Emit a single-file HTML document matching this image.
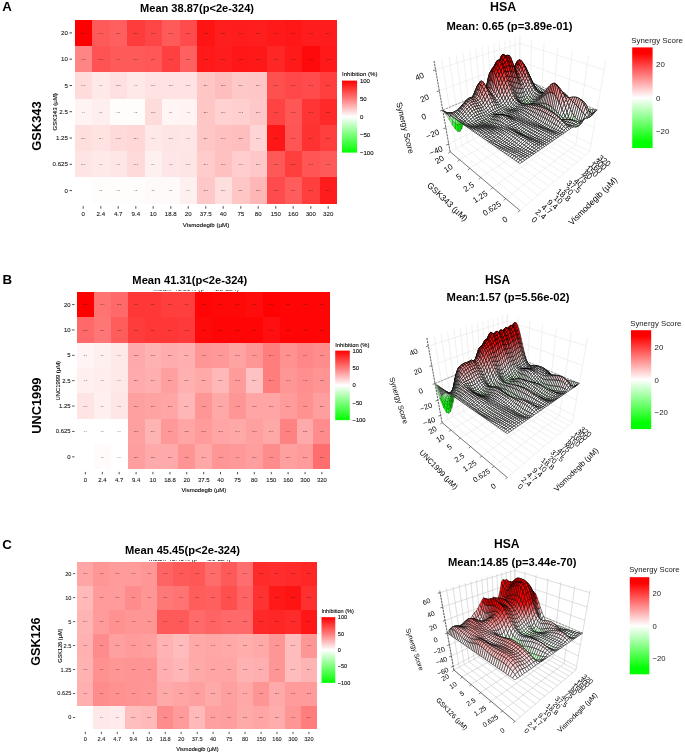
<!DOCTYPE html>
<html><head><meta charset="utf-8"><title>Figure</title>
<style>html,body{margin:0;padding:0;background:#fff}svg{display:block}</style></head>
<body>
<svg width="685" height="755" viewBox="0 0 685 755" font-family="'Liberation Sans',Arial,sans-serif">
<defs>
<linearGradient id="gI" x1="0" y1="0" x2="0" y2="1"><stop offset="0" stop-color="#f00"/><stop offset=".25" stop-color="#ff7a7a"/><stop offset=".5" stop-color="#fff"/><stop offset=".75" stop-color="#7aff7a"/><stop offset="1" stop-color="#0f0"/></linearGradient>
<linearGradient id="gS" x1="0" y1="0" x2="0" y2="1"><stop offset="0" stop-color="#f00"/><stop offset=".06" stop-color="#f00"/><stop offset=".5" stop-color="#fff"/><stop offset=".94" stop-color="#0f0"/><stop offset="1" stop-color="#0f0"/></linearGradient>
</defs>
<rect width="685" height="755" fill="#fff"/>
<text x="2.2" y="10.9" font-size="13.3" font-weight="bold" fill="#000">A</text>
<text x="2.4" y="284.0" font-size="13.3" font-weight="bold" fill="#000">B</text>
<text x="2.2" y="549.0" font-size="13.3" font-weight="bold" fill="#000">C</text>
<g><text x="196" y="291.2" font-size="6.7" text-anchor="middle" fill="#000">Mean: 41.31% (p = &lt;2e-324)</text><rect x="126" y="281.6" width="140" height="8.6" fill="#fff"/></g>
<g><text x="189.5" y="561.0" font-size="6.4" text-anchor="middle" fill="#000">Mean: 45.45% (p = &lt;2e-324)</text><rect x="119.5" y="551.4" width="140" height="8.6" fill="#fff"/></g>
<g transform="translate(206.00 111.75) scale(1) translate(-206 -111.75)">
<g shape-rendering="crispEdges">
<rect x="74.50" y="19.80" width="17.80" height="26.57" fill="#ff0000"/>
<rect x="92.00" y="19.80" width="17.80" height="26.57" fill="#ff5a5a"/>
<rect x="109.50" y="19.80" width="17.80" height="26.57" fill="#ff5f5f"/>
<rect x="127.00" y="19.80" width="17.80" height="26.57" fill="#ff3c3c"/>
<rect x="144.50" y="19.80" width="17.80" height="26.57" fill="#ff4646"/>
<rect x="162.00" y="19.80" width="17.80" height="26.57" fill="#ff5a5a"/>
<rect x="179.50" y="19.80" width="17.80" height="26.57" fill="#ff4b4b"/>
<rect x="197.00" y="19.80" width="17.80" height="26.57" fill="#ff1414"/>
<rect x="214.50" y="19.80" width="17.80" height="26.57" fill="#ff1e1e"/>
<rect x="232.00" y="19.80" width="17.80" height="26.57" fill="#ff1c1c"/>
<rect x="249.50" y="19.80" width="17.80" height="26.57" fill="#ff1e1e"/>
<rect x="267.00" y="19.80" width="17.80" height="26.57" fill="#ff1919"/>
<rect x="284.50" y="19.80" width="17.80" height="26.57" fill="#ff1616"/>
<rect x="302.00" y="19.80" width="17.80" height="26.57" fill="#ff1c1c"/>
<rect x="319.50" y="19.80" width="17.50" height="26.57" fill="#ff1c1c"/>
<rect x="74.50" y="46.07" width="17.80" height="26.57" fill="#ff8484"/>
<rect x="92.00" y="46.07" width="17.80" height="26.57" fill="#ff5252"/>
<rect x="109.50" y="46.07" width="17.80" height="26.57" fill="#ff5a5a"/>
<rect x="127.00" y="46.07" width="17.80" height="26.57" fill="#ff5a5a"/>
<rect x="144.50" y="46.07" width="17.80" height="26.57" fill="#ff5757"/>
<rect x="162.00" y="46.07" width="17.80" height="26.57" fill="#ff4040"/>
<rect x="179.50" y="46.07" width="17.80" height="26.57" fill="#ff6161"/>
<rect x="197.00" y="46.07" width="17.80" height="26.57" fill="#ff1919"/>
<rect x="214.50" y="46.07" width="17.80" height="26.57" fill="#ff1c1c"/>
<rect x="232.00" y="46.07" width="17.80" height="26.57" fill="#ff1616"/>
<rect x="249.50" y="46.07" width="17.80" height="26.57" fill="#ff1818"/>
<rect x="267.00" y="46.07" width="17.80" height="26.57" fill="#ff2626"/>
<rect x="284.50" y="46.07" width="17.80" height="26.57" fill="#ff1919"/>
<rect x="302.00" y="46.07" width="17.80" height="26.57" fill="#ff0a0a"/>
<rect x="319.50" y="46.07" width="17.50" height="26.57" fill="#ff1919"/>
<rect x="74.50" y="72.34" width="17.80" height="26.57" fill="#ffdbdb"/>
<rect x="92.00" y="72.34" width="17.80" height="26.57" fill="#ffe8e8"/>
<rect x="109.50" y="72.34" width="17.80" height="26.57" fill="#ffe0e0"/>
<rect x="127.00" y="72.34" width="17.80" height="26.57" fill="#ffe8e8"/>
<rect x="144.50" y="72.34" width="17.80" height="26.57" fill="#ffe3e3"/>
<rect x="162.00" y="72.34" width="17.80" height="26.57" fill="#ffe3e3"/>
<rect x="179.50" y="72.34" width="17.80" height="26.57" fill="#ffe3e3"/>
<rect x="197.00" y="72.34" width="17.80" height="26.57" fill="#ffc6c6"/>
<rect x="214.50" y="72.34" width="17.80" height="26.57" fill="#ffbebe"/>
<rect x="232.00" y="72.34" width="17.80" height="26.57" fill="#ffc8c8"/>
<rect x="249.50" y="72.34" width="17.80" height="26.57" fill="#ffc6c6"/>
<rect x="267.00" y="72.34" width="17.80" height="26.57" fill="#ff5050"/>
<rect x="284.50" y="72.34" width="17.80" height="26.57" fill="#ff4848"/>
<rect x="302.00" y="72.34" width="17.80" height="26.57" fill="#ff4b4b"/>
<rect x="319.50" y="72.34" width="17.50" height="26.57" fill="#ff3e3e"/>
<rect x="74.50" y="98.61" width="17.80" height="26.57" fill="#fff3f3"/>
<rect x="92.00" y="98.61" width="17.80" height="26.57" fill="#ffeeee"/>
<rect x="109.50" y="98.61" width="17.80" height="26.57" fill="#fffcfc"/>
<rect x="127.00" y="98.61" width="17.80" height="26.57" fill="#fffcfc"/>
<rect x="144.50" y="98.61" width="17.80" height="26.57" fill="#ffdcdc"/>
<rect x="162.00" y="98.61" width="17.80" height="26.57" fill="#fff5f5"/>
<rect x="179.50" y="98.61" width="17.80" height="26.57" fill="#fff3f3"/>
<rect x="197.00" y="98.61" width="17.80" height="26.57" fill="#ffc6c6"/>
<rect x="214.50" y="98.61" width="17.80" height="26.57" fill="#ffd1d1"/>
<rect x="232.00" y="98.61" width="17.80" height="26.57" fill="#ffcece"/>
<rect x="249.50" y="98.61" width="17.80" height="26.57" fill="#ffc8c8"/>
<rect x="267.00" y="98.61" width="17.80" height="26.57" fill="#ff4242"/>
<rect x="284.50" y="98.61" width="17.80" height="26.57" fill="#ff5656"/>
<rect x="302.00" y="98.61" width="17.80" height="26.57" fill="#ff3434"/>
<rect x="319.50" y="98.61" width="17.50" height="26.57" fill="#ff2929"/>
<rect x="74.50" y="124.88" width="17.80" height="26.57" fill="#ffdede"/>
<rect x="92.00" y="124.88" width="17.80" height="26.57" fill="#ffe2e2"/>
<rect x="109.50" y="124.88" width="17.80" height="26.57" fill="#ffdada"/>
<rect x="127.00" y="124.88" width="17.80" height="26.57" fill="#ffd7d7"/>
<rect x="144.50" y="124.88" width="17.80" height="26.57" fill="#ffe8e8"/>
<rect x="162.00" y="124.88" width="17.80" height="26.57" fill="#ffe4e4"/>
<rect x="179.50" y="124.88" width="17.80" height="26.57" fill="#ffe6e6"/>
<rect x="197.00" y="124.88" width="17.80" height="26.57" fill="#ffc6c6"/>
<rect x="214.50" y="124.88" width="17.80" height="26.57" fill="#ffc0c0"/>
<rect x="232.00" y="124.88" width="17.80" height="26.57" fill="#ffbebe"/>
<rect x="249.50" y="124.88" width="17.80" height="26.57" fill="#ffd4d4"/>
<rect x="267.00" y="124.88" width="17.80" height="26.57" fill="#ff1616"/>
<rect x="284.50" y="124.88" width="17.80" height="26.57" fill="#ff5555"/>
<rect x="302.00" y="124.88" width="17.80" height="26.57" fill="#ff3232"/>
<rect x="319.50" y="124.88" width="17.50" height="26.57" fill="#ff3e3e"/>
<rect x="74.50" y="151.15" width="17.80" height="26.57" fill="#ffe4e4"/>
<rect x="92.00" y="151.15" width="17.80" height="26.57" fill="#ffe8e8"/>
<rect x="109.50" y="151.15" width="17.80" height="26.57" fill="#ffe6e6"/>
<rect x="127.00" y="151.15" width="17.80" height="26.57" fill="#ffdada"/>
<rect x="144.50" y="151.15" width="17.80" height="26.57" fill="#fff0f0"/>
<rect x="162.00" y="151.15" width="17.80" height="26.57" fill="#ffe6e6"/>
<rect x="179.50" y="151.15" width="17.80" height="26.57" fill="#ffe4e4"/>
<rect x="197.00" y="151.15" width="17.80" height="26.57" fill="#ffcbcb"/>
<rect x="214.50" y="151.15" width="17.80" height="26.57" fill="#ffc0c0"/>
<rect x="232.00" y="151.15" width="17.80" height="26.57" fill="#ffcdcd"/>
<rect x="249.50" y="151.15" width="17.80" height="26.57" fill="#ffc8c8"/>
<rect x="267.00" y="151.15" width="17.80" height="26.57" fill="#ff5858"/>
<rect x="284.50" y="151.15" width="17.80" height="26.57" fill="#ff3e3e"/>
<rect x="302.00" y="151.15" width="17.80" height="26.57" fill="#ff5555"/>
<rect x="319.50" y="151.15" width="17.50" height="26.57" fill="#ff5a5a"/>
<rect x="74.50" y="177.42" width="17.80" height="26.27" fill="#ffffff"/>
<rect x="92.00" y="177.42" width="17.80" height="26.27" fill="#fffcfc"/>
<rect x="109.50" y="177.42" width="17.80" height="26.27" fill="#fffcfc"/>
<rect x="127.00" y="177.42" width="17.80" height="26.27" fill="#fffcfc"/>
<rect x="144.50" y="177.42" width="17.80" height="26.27" fill="#fffafa"/>
<rect x="162.00" y="177.42" width="17.80" height="26.27" fill="#fffafa"/>
<rect x="179.50" y="177.42" width="17.80" height="26.27" fill="#fff0f0"/>
<rect x="197.00" y="177.42" width="17.80" height="26.27" fill="#ffc8c8"/>
<rect x="214.50" y="177.42" width="17.80" height="26.27" fill="#ffdede"/>
<rect x="232.00" y="177.42" width="17.80" height="26.27" fill="#ffc6c6"/>
<rect x="249.50" y="177.42" width="17.80" height="26.27" fill="#ffb6b6"/>
<rect x="267.00" y="177.42" width="17.80" height="26.27" fill="#ff4b4b"/>
<rect x="284.50" y="177.42" width="17.80" height="26.27" fill="#ff5c5c"/>
<rect x="302.00" y="177.42" width="17.80" height="26.27" fill="#ff3e3e"/>
<rect x="319.50" y="177.42" width="17.50" height="26.27" fill="#ff1c1c"/>
</g>
<g font-size="2.3" text-anchor="middle" fill="#222" fill-opacity=".8">
<text x="83.2" y="33.7">100.0</text>
<text x="100.8" y="33.7">64.7</text>
<text x="118.2" y="33.7">62.7</text>
<text x="135.8" y="33.7">76.5</text>
<text x="153.2" y="33.7">72.5</text>
<text x="170.8" y="33.7">64.7</text>
<text x="188.2" y="33.7">70.6</text>
<text x="205.8" y="33.7">92.2</text>
<text x="223.2" y="33.7">88.2</text>
<text x="240.8" y="33.7">89.0</text>
<text x="258.2" y="33.7">88.2</text>
<text x="275.8" y="33.7">90.2</text>
<text x="293.2" y="33.7">91.4</text>
<text x="310.8" y="33.7">89.0</text>
<text x="328.2" y="33.7">89.0</text>
<text x="83.2" y="60.0">48.2</text>
<text x="100.8" y="60.0">67.8</text>
<text x="118.2" y="60.0">64.7</text>
<text x="135.8" y="60.0">64.7</text>
<text x="153.2" y="60.0">65.9</text>
<text x="170.8" y="60.0">74.9</text>
<text x="188.2" y="60.0">62.0</text>
<text x="205.8" y="60.0">90.2</text>
<text x="223.2" y="60.0">89.0</text>
<text x="240.8" y="60.0">91.4</text>
<text x="258.2" y="60.0">90.6</text>
<text x="275.8" y="60.0">85.1</text>
<text x="293.2" y="60.0">90.2</text>
<text x="310.8" y="60.0">96.1</text>
<text x="328.2" y="60.0">90.2</text>
<text x="83.2" y="86.3">14.1</text>
<text x="100.8" y="86.3">9.0</text>
<text x="118.2" y="86.3">12.2</text>
<text x="135.8" y="86.3">9.0</text>
<text x="153.2" y="86.3">11.0</text>
<text x="170.8" y="86.3">11.0</text>
<text x="188.2" y="86.3">11.0</text>
<text x="205.8" y="86.3">22.4</text>
<text x="223.2" y="86.3">25.5</text>
<text x="240.8" y="86.3">21.6</text>
<text x="258.2" y="86.3">22.4</text>
<text x="275.8" y="86.3">68.6</text>
<text x="293.2" y="86.3">71.8</text>
<text x="310.8" y="86.3">70.6</text>
<text x="328.2" y="86.3">75.7</text>
<text x="83.2" y="112.5">4.7</text>
<text x="100.8" y="112.5">6.7</text>
<text x="118.2" y="112.5">1.2</text>
<text x="135.8" y="112.5">1.2</text>
<text x="153.2" y="112.5">13.7</text>
<text x="170.8" y="112.5">3.9</text>
<text x="188.2" y="112.5">4.7</text>
<text x="205.8" y="112.5">22.4</text>
<text x="223.2" y="112.5">18.0</text>
<text x="240.8" y="112.5">19.2</text>
<text x="258.2" y="112.5">21.6</text>
<text x="275.8" y="112.5">74.1</text>
<text x="293.2" y="112.5">66.3</text>
<text x="310.8" y="112.5">79.6</text>
<text x="328.2" y="112.5">83.9</text>
<text x="83.2" y="138.8">12.9</text>
<text x="100.8" y="138.8">11.4</text>
<text x="118.2" y="138.8">14.5</text>
<text x="135.8" y="138.8">15.7</text>
<text x="153.2" y="138.8">9.0</text>
<text x="170.8" y="138.8">10.6</text>
<text x="188.2" y="138.8">9.8</text>
<text x="205.8" y="138.8">22.4</text>
<text x="223.2" y="138.8">24.7</text>
<text x="240.8" y="138.8">25.5</text>
<text x="258.2" y="138.8">16.9</text>
<text x="275.8" y="138.8">91.4</text>
<text x="293.2" y="138.8">66.7</text>
<text x="310.8" y="138.8">80.4</text>
<text x="328.2" y="138.8">75.7</text>
<text x="83.2" y="165.1">10.6</text>
<text x="100.8" y="165.1">9.0</text>
<text x="118.2" y="165.1">9.8</text>
<text x="135.8" y="165.1">14.5</text>
<text x="153.2" y="165.1">5.9</text>
<text x="170.8" y="165.1">9.8</text>
<text x="188.2" y="165.1">10.6</text>
<text x="205.8" y="165.1">20.4</text>
<text x="223.2" y="165.1">24.7</text>
<text x="240.8" y="165.1">19.6</text>
<text x="258.2" y="165.1">21.6</text>
<text x="275.8" y="165.1">65.5</text>
<text x="293.2" y="165.1">75.7</text>
<text x="310.8" y="165.1">66.7</text>
<text x="328.2" y="165.1">64.7</text>
<text x="100.8" y="191.4">1.2</text>
<text x="118.2" y="191.4">1.2</text>
<text x="135.8" y="191.4">1.2</text>
<text x="153.2" y="191.4">2.0</text>
<text x="170.8" y="191.4">2.0</text>
<text x="188.2" y="191.4">5.9</text>
<text x="205.8" y="191.4">21.6</text>
<text x="223.2" y="191.4">12.9</text>
<text x="240.8" y="191.4">22.4</text>
<text x="258.2" y="191.4">28.6</text>
<text x="275.8" y="191.4">70.6</text>
<text x="293.2" y="191.4">63.9</text>
<text x="310.8" y="191.4">75.7</text>
<text x="328.2" y="191.4">89.0</text>
</g>
<g font-size="6.15" fill="#1a1a1a" stroke="#1a1a1a" stroke-width=".1">
<text x="67.9" y="35.1" text-anchor="end">20</text>
<path d="M69.5 32.9H72" stroke="#111" stroke-width=".75"/>
<text x="67.9" y="61.4" text-anchor="end">10</text>
<path d="M69.5 59.2H72" stroke="#111" stroke-width=".75"/>
<text x="67.9" y="87.6" text-anchor="end">5</text>
<path d="M69.5 85.5H72" stroke="#111" stroke-width=".75"/>
<text x="67.9" y="113.9" text-anchor="end">2.5</text>
<path d="M69.5 111.7H72" stroke="#111" stroke-width=".75"/>
<text x="67.9" y="140.2" text-anchor="end">1.25</text>
<path d="M69.5 138.0H72" stroke="#111" stroke-width=".75"/>
<text x="67.9" y="166.4" text-anchor="end">0.625</text>
<path d="M69.5 164.3H72" stroke="#111" stroke-width=".75"/>
<text x="67.9" y="192.7" text-anchor="end">0</text>
<path d="M69.5 190.6H72" stroke="#111" stroke-width=".75"/>
<text x="83.2" y="216.3" text-anchor="middle">0</text>
<path d="M83.2 206.2V208.7" stroke="#111" stroke-width=".75"/>
<text x="100.8" y="216.3" text-anchor="middle">2.4</text>
<path d="M100.8 206.2V208.7" stroke="#111" stroke-width=".75"/>
<text x="118.2" y="216.3" text-anchor="middle">4.7</text>
<path d="M118.2 206.2V208.7" stroke="#111" stroke-width=".75"/>
<text x="135.8" y="216.3" text-anchor="middle">9.4</text>
<path d="M135.8 206.2V208.7" stroke="#111" stroke-width=".75"/>
<text x="153.2" y="216.3" text-anchor="middle">10</text>
<path d="M153.2 206.2V208.7" stroke="#111" stroke-width=".75"/>
<text x="170.8" y="216.3" text-anchor="middle">18.8</text>
<path d="M170.8 206.2V208.7" stroke="#111" stroke-width=".75"/>
<text x="188.2" y="216.3" text-anchor="middle">20</text>
<path d="M188.2 206.2V208.7" stroke="#111" stroke-width=".75"/>
<text x="205.8" y="216.3" text-anchor="middle">37.5</text>
<path d="M205.8 206.2V208.7" stroke="#111" stroke-width=".75"/>
<text x="223.2" y="216.3" text-anchor="middle">40</text>
<path d="M223.2 206.2V208.7" stroke="#111" stroke-width=".75"/>
<text x="240.8" y="216.3" text-anchor="middle">75</text>
<path d="M240.8 206.2V208.7" stroke="#111" stroke-width=".75"/>
<text x="258.2" y="216.3" text-anchor="middle">80</text>
<path d="M258.2 206.2V208.7" stroke="#111" stroke-width=".75"/>
<text x="275.8" y="216.3" text-anchor="middle">150</text>
<path d="M275.8 206.2V208.7" stroke="#111" stroke-width=".75"/>
<text x="293.2" y="216.3" text-anchor="middle">160</text>
<path d="M293.2 206.2V208.7" stroke="#111" stroke-width=".75"/>
<text x="310.8" y="216.3" text-anchor="middle">300</text>
<path d="M310.8 206.2V208.7" stroke="#111" stroke-width=".75"/>
<text x="328.2" y="216.3" text-anchor="middle">320</text>
<path d="M328.2 206.2V208.7" stroke="#111" stroke-width=".75"/>
</g>
<text x="206.0" y="227.3" font-size="6.15" text-anchor="middle" fill="#000" stroke="#000" stroke-width=".1">Vismodegib (µM)</text>
<text x="57.4" y="111.8" font-size="6.1" text-anchor="middle" fill="#000" transform="rotate(-90 57.4 111.8)" stroke="#000" stroke-width=".1">GSK343 (µM)</text>
<text x="342.0" y="76.4" font-size="6.1" fill="#000" stroke="#000" stroke-width=".1">Inhibition (%)</text>
<rect x="342" y="80.6" width="15.1" height="72" fill="url(#gI)"/>
<text x="359.9" y="82.8" font-size="6.05" fill="#000" stroke="#000" stroke-width=".1">100</text>
<text x="359.9" y="100.8" font-size="6.05" fill="#000" stroke="#000" stroke-width=".1">50</text>
<text x="359.9" y="118.8" font-size="6.05" fill="#000" stroke="#000" stroke-width=".1">0</text>
<text x="359.9" y="136.8" font-size="6.05" fill="#000" stroke="#000" stroke-width=".1">−50</text>
<text x="359.9" y="154.8" font-size="6.05" fill="#000" stroke="#000" stroke-width=".1">−100</text>
</g>
<g transform="translate(203.90 380.70) scale(0.9655) translate(-206 -111.75)">
<g shape-rendering="crispEdges">
<rect x="74.50" y="19.80" width="17.80" height="26.57" fill="#ff0000"/>
<rect x="92.00" y="19.80" width="17.80" height="26.57" fill="#ff7373"/>
<rect x="109.50" y="19.80" width="17.80" height="26.57" fill="#ff6969"/>
<rect x="127.00" y="19.80" width="17.80" height="26.57" fill="#ff3737"/>
<rect x="144.50" y="19.80" width="17.80" height="26.57" fill="#ff3737"/>
<rect x="162.00" y="19.80" width="17.80" height="26.57" fill="#ff3e3e"/>
<rect x="179.50" y="19.80" width="17.80" height="26.57" fill="#ff3e3e"/>
<rect x="197.00" y="19.80" width="17.80" height="26.57" fill="#ff0505"/>
<rect x="214.50" y="19.80" width="17.80" height="26.57" fill="#ff0808"/>
<rect x="232.00" y="19.80" width="17.80" height="26.57" fill="#ff0808"/>
<rect x="249.50" y="19.80" width="17.80" height="26.57" fill="#ff0c0c"/>
<rect x="267.00" y="19.80" width="17.80" height="26.57" fill="#ff0303"/>
<rect x="284.50" y="19.80" width="17.80" height="26.57" fill="#ff0505"/>
<rect x="302.00" y="19.80" width="17.80" height="26.57" fill="#ff0505"/>
<rect x="319.50" y="19.80" width="17.50" height="26.57" fill="#ff0505"/>
<rect x="74.50" y="46.07" width="17.80" height="26.57" fill="#ff6969"/>
<rect x="92.00" y="46.07" width="17.80" height="26.57" fill="#ff7676"/>
<rect x="109.50" y="46.07" width="17.80" height="26.57" fill="#ff5c5c"/>
<rect x="127.00" y="46.07" width="17.80" height="26.57" fill="#ff3c3c"/>
<rect x="144.50" y="46.07" width="17.80" height="26.57" fill="#ff3737"/>
<rect x="162.00" y="46.07" width="17.80" height="26.57" fill="#ff3737"/>
<rect x="179.50" y="46.07" width="17.80" height="26.57" fill="#ff3a3a"/>
<rect x="197.00" y="46.07" width="17.80" height="26.57" fill="#ff0a0a"/>
<rect x="214.50" y="46.07" width="17.80" height="26.57" fill="#ff0505"/>
<rect x="232.00" y="46.07" width="17.80" height="26.57" fill="#ff0505"/>
<rect x="249.50" y="46.07" width="17.80" height="26.57" fill="#ff0505"/>
<rect x="267.00" y="46.07" width="17.80" height="26.57" fill="#ff0f0f"/>
<rect x="284.50" y="46.07" width="17.80" height="26.57" fill="#ff0505"/>
<rect x="302.00" y="46.07" width="17.80" height="26.57" fill="#ff0505"/>
<rect x="319.50" y="46.07" width="17.50" height="26.57" fill="#ff0505"/>
<rect x="74.50" y="72.34" width="17.80" height="26.57" fill="#fff5f5"/>
<rect x="92.00" y="72.34" width="17.80" height="26.57" fill="#fff0f0"/>
<rect x="109.50" y="72.34" width="17.80" height="26.57" fill="#ffe8e8"/>
<rect x="127.00" y="72.34" width="17.80" height="26.57" fill="#ffaaaa"/>
<rect x="144.50" y="72.34" width="17.80" height="26.57" fill="#ffb2b2"/>
<rect x="162.00" y="72.34" width="17.80" height="26.57" fill="#ffacac"/>
<rect x="179.50" y="72.34" width="17.80" height="26.57" fill="#ffafaf"/>
<rect x="197.00" y="72.34" width="17.80" height="26.57" fill="#ff9696"/>
<rect x="214.50" y="72.34" width="17.80" height="26.57" fill="#ff9898"/>
<rect x="232.00" y="72.34" width="17.80" height="26.57" fill="#ffa2a2"/>
<rect x="249.50" y="72.34" width="17.80" height="26.57" fill="#ff9696"/>
<rect x="267.00" y="72.34" width="17.80" height="26.57" fill="#ff7d7d"/>
<rect x="284.50" y="72.34" width="17.80" height="26.57" fill="#ff9191"/>
<rect x="302.00" y="72.34" width="17.80" height="26.57" fill="#ff8787"/>
<rect x="319.50" y="72.34" width="17.50" height="26.57" fill="#ff8c8c"/>
<rect x="74.50" y="98.61" width="17.80" height="26.57" fill="#ffefef"/>
<rect x="92.00" y="98.61" width="17.80" height="26.57" fill="#ffeded"/>
<rect x="109.50" y="98.61" width="17.80" height="26.57" fill="#ffe8e8"/>
<rect x="127.00" y="98.61" width="17.80" height="26.57" fill="#ffabab"/>
<rect x="144.50" y="98.61" width="17.80" height="26.57" fill="#ffafaf"/>
<rect x="162.00" y="98.61" width="17.80" height="26.57" fill="#ff9f9f"/>
<rect x="179.50" y="98.61" width="17.80" height="26.57" fill="#ffb0b0"/>
<rect x="197.00" y="98.61" width="17.80" height="26.57" fill="#ffa9a9"/>
<rect x="214.50" y="98.61" width="17.80" height="26.57" fill="#ffb8b8"/>
<rect x="232.00" y="98.61" width="17.80" height="26.57" fill="#ff9b9b"/>
<rect x="249.50" y="98.61" width="17.80" height="26.57" fill="#ffc2c2"/>
<rect x="267.00" y="98.61" width="17.80" height="26.57" fill="#ff7d7d"/>
<rect x="284.50" y="98.61" width="17.80" height="26.57" fill="#ff9696"/>
<rect x="302.00" y="98.61" width="17.80" height="26.57" fill="#ff8e8e"/>
<rect x="319.50" y="98.61" width="17.50" height="26.57" fill="#ff9494"/>
<rect x="74.50" y="124.88" width="17.80" height="26.57" fill="#ffe4e4"/>
<rect x="92.00" y="124.88" width="17.80" height="26.57" fill="#fff0f0"/>
<rect x="109.50" y="124.88" width="17.80" height="26.57" fill="#ffe6e6"/>
<rect x="127.00" y="124.88" width="17.80" height="26.57" fill="#ffa0a0"/>
<rect x="144.50" y="124.88" width="17.80" height="26.57" fill="#ffa2a2"/>
<rect x="162.00" y="124.88" width="17.80" height="26.57" fill="#ffa5a5"/>
<rect x="179.50" y="124.88" width="17.80" height="26.57" fill="#ffb6b6"/>
<rect x="197.00" y="124.88" width="17.80" height="26.57" fill="#ff9696"/>
<rect x="214.50" y="124.88" width="17.80" height="26.57" fill="#ffa8a8"/>
<rect x="232.00" y="124.88" width="17.80" height="26.57" fill="#ff9696"/>
<rect x="249.50" y="124.88" width="17.80" height="26.57" fill="#ffa5a5"/>
<rect x="267.00" y="124.88" width="17.80" height="26.57" fill="#ffa5a5"/>
<rect x="284.50" y="124.88" width="17.80" height="26.57" fill="#ff9b9b"/>
<rect x="302.00" y="124.88" width="17.80" height="26.57" fill="#ff9191"/>
<rect x="319.50" y="124.88" width="17.50" height="26.57" fill="#ff9e9e"/>
<rect x="74.50" y="151.15" width="17.80" height="26.57" fill="#ffffff"/>
<rect x="92.00" y="151.15" width="17.80" height="26.57" fill="#ffffff"/>
<rect x="109.50" y="151.15" width="17.80" height="26.57" fill="#ffffff"/>
<rect x="127.00" y="151.15" width="17.80" height="26.57" fill="#ffa0a0"/>
<rect x="144.50" y="151.15" width="17.80" height="26.57" fill="#ffb4b4"/>
<rect x="162.00" y="151.15" width="17.80" height="26.57" fill="#ff9898"/>
<rect x="179.50" y="151.15" width="17.80" height="26.57" fill="#ffa5a5"/>
<rect x="197.00" y="151.15" width="17.80" height="26.57" fill="#ff9b9b"/>
<rect x="214.50" y="151.15" width="17.80" height="26.57" fill="#ffa5a5"/>
<rect x="232.00" y="151.15" width="17.80" height="26.57" fill="#ffa8a8"/>
<rect x="249.50" y="151.15" width="17.80" height="26.57" fill="#ffa0a0"/>
<rect x="267.00" y="151.15" width="17.80" height="26.57" fill="#ffa8a8"/>
<rect x="284.50" y="151.15" width="17.80" height="26.57" fill="#ff8282"/>
<rect x="302.00" y="151.15" width="17.80" height="26.57" fill="#ffaaaa"/>
<rect x="319.50" y="151.15" width="17.50" height="26.57" fill="#ff8c8c"/>
<rect x="74.50" y="177.42" width="17.80" height="26.27" fill="#ffffff"/>
<rect x="92.00" y="177.42" width="17.80" height="26.27" fill="#fffbfb"/>
<rect x="109.50" y="177.42" width="17.80" height="26.27" fill="#ffffff"/>
<rect x="127.00" y="177.42" width="17.80" height="26.27" fill="#ff9e9e"/>
<rect x="144.50" y="177.42" width="17.80" height="26.27" fill="#ffaaaa"/>
<rect x="162.00" y="177.42" width="17.80" height="26.27" fill="#ffaaaa"/>
<rect x="179.50" y="177.42" width="17.80" height="26.27" fill="#ff9494"/>
<rect x="197.00" y="177.42" width="17.80" height="26.27" fill="#ffa8a8"/>
<rect x="214.50" y="177.42" width="17.80" height="26.27" fill="#ff9696"/>
<rect x="232.00" y="177.42" width="17.80" height="26.27" fill="#ff9898"/>
<rect x="249.50" y="177.42" width="17.80" height="26.27" fill="#ff9e9e"/>
<rect x="267.00" y="177.42" width="17.80" height="26.27" fill="#ff8c8c"/>
<rect x="284.50" y="177.42" width="17.80" height="26.27" fill="#ffa0a0"/>
<rect x="302.00" y="177.42" width="17.80" height="26.27" fill="#ff9b9b"/>
<rect x="319.50" y="177.42" width="17.50" height="26.27" fill="#ff6e6e"/>
</g>
<g font-size="2.3" text-anchor="middle" fill="#222" fill-opacity=".8">
<text x="83.2" y="33.7">100.0</text>
<text x="100.8" y="33.7">54.9</text>
<text x="118.2" y="33.7">58.8</text>
<text x="135.8" y="33.7">78.4</text>
<text x="153.2" y="33.7">78.4</text>
<text x="170.8" y="33.7">75.7</text>
<text x="188.2" y="33.7">75.7</text>
<text x="205.8" y="33.7">98.0</text>
<text x="223.2" y="33.7">96.9</text>
<text x="240.8" y="33.7">96.9</text>
<text x="258.2" y="33.7">95.3</text>
<text x="275.8" y="33.7">98.8</text>
<text x="293.2" y="33.7">98.0</text>
<text x="310.8" y="33.7">98.0</text>
<text x="328.2" y="33.7">98.0</text>
<text x="83.2" y="60.0">58.8</text>
<text x="100.8" y="60.0">53.7</text>
<text x="118.2" y="60.0">63.9</text>
<text x="135.8" y="60.0">76.5</text>
<text x="153.2" y="60.0">78.4</text>
<text x="170.8" y="60.0">78.4</text>
<text x="188.2" y="60.0">77.3</text>
<text x="205.8" y="60.0">96.1</text>
<text x="223.2" y="60.0">98.0</text>
<text x="240.8" y="60.0">98.0</text>
<text x="258.2" y="60.0">98.0</text>
<text x="275.8" y="60.0">94.1</text>
<text x="293.2" y="60.0">98.0</text>
<text x="310.8" y="60.0">98.0</text>
<text x="328.2" y="60.0">98.0</text>
<text x="83.2" y="86.3">3.9</text>
<text x="100.8" y="86.3">5.9</text>
<text x="118.2" y="86.3">9.0</text>
<text x="135.8" y="86.3">33.3</text>
<text x="153.2" y="86.3">30.2</text>
<text x="170.8" y="86.3">32.5</text>
<text x="188.2" y="86.3">31.4</text>
<text x="205.8" y="86.3">41.2</text>
<text x="223.2" y="86.3">40.4</text>
<text x="240.8" y="86.3">36.5</text>
<text x="258.2" y="86.3">41.2</text>
<text x="275.8" y="86.3">51.0</text>
<text x="293.2" y="86.3">43.1</text>
<text x="310.8" y="86.3">47.1</text>
<text x="328.2" y="86.3">45.1</text>
<text x="83.2" y="112.5">6.3</text>
<text x="100.8" y="112.5">7.1</text>
<text x="118.2" y="112.5">9.0</text>
<text x="135.8" y="112.5">32.9</text>
<text x="153.2" y="112.5">31.4</text>
<text x="170.8" y="112.5">37.6</text>
<text x="188.2" y="112.5">31.0</text>
<text x="205.8" y="112.5">33.7</text>
<text x="223.2" y="112.5">27.8</text>
<text x="240.8" y="112.5">39.2</text>
<text x="258.2" y="112.5">23.9</text>
<text x="275.8" y="112.5">51.0</text>
<text x="293.2" y="112.5">41.2</text>
<text x="310.8" y="112.5">44.3</text>
<text x="328.2" y="112.5">42.0</text>
<text x="83.2" y="138.8">10.6</text>
<text x="100.8" y="138.8">5.9</text>
<text x="118.2" y="138.8">9.8</text>
<text x="135.8" y="138.8">37.3</text>
<text x="153.2" y="138.8">36.5</text>
<text x="170.8" y="138.8">35.3</text>
<text x="188.2" y="138.8">28.6</text>
<text x="205.8" y="138.8">41.2</text>
<text x="223.2" y="138.8">34.1</text>
<text x="240.8" y="138.8">41.2</text>
<text x="258.2" y="138.8">35.3</text>
<text x="275.8" y="138.8">35.3</text>
<text x="293.2" y="138.8">39.2</text>
<text x="310.8" y="138.8">43.1</text>
<text x="328.2" y="138.8">38.0</text>
<text x="83.2" y="165.1">0.0</text>
<text x="100.8" y="165.1">0.0</text>
<text x="118.2" y="165.1">0.0</text>
<text x="135.8" y="165.1">37.3</text>
<text x="153.2" y="165.1">29.4</text>
<text x="170.8" y="165.1">40.4</text>
<text x="188.2" y="165.1">35.3</text>
<text x="205.8" y="165.1">39.2</text>
<text x="223.2" y="165.1">35.3</text>
<text x="240.8" y="165.1">34.1</text>
<text x="258.2" y="165.1">37.3</text>
<text x="275.8" y="165.1">34.1</text>
<text x="293.2" y="165.1">49.0</text>
<text x="310.8" y="165.1">33.3</text>
<text x="328.2" y="165.1">45.1</text>
<text x="100.8" y="191.4">1.6</text>
<text x="118.2" y="191.4">0.0</text>
<text x="135.8" y="191.4">38.0</text>
<text x="153.2" y="191.4">33.3</text>
<text x="170.8" y="191.4">33.3</text>
<text x="188.2" y="191.4">42.0</text>
<text x="205.8" y="191.4">34.1</text>
<text x="223.2" y="191.4">41.2</text>
<text x="240.8" y="191.4">40.4</text>
<text x="258.2" y="191.4">38.0</text>
<text x="275.8" y="191.4">45.1</text>
<text x="293.2" y="191.4">37.3</text>
<text x="310.8" y="191.4">39.2</text>
<text x="328.2" y="191.4">56.9</text>
</g>
<g font-size="6.15" fill="#1a1a1a" stroke="#1a1a1a" stroke-width=".1">
<text x="67.9" y="35.1" text-anchor="end">20</text>
<path d="M69.5 32.9H72" stroke="#111" stroke-width=".75"/>
<text x="67.9" y="61.4" text-anchor="end">10</text>
<path d="M69.5 59.2H72" stroke="#111" stroke-width=".75"/>
<text x="67.9" y="87.6" text-anchor="end">5</text>
<path d="M69.5 85.5H72" stroke="#111" stroke-width=".75"/>
<text x="67.9" y="113.9" text-anchor="end">2.5</text>
<path d="M69.5 111.7H72" stroke="#111" stroke-width=".75"/>
<text x="67.9" y="140.2" text-anchor="end">1.25</text>
<path d="M69.5 138.0H72" stroke="#111" stroke-width=".75"/>
<text x="67.9" y="166.4" text-anchor="end">0.625</text>
<path d="M69.5 164.3H72" stroke="#111" stroke-width=".75"/>
<text x="67.9" y="192.7" text-anchor="end">0</text>
<path d="M69.5 190.6H72" stroke="#111" stroke-width=".75"/>
<text x="83.2" y="216.3" text-anchor="middle">0</text>
<path d="M83.2 206.2V208.7" stroke="#111" stroke-width=".75"/>
<text x="100.8" y="216.3" text-anchor="middle">2.4</text>
<path d="M100.8 206.2V208.7" stroke="#111" stroke-width=".75"/>
<text x="118.2" y="216.3" text-anchor="middle">4.7</text>
<path d="M118.2 206.2V208.7" stroke="#111" stroke-width=".75"/>
<text x="135.8" y="216.3" text-anchor="middle">9.4</text>
<path d="M135.8 206.2V208.7" stroke="#111" stroke-width=".75"/>
<text x="153.2" y="216.3" text-anchor="middle">10</text>
<path d="M153.2 206.2V208.7" stroke="#111" stroke-width=".75"/>
<text x="170.8" y="216.3" text-anchor="middle">18.8</text>
<path d="M170.8 206.2V208.7" stroke="#111" stroke-width=".75"/>
<text x="188.2" y="216.3" text-anchor="middle">20</text>
<path d="M188.2 206.2V208.7" stroke="#111" stroke-width=".75"/>
<text x="205.8" y="216.3" text-anchor="middle">37.5</text>
<path d="M205.8 206.2V208.7" stroke="#111" stroke-width=".75"/>
<text x="223.2" y="216.3" text-anchor="middle">40</text>
<path d="M223.2 206.2V208.7" stroke="#111" stroke-width=".75"/>
<text x="240.8" y="216.3" text-anchor="middle">75</text>
<path d="M240.8 206.2V208.7" stroke="#111" stroke-width=".75"/>
<text x="258.2" y="216.3" text-anchor="middle">80</text>
<path d="M258.2 206.2V208.7" stroke="#111" stroke-width=".75"/>
<text x="275.8" y="216.3" text-anchor="middle">150</text>
<path d="M275.8 206.2V208.7" stroke="#111" stroke-width=".75"/>
<text x="293.2" y="216.3" text-anchor="middle">160</text>
<path d="M293.2 206.2V208.7" stroke="#111" stroke-width=".75"/>
<text x="310.8" y="216.3" text-anchor="middle">300</text>
<path d="M310.8 206.2V208.7" stroke="#111" stroke-width=".75"/>
<text x="328.2" y="216.3" text-anchor="middle">320</text>
<path d="M328.2 206.2V208.7" stroke="#111" stroke-width=".75"/>
</g>
<text x="206.0" y="227.3" font-size="6.15" text-anchor="middle" fill="#000" stroke="#000" stroke-width=".1">Vismodegib (µM)</text>
<text x="57.4" y="111.8" font-size="6.1" text-anchor="middle" fill="#000" transform="rotate(-90 57.4 111.8)" stroke="#000" stroke-width=".1">UNC1999 (µM)</text>
<text x="342.0" y="76.4" font-size="6.1" fill="#000" stroke="#000" stroke-width=".1">Inhibition (%)</text>
<rect x="342" y="80.6" width="15.1" height="72" fill="url(#gI)"/>
<text x="359.9" y="82.8" font-size="6.05" fill="#000" stroke="#000" stroke-width=".1">100</text>
<text x="359.9" y="100.8" font-size="6.05" fill="#000" stroke="#000" stroke-width=".1">50</text>
<text x="359.9" y="118.8" font-size="6.05" fill="#000" stroke="#000" stroke-width=".1">0</text>
<text x="359.9" y="136.8" font-size="6.05" fill="#000" stroke="#000" stroke-width=".1">−50</text>
<text x="359.9" y="154.8" font-size="6.05" fill="#000" stroke="#000" stroke-width=".1">−100</text>
</g>
<g transform="translate(197.40 645.60) scale(0.9125) translate(-206 -111.75)">
<g shape-rendering="crispEdges">
<rect x="74.50" y="19.80" width="17.80" height="26.57" fill="#ffa5a5"/>
<rect x="92.00" y="19.80" width="17.80" height="26.57" fill="#ff9696"/>
<rect x="109.50" y="19.80" width="17.80" height="26.57" fill="#ff9b9b"/>
<rect x="127.00" y="19.80" width="17.80" height="26.57" fill="#ff9b9b"/>
<rect x="144.50" y="19.80" width="17.80" height="26.57" fill="#ff9696"/>
<rect x="162.00" y="19.80" width="17.80" height="26.57" fill="#ff6464"/>
<rect x="179.50" y="19.80" width="17.80" height="26.57" fill="#ff5a5a"/>
<rect x="197.00" y="19.80" width="17.80" height="26.57" fill="#ff5656"/>
<rect x="214.50" y="19.80" width="17.80" height="26.57" fill="#ff6c6c"/>
<rect x="232.00" y="19.80" width="17.80" height="26.57" fill="#ff5a5a"/>
<rect x="249.50" y="19.80" width="17.80" height="26.57" fill="#ff6e6e"/>
<rect x="267.00" y="19.80" width="17.80" height="26.57" fill="#ff2a2a"/>
<rect x="284.50" y="19.80" width="17.80" height="26.57" fill="#ff2d2d"/>
<rect x="302.00" y="19.80" width="17.80" height="26.57" fill="#ff2a2a"/>
<rect x="319.50" y="19.80" width="17.50" height="26.57" fill="#ff2626"/>
<rect x="74.50" y="46.07" width="17.80" height="26.57" fill="#ffb9b9"/>
<rect x="92.00" y="46.07" width="17.80" height="26.57" fill="#ff9b9b"/>
<rect x="109.50" y="46.07" width="17.80" height="26.57" fill="#ff9b9b"/>
<rect x="127.00" y="46.07" width="17.80" height="26.57" fill="#ff8c8c"/>
<rect x="144.50" y="46.07" width="17.80" height="26.57" fill="#ff9696"/>
<rect x="162.00" y="46.07" width="17.80" height="26.57" fill="#ff7878"/>
<rect x="179.50" y="46.07" width="17.80" height="26.57" fill="#ff7373"/>
<rect x="197.00" y="46.07" width="17.80" height="26.57" fill="#ff5c5c"/>
<rect x="214.50" y="46.07" width="17.80" height="26.57" fill="#ff5f5f"/>
<rect x="232.00" y="46.07" width="17.80" height="26.57" fill="#ff4e4e"/>
<rect x="249.50" y="46.07" width="17.80" height="26.57" fill="#ff6464"/>
<rect x="267.00" y="46.07" width="17.80" height="26.57" fill="#ff3232"/>
<rect x="284.50" y="46.07" width="17.80" height="26.57" fill="#ff1919"/>
<rect x="302.00" y="46.07" width="17.80" height="26.57" fill="#ff1414"/>
<rect x="319.50" y="46.07" width="17.50" height="26.57" fill="#ff3030"/>
<rect x="74.50" y="72.34" width="17.80" height="26.57" fill="#ffb4b4"/>
<rect x="92.00" y="72.34" width="17.80" height="26.57" fill="#ff9b9b"/>
<rect x="109.50" y="72.34" width="17.80" height="26.57" fill="#ff9191"/>
<rect x="127.00" y="72.34" width="17.80" height="26.57" fill="#ff9696"/>
<rect x="144.50" y="72.34" width="17.80" height="26.57" fill="#ff9696"/>
<rect x="162.00" y="72.34" width="17.80" height="26.57" fill="#ff5a5a"/>
<rect x="179.50" y="72.34" width="17.80" height="26.57" fill="#ff5a5a"/>
<rect x="197.00" y="72.34" width="17.80" height="26.57" fill="#ff6a6a"/>
<rect x="214.50" y="72.34" width="17.80" height="26.57" fill="#ff6464"/>
<rect x="232.00" y="72.34" width="17.80" height="26.57" fill="#ff6969"/>
<rect x="249.50" y="72.34" width="17.80" height="26.57" fill="#ff6969"/>
<rect x="267.00" y="72.34" width="17.80" height="26.57" fill="#ff2828"/>
<rect x="284.50" y="72.34" width="17.80" height="26.57" fill="#ff2626"/>
<rect x="302.00" y="72.34" width="17.80" height="26.57" fill="#ff2a2a"/>
<rect x="319.50" y="72.34" width="17.50" height="26.57" fill="#ff1616"/>
<rect x="74.50" y="98.61" width="17.80" height="26.57" fill="#ffb1b1"/>
<rect x="92.00" y="98.61" width="17.80" height="26.57" fill="#ff8c8c"/>
<rect x="109.50" y="98.61" width="17.80" height="26.57" fill="#ffa0a0"/>
<rect x="127.00" y="98.61" width="17.80" height="26.57" fill="#ff9b9b"/>
<rect x="144.50" y="98.61" width="17.80" height="26.57" fill="#ff9e9e"/>
<rect x="162.00" y="98.61" width="17.80" height="26.57" fill="#ffb3b3"/>
<rect x="179.50" y="98.61" width="17.80" height="26.57" fill="#ffbcbc"/>
<rect x="197.00" y="98.61" width="17.80" height="26.57" fill="#ffa9a9"/>
<rect x="214.50" y="98.61" width="17.80" height="26.57" fill="#ffa7a7"/>
<rect x="232.00" y="98.61" width="17.80" height="26.57" fill="#ffa9a9"/>
<rect x="249.50" y="98.61" width="17.80" height="26.57" fill="#ffadad"/>
<rect x="267.00" y="98.61" width="17.80" height="26.57" fill="#ffa9a9"/>
<rect x="284.50" y="98.61" width="17.80" height="26.57" fill="#ff9696"/>
<rect x="302.00" y="98.61" width="17.80" height="26.57" fill="#ffbcbc"/>
<rect x="319.50" y="98.61" width="17.50" height="26.57" fill="#ff9696"/>
<rect x="74.50" y="124.88" width="17.80" height="26.57" fill="#ffb2b2"/>
<rect x="92.00" y="124.88" width="17.80" height="26.57" fill="#ff9191"/>
<rect x="109.50" y="124.88" width="17.80" height="26.57" fill="#ff9696"/>
<rect x="127.00" y="124.88" width="17.80" height="26.57" fill="#ff9494"/>
<rect x="144.50" y="124.88" width="17.80" height="26.57" fill="#ff9494"/>
<rect x="162.00" y="124.88" width="17.80" height="26.57" fill="#ffafaf"/>
<rect x="179.50" y="124.88" width="17.80" height="26.57" fill="#ffb6b6"/>
<rect x="197.00" y="124.88" width="17.80" height="26.57" fill="#ffaaaa"/>
<rect x="214.50" y="124.88" width="17.80" height="26.57" fill="#ffa5a5"/>
<rect x="232.00" y="124.88" width="17.80" height="26.57" fill="#ffa5a5"/>
<rect x="249.50" y="124.88" width="17.80" height="26.57" fill="#ffb2b2"/>
<rect x="267.00" y="124.88" width="17.80" height="26.57" fill="#ffafaf"/>
<rect x="284.50" y="124.88" width="17.80" height="26.57" fill="#ff9696"/>
<rect x="302.00" y="124.88" width="17.80" height="26.57" fill="#ffbcbc"/>
<rect x="319.50" y="124.88" width="17.50" height="26.57" fill="#ffb4b4"/>
<rect x="74.50" y="151.15" width="17.80" height="26.57" fill="#ffafaf"/>
<rect x="92.00" y="151.15" width="17.80" height="26.57" fill="#ff8c8c"/>
<rect x="109.50" y="151.15" width="17.80" height="26.57" fill="#ff9191"/>
<rect x="127.00" y="151.15" width="17.80" height="26.57" fill="#ff9494"/>
<rect x="144.50" y="151.15" width="17.80" height="26.57" fill="#ff9696"/>
<rect x="162.00" y="151.15" width="17.80" height="26.57" fill="#ffaaaa"/>
<rect x="179.50" y="151.15" width="17.80" height="26.57" fill="#ffa5a5"/>
<rect x="197.00" y="151.15" width="17.80" height="26.57" fill="#ffa0a0"/>
<rect x="214.50" y="151.15" width="17.80" height="26.57" fill="#ffaaaa"/>
<rect x="232.00" y="151.15" width="17.80" height="26.57" fill="#ffa0a0"/>
<rect x="249.50" y="151.15" width="17.80" height="26.57" fill="#ffa8a8"/>
<rect x="267.00" y="151.15" width="17.80" height="26.57" fill="#ff9494"/>
<rect x="284.50" y="151.15" width="17.80" height="26.57" fill="#ffaaaa"/>
<rect x="302.00" y="151.15" width="17.80" height="26.57" fill="#ff9b9b"/>
<rect x="319.50" y="151.15" width="17.50" height="26.57" fill="#ff9b9b"/>
<rect x="74.50" y="177.42" width="17.80" height="26.27" fill="#ffffff"/>
<rect x="92.00" y="177.42" width="17.80" height="26.27" fill="#ffe8e8"/>
<rect x="109.50" y="177.42" width="17.80" height="26.27" fill="#ffebeb"/>
<rect x="127.00" y="177.42" width="17.80" height="26.27" fill="#ffbebe"/>
<rect x="144.50" y="177.42" width="17.80" height="26.27" fill="#ffb9b9"/>
<rect x="162.00" y="177.42" width="17.80" height="26.27" fill="#ff8c8c"/>
<rect x="179.50" y="177.42" width="17.80" height="26.27" fill="#ff9b9b"/>
<rect x="197.00" y="177.42" width="17.80" height="26.27" fill="#ffb9b9"/>
<rect x="214.50" y="177.42" width="17.80" height="26.27" fill="#ffa0a0"/>
<rect x="232.00" y="177.42" width="17.80" height="26.27" fill="#ff9e9e"/>
<rect x="249.50" y="177.42" width="17.80" height="26.27" fill="#ffaaaa"/>
<rect x="267.00" y="177.42" width="17.80" height="26.27" fill="#ffa5a5"/>
<rect x="284.50" y="177.42" width="17.80" height="26.27" fill="#ffacac"/>
<rect x="302.00" y="177.42" width="17.80" height="26.27" fill="#ff9696"/>
<rect x="319.50" y="177.42" width="17.50" height="26.27" fill="#ff7d7d"/>
</g>
<g font-size="2.3" text-anchor="middle" fill="#222" fill-opacity=".8">
<text x="83.2" y="33.7">35.3</text>
<text x="100.8" y="33.7">41.2</text>
<text x="118.2" y="33.7">39.2</text>
<text x="135.8" y="33.7">39.2</text>
<text x="153.2" y="33.7">41.2</text>
<text x="170.8" y="33.7">60.8</text>
<text x="188.2" y="33.7">64.7</text>
<text x="205.8" y="33.7">66.3</text>
<text x="223.2" y="33.7">57.6</text>
<text x="240.8" y="33.7">64.7</text>
<text x="258.2" y="33.7">56.9</text>
<text x="275.8" y="33.7">83.5</text>
<text x="293.2" y="33.7">82.4</text>
<text x="310.8" y="33.7">83.5</text>
<text x="328.2" y="33.7">85.1</text>
<text x="83.2" y="60.0">27.5</text>
<text x="100.8" y="60.0">39.2</text>
<text x="118.2" y="60.0">39.2</text>
<text x="135.8" y="60.0">45.1</text>
<text x="153.2" y="60.0">41.2</text>
<text x="170.8" y="60.0">52.9</text>
<text x="188.2" y="60.0">54.9</text>
<text x="205.8" y="60.0">63.9</text>
<text x="223.2" y="60.0">62.7</text>
<text x="240.8" y="60.0">69.4</text>
<text x="258.2" y="60.0">60.8</text>
<text x="275.8" y="60.0">80.4</text>
<text x="293.2" y="60.0">90.2</text>
<text x="310.8" y="60.0">92.2</text>
<text x="328.2" y="60.0">81.2</text>
<text x="83.2" y="86.3">29.4</text>
<text x="100.8" y="86.3">39.2</text>
<text x="118.2" y="86.3">43.1</text>
<text x="135.8" y="86.3">41.2</text>
<text x="153.2" y="86.3">41.2</text>
<text x="170.8" y="86.3">64.7</text>
<text x="188.2" y="86.3">64.7</text>
<text x="205.8" y="86.3">58.4</text>
<text x="223.2" y="86.3">60.8</text>
<text x="240.8" y="86.3">58.8</text>
<text x="258.2" y="86.3">58.8</text>
<text x="275.8" y="86.3">84.3</text>
<text x="293.2" y="86.3">85.1</text>
<text x="310.8" y="86.3">83.5</text>
<text x="328.2" y="86.3">91.4</text>
<text x="83.2" y="112.5">30.6</text>
<text x="100.8" y="112.5">45.1</text>
<text x="118.2" y="112.5">37.3</text>
<text x="135.8" y="112.5">39.2</text>
<text x="153.2" y="112.5">38.0</text>
<text x="170.8" y="112.5">29.8</text>
<text x="188.2" y="112.5">26.3</text>
<text x="205.8" y="112.5">33.7</text>
<text x="223.2" y="112.5">34.5</text>
<text x="240.8" y="112.5">33.7</text>
<text x="258.2" y="112.5">32.2</text>
<text x="275.8" y="112.5">33.7</text>
<text x="293.2" y="112.5">41.2</text>
<text x="310.8" y="112.5">26.3</text>
<text x="328.2" y="112.5">41.2</text>
<text x="83.2" y="138.8">30.2</text>
<text x="100.8" y="138.8">43.1</text>
<text x="118.2" y="138.8">41.2</text>
<text x="135.8" y="138.8">42.0</text>
<text x="153.2" y="138.8">42.0</text>
<text x="170.8" y="138.8">31.4</text>
<text x="188.2" y="138.8">28.6</text>
<text x="205.8" y="138.8">33.3</text>
<text x="223.2" y="138.8">35.3</text>
<text x="240.8" y="138.8">35.3</text>
<text x="258.2" y="138.8">30.2</text>
<text x="275.8" y="138.8">31.4</text>
<text x="293.2" y="138.8">41.2</text>
<text x="310.8" y="138.8">26.3</text>
<text x="328.2" y="138.8">29.4</text>
<text x="83.2" y="165.1">31.4</text>
<text x="100.8" y="165.1">45.1</text>
<text x="118.2" y="165.1">43.1</text>
<text x="135.8" y="165.1">42.0</text>
<text x="153.2" y="165.1">41.2</text>
<text x="170.8" y="165.1">33.3</text>
<text x="188.2" y="165.1">35.3</text>
<text x="205.8" y="165.1">37.3</text>
<text x="223.2" y="165.1">33.3</text>
<text x="240.8" y="165.1">37.3</text>
<text x="258.2" y="165.1">34.1</text>
<text x="275.8" y="165.1">42.0</text>
<text x="293.2" y="165.1">33.3</text>
<text x="310.8" y="165.1">39.2</text>
<text x="328.2" y="165.1">39.2</text>
<text x="100.8" y="191.4">9.0</text>
<text x="118.2" y="191.4">7.8</text>
<text x="135.8" y="191.4">25.5</text>
<text x="153.2" y="191.4">27.5</text>
<text x="170.8" y="191.4">45.1</text>
<text x="188.2" y="191.4">39.2</text>
<text x="205.8" y="191.4">27.5</text>
<text x="223.2" y="191.4">37.3</text>
<text x="240.8" y="191.4">38.0</text>
<text x="258.2" y="191.4">33.3</text>
<text x="275.8" y="191.4">35.3</text>
<text x="293.2" y="191.4">32.5</text>
<text x="310.8" y="191.4">41.2</text>
<text x="328.2" y="191.4">51.0</text>
</g>
<g font-size="6.15" fill="#1a1a1a" stroke="#1a1a1a" stroke-width=".1">
<text x="67.9" y="35.1" text-anchor="end">20</text>
<path d="M69.5 32.9H72" stroke="#111" stroke-width=".75"/>
<text x="67.9" y="61.4" text-anchor="end">10</text>
<path d="M69.5 59.2H72" stroke="#111" stroke-width=".75"/>
<text x="67.9" y="87.6" text-anchor="end">5</text>
<path d="M69.5 85.5H72" stroke="#111" stroke-width=".75"/>
<text x="67.9" y="113.9" text-anchor="end">2.5</text>
<path d="M69.5 111.7H72" stroke="#111" stroke-width=".75"/>
<text x="67.9" y="140.2" text-anchor="end">1.25</text>
<path d="M69.5 138.0H72" stroke="#111" stroke-width=".75"/>
<text x="67.9" y="166.4" text-anchor="end">0.625</text>
<path d="M69.5 164.3H72" stroke="#111" stroke-width=".75"/>
<text x="67.9" y="192.7" text-anchor="end">0</text>
<path d="M69.5 190.6H72" stroke="#111" stroke-width=".75"/>
<text x="83.2" y="216.3" text-anchor="middle">0</text>
<path d="M83.2 206.2V208.7" stroke="#111" stroke-width=".75"/>
<text x="100.8" y="216.3" text-anchor="middle">2.4</text>
<path d="M100.8 206.2V208.7" stroke="#111" stroke-width=".75"/>
<text x="118.2" y="216.3" text-anchor="middle">4.7</text>
<path d="M118.2 206.2V208.7" stroke="#111" stroke-width=".75"/>
<text x="135.8" y="216.3" text-anchor="middle">9.4</text>
<path d="M135.8 206.2V208.7" stroke="#111" stroke-width=".75"/>
<text x="153.2" y="216.3" text-anchor="middle">10</text>
<path d="M153.2 206.2V208.7" stroke="#111" stroke-width=".75"/>
<text x="170.8" y="216.3" text-anchor="middle">18.8</text>
<path d="M170.8 206.2V208.7" stroke="#111" stroke-width=".75"/>
<text x="188.2" y="216.3" text-anchor="middle">20</text>
<path d="M188.2 206.2V208.7" stroke="#111" stroke-width=".75"/>
<text x="205.8" y="216.3" text-anchor="middle">37.5</text>
<path d="M205.8 206.2V208.7" stroke="#111" stroke-width=".75"/>
<text x="223.2" y="216.3" text-anchor="middle">40</text>
<path d="M223.2 206.2V208.7" stroke="#111" stroke-width=".75"/>
<text x="240.8" y="216.3" text-anchor="middle">75</text>
<path d="M240.8 206.2V208.7" stroke="#111" stroke-width=".75"/>
<text x="258.2" y="216.3" text-anchor="middle">80</text>
<path d="M258.2 206.2V208.7" stroke="#111" stroke-width=".75"/>
<text x="275.8" y="216.3" text-anchor="middle">150</text>
<path d="M275.8 206.2V208.7" stroke="#111" stroke-width=".75"/>
<text x="293.2" y="216.3" text-anchor="middle">160</text>
<path d="M293.2 206.2V208.7" stroke="#111" stroke-width=".75"/>
<text x="310.8" y="216.3" text-anchor="middle">300</text>
<path d="M310.8 206.2V208.7" stroke="#111" stroke-width=".75"/>
<text x="328.2" y="216.3" text-anchor="middle">320</text>
<path d="M328.2 206.2V208.7" stroke="#111" stroke-width=".75"/>
</g>
<text x="206.0" y="227.3" font-size="6.15" text-anchor="middle" fill="#000" stroke="#000" stroke-width=".1">Vismodegib (µM)</text>
<text x="57.4" y="111.8" font-size="6.1" text-anchor="middle" fill="#000" transform="rotate(-90 57.4 111.8)" stroke="#000" stroke-width=".1">GSK126 (µM)</text>
<text x="342.0" y="76.4" font-size="6.1" fill="#000" stroke="#000" stroke-width=".1">Inhibition (%)</text>
<rect x="342" y="80.6" width="15.1" height="72" fill="url(#gI)"/>
<text x="359.9" y="82.8" font-size="6.05" fill="#000" stroke="#000" stroke-width=".1">100</text>
<text x="359.9" y="100.8" font-size="6.05" fill="#000" stroke="#000" stroke-width=".1">50</text>
<text x="359.9" y="118.8" font-size="6.05" fill="#000" stroke="#000" stroke-width=".1">0</text>
<text x="359.9" y="136.8" font-size="6.05" fill="#000" stroke="#000" stroke-width=".1">−50</text>
<text x="359.9" y="154.8" font-size="6.05" fill="#000" stroke="#000" stroke-width=".1">−100</text>
</g>
<text x="197.0" y="11.7" font-size="11.05" text-anchor="middle" font-weight="bold" fill="#000">Mean 38.87(p&lt;2e-324)</text>
<text x="189.8" y="284.4" font-size="11.15" text-anchor="middle" font-weight="bold" fill="#000">Mean 41.31(p&lt;2e-324)</text>
<text x="182.5" y="554.1" font-size="11.15" text-anchor="middle" font-weight="bold" fill="#000">Mean 45.45(p&lt;2e-324)</text>
<text x="40.5" y="126.0" font-size="12.9" text-anchor="middle" font-weight="bold" fill="#000" transform="rotate(-90 40.5 126.0)">GSK343</text>
<text x="40.9" y="405.7" font-size="12.8" text-anchor="middle" font-weight="bold" fill="#000" transform="rotate(-90 40.9 405.7)">UNC1999</text>
<text x="40.3" y="641.6" font-size="12.6" text-anchor="middle" font-weight="bold" fill="#000" transform="rotate(-90 40.3 641.6)">GSK126</text>
<text x="503.2" y="11.4" font-size="12.4" text-anchor="middle" font-weight="bold" fill="#000">HSA</text>
<text x="509.4" y="29.9" font-size="11.25" text-anchor="middle" font-weight="bold" fill="#000">Mean: 0.65 (p=3.89e-01)</text>
<text x="497.6" y="283.8" font-size="12.0" text-anchor="middle" font-weight="bold" fill="#000">HSA</text>
<text x="508.0" y="300.6" font-size="11.25" text-anchor="middle" font-weight="bold" fill="#000">Mean:1.57 (p=5.56e-02)</text>
<text x="506.8" y="547.5" font-size="12.1" text-anchor="middle" font-weight="bold" fill="#000">HSA</text>
<text x="512.2" y="566.2" font-size="11.2" text-anchor="middle" font-weight="bold" fill="#000">Mean:14.85 (p=3.44e-70)</text>
<text x="631.2" y="43.4" font-size="7.9" fill="#222">Synergy Score</text>
<rect x="632.2" y="47.4" width="20.4" height="100.7" fill="url(#gS)"/>
<text x="656.0" y="67.0" font-size="7.9" fill="#222">20</text>
<text x="656.0" y="100.6" font-size="7.9" fill="#222">0</text>
<text x="656.0" y="134.2" font-size="7.9" fill="#222">−20</text>
<text x="630.2" y="325.8" font-size="7.8" fill="#222">Synergy Score</text>
<rect x="631" y="330.2" width="20.2" height="98.9" fill="url(#gS)"/>
<text x="654.6" y="349.5" font-size="7.8" fill="#222">20</text>
<text x="654.6" y="382.5" font-size="7.8" fill="#222">0</text>
<text x="654.6" y="415.4" font-size="7.8" fill="#222">−20</text>
<text x="629.2" y="572.2" font-size="7.7" fill="#222">Synergy Score</text>
<rect x="629.8" y="577.2" width="19.5" height="97.1" fill="url(#gS)"/>
<text x="652.6" y="596.2" font-size="7.7" fill="#222">20</text>
<text x="652.6" y="628.5" font-size="7.7" fill="#222">0</text>
<text x="652.6" y="660.9" font-size="7.7" fill="#222">−20</text>
<g id="sA">
<path d="M450.1 151.7L434.0 60.8M519.9 210.5L450.1 151.7M456.1 148.5L441.6 58.6M526.2 205.2L456.1 148.5M461.9 145.4L449.0 56.5M532.2 200.1L461.9 145.4M467.6 142.4L456.1 54.4M538.0 195.3L467.6 142.4M473.0 139.5L462.9 52.4M543.6 190.6L473.0 139.5M478.3 136.6L469.6 50.5M548.9 186.0L478.3 136.6M483.5 133.8L475.9 48.7M554.1 181.7L483.5 133.8M488.5 131.1L482.1 46.9M559.1 177.5L488.5 131.1M493.4 128.5L488.0 45.2M563.9 173.4L493.4 128.5M498.1 126.0L493.8 43.5M568.6 169.5L498.1 126.0M502.7 123.5L499.3 41.9M573.1 165.7L502.7 123.5M507.2 121.1L504.7 40.4M577.4 162.0L507.2 121.1M511.5 118.8L509.9 38.9M581.6 158.5L511.5 118.8M515.8 116.5L515.0 37.4M585.7 155.1L515.8 116.5M519.9 114.3L519.9 36.0M589.7 151.7L519.9 114.3M589.7 151.7L605.8 60.8M519.9 210.5L589.7 151.7M576.0 144.4L588.4 55.8M505.6 198.5L576.0 144.4M563.2 137.5L572.4 51.2M492.6 187.5L563.2 137.5M551.3 131.1L557.7 46.9M480.7 177.5L551.3 131.1M540.2 125.2L544.1 43.0M469.7 168.2L540.2 125.2M529.7 119.6L531.6 39.4M459.5 159.7L529.7 119.6M519.9 114.3L519.9 36.0M450.1 151.7L519.9 114.3M448.8 144.1L519.9 107.4M519.9 107.4L591.0 144.1M445.9 127.8L519.9 93.0M519.9 93.0L593.9 127.8M442.7 110.1L519.9 77.6M519.9 77.6L597.1 110.1M439.3 90.8L519.9 61.1M519.9 61.1L600.5 90.8M435.6 69.8L519.9 43.4M519.9 43.4L604.2 69.8" stroke="#e6e6e6" stroke-width="0.55" fill="none"/>
<path d="M442.7 110.1L519.9 77.6M519.9 77.6L597.1 110.1" stroke="#555" stroke-width=".6" stroke-dasharray="2.4 1" fill="none"/>
<path d="M450.1 151.7L434.0 60.8" stroke="#333" stroke-width=".75" stroke-dasharray="2.2 .9" fill="none"/>
<path d="M450.1 151.7L519.9 210.5" stroke="#444" stroke-width=".7" fill="none"/>
<path d="M448.8 144.1l-2.6 0.9M445.9 127.8l-2.6 0.9M442.7 110.1l-2.6 0.9M439.3 90.8l-2.6 0.9M435.6 69.8l-2.6 0.9M519.9 210.5l-1.8 1.9M505.6 198.5l-1.8 1.9M492.6 187.5l-1.8 1.9M480.7 177.5l-1.8 1.9M469.7 168.2l-1.8 1.9M459.5 159.7l-1.8 1.9M450.1 151.7l-1.8 1.9" stroke="#444" stroke-width=".7" fill="none"/>
<g transform="scale(.1)" stroke="#000" stroke-width="5.8" stroke-linejoin="round">
<path d="M5197 808l14-1l-12 9l-15 18z" fill="#e9ffe9"/>
<path d="M5182 805l15 3l-13 26l-14 14z" fill="#e8ffe8"/>
<path d="M5209 788l15 13l-13 6l-14 1z" fill="#f9fff9"/>
<path d="M5167 800l15 5l-12 43l-15 11z" fill="#eaffea"/>
<path d="M5151 796l16 4l-12 59l-15 8z" fill="#efe"/>
<path d="M5222 775l15 22l-13 4l-15-13z" fill="#fff"/>
<path d="M5194 771l15 17l-12 20l-15-3z" fill="#fff"/>
<path d="M5136 794l15 2l-11 71l-16 6z" fill="#f1fff1"/>
<path d="M5235 768l14 28l-12 1l-15-22z" fill="#fffafa"/>
<path d="M5179 753l15 18l-12 34l-15-5z" fill="#fff8f8"/>
<path d="M5207 748l15 27l-13 13l-15-17z" fill="#fff1f1"/>
<path d="M5120 799l16-5l-12 79l-15 6z" fill="#f3fff3"/>
<path d="M5248 767l14 30l-13-1l-14-28z" fill="#fff6f6"/>
<path d="M5104 810l16-11l-11 80l-15 5z" fill="#f3fff3"/>
<path d="M5261 770l14 30l-13-3l-14-30z" fill="#fff3f3"/>
<path d="M5163 738l16 15l-12 47l-16-4z" fill="#ffeded"/>
<path d="M5220 733l15 35l-13 7l-15-27z" fill="#ffe3e3"/>
<path d="M5089 823l15-13l-10 74l-16 6z" fill="#f2fff2"/>
<path d="M5274 777l14 27l-13-4l-14-30z" fill="#fff2f2"/>
<path d="M5192 718l15 30l-13 23l-15-18z" fill="#ffdbdb"/>
<path d="M5073 832l16-9l-11 67l-16 9z" fill="#f0fff0"/>
<path d="M5147 730l16 8l-12 58l-15-2z" fill="#ffe3e3"/>
<path d="M5287 788l15 23l-14-7l-14-27z" fill="#fff3f3"/>
<path d="M5233 727l15 40l-13 1l-15-35z" fill="#ffd8d8"/>
<path d="M5301 801l14 17l-13-7l-15-23z" fill="#fff6f6"/>
<path d="M5056 832l17 0l-11 67l-15 12z" fill="#efffef"/>
<path d="M5246 728l15 42l-13-3l-15-40z" fill="#ffd3d3"/>
<path d="M5314 816l14 10l-13-8l-14-17z" fill="#fff9f9"/>
<path d="M5132 733l15-3l-11 64l-16 5z" fill="#fdd"/>
<path d="M5205 695l15 38l-13 15l-15-30z" fill="#ffc1c1"/>
<path d="M5176 696l16 22l-13 35l-16-15z" fill="#ffc3c3"/>
<path d="M5327 833l15 2l-14-9l-14-10z" fill="#fffcfc"/>
<path d="M5039 826l17 6l-9 79l-16 14z" fill="#f1fff1"/>
<path d="M5260 735l14 42l-13-7l-15-42z" fill="#ffd2d2"/>
<path d="M5116 750l16-17l-12 66l-16 11z" fill="#ffdfdf"/>
<path d="M5340 850l15-5l-13-10l-15-2z" fill="#fff"/>
<path d="M5273 748l14 40l-13-11l-14-42z" fill="#ffd6d6"/>
<path d="M5100 769l16-19l-12 60l-15 13z" fill="#ffe6e6"/>
<path d="M5354 867l15-12l-14-10l-15 5z" fill="#fefffe"/>
<path d="M5022 821l17 5l-8 99l-16 12z" fill="#f3fff3"/>
<path d="M5218 681l15 46l-13 6l-15-38z" fill="#ffaeae"/>
<path d="M5286 764l15 37l-14-13l-14-40z" fill="#ffdcdc"/>
<path d="M5160 683l16 13l-13 42l-16-8z" fill="#ffafaf"/>
<path d="M5367 883l15-19l-13-9l-15 12z" fill="#fafffa"/>
<path d="M5084 777l16-8l-11 54l-16 9z" fill="#ffeaea"/>
<path d="M5300 785l14 31l-13-15l-15-37z" fill="#ffe5e5"/>
<path d="M5313 807l14 26l-13-17l-14-31z" fill="#fee"/>
<path d="M5189 669l16 26l-13 23l-16-22z" fill="#ff9e9e"/>
<path d="M5381 898l15-25l-14-9l-15 19z" fill="#f6fff6"/>
<path d="M5326 830l14 20l-13-17l-14-26z" fill="#fff7f7"/>
<path d="M5005 821l17 0l-7 116l-17 8z" fill="#f5fff5"/>
<path d="M5339 853l15 14l-14-17l-14-20z" fill="#fffefe"/>
<path d="M5231 677l15 51l-13-1l-15-46z" fill="#ffa3a3"/>
<path d="M5394 910l16-28l-14-9l-15 25z" fill="#f2fff2"/>
<path d="M5353 875l14 8l-13-16l-15-14z" fill="#fcfffc"/>
<path d="M5067 768l17 9l-11 55l-17 0z" fill="#ffe6e6"/>
<path d="M5144 679l16 4l-13 47l-15 3z" fill="#ffa3a3"/>
<path d="M5366 895l15 3l-14-15l-14-8z" fill="#f5fff5"/>
<path d="M5408 920l16-30l-14-8l-16 28z" fill="#efffef"/>
<path d="M4988 827l17-6l-7 124l-16 6z" fill="#f7fff7"/>
<path d="M5380 912l14-2l-13-12l-15-3z" fill="#edffed"/>
<path d="M5245 682l15 53l-14-7l-15-51z" fill="#ff9f9f"/>
<path d="M5128 705l16-26l-12 54l-16 17z" fill="#ffa7a7"/>
<path d="M5394 925l14-5l-14-10l-14 2z" fill="#e7ffe7"/>
<path d="M5202 652l16 29l-13 14l-16-26z" fill="#ff8282"/>
<path d="M5422 926l16-29l-14-7l-16 30z" fill="#efe"/>
<path d="M5173 651l16 18l-13 27l-16-13z" fill="#ff8282"/>
<path d="M5258 695l15 53l-13-13l-15-53z" fill="#ffa4a4"/>
<path d="M5112 728l16-23l-12 45l-16 19z" fill="#ffb5b5"/>
<path d="M4971 838l17-11l-6 124l-17 8z" fill="#f6fff6"/>
<path d="M5272 715l14 49l-13-16l-15-53z" fill="#ffaeae"/>
<path d="M5049 748l18 20l-11 64l-17-6z" fill="#ffdada"/>
<path d="M5408 933l14-7l-14-6l-14 5z" fill="#e4ffe4"/>
<path d="M5285 740l15 45l-14-21l-14-49z" fill="#ffbcbc"/>
<path d="M5325 824l14 29l-13-23l-14-34z" fill="#ffeded"/>
<path d="M5339 852l14 23l-14-22l-14-29z" fill="#fff8f8"/>
<path d="M5312 796l14 34l-13-23l-14-39z" fill="#ffdede"/>
<path d="M5299 768l14 39l-13-22l-15-45z" fill="#ffcdcd"/>
<path d="M5095 735l17-7l-12 41l-16 8z" fill="#ffbdbd"/>
<path d="M5352 876l14 19l-13-20l-14-23z" fill="#fff"/>
<path d="M5437 930l16-27l-15-6l-16 29z" fill="#efe"/>
<path d="M5366 898l14 14l-14-17l-14-19z" fill="#f9fff9"/>
<path d="M4954 854l17-16l-6 121l-17 9z" fill="#f4fff4"/>
<path d="M5216 644l15 33l-13 4l-16-29z" fill="#ff7171"/>
<path d="M5379 914l15 11l-14-13l-14-14z" fill="#f2fff2"/>
<path d="M5422 937l15-7l-15-4l-14 7z" fill="#e5ffe5"/>
<path d="M5157 641l16 10l-13 32l-16-4z" fill="#ff6f6f"/>
<path d="M5451 931l16-23l-14-5l-16 27z" fill="#f0fff0"/>
<path d="M4937 869l17-15l-6 114l-16 9z" fill="#f0fff0"/>
<path d="M5393 925l15 8l-14-8l-15-11z" fill="#edffed"/>
<path d="M5186 630l16 22l-13 17l-16-18z" fill="#ff6060"/>
<path d="M5078 722l17 13l-11 42l-17-9z" fill="#ffb5b5"/>
<path d="M5031 724l18 24l-10 78l-17-5z" fill="#ffc9c9"/>
<path d="M5437 938l14-7l-14-1l-15 7z" fill="#e9ffe9"/>
<path d="M5229 645l16 37l-14-5l-15-33z" fill="#ff6969"/>
<path d="M5140 674l17-33l-13 38l-16 26z" fill="#ff7575"/>
<path d="M5124 701l16-27l-12 31l-16 23z" fill="#ff8b8b"/>
<path d="M5408 932l14 5l-14-4l-15-8z" fill="#ecffec"/>
<path d="M4920 878l17-9l-5 108l-18 4z" fill="#efffef"/>
<path d="M5466 930l16-17l-15-5l-16 23z" fill="#f3fff3"/>
<path d="M5338 851l14 25l-13-24l-15-30z" fill="#fff0f0"/>
<path d="M5351 876l15 22l-14-22l-14-25z" fill="#fffbfb"/>
<path d="M5243 656l15 39l-13-13l-16-37z" fill="#ff6c6c"/>
<path d="M5324 822l15 30l-14-28l-14-33z" fill="#ffe1e1"/>
<path d="M5108 706l16-5l-12 27l-17 7z" fill="#ff9595"/>
<path d="M5365 897l14 17l-13-16l-15-22z" fill="#fff"/>
<path d="M5311 791l14 33l-13-28l-15-35z" fill="#ffcdcd"/>
<path d="M5297 761l15 35l-13-28l-15-37z" fill="#ffb8b8"/>
<path d="M5452 936l14-6l-15 1l-14 7z" fill="#efe"/>
<path d="M5257 675l15 40l-14-20l-15-39z" fill="#ff7878"/>
<path d="M5284 731l15 37l-14-28l-15-39z" fill="#ffa1a1"/>
<path d="M5422 934l15 4l-15-1l-14-5z" fill="#efe"/>
<path d="M5270 701l15 39l-13-25l-15-40z" fill="#ff8a8a"/>
<path d="M5200 618l16 26l-14 8l-16-22z" fill="#ff4a4a"/>
<path d="M5379 911l14 14l-14-11l-14-17z" fill="#fbfffb"/>
<path d="M5482 928l15-10l-15-5l-16 17z" fill="#f6fff6"/>
<path d="M5014 722l17 2l-9 97l-17 0z" fill="#ffbcbc"/>
<path d="M4901 879l19-1l-6 103l-18-3z" fill="#f3fff3"/>
<path d="M5170 616l16 14l-13 21l-16-10z" fill="#ff4747"/>
<path d="M5060 691l18 31l-11 46l-18-20z" fill="#ff9c9c"/>
<path d="M5393 921l15 11l-15-7l-14-14z" fill="#f8fff8"/>
<path d="M5137 684l17-30l-14 20l-16 27z" fill="#ff6b6b"/>
<path d="M5090 691l18 15l-13 29l-17-13z" fill="#ff8a8a"/>
<path d="M5467 932l15-4l-16 2l-14 6z" fill="#f5fff5"/>
<path d="M4804 1075l17-21l-6 57l-16 34z" fill="#4eff4e" stroke-width="2.6"/>
<path d="M5154 654l16-38l-13 25l-17 33z" fill="#ff4e4e"/>
<path d="M5437 935l15 1l-15 2l-15-4z" fill="#f3fff3"/>
<path d="M5497 925l15-3l-15-4l-15 10z" fill="#f9fff9"/>
<path d="M5213 617l16 28l-13-1l-16-26z" fill="#ff3e3e"/>
<path d="M4821 1054l15-46l-6 58l-15 45z" fill="#80ff80" stroke-width="2.6"/>
<path d="M4996 727l18-5l-9 99l-17 6z" fill="#ffb8b8"/>
<path d="M4785 1078l19-3l-5 70l-17 22z" fill="#37ff37" stroke-width="2.6"/>
<path d="M5121 688l16-4l-13 17l-16 5z" fill="#ff7676"/>
<path d="M5408 927l14 7l-14-2l-15-11z" fill="#f8fff8"/>
<path d="M4883 883l18-4l-5 99l-18-2z" fill="#f8fff8"/>
<path d="M5337 859l14 17l-13-25l-15-21z" fill="#ffeaea"/>
<path d="M5350 882l15 15l-14-21l-14-17z" fill="#fff5f5"/>
<path d="M5323 830l15 21l-14-29l-15-23z" fill="#ffd9d9"/>
<path d="M5309 799l15 23l-13-31l-15-24z" fill="#ffc4c4"/>
<path d="M5364 899l15 12l-14-14l-15-15z" fill="#fffcfc"/>
<path d="M4836 1008l15-57l-7 70l-14 45z" fill="#bcffbc" stroke-width="2.6"/>
<path d="M5183 602l17 16l-14 12l-16-14z" fill="#ff2b2b"/>
<path d="M5227 626l16 30l-14-11l-16-28z" fill="#ff3e3e"/>
<path d="M5296 767l15 24l-14-30l-15-26z" fill="#ffabab"/>
<path d="M5513 922l14 5l-15-5l-15 3z" fill="#fcfffc"/>
<path d="M5453 933l14-1l-15 4l-15-1z" fill="#f8fff8"/>
<path d="M5483 928l14-3l-15 3l-15 4z" fill="#fbfffb"/>
<path d="M4979 735l17-8l-8 100l-17 11z" fill="#ffb9b9"/>
<path d="M5282 735l15 26l-13-30l-15-28z" fill="#ff9191"/>
<path d="M4765 1076l20 2l-3 89l-18 9z" fill="#38ff38" stroke-width="2.6"/>
<path d="M4866 904l17-21l-5 93l-18 12z" fill="#f7fff7"/>
<path d="M5379 912l14 9l-14-10l-15-12z" fill="#fff"/>
<path d="M5423 931l14 4l-15-1l-14-7z" fill="#fafffa"/>
<path d="M5241 645l16 30l-14-19l-16-30z" fill="#ff4949"/>
<path d="M5269 703l15 28l-14-30l-15-29z" fill="#f77"/>
<path d="M5151 676l16-33l-13 11l-17 30z" fill="#f55"/>
<path d="M4851 951l15-47l-6 84l-16 33z" fill="#e7ffe7"/>
<path d="M5255 672l15 29l-13-26l-16-30z" fill="#ff5d5d"/>
<path d="M5167 643l16-41l-13 14l-16 38z" fill="#f33"/>
<path d="M5042 649l18 42l-11 57l-18-24z" fill="#ff7676"/>
<path d="M5103 673l18 15l-13 18l-18-15z" fill="#ff6a6a"/>
<path d="M4962 760l17-25l-8 103l-17 16z" fill="#ffc0c0"/>
<path d="M5134 680l17-4l-14 8l-16 4z" fill="#ff6262"/>
<path d="M5393 922l15 5l-15-6l-14-9z" fill="#fff"/>
<path d="M5072 652l18 39l-12 31l-18-31z" fill="#ff6868"/>
<path d="M5529 918l13 15l-15-6l-14-5z" fill="#fefffe"/>
<path d="M5197 598l16 19l-13 1l-17-16z" fill="#ff1c1c"/>
<path d="M5335 880l15 2l-13-23l-16-4z" fill="#ffebeb"/>
<path d="M5321 855l16 4l-14-29l-15-4z" fill="#ffdcdc"/>
<path d="M5468 930l15-2l-16 4l-14 1z" fill="#fdfffd"/>
<path d="M5499 922l14 0l-16 3l-14 3z" fill="#fff"/>
<path d="M4944 779l18-19l-8 94l-17 15z" fill="#ffcaca"/>
<path d="M5308 826l15 4l-14-31l-15-7z" fill="#ffc7c7"/>
<path d="M5438 932l15 1l-16 2l-14-4z" fill="#fdfffd"/>
<path d="M5349 899l15 0l-14-17l-15-2z" fill="#fff4f4"/>
<path d="M4745 1079l20-3l-1 100l-19-1z" fill="#4f4" stroke-width="2.6"/>
<path d="M5164 676l17-35l-14 2l-16 33z" fill="#ff4949"/>
<path d="M5294 792l15 7l-13-32l-16-9z" fill="#ffaeae"/>
<path d="M5363 914l16-2l-15-13l-15 0z" fill="#fffafa"/>
<path d="M5408 929l15 2l-15-4l-15-5z" fill="#fff"/>
<path d="M5181 641l16-43l-14 4l-16 41z" fill="#ff2323"/>
<path d="M5280 758l16 9l-14-32l-16-13z" fill="#ff9393"/>
<path d="M4927 789l17-10l-7 90l-17 9z" fill="#ffcfcf"/>
<path d="M5211 606l16 20l-14-9l-16-19z" fill="#ff1a1a"/>
<path d="M5147 682l17-6l-13 0l-17 4z" fill="#ff5959"/>
<path d="M5545 915l12 24l-15-6l-13-15z" fill="#fff"/>
<path d="M5319 897l16-17l-14-25l-16 17z" fill="#ffeaea"/>
<path d="M5305 872l16-17l-13-29l-17 18z" fill="#ffdbdb"/>
<path d="M5266 722l16 13l-13-32l-16-16z" fill="#ff7575"/>
<path d="M5117 666l17 14l-13 8l-18-15z" fill="#f55"/>
<path d="M5333 916l16-17l-14-19l-16 17z" fill="#fff4f4"/>
<path d="M5291 844l17-18l-14-34l-16 21z" fill="#ffc7c7"/>
<path d="M5378 925l15-3l-14-10l-16 2z" fill="#fffcfc"/>
<path d="M4829 1007l15-46l-8 47l-15 46z" fill="#d4ffd4"/>
<path d="M4810 1016l19-9l-8 47l-17 21z" fill="#b8ffb8" stroke-width="2.6"/>
<path d="M5289 902l16-30l-14-28l-16 31z" fill="#ffe8e8"/>
<path d="M5178 686l16-37l-13-8l-17 35z" fill="#ff4848"/>
<path d="M5453 933l15-3l-15 3l-15-1z" fill="#fff"/>
<path d="M5253 687l16 16l-14-31l-16-18z" fill="#ff5656"/>
<path d="M5484 927l15-5l-16 6l-15 2z" fill="#fffefe"/>
<path d="M5303 925l16-28l-14-25l-16 30z" fill="#fff4f4"/>
<path d="M5225 626l16 19l-14-19l-16-20z" fill="#ff2424"/>
<path d="M5272 932l17-30l-14-27l-17 30z" fill="#fff6f6"/>
<path d="M5024 650l18-1l-11 75l-17-2z" fill="#ff5d5d"/>
<path d="M5286 955l17-30l-14-23l-17 30z" fill="#fff"/>
<path d="M5515 917l14 1l-16 4l-14 0z" fill="#fffcfc"/>
<path d="M5275 875l16-31l-13-31l-17 33z" fill="#ffd7d7"/>
<path d="M5278 813l16-21l-14-34l-16 24z" fill="#ffaeae"/>
<path d="M5258 905l17-30l-14-29l-16 28z" fill="#ffe8e8"/>
<path d="M5239 654l16 18l-14-27l-16-19z" fill="#ff3a3a"/>
<path d="M5317 944l16-28l-14-19l-16 28z" fill="#fffcfc"/>
<path d="M5423 934l15-2l-15-1l-15-2z" fill="#fff"/>
<path d="M5347 931l16-17l-14-15l-16 17z" fill="#fffafa"/>
<path d="M5261 846l17-33l-14-31l-17 33z" fill="#ffc2c2"/>
<path d="M5194 649l17-43l-14-8l-16 43z" fill="#ff2121"/>
<path d="M5270 978l16-23l-14-23l-16 21z" fill="#f9fff9"/>
<path d="M5245 874l16-28l-14-31l-16 27z" fill="#ffd5d5"/>
<path d="M5300 973l17-29l-14-19l-17 30z" fill="#fbfffb"/>
<path d="M5256 953l16-21l-14-27l-16 17z" fill="#fffefe"/>
<path d="M4726 1087l19-8l0 96l-21-7z" fill="#53ff53" stroke-width="2.6"/>
<path d="M5161 695l17-9l-14-10l-17 6z" fill="#ff5959"/>
<path d="M5264 782l16-24l-14-36l-16 29z" fill="#ff9494"/>
<path d="M5247 815l17-33l-14-31l-17 34z" fill="#faa"/>
<path d="M5192 703l16-37l-14-17l-16 37z" fill="#ff5151"/>
<path d="M5242 922l16-17l-13-31l-17 12z" fill="#fff2f2"/>
<path d="M5284 997l16-24l-14-18l-16 23z" fill="#efffef"/>
<path d="M5231 842l16-27l-14-30l-16 24z" fill="#ffbfbf"/>
<path d="M4908 798l19-9l-7 89l-19 1z" fill="#ffcfcf"/>
<path d="M5233 785l17-34l-14-30l-16 35z" fill="#ff9292"/>
<path d="M5392 934l16-5l-15-7l-15 3z" fill="#fffdfd"/>
<path d="M5331 958l16-27l-14-15l-16 28z" fill="#fff"/>
<path d="M5561 913l12 32l-16-6l-12-24z" fill="#fffdfd"/>
<path d="M5085 629l18 44l-13 18l-18-39z" fill="#ff4343"/>
<path d="M5250 751l16-29l-13-35l-17 34z" fill="#f77"/>
<path d="M5220 756l16-35l-14-30l-16 37z" fill="#ff7979"/>
<path d="M5206 728l16-37l-14-25l-16 37z" fill="#ff6262"/>
<path d="M5217 809l16-24l-13-29l-17 19z" fill="#ffa7a7"/>
<path d="M5314 986l17-28l-14-14l-17 29z" fill="#f6fff6"/>
<path d="M5362 942l16-17l-15-11l-16 17z" fill="#fffdfd"/>
<path d="M5175 716l17-13l-14-17l-17 9z" fill="#ff6464"/>
<path d="M5208 666l17-40l-14-20l-17 43z" fill="#ff2a2a"/>
<path d="M5228 886l17-12l-14-32l-17 7z" fill="#ffdede"/>
<path d="M4844 961l14-66l-7 56l-15 57z" fill="#fbfffb"/>
<path d="M5236 721l17-34l-14-33l-17 37z" fill="#ff5a5a"/>
<path d="M5203 775l17-19l-14-28l-17 16z" fill="#ff8e8e"/>
<path d="M5253 993l17-15l-14-25l-16 11z" fill="#f3fff3"/>
<path d="M5189 744l17-16l-14-25l-17 13z" fill="#f77"/>
<path d="M5222 691l17-37l-14-28l-17 40z" fill="#ff3f3f"/>
<path d="M5130 669l17 13l-13-2l-17-14z" fill="#ff4c4c"/>
<path d="M5298 1010l16-24l-14-13l-16 24z" fill="#e7ffe7"/>
<path d="M5267 1014l17-17l-14-19l-17 15z" fill="#e5ffe5"/>
<path d="M5240 964l16-11l-14-31l-16 6z" fill="#fff"/>
<path d="M4789 1003l21 13l-6 59l-19 3z" fill="#bcffbc" stroke-width="2.6"/>
<path d="M5469 935l15-8l-16 3l-15 3z" fill="#fffdfd"/>
<path d="M5214 849l17-7l-14-33l-17 2z" fill="#ffc6c6"/>
<path d="M5006 654l18-4l-10 72l-18 5z" fill="#ff5858"/>
<path d="M5438 938l15-5l-15-1l-15 2z" fill="#fffefe"/>
<path d="M5345 967l17-25l-15-11l-16 27z" fill="#fdfffd"/>
<path d="M5500 925l15-8l-16 5l-15 5z" fill="#fffafa"/>
<path d="M5531 913l14 2l-16 3l-14-1z" fill="#fff7f7"/>
<path d="M5053 598l19 54l-12 39l-18-42z" fill="#ff3131"/>
<path d="M5329 994l16-27l-14-9l-17 28z" fill="#f3fff3"/>
<path d="M5407 941l16-7l-15-5l-16 5z" fill="#fffdfd"/>
<path d="M5282 1028l16-18l-14-13l-17 17z" fill="#dbffdb"/>
<path d="M5226 928l16-6l-14-36l-16 0z" fill="#fff2f2"/>
<path d="M5377 950l15-16l-14-9l-16 17z" fill="#fffefe"/>
<path d="M5200 811l17-2l-14-34l-17 0z" fill="#ffacac"/>
<path d="M4890 807l18-9l-7 81l-18 4z" fill="#ffcece"/>
<path d="M5577 913l11 39l-15-7l-12-32z" fill="#fffcfc"/>
<path d="M5312 1018l17-24l-15-8l-16 24z" fill="#e4ffe4"/>
<path d="M4707 1096l19-9l-2 81l-20-5z" fill="#61ff61" stroke-width="2.6"/>
<path d="M5144 683l17 12l-14-13l-17-13z" fill="#ff4f4f"/>
<path d="M5237 1003l16-10l-13-29l-17 7z" fill="#f1fff1"/>
<path d="M5251 1026l16-12l-14-21l-16 10z" fill="#dfffdf"/>
<path d="M5186 775l17 0l-14-31l-17-5z" fill="#ff8f8f"/>
<path d="M4858 895l15-60l-7 69l-15 47z" fill="#ffecec"/>
<path d="M5360 973l17-23l-15-8l-17 25z" fill="#fdfffd"/>
<path d="M5212 886l16 0l-14-37l-16-8z" fill="#ffdbdb"/>
<path d="M5158 708l17 8l-14-21l-17-12z" fill="#ff5d5d"/>
<path d="M5172 739l17 5l-14-28l-17-8z" fill="#ff7474"/>
<path d="M5223 971l17-7l-14-36l-17 2z" fill="#fff"/>
<path d="M5296 1036l16-18l-14-8l-16 18z" fill="#d6ffd6"/>
<path d="M5265 1041l17-13l-15-14l-16 12z" fill="#d3ffd3"/>
<path d="M5453 943l16-8l-16-2l-15 5z" fill="#fffcfc"/>
<path d="M4873 835l17-28l-7 76l-17 21z" fill="#ffd5d5"/>
<path d="M5484 937l16-12l-16 2l-15 8z" fill="#fffafa"/>
<path d="M5098 619l19 47l-14 7l-18-44z" fill="#ff2b2b"/>
<path d="M5344 998l16-25l-15-6l-16 27z" fill="#f3fff3"/>
<path d="M4988 655l18-1l-10 73l-17 8z" fill="#ff5656"/>
<path d="M5422 946l16-8l-15-4l-16 7z" fill="#fffdfd"/>
<path d="M5391 954l16-13l-15-7l-15 16z" fill="#fffefe"/>
<path d="M5515 925l16-12l-16 4l-15 8z" fill="#fff5f5"/>
<path d="M5327 1021l17-23l-15-4l-17 24z" fill="#e5ffe5"/>
<path d="M5547 911l14 2l-16 2l-14-2z" fill="#fff2f2"/>
<path d="M5594 914l10 46l-16-8l-11-39z" fill="#fffbfb"/>
<path d="M5198 841l16 8l-14-38l-16-14z" fill="#ffbdbd"/>
<path d="M4768 991l21 12l-4 75l-20-2z" fill="#ceffce" stroke-width="2.6"/>
<path d="M5209 930l17-2l-14-42l-17-3z" fill="#fee"/>
<path d="M5235 1034l16-8l-14-23l-17 6z" fill="#deffde"/>
<path d="M5280 1050l16-14l-14-8l-17 13z" fill="#ceffce" stroke-width="2.6"/>
<path d="M4837 970l16-46l-9 37l-15 46z" fill="#fcfffc"/>
<path d="M5220 1009l17-6l-14-32l-17 4z" fill="#f2fff2"/>
<path d="M4971 690l17-35l-9 80l-17 25z" fill="#ff6161"/>
<path d="M5375 974l16-20l-14-4l-17 23z" fill="#fdfffd"/>
<path d="M4687 1105l20-9l-3 67l-21 2z" fill="#6bff6b" stroke-width="2.6"/>
<path d="M5311 1040l16-19l-15-3l-16 18z" fill="#d8ffd8"/>
<path d="M5249 1049l16-8l-14-15l-16 8z" fill="#d1ffd1" stroke-width="2.6"/>
<path d="M4818 970l19 0l-8 37l-19 9z" fill="#f2fff2"/>
<path d="M4953 712l18-22l-9 70l-18 19z" fill="#ff7575"/>
<path d="M5469 949l15-12l-15-2l-16 8z" fill="#fffbfb"/>
<path d="M5184 797l16 14l-14-36l-17-22z" fill="#ff9c9c"/>
<path d="M5438 951l15-8l-15-5l-16 8z" fill="#fffcfc"/>
<path d="M5407 957l15-11l-15-5l-16 13z" fill="#fffefe"/>
<path d="M5206 975l17-4l-14-41l-17 2z" fill="#fffefe"/>
<path d="M5359 996l16-22l-15-1l-16 25z" fill="#f6fff6"/>
<path d="M5500 942l15-17l-15 0l-16 12z" fill="#fff8f8"/>
<path d="M5112 623l18 46l-13-3l-19-47z" fill="#f22"/>
<path d="M5610 917l9 51l-15-8l-10-46z" fill="#fffafa"/>
<path d="M5035 601l18-3l-11 51l-18 1z" fill="#ff0e0e"/>
<path d="M5195 883l17 3l-14-45l-17-11z" fill="#ffd0d0"/>
<path d="M5342 1019l17-23l-15 2l-17 23z" fill="#eaffea"/>
<path d="M5294 1055l17-15l-15-4l-16 14z" fill="#cfffcf" stroke-width="2.6"/>
<path d="M5531 926l16-15l-16 2l-16 12z" fill="#fff0f0"/>
<path d="M5263 1059l17-9l-15-9l-16 8z" fill="#cbffcb" stroke-width="2.6"/>
<path d="M5169 753l17 22l-14-36l-17-30z" fill="#ff7979"/>
<path d="M5563 910l14 3l-16 0l-14-2z" fill="#ffeded"/>
<path d="M5066 566l19 63l-13 23l-19-54z" fill="#f00"/>
<path d="M4935 718l18-6l-9 67l-17 10z" fill="#ff7d7d"/>
<path d="M4853 924l14-72l-9 43l-14 66z" fill="#ffeaea"/>
<path d="M4668 1118l19-13l-4 60l-18 14z" fill="#6aff6a" stroke-width="2.6"/>
<path d="M5218 1034l17 0l-15-25l-16 1z" fill="#e3ffe3"/>
<path d="M5391 971l16-14l-16-3l-16 20z" fill="#fff"/>
<path d="M4599 1244l18-27l0 73l-18 26z" fill="#0f0" stroke-width="2.6"/>
<path d="M5484 957l16-15l-16-5l-15 12z" fill="#fffbfb"/>
<path d="M5192 932l17-2l-14-47l-17-1z" fill="#ffe9e9"/>
<path d="M5204 1010l16-1l-14-34l-16 0z" fill="#f5fff5"/>
<path d="M4617 1217l16-38l-1 69l-15 42z" fill="#0f0" stroke-width="2.6"/>
<path d="M4749 999l19-8l-3 85l-20 3z" fill="#d9ffd9"/>
<path d="M5126 640l18 43l-14-14l-18-46z" fill="#ff2727"/>
<path d="M5326 1040l16-21l-15 2l-16 19z" fill="#deffde"/>
<path d="M5155 709l17 30l-14-31l-17-38z" fill="#ff5757"/>
<path d="M5453 956l16-7l-16-6l-15 8z" fill="#fffbfb"/>
<path d="M5422 957l16-6l-16-5l-15 11z" fill="#fffcfc"/>
<path d="M5232 1051l17-2l-14-15l-17 0z" fill="#d5ffd5"/>
<path d="M5515 949l16-23l-16-1l-15 17z" fill="#fff6f6"/>
<path d="M5141 670l17 38l-14-25l-18-43z" fill="#ff3939"/>
<path d="M5627 923l8 53l-16-8l-9-51z" fill="#fffafa"/>
<path d="M4633 1179l17-37l-3 65l-15 41z" fill="#2bff2b" stroke-width="2.6"/>
<path d="M4650 1142l18-24l-3 61l-18 28z" fill="#57ff57" stroke-width="2.6"/>
<path d="M5181 830l17 11l-14-44l-18-22z" fill="#faa"/>
<path d="M5374 991l17-20l-16 3l-16 22z" fill="#fbfffb"/>
<path d="M5278 1064l16-9l-14-5l-17 9z" fill="#cbffcb" stroke-width="2.6"/>
<path d="M5190 975l16 0l-14-43l-17-1z" fill="#fffcfc"/>
<path d="M5017 604l18-3l-11 49l-18 4z" fill="#ff0a0a"/>
<path d="M4917 737l18-19l-8 71l-19 9z" fill="#ff8181"/>
<path d="M5309 1056l17-16l-15 0l-17 15z" fill="#d4ffd4"/>
<path d="M4796 944l22 26l-8 46l-21-13z" fill="#fcfffc"/>
<path d="M5548 929l15-19l-16 1l-16 15z" fill="#ffecec"/>
<path d="M5247 1061l16-2l-14-10l-17 2z" fill="#cfffcf" stroke-width="2.6"/>
<path d="M4578 1248l21-4l0 72l-21-1z" fill="#0f0" stroke-width="2.6"/>
<path d="M5580 911l14 3l-17-1l-14-3z" fill="#ffe8e8"/>
<path d="M5499 967l16-18l-15-7l-16 15z" fill="#fffbfb"/>
<path d="M5357 1015l17-24l-15 5l-17 23z" fill="#f2fff2"/>
<path d="M5469 962l15-5l-15-8l-16 7z" fill="#fffbfb"/>
<path d="M5178 882l17 1l-14-53l-17-2z" fill="#ffc6c6"/>
<path d="M4730 1019l19-20l-4 80l-19 8z" fill="#d7ffd7"/>
<path d="M5643 931l8 53l-16-8l-8-53z" fill="#fffafa"/>
<path d="M5406 965l16-8l-15 0l-16 14z" fill="#fffdfd"/>
<path d="M5531 957l17-28l-17-3l-16 23z" fill="#fff5f5"/>
<path d="M4847 943l17-45l-11 26l-16 46z" fill="#fff2f2"/>
<path d="M5438 955l15 1l-15-5l-16 6z" fill="#fffafa"/>
<path d="M5341 1038l16-23l-15 4l-16 21z" fill="#e7ffe7"/>
<path d="M4867 852l15-71l-9 54l-15 60z" fill="#fbb"/>
<path d="M5166 775l18 22l-15-44l-17-34z" fill="#ff7d7d"/>
<path d="M5175 931l17 1l-14-50l-17-1z" fill="#ffe3e3"/>
<path d="M4899 751l18-14l-9 61l-18 9z" fill="#ff8787"/>
<path d="M5201 1026l17 8l-14-24l-17-9z" fill="#efe"/>
<path d="M5293 1066l16-10l-15-1l-16 9z" fill="#d0ffd0" stroke-width="2.6"/>
<path d="M5187 1001l17 9l-14-35l-18-9z" fill="#fcfffc"/>
<path d="M5515 978l16-21l-16-8l-16 18z" fill="#fffcfc"/>
<path d="M5079 552l19 67l-13 10l-19-63z" fill="#f00"/>
<path d="M5261 1066l17-2l-15-5l-16 2z" fill="#cfffcf" stroke-width="2.6"/>
<path d="M5215 1043l17 8l-14-17l-17-8z" fill="#e2ffe2"/>
<path d="M4827 935l20 8l-10 27l-19 0z" fill="#fff9f9"/>
<path d="M4712 1041l18-22l-4 68l-19 9z" fill="#d1ffd1" stroke-width="2.6"/>
<path d="M5564 934l16-23l-17-1l-15 19z" fill="#ffe9e9"/>
<path d="M5484 969l15-2l-15-10l-15 5z" fill="#fffcfc"/>
<path d="M5324 1057l17-19l-15 2l-17 16z" fill="#dbffdb"/>
<path d="M5659 944l8 48l-16-8l-8-53z" fill="#fffbfb"/>
<path d="M4999 599l18 5l-11 50l-18 1z" fill="#ff0303"/>
<path d="M5596 914l14 3l-16-3l-14-3z" fill="#ffe5e5"/>
<path d="M5390 981l16-16l-15 6l-17 20z" fill="#fff"/>
<path d="M4882 781l17-30l-9 56l-17 28z" fill="#ff9595"/>
<path d="M5547 966l17-32l-16-5l-17 28z" fill="#fff5f5"/>
<path d="M5172 966l18 9l-15-44l-17-7z" fill="#fff5f5"/>
<path d="M5164 828l17 2l-15-55l-17-1z" fill="#ff9a9a"/>
<path d="M5048 570l18-4l-13 32l-18 3z" fill="#f00"/>
<path d="M5152 719l17 34l-14-44l-18-46z" fill="#ff4e4e"/>
<path d="M5230 1054l17 7l-15-10l-17-8z" fill="#dbffdb"/>
<path d="M5454 952l15 10l-16-6l-15-1z" fill="#fff8f8"/>
<path d="M5530 988l17-22l-16-9l-16 21z" fill="#fffdfd"/>
<path d="M5373 1006l17-25l-16 10l-17 24z" fill="#fbfffb"/>
<path d="M4864 898l14-74l-11 28l-14 72z" fill="#fcc"/>
<path d="M5161 881l17 1l-14-54l-18 0z" fill="#ffbebe"/>
<path d="M4982 641l17-42l-11 56l-17 35z" fill="#ff1212"/>
<path d="M5423 955l15 0l-16 2l-16 8z" fill="#fff8f8"/>
<path d="M4964 664l18-23l-11 49l-18 22z" fill="#ff2e2e"/>
<path d="M5674 960l9 41l-16-9l-8-48z" fill="#fffdfd"/>
<path d="M4693 1056l19-15l-5 55l-20 9z" fill="#cbffcb" stroke-width="2.6"/>
<path d="M5500 976l15 2l-16-11l-15 2z" fill="#fffcfc"/>
<path d="M5308 1066l16-9l-15-1l-16 10z" fill="#d6ffd6"/>
<path d="M5356 1035l17-29l-16 9l-16 23z" fill="#f0fff0"/>
<path d="M5276 1067l17-1l-15-2l-17 2z" fill="#d3ffd3"/>
<path d="M4554 1233l24 15l0 67l-26-26z" fill="#0f0" stroke-width="2.6"/>
<path d="M5580 941l16-27l-16-3l-16 23z" fill="#ffe8e8"/>
<path d="M5613 921l14 2l-17-6l-14-3z" fill="#ffe4e4"/>
<path d="M4774 924l22 20l-7 59l-21-12z" fill="#fffafa"/>
<path d="M5093 555l19 68l-14-4l-19-67z" fill="#f00"/>
<path d="M5158 924l17 7l-14-50l-18-7z" fill="#ffdada"/>
<path d="M5562 976l18-35l-16-7l-17 32z" fill="#fff5f5"/>
<path d="M5339 1058l17-23l-15 3l-17 19z" fill="#e4ffe4"/>
<path d="M5137 663l18 46l-14-39l-19-56z" fill="#ff1e1e"/>
<path d="M5546 999l16-23l-15-10l-17 22z" fill="#fffefe"/>
<path d="M5690 979l10 31l-17-9l-9-41z" fill="#fff"/>
<path d="M5245 1060l16 6l-14-5l-17-7z" fill="#dbffdb"/>
<path d="M5149 774l17 1l-14-56l-18 0z" fill="#ff6767"/>
<path d="M4945 666l19-2l-11 48l-18 6z" fill="#ff3535"/>
<path d="M5029 572l19-2l-13 31l-18 3z" fill="#f00"/>
<path d="M4858 925l17-43l-11 16l-17 45z" fill="#ffdede"/>
<path d="M5516 983l14 5l-15-10l-15-2z" fill="#fffdfd"/>
<path d="M5470 948l14 21l-15-7l-15-10z" fill="#fff5f5"/>
<path d="M5184 1008l17 18l-14-25l-18-19z" fill="#fcfffc"/>
<path d="M4673 1069l20-13l-6 49l-19 13z" fill="#c6ffc6" stroke-width="2.6"/>
<path d="M5406 966l17-11l-17 10l-16 16z" fill="#fff8f8"/>
<path d="M5146 828l18 0l-15-54l-18-1z" fill="#ff9292"/>
<path d="M5107 576l19 64l-14-17l-19-68z" fill="#f00"/>
<path d="M5169 982l18 19l-15-35l-17-18z" fill="#fffbfb"/>
<path d="M5122 614l19 56l-15-30l-19-64z" fill="#f00"/>
<path d="M5629 930l14 1l-16-8l-14-2z" fill="#ffe5e5"/>
<path d="M5596 949l17-28l-17-7l-16 27z" fill="#ffe7e7"/>
<path d="M5198 1026l17 17l-14-17l-17-18z" fill="#f4fff4"/>
<path d="M5705 1002l11 16l-16-8l-10-31z" fill="#fdfffd"/>
<path d="M5578 986l18-37l-16-8l-18 35z" fill="#fff6f6"/>
<path d="M5323 1068l16-10l-15-1l-16 9z" fill="#dfd"/>
<path d="M5291 1067l17-1l-15 0l-17 1z" fill="#daffda"/>
<path d="M5562 1008l16-22l-16-10l-16 23z" fill="#fff"/>
<path d="M4804 899l23 36l-9 35l-22-26z" fill="#ffe9e9"/>
<path d="M5143 874l18 7l-15-53l-18-8z" fill="#ffb4b4"/>
<path d="M5439 941l15 11l-16 3l-15 0z" fill="#fff0f0"/>
<path d="M5155 948l17 18l-14-42l-18-17z" fill="#ffe9e9"/>
<path d="M4837 911l21 14l-11 18l-20-8z" fill="#ffe4e4"/>
<path d="M5389 996l17-30l-16 15l-17 25z" fill="#fffdfd"/>
<path d="M4928 694l17-28l-10 52l-18 19z" fill="#ff3d3d"/>
<path d="M4878 824l14-81l-10 38l-15 71z" fill="#ff8e8e"/>
<path d="M5372 1032l17-36l-16 10l-17 29z" fill="#f9fff9"/>
<path d="M4654 1089l19-20l-5 49l-18 24z" fill="#bcffbc" stroke-width="2.6"/>
<path d="M5061 555l18-3l-13 14l-18 4z" fill="#f00"/>
<path d="M5532 989l14 10l-16-11l-14-5z" fill="#fffefe"/>
<path d="M5259 1062l17 5l-15-1l-16-6z" fill="#dfffdf"/>
<path d="M5720 1025l13 1l-17-8l-11-16z" fill="#f9fff9"/>
<path d="M4619 1155l17-35l-3 59l-16 38z" fill="#79ff79" stroke-width="2.6"/>
<path d="M5213 1039l17 15l-15-11l-17-17z" fill="#efe"/>
<path d="M4601 1182l18-27l-2 62l-18 27z" fill="#53ff53" stroke-width="2.6"/>
<path d="M5355 1061l17-29l-16 3l-17 23z" fill="#ebffeb"/>
<path d="M4636 1120l18-31l-4 53l-17 37z" fill="#a2ffa2" stroke-width="2.6"/>
<path d="M5645 943l14 1l-16-13l-14-1z" fill="#ffe7e7"/>
<path d="M4754 935l20-11l-6 67l-19 8z" fill="#fff3f3"/>
<path d="M5134 719l18 0l-15-56l-18 1z" fill="#ff2f2f"/>
<path d="M4875 882l14-74l-11 16l-14 74z" fill="#ffb3b3"/>
<path d="M5612 959l17-29l-16-9l-17 28z" fill="#ffe8e8"/>
<path d="M5594 995l18-36l-16-10l-18 37z" fill="#fff7f7"/>
<path d="M5487 944l13 32l-16-7l-14-21z" fill="#fff2f2"/>
<path d="M4909 713l19-19l-11 43l-18 14z" fill="#ff4c4c"/>
<path d="M5131 773l18 1l-15-55l-18-1z" fill="#ff5f5f"/>
<path d="M5578 1016l16-21l-16-9l-16 22z" fill="#fff"/>
<path d="M5011 563l18 9l-12 32l-18-5z" fill="#f00"/>
<path d="M5735 1050l15-15l-17-9l-13-1z" fill="#f4fff4"/>
<path d="M5140 907l18 17l-15-50l-18-12z" fill="#fcc"/>
<path d="M5660 960l14 0l-15-16l-14-1z" fill="#ffeded"/>
<path d="M5338 1072l17-11l-16-3l-16 10z" fill="#e2ffe2"/>
<path d="M4892 743l17-30l-10 38l-17 30z" fill="#ff5e5e"/>
<path d="M4580 1192l21-10l-2 62l-21 4z" fill="#46ff46" stroke-width="2.6"/>
<path d="M4870 915l17-40l-12 7l-17 43z" fill="#ffcfcf"/>
<path d="M5548 994l14 14l-16-9l-14-10z" fill="#fffefe"/>
<path d="M5306 1067l17 1l-15-2l-17 1z" fill="#e1ffe1"/>
<path d="M5228 1046l17 14l-15-6l-17-15z" fill="#edffed"/>
<path d="M4736 966l18-31l-5 64l-19 20z" fill="#fff8f8"/>
<path d="M5128 820l18 8l-15-55l-18-10z" fill="#ff8585"/>
<path d="M5628 970l17-27l-16-13l-17 29z" fill="#ffebeb"/>
<path d="M5750 1075l17-32l-17-8l-15 15z" fill="#edffed"/>
<path d="M4976 631l18-22l-12 32l-18 23z" fill="#f00"/>
<path d="M4994 609l17-46l-12 36l-17 42z" fill="#f00"/>
<path d="M5611 1003l17-33l-16-11l-18 36z" fill="#fff8f8"/>
<path d="M5423 948l16-7l-16 14l-17 11z" fill="#ffecec"/>
<path d="M5043 557l18-2l-13 15l-19 2z" fill="#f00"/>
<path d="M5676 980l14-1l-16-19l-14 0z" fill="#fff3f3"/>
<path d="M4719 999l17-33l-6 53l-18 22z" fill="#fff"/>
<path d="M5274 1061l17 6l-15 0l-17-5z" fill="#e5ffe5"/>
<path d="M5119 664l18-1l-15-49l-18 1z" fill="#f00"/>
<path d="M5370 1068l18-38l-16 2l-17 29z" fill="#f0fff0"/>
<path d="M5075 557l18-2l-14-3l-18 3z" fill="#f00"/>
<path d="M4526 1205l28 28l-2 56l-29-41z" fill="#27ff27" stroke-width="2.6"/>
<path d="M5456 925l14 23l-16 4l-15-11z" fill="#ffe5e5"/>
<path d="M5595 1021l16-18l-17-8l-16 21z" fill="#fff"/>
<path d="M5691 1003l14-1l-15-23l-14 1z" fill="#fffbfb"/>
<path d="M5125 862l18 12l-15-54l-18-5z" fill="#ffa5a5"/>
<path d="M5388 1030l18-47l-17 13l-17 36z" fill="#fff"/>
<path d="M5504 940l12 43l-16-7l-13-32z" fill="#fee"/>
<path d="M5166 989l18 19l-15-26l-17-18z" fill="#fff9f9"/>
<path d="M5765 1099l19-48l-17-8l-17 32z" fill="#e5ffe5"/>
<path d="M5152 964l17 18l-14-34l-18-17z" fill="#ffecec"/>
<path d="M5116 718l18 1l-15-55l-18-1z" fill="#ff2727"/>
<path d="M5644 983l16-23l-15-17l-17 27z" fill="#ffefef"/>
<path d="M4700 1018l19-19l-7 42l-19 15z" fill="#fafffa"/>
<path d="M5706 1027l14-2l-15-23l-14 1z" fill="#fff"/>
<path d="M5406 983l17-35l-17 18l-17 30z" fill="#fff3f3"/>
<path d="M4849 898l21 17l-12 10l-21-14z" fill="#ffd3d3"/>
<path d="M5181 1009l17 17l-14-18l-18-19z" fill="#fff"/>
<path d="M5353 1079l17-11l-15-7l-17 11z" fill="#e4ffe4"/>
<path d="M5721 1052l14-2l-15-25l-14 2z" fill="#f7fff7"/>
<path d="M5565 998l13 18l-16-8l-14-14z" fill="#fffefe"/>
<path d="M5627 1010l17-27l-16-13l-17 33z" fill="#fffafa"/>
<path d="M5104 615l18-1l-15-38l-18 2z" fill="#f00"/>
<path d="M5736 1077l14-2l-15-25l-14 2z" fill="#e9ffe9"/>
<path d="M5242 1050l17 12l-14-2l-17-14z" fill="#efffef"/>
<path d="M4887 875l15-74l-13 7l-14 74z" fill="#ffa2a2"/>
<path d="M5089 578l18-2l-14-21l-18 2z" fill="#f00"/>
<path d="M4957 630l19 1l-12 33l-19 2z" fill="#f00"/>
<path d="M5137 931l18 17l-15-41l-18-15z" fill="#ffd6d6"/>
<path d="M5322 1068l16 4l-15-4l-17-1z" fill="#e7ffe7"/>
<path d="M5751 1102l14-3l-15-24l-14 2z" fill="#d9ffd9"/>
<path d="M5113 763l18 10l-15-55l-18-13z" fill="#ff5050"/>
<path d="M5780 1121l21-63l-17-7l-19 48z" fill="#deffde"/>
<path d="M5660 997l16-17l-16-20l-16 23z" fill="#fff4f4"/>
<path d="M4889 808l14-88l-11 23l-14 81z" fill="#ff6c6c"/>
<path d="M4883 913l17-37l-13-1l-17 40z" fill="#ffc5c5"/>
<path d="M5766 1124l14-3l-15-22l-14 3z" fill="#c7ffc7" stroke-width="2.6"/>
<path d="M5195 1023l18 16l-15-13l-17-17z" fill="#fdfffd"/>
<path d="M4781 872l23 27l-8 45l-22-20z" fill="#ffcfcf"/>
<path d="M4814 871l23 40l-10 24l-23-36z" fill="#ffcbcb"/>
<path d="M5612 1022l15-12l-16-7l-16 18z" fill="#fff"/>
<path d="M5385 1077l18-48l-15 1l-18 38z" fill="#f3fff3"/>
<path d="M4557 1186l23 6l-2 56l-24-15z" fill="#5aff5a" stroke-width="2.6"/>
<path d="M4680 1030l20-12l-7 38l-20 13z" fill="#f7fff7"/>
<path d="M5110 815l18 5l-15-57l-18 4z" fill="#ff7878"/>
<path d="M5290 1059l16 8l-15 0l-17-6z" fill="#ecffec"/>
<path d="M5057 558l18-1l-14-2l-18 2z" fill="#f00"/>
<path d="M5782 1144l14-3l-16-20l-14 3z" fill="#b6ffb6" stroke-width="2.6"/>
<path d="M5101 663l18 1l-15-49l-18 0z" fill="#f00"/>
<path d="M5122 892l18 15l-15-45l-18-12z" fill="#ffb9b9"/>
<path d="M5676 1012l15-9l-15-23l-16 17z" fill="#fffafa"/>
<path d="M5369 1090l16-13l-15-9l-17 11z" fill="#e3ffe3"/>
<path d="M5024 545l19 12l-14 15l-18-9z" fill="#f00"/>
<path d="M5521 936l11 53l-16-6l-12-43z" fill="#ffebeb"/>
<path d="M4939 665l18-35l-12 36l-17 28z" fill="#ff0808"/>
<path d="M5644 1016l16-19l-16-14l-17 27z" fill="#fffbfb"/>
<path d="M5796 1141l23-76l-18-7l-21 63z" fill="#d7ffd7"/>
<path d="M5582 1000l13 21l-17-5l-13-18z" fill="#fffdfd"/>
<path d="M4921 688l18-23l-11 29l-19 19z" fill="#ff1f1f"/>
<path d="M5692 1028l14-1l-15-24l-15 9z" fill="#fff"/>
<path d="M5798 1161l14-3l-16-17l-14 3z" fill="#a8ffa8" stroke-width="2.6"/>
<path d="M5474 909l13 35l-17 4l-14-23z" fill="#ffd9d9"/>
<path d="M5210 1032l18 14l-15-7l-18-16z" fill="#fcfffc"/>
<path d="M5403 1029l19-60l-16 14l-18 47z" fill="#fffafa"/>
<path d="M5440 926l16-1l-17 16l-16 7z" fill="#ffdada"/>
<path d="M5258 1050l16 11l-15 1l-17-12z" fill="#f3fff3"/>
<path d="M5337 1072l16 7l-15-7l-16-4z" fill="#eaffea"/>
<path d="M5086 615l18 0l-15-37l-18 0z" fill="#f00"/>
<path d="M5071 578l18 0l-14-21l-18 1z" fill="#f00"/>
<path d="M4861 894l22 19l-13 2l-21-17z" fill="#ffc7c7"/>
<path d="M4900 876l15-73l-13-2l-15 74z" fill="#f99"/>
<path d="M4903 720l18-32l-12 25l-17 30z" fill="#ff3535"/>
<path d="M5098 705l18 13l-15-55l-18-14z" fill="#ff1717"/>
<path d="M4660 1046l20-16l-7 39l-19 20z" fill="#f3fff3"/>
<path d="M4988 611l18-20l-12 18l-18 22z" fill="#f00"/>
<path d="M5006 591l18-46l-13 18l-17 46z" fill="#f00"/>
<path d="M5107 850l18 12l-15-47l-18-8z" fill="#ff9595"/>
<path d="M5708 1044l13 8l-15-25l-14 1z" fill="#fcfffc"/>
<path d="M5384 1104l17-15l-16-12l-16 13z" fill="#dfffdf"/>
<path d="M4896 917l17-34l-13-7l-17 37z" fill="#ffc2c2"/>
<path d="M5401 1089l19-59l-17-1l-18 48z" fill="#f4fff4"/>
<path d="M5812 1158l25-86l-18-7l-23 76z" fill="#d1ffd1" stroke-width="2.6"/>
<path d="M5629 1021l15-5l-17-6l-15 12z" fill="#fffefe"/>
<path d="M5661 1020l15-8l-16-15l-16 19z" fill="#fffcfc"/>
<path d="M5148 984l18 5l-14-25l-18-6z" fill="#ffeded"/>
<path d="M5095 767l18-4l-15-58l-18 13z" fill="#ff4646"/>
<path d="M5134 958l18 6l-15-33l-18-4z" fill="#ffdede"/>
<path d="M5815 1175l14-5l-17-12l-14 3z" fill="#9eff9e" stroke-width="2.6"/>
<path d="M5422 969l18-43l-17 22l-17 35z" fill="#ffe4e4"/>
<path d="M5725 1059l11 18l-15-25l-13-8z" fill="#f5fff5"/>
<path d="M4642 1073l18-27l-6 43l-18 31z" fill="#e7ffe7"/>
<path d="M5163 1003l18 6l-15-20l-18-5z" fill="#fff6f6"/>
<path d="M4624 1105l18-32l-6 47l-17 35z" fill="#d0ffd0" stroke-width="2.6"/>
<path d="M5305 1058l17 10l-16-1l-16-8z" fill="#f3fff3"/>
<path d="M5538 933l10 61l-16-5l-11-53z" fill="#ffe7e7"/>
<path d="M5119 927l18 4l-15-39l-18-4z" fill="#ffc7c7"/>
<path d="M4762 889l19-17l-7 52l-20 11z" fill="#ffc4c4"/>
<path d="M4605 1132l19-27l-5 50l-18 27z" fill="#b7ffb7" stroke-width="2.6"/>
<path d="M5225 1038l17 12l-14-4l-18-14z" fill="#fcfffc"/>
<path d="M5599 1000l13 22l-17-1l-13-21z" fill="#fffbfb"/>
<path d="M4902 801l14-92l-13 11l-14 88z" fill="#ff5656"/>
<path d="M5399 1120l17-17l-15-14l-17 15z" fill="#d9ffd9"/>
<path d="M5741 1075l10 27l-15-25l-11-18z" fill="#ebffeb"/>
<path d="M5092 807l18 8l-15-48l-18-4z" fill="#ff6d6d"/>
<path d="M5353 1079l16 11l-16-11l-16-7z" fill="#eaffea"/>
<path d="M5037 544l20 14l-14-1l-19-12z" fill="#f00"/>
<path d="M4909 927l18-30l-14-14l-17 34z" fill="#ffc4c4"/>
<path d="M5829 1170l26-92l-18-6l-25 86z" fill="#ceffce" stroke-width="2.6"/>
<path d="M4727 968l17-40l-8 38l-17 33z" fill="#ffe6e6"/>
<path d="M4913 883l16-69l-14-11l-15 73z" fill="#ff9898"/>
<path d="M5178 1018l17 5l-14-14l-18-6z" fill="#fffbfb"/>
<path d="M4969 608l19 3l-12 20l-19-1z" fill="#f00"/>
<path d="M5083 649l18 14l-15-48l-19-15z" fill="#f00"/>
<path d="M5679 1024l13 4l-16-16l-15 8z" fill="#fffdfd"/>
<path d="M5416 1103l20-71l-16-2l-19 59z" fill="#f4fff4"/>
<path d="M4744 928l18-39l-8 46l-18 31z" fill="#ffd2d2"/>
<path d="M5273 1049l17 10l-16 2l-16-11z" fill="#f9fff9"/>
<path d="M4825 854l24 44l-12 13l-23-40z" fill="#ffb4b4"/>
<path d="M5104 888l18 4l-15-42l-19-5z" fill="#ffa9a9"/>
<path d="M5833 1183l13-5l-17-8l-14 5z" fill="#9bff9b" stroke-width="2.6"/>
<path d="M5758 1089l8 35l-15-22l-10-27z" fill="#e1ffe1"/>
<path d="M4708 991l19-23l-8 31l-19 19z" fill="#fff3f3"/>
<path d="M4874 898l22 19l-13-4l-22-19z" fill="#ffc2c2"/>
<path d="M5080 718l18-13l-15-56l-18 22z" fill="#ff1212"/>
<path d="M5415 1136l17-18l-16-15l-17 17z" fill="#d1ffd1"/>
<path d="M5420 1030l19-75l-17 14l-19 60z" fill="#fff3f3"/>
<path d="M4584 1146l21-14l-4 50l-21 10z" fill="#afa" stroke-width="2.6"/>
<path d="M5647 1017l14 3l-17-4l-15 5z" fill="#fffbfb"/>
<path d="M5491 893l13 47l-17 4l-13-35z" fill="#ffcbcb"/>
<path d="M4498 1171l28 34l-3 43l-31-52z" fill="#7eff7e" stroke-width="2.6"/>
<path d="M5116 976l18-18l-15-31l-18 18z" fill="#fdd"/>
<path d="M4531 1171l26 15l-3 47l-28-28z" fill="#85ff85" stroke-width="2.6"/>
<path d="M5130 1000l18-16l-14-26l-18 18z" fill="#ffebeb"/>
<path d="M4923 942l18-27l-14-18l-18 30z" fill="#ffcaca"/>
<path d="M5077 763l18 4l-15-49l-19 0z" fill="#ff4242"/>
<path d="M5020 587l17-43l-13 1l-18 46z" fill="#f00"/>
<path d="M5052 563l19 15l-14-20l-20-14z" fill="#f00"/>
<path d="M5067 600l19 15l-15-37l-19-15z" fill="#f00"/>
<path d="M5368 1087l16 17l-15-14l-16-11z" fill="#e8ffe8"/>
<path d="M4927 897l16-64l-14-19l-16 69z" fill="#ff9e9e"/>
<path d="M5775 1102l7 42l-16-20l-8-35z" fill="#d6ffd6"/>
<path d="M4951 648l18-40l-12 22l-18 35z" fill="#f00"/>
<path d="M5002 605l18-18l-14 4l-18 20z" fill="#f00"/>
<path d="M5193 1028l17 4l-15-9l-17-5z" fill="#fffdfd"/>
<path d="M5101 945l18-18l-15-39l-18 21z" fill="#ffc7c7"/>
<path d="M4933 675l18-27l-12 17l-18 23z" fill="#f00"/>
<path d="M5145 1018l18-15l-15-19l-18 16z" fill="#fff4f4"/>
<path d="M5555 931l10 67l-17-4l-10-61z" fill="#ffe2e2"/>
<path d="M5321 1057l16 15l-15-4l-17-10z" fill="#f7fff7"/>
<path d="M5088 845l19 5l-15-43l-19-6z" fill="#ff8686"/>
<path d="M5098 1007l18-31l-15-31l-18 33z" fill="#ffe8e8"/>
<path d="M5240 1041l18 9l-16 0l-17-12z" fill="#fefffe"/>
<path d="M5846 1178l27-94l-18-6l-26 92z" fill="#ceffce" stroke-width="2.6"/>
<path d="M5696 1027l12 17l-16-16l-13-4z" fill="#fffefe"/>
<path d="M5080 1038l18-31l-15-29l-18 34z" fill="#fff7f7"/>
<path d="M5458 903l16 6l-18 16l-16 1z" fill="#ffc5c5"/>
<path d="M4916 709l17-34l-12 13l-18 32z" fill="#ff1919"/>
<path d="M5113 1029l17-29l-14-24l-18 31z" fill="#fff4f4"/>
<path d="M5432 1118l20-82l-16-4l-20 71z" fill="#f4fff4"/>
<path d="M5430 1152l17-20l-15-14l-17 18z" fill="#c9ffc9" stroke-width="2.6"/>
<path d="M4688 1002l20-11l-8 27l-20 12z" fill="#fff7f7"/>
<path d="M4790 837l24 34l-10 28l-23-27z" fill="#ffa6a6"/>
<path d="M5065 1012l18-34l-15-35l-18 38z" fill="#ffe9e9"/>
<path d="M4937 960l19-24l-15-21l-18 27z" fill="#ffd3d3"/>
<path d="M4941 915l17-56l-15-26l-16 64z" fill="#faa"/>
<path d="M5617 997l12 24l-17 1l-13-22z" fill="#fff7f7"/>
<path d="M5083 978l18-33l-15-36l-18 34z" fill="#ffd6d6"/>
<path d="M5047 1037l18-25l-15-31l-17 30z" fill="#fff7f7"/>
<path d="M4915 803l14-92l-13-2l-14 92z" fill="#ff4b4b"/>
<path d="M4888 910l21 17l-13-10l-22-19z" fill="#ffc3c3"/>
<path d="M5095 1057l18-28l-15-22l-18 31z" fill="#fffefe"/>
<path d="M5065 671l18-22l-16-49l-18 30z" fill="#f00"/>
<path d="M5062 1059l18-21l-15-26l-18 25z" fill="#fffefe"/>
<path d="M5033 1011l17-30l-15-36l-17 37z" fill="#ffe9e9"/>
<path d="M5086 909l18-21l-16-43l-17 25z" fill="#faa"/>
<path d="M5792 1115l6 46l-16-17l-7-42z" fill="#ceffce" stroke-width="2.6"/>
<path d="M4956 936l17-48l-15-29l-17 56z" fill="#ffb9b9"/>
<path d="M5852 1186l13-6l-19-2l-13 5z" fill="#9fff9f" stroke-width="2.6"/>
<path d="M5160 1031l18-13l-15-15l-18 15z" fill="#fff9f9"/>
<path d="M5061 718l19 0l-15-47l-19 5z" fill="#ff1515"/>
<path d="M5050 981l18-38l-15-38l-18 40z" fill="#ffd4d4"/>
<path d="M5127 1045l18-27l-15-18l-17 29z" fill="#fffafa"/>
<path d="M4952 981l18-21l-14-24l-19 24z" fill="#fdd"/>
<path d="M4970 960l18-42l-15-30l-17 48z" fill="#ffc9c9"/>
<path d="M5000 1010l18-28l-15-32l-18 35z" fill="#ffe9e9"/>
<path d="M4985 985l18-35l-15-32l-18 42z" fill="#ffdada"/>
<path d="M5384 1098l15 22l-15-16l-16-17z" fill="#e4ffe4"/>
<path d="M5014 1033l19-22l-15-29l-18 28z" fill="#fff5f5"/>
<path d="M5439 955l19-52l-18 23l-18 43z" fill="#ffd1d1"/>
<path d="M5068 943l18-34l-15-39l-18 35z" fill="#ffbdbd"/>
<path d="M5018 982l17-37l-15-39l-17 44z" fill="#ffd5d5"/>
<path d="M5034 601l18-38l-15-19l-17 43z" fill="#f00"/>
<path d="M5073 801l19 6l-15-44l-19-7z" fill="#ff5f5f"/>
<path d="M5288 1048l17 10l-15 1l-17-10z" fill="#fdfffd"/>
<path d="M5077 1075l18-18l-15-19l-18 21z" fill="#fcfffc"/>
<path d="M5029 1054l18-17l-14-26l-19 22z" fill="#fffdfd"/>
<path d="M5446 1167l17-21l-16-14l-17 20z" fill="#c1ffc1" stroke-width="2.6"/>
<path d="M4966 1003l19-18l-15-25l-18 21z" fill="#ffe8e8"/>
<path d="M5109 1071l18-26l-14-16l-18 28z" fill="#fefffe"/>
<path d="M5049 630l18-30l-15-37l-18 38z" fill="#f00"/>
<path d="M5208 1035l17 3l-15-6l-17-4z" fill="#fffdfd"/>
<path d="M4562 1149l22-3l-4 46l-23-6z" fill="#b0ffb0" stroke-width="2.6"/>
<path d="M5016 615l18-14l-14-14l-18 18z" fill="#f00"/>
<path d="M5666 1012l13 12l-18-4l-14-3z" fill="#fff8f8"/>
<path d="M4982 600l20 5l-14 6l-19-3z" fill="#f00"/>
<path d="M5035 945l18-40l-15-40l-18 41z" fill="#ffbaba"/>
<path d="M5714 1030l11 29l-17-15l-12-17z" fill="#fffefe"/>
<path d="M4902 927l21 15l-14-15l-21-17z" fill="#ffc8c8"/>
<path d="M5003 950l17-44l-15-41l-17 53z" fill="#ffbdbd"/>
<path d="M5447 1132l21-90l-16-6l-20 82z" fill="#f2fff2"/>
<path d="M4981 1025l19-15l-15-25l-19 18z" fill="#fff2f2"/>
<path d="M5071 870l17-25l-15-44l-18 29z" fill="#ff8989"/>
<path d="M4837 849l24 45l-12 4l-24-44z" fill="#ffa4a4"/>
<path d="M5044 1071l18-12l-15-22l-18 17z" fill="#fdfffd"/>
<path d="M5046 676l19-5l-16-41l-18 10z" fill="#f00"/>
<path d="M5436 1032l21-90l-18 13l-19 75z" fill="#ffebeb"/>
<path d="M4668 1015l20-13l-8 28l-20 16z" fill="#fff9f9"/>
<path d="M5053 905l18-35l-16-40l-17 35z" fill="#ff9f9f"/>
<path d="M5142 1056l18-25l-15-13l-18 27z" fill="#fffdfd"/>
<path d="M5809 1125l6 50l-17-14l-6-46z" fill="#c8ffc8" stroke-width="2.6"/>
<path d="M5865 1180l27-91l-19-5l-27 94z" fill="#d1ffd1" stroke-width="2.6"/>
<path d="M5337 1059l16 20l-16-7l-16-15z" fill="#fafffa"/>
<path d="M4929 814l14-89l-14-14l-14 92z" fill="#ff4d4d"/>
<path d="M5573 931l9 69l-17-2l-10-67z" fill="#ffdede"/>
<path d="M4996 1046l18-13l-14-23l-19 15z" fill="#fffafa"/>
<path d="M5175 1041l18-13l-15-10l-18 13z" fill="#fffbfb"/>
<path d="M5400 1110l15 26l-16-16l-15-22z" fill="#dfffdf"/>
<path d="M5031 640l18-10l-15-29l-18 14z" fill="#f00"/>
<path d="M5509 879l12 57l-17 4l-13-47z" fill="#ffbebe"/>
<path d="M5256 1042l17 7l-15 1l-18-9z" fill="#fff"/>
<path d="M4988 918l17-53l-16-40l-16 63z" fill="#ffa3a3"/>
<path d="M5091 1086l18-15l-14-14l-18 18z" fill="#f8fff8"/>
<path d="M5058 756l19 7l-16-45l-19-7z" fill="#ff3535"/>
<path d="M4917 948l20 12l-14-18l-21-15z" fill="#ffd1d1"/>
<path d="M5020 906l18-41l-16-40l-17 40z" fill="#ff9c9c"/>
<path d="M5462 1180l17-21l-16-13l-17 21z" fill="#baffba" stroke-width="2.6"/>
<path d="M4947 674l18-31l-14 5l-18 27z" fill="#f00"/>
<path d="M5124 1080l18-24l-15-11l-18 26z" fill="#fcfffc"/>
<path d="M5010 1065l19-11l-15-21l-18 13z" fill="#fff"/>
<path d="M4965 643l17-43l-13 8l-18 40z" fill="#f00"/>
<path d="M4929 711l18-37l-14 1l-17 34z" fill="#ff0b0b"/>
<path d="M5058 1085l19-10l-15-16l-18 12z" fill="#f9fff9"/>
<path d="M4973 888l16-63l-15-39l-16 73z" fill="#f88"/>
<path d="M5055 830l18-29l-15-45l-18 34z" fill="#ff6464"/>
<path d="M5038 865l17-35l-15-40l-18 35z" fill="#ff7f7f"/>
<path d="M5635 993l12 24l-18 4l-12-24z" fill="#fff1f1"/>
<path d="M4943 833l15-82l-15-26l-14 89z" fill="#ff5959"/>
<path d="M4737 949l17-45l-10 24l-17 40z" fill="#fcc"/>
<path d="M4718 974l19-25l-10 19l-19 23z" fill="#ffdfdf"/>
<path d="M4648 1038l20-23l-8 31l-18 27z" fill="#fffefe"/>
<path d="M4958 859l16-73l-16-35l-15 82z" fill="#ff6e6e"/>
<path d="M4932 972l20 9l-15-21l-20-12z" fill="#ffdbdb"/>
<path d="M5463 1146l22-96l-17-8l-21 90z" fill="#f0fff0"/>
<path d="M5732 1033l9 42l-16-16l-11-29z" fill="#fff"/>
<path d="M5872 1182l13-7l-20 5l-13 6z" fill="#acffac" stroke-width="2.6"/>
<path d="M5223 1040l17 1l-15-3l-17-3z" fill="#fffcfc"/>
<path d="M4771 860l19-23l-9 35l-19 17z" fill="#f99"/>
<path d="M5416 1122l14 30l-15-16l-15-26z" fill="#d9ffd9"/>
<path d="M5157 1064l18-23l-15-10l-18 25z" fill="#fffefe"/>
<path d="M5005 865l17-40l-15-41l-18 41z" fill="#ff7b7b"/>
<path d="M5828 1133l5 50l-18-8l-6-50z" fill="#c5ffc5" stroke-width="2.6"/>
<path d="M4947 998l19 5l-14-22l-20-9z" fill="#ffe7e7"/>
<path d="M4630 1066l18-28l-6 35l-18 32z" fill="#fbfffb"/>
<path d="M5025 1081l19-10l-15-17l-19 11z" fill="#fcfffc"/>
<path d="M4754 904l17-44l-9 29l-18 39z" fill="#ffaeae"/>
<path d="M5042 711l19 7l-15-42l-19-8z" fill="#ff0a0a"/>
<path d="M5304 1046l17 11l-16 1l-17-10z" fill="#fff"/>
<path d="M4996 608l20 7l-14-10l-20-5z" fill="#f00"/>
<path d="M5190 1048l18-13l-15-7l-18 13z" fill="#fffbfb"/>
<path d="M5022 825l18-35l-16-41l-17 35z" fill="#ff5b5b"/>
<path d="M5106 1094l18-14l-15-9l-18 15z" fill="#f7fff7"/>
<path d="M4961 1024l20 1l-15-22l-19-5z" fill="#fff1f1"/>
<path d="M5040 790l18-34l-16-45l-18 38z" fill="#ff3d3d"/>
<path d="M5476 881l15 12l-17 16l-16-6z" fill="#ffaeae"/>
<path d="M5353 1061l15 26l-15-8l-16-20z" fill="#fbfffb"/>
<path d="M5685 1006l11 21l-17-3l-13-12z" fill="#fff3f3"/>
<path d="M5478 1190l17-21l-16-10l-17 21z" fill="#b5ffb5" stroke-width="2.6"/>
<path d="M4851 854l23 44l-13-4l-24-45z" fill="#ff9e9e"/>
<path d="M4611 1092l19-26l-6 39l-19 27z" fill="#efffef"/>
<path d="M5073 1094l18-8l-14-11l-19 10z" fill="#f6fff6"/>
<path d="M5885 1175l26-82l-19-4l-27 91z" fill="#d8ffd8"/>
<path d="M4505 1151l26 20l-5 34l-28-34z" fill="#b6ffb6" stroke-width="2.6"/>
<path d="M4976 1049l20-3l-15-21l-20-1z" fill="#fffafa"/>
<path d="M5139 1085l18-21l-15-8l-18 24z" fill="#fcfffc"/>
<path d="M5590 933l9 67l-17 0l-9-69z" fill="#ffd9d9"/>
<path d="M4698 984l20-10l-10 17l-20 11z" fill="#ffe5e5"/>
<path d="M4989 825l18-41l-16-39l-17 41z" fill="#ff5858"/>
<path d="M4943 725l18-39l-14-12l-18 37z" fill="#ff0c0c"/>
<path d="M5027 668l19 8l-15-36l-20-8z" fill="#f00"/>
<path d="M5452 1036l22-104l-17 10l-21 90z" fill="#ffe4e4"/>
<path d="M4961 686l18-33l-14-10l-18 31z" fill="#f00"/>
<path d="M4801 816l24 38l-11 17l-24-34z" fill="#ff8787"/>
<path d="M5011 632l20 8l-15-25l-20-7z" fill="#f00"/>
<path d="M5479 1159l22-99l-16-10l-22 96z" fill="#edffed"/>
<path d="M5432 1134l14 33l-16-15l-14-30z" fill="#d2ffd2"/>
<path d="M5271 1042l17 6l-15 1l-17-7z" fill="#fffcfc"/>
<path d="M5007 784l17-35l-15-40l-18 36z" fill="#ff3636"/>
<path d="M5039 1094l19-9l-14-14l-19 10z" fill="#f8fff8"/>
<path d="M5457 942l19-61l-18 22l-19 52z" fill="#ffbcbc"/>
<path d="M4979 653l17-45l-14-8l-17 43z" fill="#f00"/>
<path d="M5751 1036l7 53l-17-14l-9-42z" fill="#fff"/>
<path d="M4538 1144l24 5l-5 37l-26-15z" fill="#c3ffc3" stroke-width="2.6"/>
<path d="M4991 1072l19-7l-14-19l-20 3z" fill="#fff"/>
<path d="M5024 749l18-38l-15-43l-18 41z" fill="#ff1414"/>
<path d="M4974 786l17-41l-15-34l-18 40z" fill="#ff3636"/>
<path d="M4590 1110l21-18l-6 40l-21 14z" fill="#e5ffe5"/>
<path d="M4958 751l18-40l-15-25l-18 39z" fill="#ff1c1c"/>
<path d="M5527 867l11 66l-17 3l-12-57z" fill="#ffb0b0"/>
<path d="M5172 1068l18-20l-15-7l-18 23z" fill="#fffefe"/>
<path d="M4991 745l18-36l-15-33l-18 35z" fill="#ff1414"/>
<path d="M4976 711l18-35l-15-23l-18 33z" fill="#f00"/>
<path d="M5846 1139l6 47l-19-3l-5-50z" fill="#c8ffc8" stroke-width="2.6"/>
<path d="M5238 1043l18-1l-16-1l-17-1z" fill="#fffafa"/>
<path d="M4865 869l23 41l-14-12l-23-44z" fill="#ffa0a0"/>
<path d="M5654 988l12 24l-19 5l-12-24z" fill="#ffe9e9"/>
<path d="M5006 1091l19-10l-15-16l-19 7z" fill="#fcfffc"/>
<path d="M5495 1197l17-19l-17-9l-17 21z" fill="#b4ffb4" stroke-width="2.6"/>
<path d="M5120 1099l19-14l-15-5l-18 14z" fill="#f7fff7"/>
<path d="M5009 709l18-41l-16-36l-17 44z" fill="#f00"/>
<path d="M5205 1052l18-12l-15-5l-18 13z" fill="#fffafa"/>
<path d="M5087 1102l19-8l-15-8l-18 8z" fill="#f5fff5"/>
<path d="M4994 676l17-44l-15-24l-17 45z" fill="#f00"/>
<path d="M5369 1065l15 33l-16-11l-15-26z" fill="#fcfffc"/>
<path d="M4468 1136l30 35l-6 25l-33-52z" fill="#c8ffc8" stroke-width="2.6"/>
<path d="M5448 1145l14 35l-16-13l-14-33z" fill="#cdffcd" stroke-width="2.6"/>
<path d="M5320 1045l17 14l-16-2l-17-11z" fill="#fffcfc"/>
<path d="M5495 1169l23-97l-17-12l-22 99z" fill="#ebffeb"/>
<path d="M5054 1103l19-9l-15-9l-19 9z" fill="#f6fff6"/>
<path d="M4677 994l21-10l-10 18l-20 13z" fill="#ffe6e6"/>
<path d="M5153 1089l19-21l-15-4l-18 21z" fill="#fdfffd"/>
<path d="M5894 1170l13-7l-22 12l-13 7z" fill="#c1ffc1" stroke-width="2.6"/>
<path d="M4730 966l19-26l-12 9l-19 25z" fill="#ffcfcf"/>
<path d="M5704 999l10 31l-18-3l-11-21z" fill="#fee"/>
<path d="M5769 1040l6 62l-17-13l-7-53z" fill="#fff"/>
<path d="M4880 893l22 34l-14-17l-23-41z" fill="#ffa9a9"/>
<path d="M4749 940l16-48l-11 12l-17 45z" fill="#ffb8b8"/>
<path d="M5608 938l9 59l-18 3l-9-67z" fill="#ffd4d4"/>
<path d="M5020 1106l19-12l-14-13l-19 10z" fill="#f8fff8"/>
<path d="M5907 1163l24-67l-20-3l-26 82z" fill="#e2ffe2"/>
<path d="M5468 1042l24-116l-18 6l-22 104z" fill="#fdd"/>
<path d="M4895 921l22 27l-15-21l-22-34z" fill="#ffb7b7"/>
<path d="M4569 1120l21-10l-6 36l-22 3z" fill="#e4ffe4"/>
<path d="M5287 1042l17 4l-16 2l-17-6z" fill="#fff9f9"/>
<path d="M4957 1050l19-1l-15-25l-20-6z" fill="#fff5f5"/>
<path d="M5187 1071l18-19l-15-4l-18 20z" fill="#fffdfd"/>
<path d="M4941 1018l20 6l-14-26l-21-13z" fill="#ffe8e8"/>
<path d="M4910 951l22 21l-15-24l-22-27z" fill="#ffc7c7"/>
<path d="M4926 985l21 13l-15-26l-22-21z" fill="#ffd8d8"/>
<path d="M4972 1078l19-6l-15-23l-19 1z" fill="#fffefe"/>
<path d="M5464 1155l14 35l-16-10l-14-35z" fill="#caffca" stroke-width="2.6"/>
<path d="M4765 892l17-48l-11 16l-17 44z" fill="#ff9595"/>
<path d="M5385 1071l15 39l-16-12l-15-33z" fill="#fcfffc"/>
<path d="M5512 1202l16-18l-16-6l-17 19z" fill="#b6ffb6" stroke-width="2.6"/>
<path d="M5512 1178l22-92l-16-14l-23 97z" fill="#e8ffe8"/>
<path d="M5102 1107l18-8l-14-5l-19 8z" fill="#f6fff6"/>
<path d="M4782 844l19-28l-11 21l-19 23z" fill="#ff7979"/>
<path d="M5254 1045l17-3l-15 0l-18 1z" fill="#fff7f7"/>
<path d="M5495 860l14 19l-18 14l-15-12z" fill="#ff9797"/>
<path d="M5866 1142l6 40l-20 4l-6-47z" fill="#cfffcf" stroke-width="2.6"/>
<path d="M5135 1102l18-13l-14-4l-19 14z" fill="#f9fff9"/>
<path d="M4657 1013l20-19l-9 21l-20 23z" fill="#ffebeb"/>
<path d="M4709 976l21-10l-12 8l-20 10z" fill="#ffd6d6"/>
<path d="M4987 1102l19-11l-15-19l-19 6z" fill="#fcfffc"/>
<path d="M5220 1055l18-12l-15-3l-18 12z" fill="#fff9f9"/>
<path d="M4813 809l24 40l-12 5l-24-38z" fill="#ff7373"/>
<path d="M5068 1111l19-9l-14-8l-19 9z" fill="#f6fff6"/>
<path d="M5545 859l10 72l-17 2l-11-66z" fill="#ffa4a4"/>
<path d="M5035 1118l19-15l-15-9l-19 12z" fill="#f5fff5"/>
<path d="M5788 1046l4 69l-17-13l-6-62z" fill="#fff"/>
<path d="M5336 1045l17 16l-16-2l-17-14z" fill="#fff9f9"/>
<path d="M5474 932l21-72l-19 21l-19 61z" fill="#ffa7a7"/>
<path d="M5168 1091l19-20l-15-3l-19 21z" fill="#fefffe"/>
<path d="M5673 982l12 24l-19 6l-12-24z" fill="#ffe0e0"/>
<path d="M5001 1120l19-14l-14-15l-19 11z" fill="#f6fff6"/>
<path d="M4638 1038l19-25l-9 25l-18 28z" fill="#fff4f4"/>
<path d="M4513 1136l25 8l-7 27l-26-20z" fill="#dbffdb"/>
<path d="M5625 944l10 49l-18 4l-9-59z" fill="#ffcfcf"/>
<path d="M5723 993l9 40l-18-3l-10-31z" fill="#ffe8e8"/>
<path d="M4742 966l19-27l-12 1l-19 26z" fill="#ffc5c5"/>
<path d="M5528 1184l22-83l-16-15l-22 92z" fill="#e6ffe6"/>
<path d="M5481 1165l14 32l-17-7l-14-35z" fill="#c9ffc9" stroke-width="2.6"/>
<path d="M5485 1050l24-125l-17 1l-24 116z" fill="#ffd9d9"/>
<path d="M5401 1078l15 44l-16-12l-15-39z" fill="#fbfffb"/>
<path d="M4618 1063l20-25l-8 28l-19 26z" fill="#fffcfc"/>
<path d="M5202 1073l18-18l-15-3l-18 19z" fill="#fffbfb"/>
<path d="M4761 939l17-49l-13 2l-16 48z" fill="#ffacac"/>
<path d="M5303 1042l17 3l-16 1l-17-4z" fill="#fff4f4"/>
<path d="M4478 1131l27 20l-7 20l-30-35z" fill="#e0ffe0"/>
<path d="M5529 1204l17-16l-18-4l-16 18z" fill="#bfb" stroke-width="2.6"/>
<path d="M5116 1111l19-9l-15-3l-18 8z" fill="#f8fff8"/>
<path d="M4546 1125l23-5l-7 29l-24-5z" fill="#e9ffe9"/>
<path d="M5083 1117l19-10l-15-5l-19 9z" fill="#f7fff7"/>
<path d="M5049 1126l19-15l-14-8l-19 15z" fill="#f4fff4"/>
<path d="M4952 1086l20-8l-15-28l-20 4z" fill="#fffcfc"/>
<path d="M4688 983l21-7l-11 8l-21 10z" fill="#ffd6d6"/>
<path d="M5016 1133l19-15l-15-12l-19 14z" fill="#f2fff2"/>
<path d="M5806 1052l3 73l-17-10l-4-69z" fill="#fff"/>
<path d="M5150 1104l18-13l-15-2l-18 13z" fill="#fcfffc"/>
<path d="M5931 1142l19-43l-19-3l-24 67z" fill="#efffef"/>
<path d="M4967 1112l20-10l-15-24l-20 8z" fill="#fcfffc"/>
<path d="M5236 1057l18-12l-16-2l-18 12z" fill="#fff6f6"/>
<path d="M5269 1047l18-5l-16 0l-17 3z" fill="#fff4f4"/>
<path d="M4937 1054l20-4l-16-32l-20 0z" fill="#fff0f0"/>
<path d="M4827 816l24 38l-14-5l-24-40z" fill="#ff6d6d"/>
<path d="M5917 1150l14-8l-24 21l-13 7z" fill="#dcffdc"/>
<path d="M4598 1084l20-21l-7 29l-21 18z" fill="#fff"/>
<path d="M5886 1142l8 28l-22 12l-6-40z" fill="#dbffdb"/>
<path d="M4721 975l21-9l-12 0l-21 10z" fill="#ffcdcd"/>
<path d="M4778 890l16-51l-12 5l-17 48z" fill="#ff8686"/>
<path d="M5563 858l10 73l-18 0l-10-72z" fill="#ff9b9b"/>
<path d="M4921 1018l20 0l-15-33l-21-5z" fill="#fdd"/>
<path d="M4982 1131l19-11l-14-18l-20 10z" fill="#f5fff5"/>
<path d="M5353 1046l16 19l-16-4l-17-16z" fill="#fff7f7"/>
<path d="M5184 1092l18-19l-15-2l-19 20z" fill="#fff"/>
<path d="M5546 1188l21-71l-17-16l-22 83z" fill="#e4ffe4"/>
<path d="M5418 1085l14 49l-16-12l-15-44z" fill="#fafffa"/>
<path d="M4794 839l19-30l-12 7l-19 28z" fill="#f66"/>
<path d="M5498 1173l14 29l-17-5l-14-32z" fill="#caffca" stroke-width="2.6"/>
<path d="M5501 1060l25-130l-17-5l-24 125z" fill="#ffd7d7"/>
<path d="M5643 953l11 35l-19 5l-10-49z" fill="#ffcbcb"/>
<path d="M4905 980l21 5l-16-34l-21-11z" fill="#ffc7c7"/>
<path d="M4755 974l19-27l-13-8l-19 27z" fill="#ffc2c2"/>
<path d="M5513 843l14 24l-18 12l-14-19z" fill="#ff8181"/>
<path d="M5692 977l12 22l-19 7l-12-24z" fill="#ffd7d7"/>
<path d="M5031 1143l18-17l-14-8l-19 15z" fill="#f0fff0"/>
<path d="M5743 989l8 47l-19-3l-9-40z" fill="#ffe2e2"/>
<path d="M4774 947l17-49l-13-8l-17 49z" fill="#ffa9a9"/>
<path d="M4841 836l24 33l-14-15l-24-38z" fill="#ff7272"/>
<path d="M5825 1061l3 72l-19-8l-3-73z" fill="#fff"/>
<path d="M5217 1076l19-19l-16-2l-18 18z" fill="#fff9f9"/>
<path d="M5064 1133l19-16l-15-6l-19 15z" fill="#f5fff5"/>
<path d="M4667 998l21-15l-11 11l-20 19z" fill="#ffd9d9"/>
<path d="M4889 940l21 11l-15-30l-22-19z" fill="#ffafaf"/>
<path d="M4997 1144l19-11l-15-13l-19 11z" fill="#f0fff0"/>
<path d="M5098 1122l18-11l-14-4l-19 10z" fill="#f8fff8"/>
<path d="M5492 926l21-83l-18 17l-21 72z" fill="#ff9494"/>
<path d="M5131 1115l19-11l-15-2l-19 9z" fill="#fbfffb"/>
<path d="M4577 1100l21-16l-8 26l-21 10z" fill="#fcfffc"/>
<path d="M5546 1205l17-14l-17-3l-17 16z" fill="#c2ffc2" stroke-width="2.6"/>
<path d="M4932 1097l20-11l-15-32l-20 13z" fill="#fffcfc"/>
<path d="M5319 1042l17 3l-16 0l-17-3z" fill="#fff0f0"/>
<path d="M4873 902l22 19l-15-28l-23-27z" fill="#ff9797"/>
<path d="M4857 866l23 27l-15-24l-24-33z" fill="#ff8181"/>
<path d="M4947 1120l20-8l-15-26l-20 11z" fill="#fdfffd"/>
<path d="M4439 1109l29 27l-9 8l-32-43z" fill="#f5fff5"/>
<path d="M5165 1107l19-15l-16-1l-18 13z" fill="#fefffe"/>
<path d="M5251 1060l18-13l-15-2l-18 12z" fill="#fff3f3"/>
<path d="M4917 1067l20-13l-16-36l-20 15z" fill="#ffefef"/>
<path d="M5563 1191l20-57l-16-17l-21 71z" fill="#e2ffe2"/>
<path d="M5285 1048l18-6l-16 0l-18 5z" fill="#ffefef"/>
<path d="M5434 1094l14 51l-16-11l-14-49z" fill="#f9fff9"/>
<path d="M4734 982l21-8l-13-8l-21 9z" fill="#ffcaca"/>
<path d="M4791 898l17-51l-14-8l-16 51z" fill="#ff8181"/>
<path d="M4769 987l19-25l-14-15l-19 27z" fill="#ffc5c5"/>
<path d="M4699 980l22-5l-12 1l-21 7z" fill="#fcc"/>
<path d="M5518 1072l25-129l-17-13l-25 130z" fill="#ffd9d9"/>
<path d="M5581 865l9 68l-17-2l-10-73z" fill="#ff9696"/>
<path d="M4522 1127l24-2l-8 19l-25-8z" fill="#f2fff2"/>
<path d="M4962 1136l20-5l-15-19l-20 8z" fill="#f6fff6"/>
<path d="M5369 1048l16 23l-16-6l-16-19z" fill="#fff4f4"/>
<path d="M4647 1020l20-22l-10 15l-19 25z" fill="#ffe1e1"/>
<path d="M4788 962l17-47l-14-17l-17 49z" fill="#ffadad"/>
<path d="M4901 1033l20-15l-16-38l-20 17z" fill="#ffdcdc"/>
<path d="M4488 1129l25 7l-8 15l-27-20z" fill="#f0fff0"/>
<path d="M5199 1095l18-19l-15-3l-18 19z" fill="#fffdfd"/>
<path d="M5515 1180l14 24l-17-2l-14-29z" fill="#cdffcd" stroke-width="2.6"/>
<path d="M4808 847l19-31l-14-7l-19 30z" fill="#ff6060"/>
<path d="M5011 1153l20-10l-15-10l-19 11z" fill="#edffed"/>
<path d="M5045 1149l19-16l-15-7l-18 17z" fill="#f1fff1"/>
<path d="M5843 1071l3 68l-18-6l-3-72z" fill="#fefffe"/>
<path d="M5660 963l13 19l-19 6l-11-35z" fill="#ffc6c6"/>
<path d="M5957 1110l14-9l-21-2l-19 43z" fill="#fcfffc"/>
<path d="M4885 997l20-17l-16-40l-20 20z" fill="#ffc4c4"/>
<path d="M5079 1138l19-16l-15-5l-19 16z" fill="#f6fff6"/>
<path d="M4627 1045l20-25l-9 18l-20 25z" fill="#ffebeb"/>
<path d="M5906 1138l11 12l-23 20l-8-28z" fill="#ebffeb"/>
<path d="M4803 982l17-44l-15-23l-17 47z" fill="#ffb7b7"/>
<path d="M4898 1086l19-19l-16-34l-19 24z" fill="#fff4f4"/>
<path d="M4783 1005l20-23l-15-20l-19 25z" fill="#ffcdcd"/>
<path d="M4913 1109l19-12l-15-30l-19 19z" fill="#fffdfd"/>
<path d="M5233 1079l18-19l-15-3l-19 19z" fill="#fff6f6"/>
<path d="M5762 987l7 53l-18-4l-8-47z" fill="#fdd"/>
<path d="M5534 1086l25-122l-16-21l-25 129z" fill="#ffdfdf"/>
<path d="M4555 1112l22-12l-8 20l-23 5z" fill="#fcfffc"/>
<path d="M5113 1126l18-11l-15-4l-18 11z" fill="#fbfffb"/>
<path d="M4882 1057l19-24l-16-36l-18 30z" fill="#ffe5e5"/>
<path d="M4805 915l18-49l-15-19l-17 51z" fill="#ff8787"/>
<path d="M4977 1147l20-3l-15-13l-20 5z" fill="#f1fff1"/>
<path d="M5581 1193l19-42l-17-17l-20 57z" fill="#e1ffe1"/>
<path d="M5451 1104l13 51l-16-10l-14-51z" fill="#f8fff8"/>
<path d="M5147 1118l18-11l-15-3l-19 11z" fill="#fdfffd"/>
<path d="M5711 973l12 20l-19 6l-12-22z" fill="#ffcdcd"/>
<path d="M4748 994l21-7l-14-13l-21 8z" fill="#fcc"/>
<path d="M4818 1005l18-39l-16-28l-17 44z" fill="#ffc5c5"/>
<path d="M4869 960l20-20l-16-38l-19 24z" fill="#faa"/>
<path d="M4927 1128l20-8l-15-23l-19 12z" fill="#fdfffd"/>
<path d="M4867 1027l18-30l-16-37l-18 36z" fill="#ffd2d2"/>
<path d="M5564 1205l17-12l-18-2l-17 14z" fill="#cbffcb" stroke-width="2.6"/>
<path d="M5335 1042l18 4l-17-1l-17-3z" fill="#ffebeb"/>
<path d="M4833 1030l18-34l-15-30l-18 39z" fill="#ffd4d4"/>
<path d="M4823 866l18-30l-14-20l-19 31z" fill="#ff6767"/>
<path d="M5181 1110l18-15l-15-3l-19 15z" fill="#fff"/>
<path d="M4798 1026l20-21l-15-23l-20 23z" fill="#ffd7d7"/>
<path d="M5267 1063l18-15l-16-1l-18 13z" fill="#fff0f0"/>
<path d="M5597 881l11 57l-18-5l-9-68z" fill="#ff9797"/>
<path d="M4848 1056l19-29l-16-31l-18 34z" fill="#ffe3e3"/>
<path d="M4451 1117l27 14l-10 5l-29-27z" fill="#fafffa"/>
<path d="M5531 833l14 26l-18 8l-14-24z" fill="#ff6e6e"/>
<path d="M4820 938l18-44l-15-28l-18 49z" fill="#ff9595"/>
<path d="M4851 996l18-36l-15-34l-18 40z" fill="#ffbdbd"/>
<path d="M4863 1081l19-24l-15-30l-19 29z" fill="#fff0f0"/>
<path d="M4607 1067l20-22l-9 18l-20 21z" fill="#fff4f4"/>
<path d="M4854 926l19-24l-16-36l-19 28z" fill="#ff9090"/>
<path d="M4836 966l18-40l-16-32l-18 44z" fill="#ffa8a8"/>
<path d="M5301 1050l18-8l-16 0l-18 6z" fill="#ffebeb"/>
<path d="M4678 992l21-12l-11 3l-21 15z" fill="#ffcdcd"/>
<path d="M5550 1101l25-111l-16-26l-25 122z" fill="#ffe6e6"/>
<path d="M4838 894l19-28l-16-30l-18 30z" fill="#ff7878"/>
<path d="M5509 925l22-92l-18 10l-21 83z" fill="#ff8585"/>
<path d="M4878 1104l20-18l-16-29l-19 24z" fill="#fffafa"/>
<path d="M5943 1120l14-10l-26 32l-14 8z" fill="#f7fff7"/>
<path d="M5386 1051l15 27l-16-7l-16-23z" fill="#fff2f2"/>
<path d="M4712 985l22-3l-13-7l-22 5z" fill="#ffc7c7"/>
<path d="M4813 1049l20-19l-15-25l-20 21z" fill="#ffe2e2"/>
<path d="M5026 1158l19-9l-14-6l-20 10z" fill="#efe"/>
<path d="M5215 1099l18-20l-16-3l-18 19z" fill="#fffbfb"/>
<path d="M5861 1084l5 58l-20-3l-3-68z" fill="#fff"/>
<path d="M4942 1140l20-4l-15-16l-20 8z" fill="#f8fff8"/>
<path d="M5532 1186l14 19l-17-1l-14-24z" fill="#d2ffd2"/>
<path d="M5060 1153l19-15l-15-5l-19 16z" fill="#f2fff2"/>
<path d="M4762 1012l21-7l-14-18l-21 7z" fill="#ffd2d2"/>
<path d="M4893 1123l20-14l-15-23l-20 18z" fill="#fff"/>
<path d="M5567 1117l24-96l-16-31l-25 111z" fill="#ffefef"/>
<path d="M4828 1073l20-17l-15-26l-20 19z" fill="#ffeded"/>
<path d="M5678 974l14 3l-19 5l-13-19z" fill="#ffc2c2"/>
<path d="M4991 1153l20 0l-14-9l-20 3z" fill="#f0fff0"/>
<path d="M5468 1115l13 50l-17-10l-13-51z" fill="#f7fff7"/>
<path d="M5094 1142l19-16l-15-4l-19 16z" fill="#f9fff9"/>
<path d="M5599 1194l18-27l-17-16l-19 42z" fill="#e0ffe0"/>
<path d="M4843 1096l20-15l-15-25l-20 17z" fill="#fff6f6"/>
<path d="M5583 1134l23-79l-15-34l-24 96z" fill="#fff8f8"/>
<path d="M5614 904l11 40l-17-6l-11-57z" fill="#ff9b9b"/>
<path d="M5698 1244l16-16l-15-30l-17 22z" fill="#bdffbd" stroke-width="2.6"/>
<path d="M5682 1220l17-22l-15-37l-18 31z" fill="#d5ffd5"/>
<path d="M4586 1088l21-21l-9 17l-21 16z" fill="#fff9f9"/>
<path d="M4499 1129l23-2l-9 9l-25-7z" fill="#fafffa"/>
<path d="M5249 1083l18-20l-16-3l-18 19z" fill="#fff4f4"/>
<path d="M5128 1131l19-13l-16-3l-18 11z" fill="#fcfffc"/>
<path d="M5782 988l6 58l-19-6l-7-53z" fill="#ffd9d9"/>
<path d="M5600 1151l21-61l-15-35l-23 79z" fill="#fff"/>
<path d="M4777 1033l21-7l-15-21l-21 7z" fill="#ffdbdb"/>
<path d="M4658 1012l20-20l-11 6l-20 22z" fill="#ffd3d3"/>
<path d="M4533 1123l22-11l-9 13l-24 2z" fill="#fdfffd"/>
<path d="M4907 1137l20-9l-14-19l-20 14z" fill="#fcfffc"/>
<path d="M5162 1123l19-13l-16-3l-18 11z" fill="#fefffe"/>
<path d="M4858 1118l20-14l-15-23l-20 15z" fill="#fffdfd"/>
<path d="M5666 1192l18-31l-14-41l-19 40z" fill="#edffed"/>
<path d="M5715 1261l15-10l-16-23l-16 16z" fill="#afa" stroke-width="2.6"/>
<path d="M5617 1167l19-41l-15-36l-21 61z" fill="#f9fff9"/>
<path d="M5196 1115l19-16l-16-4l-18 15z" fill="#fffefe"/>
<path d="M4726 997l22-3l-14-12l-22 3z" fill="#ffc9c9"/>
<path d="M5283 1067l18-17l-16-2l-18 15z" fill="#ffeded"/>
<path d="M4956 1147l21 0l-15-11l-20 4z" fill="#f6fff6"/>
<path d="M5634 1183l17-23l-15-34l-19 41z" fill="#efe"/>
<path d="M4792 1056l21-7l-15-23l-21 7z" fill="#ffe5e5"/>
<path d="M5352 1043l17 5l-16-2l-18-4z" fill="#ffe7e7"/>
<path d="M5583 1203l16-9l-18-1l-17 12z" fill="#d4ffd4"/>
<path d="M4463 1125l25 4l-10 2l-27-14z" fill="#fdfffd"/>
<path d="M5714 1228l24-75l-16-28l-23 73z" fill="#e4ffe4"/>
<path d="M5402 1055l16 30l-17-7l-15-27z" fill="#fff1f1"/>
<path d="M5731 970l12 19l-20 4l-12-20z" fill="#ffc3c3"/>
<path d="M5630 931l13 22l-18-9l-11-40z" fill="#ffa4a4"/>
<path d="M5879 1100l7 42l-20 0l-5-58z" fill="#fff"/>
<path d="M5651 1160l19-40l-14-44l-20 50z" fill="#fefffe"/>
<path d="M5699 1198l23-73l-16-31l-22 67z" fill="#f6fff6"/>
<path d="M4873 1136l20-13l-15-19l-20 14z" fill="#fefffe"/>
<path d="M5318 1052l17-10l-16 0l-18 8z" fill="#ffe7e7"/>
<path d="M5730 1251l24-75l-16-23l-24 75z" fill="#d3ffd3"/>
<path d="M4691 995l21-10l-13-5l-21 12z" fill="#ffc6c6"/>
<path d="M5040 1161l20-8l-15-4l-19 9z" fill="#f1fff1"/>
<path d="M5651 1197l15-5l-15-32l-17 23z" fill="#e0ffe0"/>
<path d="M5230 1104l19-21l-16-4l-18 20z" fill="#fff9f9"/>
<path d="M4638 1035l20-23l-11 8l-20 25z" fill="#fdd"/>
<path d="M4807 1080l21-7l-15-24l-21 7z" fill="#ffefef"/>
<path d="M5549 832l14 26l-18 1l-14-26z" fill="#ff6161"/>
<path d="M5526 930l23-98l-18 1l-22 92z" fill="#ff7c7c"/>
<path d="M5485 1126l13 47l-17-8l-13-50z" fill="#f6fff6"/>
<path d="M5075 1156l19-14l-15-4l-19 15z" fill="#f5fff5"/>
<path d="M4565 1106l21-18l-9 12l-22 12z" fill="#fffcfc"/>
<path d="M5550 1191l14 14l-18 0l-14-19z" fill="#d8ffd8"/>
<path d="M5928 1130l15-10l-26 30l-11-12z" fill="#fbfffb"/>
<path d="M5684 1161l22-67l-15-33l-21 59z" fill="#fffefe"/>
<path d="M5617 1195l17-12l-17-16l-18 27z" fill="#e0ffe0"/>
<path d="M5733 1270l15-5l-18-14l-15 10z" fill="#a1ffa1" stroke-width="2.6"/>
<path d="M4922 1146l20-6l-15-12l-20 9z" fill="#fafffa"/>
<path d="M5695 987l16-14l-19 4l-14-3z" fill="#ffbfbf"/>
<path d="M5005 1156l21 2l-15-5l-20 0z" fill="#f2fff2"/>
<path d="M4822 1105l21-9l-15-23l-21 7z" fill="#fff7f7"/>
<path d="M4740 1014l22-2l-14-18l-22 3z" fill="#ffcece"/>
<path d="M5645 960l15 3l-17-10l-13-22z" fill="#ffaeae"/>
<path d="M5109 1146l19-15l-15-5l-19 16z" fill="#fbfffb"/>
<path d="M5636 1126l20-50l-14-45l-21 59z" fill="#fff4f4"/>
<path d="M5668 1210l14 10l-16-28l-15 5z" fill="#d3ffd3"/>
<path d="M5748 1265l23-72l-17-17l-24 75z" fill="#c7ffc7" stroke-width="2.6"/>
<path d="M5265 1089l18-22l-16-4l-18 20z" fill="#fff2f2"/>
<path d="M5143 1136l19-13l-15-5l-19 13z" fill="#fefffe"/>
<path d="M5801 993l5 59l-18-6l-6-58z" fill="#ffd6d6"/>
<path d="M4887 1150l20-13l-14-14l-20 13z" fill="#fbfffb"/>
<path d="M4618 1059l20-24l-11 10l-20 22z" fill="#ffe7e7"/>
<path d="M5670 1120l21-59l-15-35l-20 50z" fill="#fff0f0"/>
<path d="M4837 1127l21-9l-15-22l-21 9z" fill="#fffefe"/>
<path d="M5177 1130l19-15l-15-5l-19 13z" fill="#fff"/>
<path d="M5661 992l17-18l-18-11l-15-3z" fill="#ffb9b9"/>
<path d="M5212 1122l18-18l-15-5l-19 16z" fill="#fffdfd"/>
<path d="M4970 1150l21 3l-14-6l-21 0z" fill="#f7fff7"/>
<path d="M4510 1132l23-9l-11 4l-23 2z" fill="#fefffe"/>
<path d="M4755 1035l22-2l-15-21l-22 2z" fill="#ffd7d7"/>
<path d="M5621 1090l21-59l-15-44l-21 68z" fill="#ffe0e0"/>
<path d="M5419 1061l15 33l-16-9l-16-30z" fill="#fff0f0"/>
<path d="M5686 1221l12 23l-16-24l-14-10z" fill="#c8ffc8" stroke-width="2.6"/>
<path d="M5897 1118l9 20l-20 4l-7-42z" fill="#fff"/>
<path d="M4670 1012l21-17l-13-3l-20 20z" fill="#ffcbcb"/>
<path d="M5299 1071l19-19l-17-2l-18 17z" fill="#ffe9e9"/>
<path d="M4704 1005l22-8l-14-12l-21 10z" fill="#ffc6c6"/>
<path d="M4852 1148l21-12l-15-18l-21 9z" fill="#fdfffd"/>
<path d="M4475 1134l24-5l-11 0l-25-4z" fill="#fefffe"/>
<path d="M5656 1076l20-50l-15-34l-19 39z" fill="#ffdbdb"/>
<path d="M5369 1045l17 6l-17-3l-17-5z" fill="#ffe3e3"/>
<path d="M5502 1138l13 42l-17-7l-13-47z" fill="#f6fff6"/>
<path d="M5543 943l23-98l-17-13l-23 98z" fill="#ff7d7d"/>
<path d="M5676 1026l19-39l-17-13l-17 18z" fill="#ffc5c5"/>
<path d="M4544 1122l21-16l-10 6l-22 11z" fill="#fffefe"/>
<path d="M5246 1111l19-22l-16-6l-19 21z" fill="#fff8f8"/>
<path d="M4597 1083l21-24l-11 8l-21 21z" fill="#ffefef"/>
<path d="M4770 1059l22-3l-15-23l-22 2z" fill="#ffe1e1"/>
<path d="M5566 845l15 20l-18-7l-14-26z" fill="#ff5f5f"/>
<path d="M5601 1202l16-7l-18-1l-16 9z" fill="#dfd"/>
<path d="M4936 1151l20-4l-14-7l-20 6z" fill="#fafffa"/>
<path d="M5055 1163l20-7l-15-3l-20 8z" fill="#f4fff4"/>
<path d="M5636 1195l15 2l-17-14l-17 12z" fill="#e1ffe1"/>
<path d="M5334 1054l18-11l-17-1l-17 10z" fill="#ffe2e2"/>
<path d="M5606 1055l21-68l-14-43l-22 77z" fill="#ffc9c9"/>
<path d="M5750 970l12 17l-19 2l-12-19z" fill="#ffbaba"/>
<path d="M5753 1271l14-3l-19-3l-15 5z" fill="#a4ffa4" stroke-width="2.6"/>
<path d="M5089 1159l20-13l-15-4l-19 14z" fill="#f8fff8"/>
<path d="M5691 1061l21-59l-17-15l-19 39z" fill="#ffd2d2"/>
<path d="M5767 1268l23-64l-19-11l-23 72z" fill="#c4ffc4" stroke-width="2.6"/>
<path d="M5712 1002l19-32l-20 3l-16 14z" fill="#ffbdbd"/>
<path d="M4901 1160l21-14l-15-9l-20 13z" fill="#f9fff9"/>
<path d="M4785 1084l22-4l-15-24l-22 3z" fill="#ffecec"/>
<path d="M5642 1031l19-39l-16-32l-18 27z" fill="#ffc2c2"/>
<path d="M5568 1196l15 7l-19 2l-14-14z" fill="#deffde"/>
<path d="M5020 1157l20 4l-14-3l-21-2z" fill="#f6fff6"/>
<path d="M5124 1151l19-15l-15-5l-19 15z" fill="#fcfffc"/>
<path d="M5819 1002l6 59l-19-9l-5-59z" fill="#ffd6d6"/>
<path d="M5706 1094l24-76l-18-16l-21 59z" fill="#ffdfdf"/>
<path d="M5559 964l24-94l-17-25l-23 98z" fill="#ff8787"/>
<path d="M4867 1164l20-14l-14-14l-21 12z" fill="#fafffa"/>
<path d="M4650 1034l20-22l-12 0l-20 23z" fill="#ffd4d4"/>
<path d="M5591 1021l22-77l-15-40l-23 86z" fill="#ffb0b0"/>
<path d="M5705 1229l10 32l-17-17l-12-23z" fill="#c1ffc1" stroke-width="2.6"/>
<path d="M5158 1143l19-13l-15-7l-19 13z" fill="#fefffe"/>
<path d="M5281 1095l18-24l-16-4l-18 22z" fill="#fff0f0"/>
<path d="M4801 1110l21-5l-15-25l-22 4z" fill="#fff6f6"/>
<path d="M5193 1138l19-16l-16-7l-19 15z" fill="#fff"/>
<path d="M5575 990l23-86l-15-34l-24 94z" fill="#f99"/>
<path d="M4718 1020l22-6l-14-17l-22 8z" fill="#ffcbcb"/>
<path d="M5627 987l18-27l-15-29l-17 13z" fill="#ffa9a9"/>
<path d="M4577 1105l20-22l-11 5l-21 18z" fill="#fff6f6"/>
<path d="M5583 870l14 11l-16-16l-15-20z" fill="#ff6868"/>
<path d="M5722 1125l25-90l-17-17l-24 76z" fill="#ffeaea"/>
<path d="M5228 1131l18-20l-16-7l-18 18z" fill="#fffdfd"/>
<path d="M5436 1069l15 35l-17-10l-15-33z" fill="#fff0f0"/>
<path d="M4816 1135l21-8l-15-22l-21 5z" fill="#fffdfd"/>
<path d="M5914 1140l14-10l-22 8l-9-20z" fill="#fff"/>
<path d="M5613 944l17-13l-16-27l-16 0z" fill="#ff9090"/>
<path d="M5519 1150l13 36l-17-6l-13-42z" fill="#f5fff5"/>
<path d="M5598 904l16 0l-17-23l-14-11z" fill="#ff7979"/>
<path d="M4683 1020l21-15l-13-10l-21 17z" fill="#ffc9c9"/>
<path d="M4985 1150l20 6l-14-3l-21-3z" fill="#fafffa"/>
<path d="M5738 1153l27-100l-18-18l-25 90z" fill="#fff3f3"/>
<path d="M4629 1059l21-25l-12 1l-20 24z" fill="#ffdede"/>
<path d="M4487 1142l23-10l-11-3l-24 5z" fill="#fff"/>
<path d="M4522 1137l22-15l-11 1l-23 9z" fill="#fff"/>
<path d="M5316 1076l18-22l-16-2l-19 19z" fill="#ffe6e6"/>
<path d="M5262 1120l19-25l-16-6l-19 22z" fill="#fff7f7"/>
<path d="M4831 1157l21-9l-15-21l-21 8z" fill="#fefffe"/>
<path d="M4733 1041l22-6l-15-21l-22 6z" fill="#ffd3d3"/>
<path d="M5386 1048l16 7l-16-4l-17-6z" fill="#ffdfdf"/>
<path d="M5655 1195l13 15l-17-13l-15-2z" fill="#e3ffe3"/>
<path d="M4881 1177l20-17l-14-10l-20 14z" fill="#f7fff7"/>
<path d="M5837 1017l6 54l-18-10l-6-59z" fill="#ffd8d8"/>
<path d="M5730 1018l20-48l-19 0l-19 32z" fill="#ffbcbc"/>
<path d="M4950 1153l20-3l-14-3l-20 4z" fill="#fcfffc"/>
<path d="M4915 1166l21-15l-14-5l-21 14z" fill="#fafffa"/>
<path d="M5754 1176l28-105l-17-18l-27 100z" fill="#fffafa"/>
<path d="M5351 1057l18-12l-17-2l-18 11z" fill="#ffdede"/>
<path d="M5070 1164l19-5l-14-3l-20 7z" fill="#f8fff8"/>
<path d="M4556 1126l21-21l-12 1l-21 16z" fill="#fffafa"/>
<path d="M5105 1163l19-12l-15-5l-20 13z" fill="#fbfffb"/>
<path d="M5724 1234l9 36l-18-9l-10-32z" fill="#c0ffc0" stroke-width="2.6"/>
<path d="M4748 1064l22-5l-15-24l-22 6z" fill="#ffdede"/>
<path d="M5769 974l13 14l-20-1l-12-17z" fill="#ffb5b5"/>
<path d="M5139 1157l19-14l-15-7l-19 15z" fill="#fdfffd"/>
<path d="M4609 1084l20-25l-11 0l-21 24z" fill="#ffe8e8"/>
<path d="M5620 1200l16-5l-19 0l-16 7z" fill="#e6ffe6"/>
<path d="M5174 1152l19-14l-16-8l-19 13z" fill="#fff"/>
<path d="M5788 1259l21-53l-19-2l-23 64z" fill="#cfc" stroke-width="2.6"/>
<path d="M5209 1147l19-16l-16-9l-19 16z" fill="#fff"/>
<path d="M4846 1177l21-13l-15-16l-21 9z" fill="#f9fff9"/>
<path d="M5297 1103l19-27l-17-5l-18 24z" fill="#ffefef"/>
<path d="M4662 1040l21-20l-13-8l-20 22z" fill="#ffd0d0"/>
<path d="M5453 1079l15 36l-17-11l-15-35z" fill="#fff1f1"/>
<path d="M5586 1200l15 2l-18 1l-15-7z" fill="#e5ffe5"/>
<path d="M5244 1141l18-21l-16-9l-18 20z" fill="#fffdfd"/>
<path d="M5035 1157l20 6l-15-2l-20-4z" fill="#fafffa"/>
<path d="M4764 1089l21-5l-15-25l-22 5z" fill="#ffe9e9"/>
<path d="M4697 1033l21-13l-14-15l-21 15z" fill="#fcc"/>
<path d="M5774 1261l14-2l-21 9l-14 3z" fill="#b5ffb5" stroke-width="2.6"/>
<path d="M5771 1193l28-102l-17-20l-28 105z" fill="#fffefe"/>
<path d="M5536 1162l14 29l-18-5l-13-36z" fill="#f5fff5"/>
<path d="M4779 1116l22-6l-16-26l-21 5z" fill="#fff3f3"/>
<path d="M5855 1039l6 45l-18-13l-6-54z" fill="#fdd"/>
<path d="M4589 1110l20-26l-12-1l-20 22z" fill="#fff1f1"/>
<path d="M5278 1129l19-26l-16-8l-19 25z" fill="#fff7f7"/>
<path d="M4794 1141l22-6l-15-25l-22 6z" fill="#fffcfc"/>
<path d="M4499 1151l23-14l-12-5l-23 10z" fill="#fff"/>
<path d="M5747 1035l22-61l-19-4l-20 48z" fill="#ffbdbd"/>
<path d="M4895 1186l20-20l-14-6l-20 17z" fill="#f7fff7"/>
<path d="M4861 1192l20-15l-14-13l-21 13z" fill="#f4fff4"/>
<path d="M5332 1081l19-24l-17-3l-18 22z" fill="#ffe3e3"/>
<path d="M4534 1144l22-18l-12-4l-22 15z" fill="#fffdfd"/>
<path d="M4642 1065l20-25l-12-6l-21 25z" fill="#ffdada"/>
<path d="M4999 1150l21 7l-15-1l-20-6z" fill="#fdfffd"/>
<path d="M5403 1052l16 9l-17-6l-16-7z" fill="#fdd"/>
<path d="M5674 1196l12 25l-18-11l-13-15z" fill="#e5ffe5"/>
<path d="M4712 1052l21-11l-15-21l-21 13z" fill="#ffd3d3"/>
<path d="M4810 1165l21-8l-15-22l-22 6z" fill="#fefffe"/>
<path d="M5871 1068l8 32l-18-16l-6-45z" fill="#ffe5e5"/>
<path d="M5790 1204l27-93l-18-20l-28 102z" fill="#fefffe"/>
<path d="M5225 1157l19-16l-16-10l-19 16z" fill="#fff"/>
<path d="M4930 1169l20-16l-14-2l-21 15z" fill="#fcfffc"/>
<path d="M5190 1161l19-14l-16-9l-19 14z" fill="#fff"/>
<path d="M5471 1090l14 36l-17-11l-15-36z" fill="#fff2f2"/>
<path d="M5155 1165l19-13l-16-9l-19 14z" fill="#fefffe"/>
<path d="M5120 1168l19-11l-15-6l-19 12z" fill="#fcfffc"/>
<path d="M4676 1052l21-19l-14-13l-21 20z" fill="#ffd2d2"/>
<path d="M5788 983l13 10l-19-5l-13-14z" fill="#ffb2b2"/>
<path d="M4568 1133l21-23l-12-5l-21 21z" fill="#fff8f8"/>
<path d="M5368 1060l18-12l-17-3l-18 12z" fill="#ffdada"/>
<path d="M5899 1150l15-10l-17-22l-11-13z" fill="#fffbfb"/>
<path d="M4964 1152l21-2l-15 0l-20 3z" fill="#fefffe"/>
<path d="M5743 1236l10 35l-20-1l-9-36z" fill="#c5ffc5" stroke-width="2.6"/>
<path d="M5260 1151l18-22l-16-9l-18 21z" fill="#fffdfd"/>
<path d="M5886 1105l11 13l-18-18l-8-32z" fill="#fff0f0"/>
<path d="M5085 1167l20-4l-16-4l-19 5z" fill="#fbfffb"/>
<path d="M5313 1110l19-29l-16-5l-19 27z" fill="#ffeded"/>
<path d="M4727 1074l21-10l-15-23l-21 11z" fill="#fdd"/>
<path d="M4622 1091l20-26l-13-6l-20 25z" fill="#ffe5e5"/>
<path d="M4825 1185l21-8l-15-20l-21 8z" fill="#f9fff9"/>
<path d="M5554 1175l14 21l-18-5l-14-29z" fill="#f5fff5"/>
<path d="M5640 1198l15-3l-19 0l-16 5z" fill="#efe"/>
<path d="M4742 1098l22-9l-16-25l-21 10z" fill="#ffe7e7"/>
<path d="M5765 1053l23-70l-19-9l-22 61z" fill="#ffc1c1"/>
<path d="M5604 1205l16-5l-19 2l-15-2z" fill="#ebffeb"/>
<path d="M4875 1204l20-18l-14-9l-20 15z" fill="#f2fff2"/>
<path d="M5049 1158l21 6l-15-1l-20-6z" fill="#fdfffd"/>
<path d="M5295 1139l18-29l-16-7l-19 26z" fill="#fff7f7"/>
<path d="M4602 1118l20-27l-13-7l-20 26z" fill="#ffefef"/>
<path d="M4512 1159l22-15l-12-7l-23 14z" fill="#fff"/>
<path d="M4656 1076l20-24l-14-12l-20 25z" fill="#ffdbdb"/>
<path d="M5809 1206l25-75l-17-20l-27 93z" fill="#fdfffd"/>
<path d="M4757 1124l22-8l-15-27l-22 9z" fill="#fff2f2"/>
<path d="M4690 1069l22-17l-15-19l-21 19z" fill="#ffd7d7"/>
<path d="M4547 1153l21-20l-12-7l-22 18z" fill="#fffcfc"/>
<path d="M4910 1192l20-23l-15-3l-20 20z" fill="#f8fff8"/>
<path d="M4840 1203l21-11l-15-15l-21 8z" fill="#f3fff3"/>
<path d="M5420 1058l16 11l-17-8l-16-9z" fill="#ffdbdb"/>
<path d="M5488 1102l14 36l-17-12l-14-36z" fill="#fff4f4"/>
<path d="M5241 1168l19-17l-16-10l-19 16z" fill="#fff"/>
<path d="M5349 1086l19-26l-17-3l-19 24z" fill="#ffe0e0"/>
<path d="M5812 1234l19-35l-22 7l-21 53z" fill="#dfffdf"/>
<path d="M4773 1149l21-8l-15-25l-22 8z" fill="#fffafa"/>
<path d="M5206 1171l19-14l-16-10l-19 14z" fill="#fefffe"/>
<path d="M5694 1197l11 32l-19-8l-12-25z" fill="#e8ffe8"/>
<path d="M5806 997l13 5l-18-9l-13-10z" fill="#ffb3b3"/>
<path d="M5276 1162l19-23l-17-10l-18 22z" fill="#fffefe"/>
<path d="M5171 1173l19-12l-16-9l-19 13z" fill="#fefffe"/>
<path d="M5014 1149l21 8l-15 0l-21-7z" fill="#fff"/>
<path d="M4581 1143l21-25l-13-8l-21 23z" fill="#fff7f7"/>
<path d="M5136 1174l19-9l-16-8l-19 11z" fill="#fdfffd"/>
<path d="M4635 1103l21-27l-14-11l-20 26z" fill="#ffe6e6"/>
<path d="M5782 1071l24-74l-18-14l-23 70z" fill="#ffc7c7"/>
<path d="M4788 1172l22-7l-16-24l-21 8z" fill="#fff"/>
<path d="M4705 1090l22-16l-15-22l-22 17z" fill="#ffdfdf"/>
<path d="M5330 1119l19-33l-17-5l-19 29z" fill="#ffecec"/>
<path d="M5385 1064l18-12l-17-4l-18 12z" fill="#ffd7d7"/>
<path d="M4944 1170l20-18l-14 1l-20 16z" fill="#fff"/>
<path d="M5571 1187l15 13l-18-4l-14-21z" fill="#f5fff5"/>
<path d="M5100 1171l20-3l-15-5l-20 4z" fill="#fdfffd"/>
<path d="M4670 1092l20-23l-14-17l-20 24z" fill="#ffdfdf"/>
<path d="M5797 1239l15-5l-24 25l-14 2z" fill="#d2ffd2"/>
<path d="M4890 1214l20-22l-15-6l-20 18z" fill="#f1fff1"/>
<path d="M5311 1150l19-31l-17-9l-18 29z" fill="#fff8f8"/>
<path d="M4978 1151l21-1l-14 0l-21 2z" fill="#fffefe"/>
<path d="M4854 1216l21-12l-14-12l-21 11z" fill="#efffef"/>
<path d="M4720 1112l22-14l-15-24l-22 16z" fill="#ffe9e9"/>
<path d="M4803 1193l22-8l-15-20l-22 7z" fill="#fafffa"/>
<path d="M5884 1161l15-11l-13-45l-15 8z" fill="#fff8f8"/>
<path d="M4615 1130l20-27l-13-12l-20 27z" fill="#fff0f0"/>
<path d="M5764 1233l10 28l-21 10l-10-35z" fill="#d2ffd2"/>
<path d="M4524 1168l23-15l-13-9l-22 15z" fill="#fff"/>
<path d="M5831 1199l21-48l-18-20l-25 75z" fill="#fdfffd"/>
<path d="M5505 1116l14 34l-17-12l-14-36z" fill="#fff6f6"/>
<path d="M5824 1016l13 1l-18-15l-13-5z" fill="#ffb9b9"/>
<path d="M5799 1091l25-75l-18-19l-24 74z" fill="#ffcece"/>
<path d="M5257 1180l19-18l-16-11l-19 17z" fill="#fefffe"/>
<path d="M4560 1163l21-20l-13-10l-21 20z" fill="#fffdfd"/>
<path d="M5065 1161l20 6l-15-3l-21-6z" fill="#fff"/>
<path d="M4736 1136l21-12l-15-26l-22 14z" fill="#fff2f2"/>
<path d="M5222 1182l19-14l-16-11l-19 14z" fill="#fefffe"/>
<path d="M5623 1209l17-11l-20 2l-16 5z" fill="#f1fff1"/>
<path d="M5437 1065l16 14l-17-10l-16-11z" fill="#ffdbdb"/>
<path d="M5659 1197l15-1l-19-1l-15 3z" fill="#f4fff4"/>
<path d="M4649 1118l21-26l-14-16l-21 27z" fill="#ffe9e9"/>
<path d="M5292 1174l19-24l-16-11l-19 23z" fill="#fffefe"/>
<path d="M4684 1111l21-21l-15-21l-20 23z" fill="#ffe6e6"/>
<path d="M5187 1182l19-11l-16-10l-19 12z" fill="#fefffe"/>
<path d="M4924 1196l20-26l-14-1l-20 23z" fill="#fbfffb"/>
<path d="M4594 1154l21-24l-13-12l-21 25z" fill="#fff8f8"/>
<path d="M5366 1092l19-28l-17-4l-19 26z" fill="#ffdede"/>
<path d="M4818 1210l22-7l-15-18l-22 8z" fill="#f5fff5"/>
<path d="M5871 1113l15-8l-15-37l-15 6z" fill="#ffe5e5"/>
<path d="M4751 1160l22-11l-16-25l-21 12z" fill="#fffafa"/>
<path d="M5817 1111l24-69l-17-26l-25 75z" fill="#ffd8d8"/>
<path d="M5841 1042l14-3l-18-22l-13-1z" fill="#ffc3c3"/>
<path d="M5713 1199l11 35l-19-5l-11-32z" fill="#ecffec"/>
<path d="M5151 1182l20-9l-16-8l-19 9z" fill="#fefffe"/>
<path d="M5856 1074l15-6l-16-29l-14 3z" fill="#ffd2d2"/>
<path d="M5347 1127l19-35l-17-6l-19 33z" fill="#ffebeb"/>
<path d="M4629 1144l20-26l-14-15l-20 27z" fill="#fff3f3"/>
<path d="M5589 1199l15 6l-18-5l-15-13z" fill="#f6fff6"/>
<path d="M4699 1132l21-20l-15-22l-21 21z" fill="#ffeded"/>
<path d="M4869 1227l21-13l-15-10l-21 12z" fill="#edffed"/>
<path d="M5834 1131l22-57l-15-32l-24 69z" fill="#ffe3e3"/>
<path d="M4766 1182l22-10l-15-23l-22 11z" fill="#fff"/>
<path d="M5328 1161l19-34l-17-8l-19 31z" fill="#fff8f8"/>
<path d="M5402 1068l18-10l-17-6l-18 12z" fill="#ffd4d4"/>
<path d="M5869 1171l15-10l-13-48l-19 38z" fill="#fffbfb"/>
<path d="M5522 1130l14 32l-17-12l-14-34z" fill="#fff8f8"/>
<path d="M5116 1178l20-4l-16-6l-20 3z" fill="#fefffe"/>
<path d="M5029 1149l20 9l-14-1l-21-8z" fill="#fffcfc"/>
<path d="M5852 1151l19-38l-15-39l-22 57z" fill="#ffefef"/>
<path d="M4664 1136l20-25l-14-19l-21 26z" fill="#fee"/>
<path d="M4904 1221l20-25l-14-4l-20 22z" fill="#f3fff3"/>
<path d="M4537 1177l23-14l-13-10l-23 15z" fill="#fff"/>
<path d="M5274 1191l18-17l-16-12l-19 18z" fill="#fefffe"/>
<path d="M4573 1174l21-20l-13-11l-21 20z" fill="#fffdfd"/>
<path d="M4958 1170l20-19l-14 1l-20 18z" fill="#fffefe"/>
<path d="M5238 1192l19-12l-16-12l-19 14z" fill="#fdfffd"/>
<path d="M4715 1154l21-18l-16-24l-21 20z" fill="#fff5f5"/>
<path d="M4833 1224l21-8l-14-13l-22 7z" fill="#f0fff0"/>
<path d="M5309 1186l19-25l-17-11l-19 24z" fill="#fff"/>
<path d="M5455 1073l16 17l-18-11l-16-14z" fill="#ffdbdb"/>
<path d="M4608 1168l21-24l-14-14l-21 24z" fill="#fffafa"/>
<path d="M4781 1201l22-8l-15-21l-22 10z" fill="#fbfffb"/>
<path d="M5854 1182l15-11l-17-20l-21 48z" fill="#fefffe"/>
<path d="M4993 1150l21-1l-15 1l-21 1z" fill="#fffafa"/>
<path d="M5203 1192l19-10l-16-11l-19 11z" fill="#fdfffd"/>
<path d="M4643 1160l21-24l-15-18l-20 26z" fill="#fff7f7"/>
<path d="M4679 1155l20-23l-15-21l-20 25z" fill="#fff4f4"/>
<path d="M5080 1166l20 5l-15-4l-20-6z" fill="#fffefe"/>
<path d="M4730 1175l21-15l-15-24l-21 18z" fill="#fffcfc"/>
<path d="M5383 1098l19-30l-17-4l-19 28z" fill="#ffdcdc"/>
<path d="M5642 1213l17-16l-19 1l-17 11z" fill="#f6fff6"/>
<path d="M5167 1190l20-8l-16-9l-20 9z" fill="#fefffe"/>
<path d="M5678 1198l16-1l-20-1l-15 1z" fill="#f9fff9"/>
<path d="M5540 1145l14 30l-18-13l-14-32z" fill="#fffafa"/>
<path d="M4938 1199l20-29l-14 0l-20 26z" fill="#fefffe"/>
<path d="M5364 1136l19-38l-17-6l-19 35z" fill="#ffebeb"/>
<path d="M5839 1192l15-10l-23 17l-19 35z" fill="#f8fff8"/>
<path d="M5344 1172l20-36l-17-9l-19 34z" fill="#fff9f9"/>
<path d="M4883 1236l21-15l-14-7l-21 13z" fill="#edffed"/>
<path d="M5607 1210l16-1l-19-4l-15-6z" fill="#f6fff6"/>
<path d="M5733 1203l10 33l-19-2l-11-35z" fill="#f1fff1"/>
<path d="M4796 1217l22-7l-15-17l-22 8z" fill="#f7fff7"/>
<path d="M4693 1174l22-20l-16-22l-20 23z" fill="#fffafa"/>
<path d="M5290 1202l19-16l-17-12l-18 17z" fill="#fdfffd"/>
<path d="M4745 1195l21-13l-15-22l-21 15z" fill="#fff"/>
<path d="M4586 1186l22-18l-14-14l-21 20z" fill="#fffefe"/>
<path d="M5785 1226l12 13l-23 22l-10-28z" fill="#e5ffe5"/>
<path d="M5419 1074l18-9l-17-7l-18 10z" fill="#ffd2d2"/>
<path d="M5132 1186l19-4l-15-8l-20 4z" fill="#fff"/>
<path d="M4622 1182l21-22l-14-16l-21 24z" fill="#fffdfd"/>
<path d="M4550 1186l23-12l-13-11l-23 14z" fill="#fff"/>
<path d="M4658 1178l21-23l-15-19l-21 24z" fill="#fffbfb"/>
<path d="M4847 1235l22-8l-15-11l-21 8z" fill="#efe"/>
<path d="M5255 1203l19-12l-17-11l-19 12z" fill="#fcfffc"/>
<path d="M5326 1197l18-25l-16-11l-19 25z" fill="#fff"/>
<path d="M5472 1083l16 19l-17-12l-16-17z" fill="#fdd"/>
<path d="M4919 1226l19-27l-14-3l-20 25z" fill="#f6fff6"/>
<path d="M5044 1153l21 8l-16-3l-20-9z" fill="#fff9f9"/>
<path d="M5219 1202l19-10l-16-10l-19 10z" fill="#fdfffd"/>
<path d="M4708 1193l22-18l-15-21l-22 20z" fill="#fffefe"/>
<path d="M4759 1212l22-11l-15-19l-21 13z" fill="#fbfffb"/>
<path d="M5558 1160l13 27l-17-12l-14-30z" fill="#fffcfc"/>
<path d="M4973 1170l20-20l-15 1l-20 19z" fill="#fffafa"/>
<path d="M4811 1230l22-6l-15-14l-22 7z" fill="#f3fff3"/>
<path d="M4672 1195l21-21l-14-19l-21 23z" fill="#fffefe"/>
<path d="M5096 1174l20 4l-16-7l-20-5z" fill="#fffdfd"/>
<path d="M5183 1200l20-8l-16-10l-20 8z" fill="#fefffe"/>
<path d="M4636 1197l22-19l-15-18l-21 22z" fill="#fff"/>
<path d="M5400 1104l19-30l-17-6l-19 30z" fill="#ffdada"/>
<path d="M5361 1183l20-38l-17-9l-20 36z" fill="#fff9f9"/>
<path d="M5823 1203l16-11l-27 42l-15 5z" fill="#f5fff5"/>
<path d="M5008 1151l21-2l-15 0l-21 1z" fill="#fff6f6"/>
<path d="M4600 1198l22-16l-14-14l-22 18z" fill="#fff"/>
<path d="M5381 1145l19-41l-17-6l-19 38z" fill="#ffeaea"/>
<path d="M5307 1213l19-16l-17-11l-19 16z" fill="#fcfffc"/>
<path d="M5626 1220l16-7l-19-4l-16 1z" fill="#f7fff7"/>
<path d="M4723 1211l22-16l-15-20l-22 18z" fill="#fefffe"/>
<path d="M4898 1243l21-17l-15-5l-21 15z" fill="#efffef"/>
<path d="M5661 1217l17-19l-19-1l-17 16z" fill="#fafffa"/>
<path d="M4563 1195l23-9l-13-12l-23 12z" fill="#fff"/>
<path d="M5271 1213l19-11l-16-11l-19 12z" fill="#fbfffb"/>
<path d="M4862 1244l21-8l-14-9l-22 8z" fill="#edffed"/>
<path d="M5342 1208l19-25l-17-11l-18 25z" fill="#fefffe"/>
<path d="M5490 1094l15 22l-17-14l-16-19z" fill="#ffdfdf"/>
<path d="M5148 1195l19-5l-16-8l-19 4z" fill="#fff"/>
<path d="M5698 1200l15-1l-19-2l-16 1z" fill="#fdfffd"/>
<path d="M5437 1080l18-7l-18-8l-18 9z" fill="#ffd1d1"/>
<path d="M4953 1201l20-31l-15 0l-20 29z" fill="#fff"/>
<path d="M4774 1226l22-9l-15-16l-22 11z" fill="#f8fff8"/>
<path d="M5752 1208l12 25l-21 3l-10-33z" fill="#f5fff5"/>
<path d="M4687 1211l21-18l-15-19l-21 21z" fill="#fefffe"/>
<path d="M5575 1175l14 24l-18-12l-13-27z" fill="#fffefe"/>
<path d="M5236 1212l19-9l-17-11l-19 10z" fill="#fcfffc"/>
<path d="M4650 1212l22-17l-14-17l-22 19z" fill="#fefffe"/>
<path d="M4825 1240l22-5l-14-11l-22 6z" fill="#f1fff1"/>
<path d="M4933 1231l20-30l-15-2l-19 27z" fill="#f9fff9"/>
<path d="M5059 1159l21 7l-15-5l-21-8z" fill="#fff7f7"/>
<path d="M4738 1226l21-14l-14-17l-22 16z" fill="#fafffa"/>
<path d="M4613 1210l23-13l-14-15l-22 16z" fill="#fefffe"/>
<path d="M5200 1209l19-7l-16-10l-20 8z" fill="#fdfffd"/>
<path d="M5112 1184l20 2l-16-8l-20-4z" fill="#fffdfd"/>
<path d="M5378 1194l20-40l-17-9l-20 38z" fill="#fffafa"/>
<path d="M5324 1223l18-15l-16-11l-19 16z" fill="#fbfffb"/>
<path d="M5418 1112l19-32l-18-6l-19 30z" fill="#ffd8d8"/>
<path d="M5507 1106l15 24l-17-14l-15-22z" fill="#ffe2e2"/>
<path d="M4701 1226l22-15l-15-18l-21 18z" fill="#fbfffb"/>
<path d="M5398 1154l20-42l-18-8l-19 41z" fill="#ffeaea"/>
<path d="M4576 1204l24-6l-14-12l-23 9z" fill="#fff"/>
<path d="M4788 1238l23-8l-15-13l-22 9z" fill="#f5fff5"/>
<path d="M5360 1219l18-25l-17-11l-19 25z" fill="#fefffe"/>
<path d="M5288 1223l19-10l-17-11l-19 11z" fill="#fbfffb"/>
<path d="M4988 1172l20-21l-15-1l-20 20z" fill="#fff6f6"/>
<path d="M5644 1230l17-13l-19-4l-16 7z" fill="#f8fff8"/>
<path d="M5164 1205l19-5l-16-10l-19 5z" fill="#fff"/>
<path d="M4876 1252l22-9l-15-7l-21 8z" fill="#efe"/>
<path d="M5593 1190l14 20l-18-11l-14-24z" fill="#fff"/>
<path d="M5455 1088l17-5l-17-10l-18 7z" fill="#ffd1d1"/>
<path d="M5023 1155l21-2l-15-4l-21 2z" fill="#fff3f3"/>
<path d="M4912 1249l21-18l-14-5l-21 17z" fill="#f1fff1"/>
<path d="M4664 1225l23-14l-15-16l-22 17z" fill="#fcfffc"/>
<path d="M5252 1221l19-8l-16-10l-19 9z" fill="#fcfffc"/>
<path d="M5680 1222l18-22l-20-2l-17 19z" fill="#fdfffd"/>
<path d="M4752 1237l22-11l-15-14l-21 14z" fill="#f7fff7"/>
<path d="M5718 1204l15-1l-20-4l-15 1z" fill="#fefffe"/>
<path d="M5808 1214l15-11l-26 36l-12-13z" fill="#f9fff9"/>
<path d="M4627 1222l23-10l-14-15l-23 13z" fill="#fdfffd"/>
<path d="M4839 1249l23-5l-15-9l-22 5z" fill="#f0fff0"/>
<path d="M4968 1204l20-32l-15-2l-20 31z" fill="#fffdfd"/>
<path d="M5075 1170l21 4l-16-8l-21-7z" fill="#fff7f7"/>
<path d="M4715 1239l23-13l-15-15l-22 15z" fill="#f8fff8"/>
<path d="M5772 1215l13 11l-21 7l-12-25z" fill="#fafffa"/>
<path d="M5216 1219l20-7l-17-10l-19 7z" fill="#fdfffd"/>
<path d="M5128 1197l20-2l-16-9l-20-2z" fill="#fffdfd"/>
<path d="M5525 1120l15 25l-18-15l-15-24z" fill="#ffe5e5"/>
<path d="M5396 1205l19-41l-17-10l-20 40z" fill="#fffafa"/>
<path d="M4948 1235l20-31l-15-3l-20 30z" fill="#fbfffb"/>
<path d="M5341 1232l19-13l-18-11l-18 15z" fill="#fbfffb"/>
<path d="M4589 1213l24-3l-13-12l-24 6z" fill="#fff"/>
<path d="M4803 1247l22-7l-14-10l-23 8z" fill="#f4fff4"/>
<path d="M4678 1238l23-12l-14-15l-23 14z" fill="#f9fff9"/>
<path d="M5377 1229l19-24l-18-11l-18 25z" fill="#fdfffd"/>
<path d="M5415 1164l20-45l-17-7l-20 42z" fill="#ffeaea"/>
<path d="M5435 1119l20-31l-18-8l-19 32z" fill="#ffd7d7"/>
<path d="M5611 1204l15 16l-19-10l-14-20z" fill="#fff"/>
<path d="M5305 1231l19-8l-17-10l-19 10z" fill="#fbfffb"/>
<path d="M5180 1216l20-7l-17-9l-19 5z" fill="#fefffe"/>
<path d="M5472 1096l18-2l-18-11l-17 5z" fill="#ffd2d2"/>
<path d="M5663 1239l17-17l-19-5l-17 13z" fill="#fafffa"/>
<path d="M4766 1247l22-9l-14-12l-22 11z" fill="#f6fff6"/>
<path d="M4891 1258l21-9l-14-6l-22 9z" fill="#f0fff0"/>
<path d="M5269 1230l19-7l-17-10l-19 8z" fill="#fcfffc"/>
<path d="M4641 1233l23-8l-14-13l-23 10z" fill="#fbfffb"/>
<path d="M5003 1176l20-21l-15-4l-20 21z" fill="#fff3f3"/>
<path d="M5038 1163l21-4l-15-6l-21 2z" fill="#fff1f1"/>
<path d="M4927 1253l21-18l-15-4l-21 18z" fill="#f4fff4"/>
<path d="M5543 1134l15 26l-18-15l-15-25z" fill="#ffe9e9"/>
<path d="M4729 1248l23-11l-14-11l-23 13z" fill="#f7fff7"/>
<path d="M5091 1183l21 1l-16-10l-21-4z" fill="#fff8f8"/>
<path d="M5700 1227l18-23l-20-4l-18 22z" fill="#fefffe"/>
<path d="M4854 1256l22-4l-14-8l-23 5z" fill="#f1fff1"/>
<path d="M5737 1211l15-3l-19-5l-15 1z" fill="#fff"/>
<path d="M5144 1210l20-5l-16-10l-20 2z" fill="#fffefe"/>
<path d="M5233 1229l19-8l-16-9l-20 7z" fill="#fdfffd"/>
<path d="M5413 1216l20-42l-18-10l-19 41z" fill="#fffbfb"/>
<path d="M5358 1241l19-12l-17-10l-19 13z" fill="#fafffa"/>
<path d="M4983 1208l20-32l-15-4l-20 32z" fill="#fffbfb"/>
<path d="M4692 1249l23-10l-14-13l-23 12z" fill="#f8fff8"/>
<path d="M5630 1218l14 12l-18-10l-15-16z" fill="#fefffe"/>
<path d="M4602 1222l25 0l-14-12l-24 3z" fill="#fefffe"/>
<path d="M5394 1240l19-24l-17-11l-19 24z" fill="#fdfffd"/>
<path d="M5433 1174l20-46l-18-9l-20 45z" fill="#ffeaea"/>
<path d="M4817 1254l22-5l-14-9l-22 7z" fill="#f4fff4"/>
<path d="M5322 1240l19-8l-17-9l-19 8z" fill="#fbfffb"/>
<path d="M5197 1228l19-9l-16-10l-20 7z" fill="#fefffe"/>
<path d="M5453 1128l19-32l-17-8l-20 31z" fill="#ffd7d7"/>
<path d="M5490 1106l17 0l-17-12l-18 2z" fill="#ffd3d3"/>
<path d="M4963 1238l20-30l-15-4l-20 31z" fill="#fefffe"/>
<path d="M5792 1225l16-11l-23 12l-13-11z" fill="#fefffe"/>
<path d="M4655 1244l23-6l-14-13l-23 8z" fill="#fafffa"/>
<path d="M5561 1148l14 27l-17-15l-15-26z" fill="#ffecec"/>
<path d="M4780 1254l23-7l-15-9l-22 9z" fill="#f6fff6"/>
<path d="M5054 1174l21-4l-16-11l-21 4z" fill="#fff1f1"/>
<path d="M5286 1239l19-8l-17-8l-19 7z" fill="#fcfffc"/>
<path d="M5682 1246l18-19l-20-5l-17 17z" fill="#fbfffb"/>
<path d="M5107 1199l21-2l-16-13l-21-1z" fill="#fff9f9"/>
<path d="M5018 1183l20-20l-15-8l-20 21z" fill="#fff2f2"/>
<path d="M5160 1224l20-8l-16-11l-20 5z" fill="#fff"/>
<path d="M4905 1263l22-10l-15-4l-21 9z" fill="#f3fff3"/>
<path d="M4743 1256l23-9l-14-10l-23 11z" fill="#f7fff7"/>
<path d="M5431 1226l20-42l-18-10l-20 42z" fill="#fffbfb"/>
<path d="M5250 1238l19-8l-17-9l-19 8z" fill="#fdfffd"/>
<path d="M4942 1258l21-20l-15-3l-21 18z" fill="#f7fff7"/>
<path d="M5757 1222l15-7l-20-7l-15 3z" fill="#fff"/>
<path d="M4868 1262l23-4l-15-6l-22 4z" fill="#f3fff3"/>
<path d="M5719 1233l18-22l-19-7l-18 23z" fill="#fff"/>
<path d="M4706 1257l23-9l-14-9l-23 10z" fill="#f7fff7"/>
<path d="M5648 1232l15 7l-19-9l-14-12z" fill="#fdfffd"/>
<path d="M5376 1250l18-10l-17-11l-19 12z" fill="#fafffa"/>
<path d="M4616 1232l25 1l-14-11l-25 0z" fill="#fefffe"/>
<path d="M5412 1250l19-24l-18-10l-19 24z" fill="#fdfffd"/>
<path d="M5579 1164l14 26l-18-15l-14-27z" fill="#fff0f0"/>
<path d="M5509 1117l16 3l-18-14l-17 0z" fill="#ffd5d5"/>
<path d="M5451 1184l20-47l-18-9l-20 46z" fill="#ffeaea"/>
<path d="M5213 1239l20-10l-17-10l-19 9z" fill="#fefffe"/>
<path d="M4998 1214l20-31l-15-7l-20 32z" fill="#fff9f9"/>
<path d="M5471 1137l19-31l-18-10l-19 32z" fill="#ffd7d7"/>
<path d="M5339 1248l19-7l-17-9l-19 8z" fill="#fbfffb"/>
<path d="M4831 1260l23-4l-15-7l-22 5z" fill="#f6fff6"/>
<path d="M4669 1253l23-4l-14-11l-23 6z" fill="#f9fff9"/>
<path d="M5124 1215l20-5l-16-13l-21 2z" fill="#fffcfc"/>
<path d="M5070 1189l21-6l-16-13l-21 4z" fill="#fff3f3"/>
<path d="M4978 1243l20-29l-15-6l-20 30z" fill="#fff"/>
<path d="M5177 1239l20-11l-17-12l-20 8z" fill="#fff"/>
<path d="M5303 1247l19-7l-17-9l-19 8z" fill="#fcfffc"/>
<path d="M4794 1260l23-6l-14-7l-23 7z" fill="#f7fff7"/>
<path d="M5034 1194l20-20l-16-11l-20 20z" fill="#fff2f2"/>
<path d="M5702 1252l17-19l-19-6l-18 19z" fill="#fcfffc"/>
<path d="M5449 1237l20-43l-18-10l-20 42z" fill="#fffcfc"/>
<path d="M4757 1262l23-8l-14-7l-23 9z" fill="#f8fff8"/>
<path d="M5776 1236l16-11l-20-10l-15 7z" fill="#fff"/>
<path d="M5597 1180l14 24l-18-14l-14-26z" fill="#fff3f3"/>
<path d="M5267 1248l19-9l-17-9l-19 8z" fill="#fdfffd"/>
<path d="M4920 1268l22-10l-15-5l-22 10z" fill="#f6fff6"/>
<path d="M5667 1244l15 2l-19-7l-15-7z" fill="#fdfffd"/>
<path d="M4630 1241l25 3l-14-11l-25-1z" fill="#fefffe"/>
<path d="M5393 1259l19-9l-18-10l-18 10z" fill="#fafffa"/>
<path d="M5527 1128l16 6l-18-14l-16-3z" fill="#ffd7d7"/>
<path d="M5739 1240l18-18l-20-11l-18 22z" fill="#fff"/>
<path d="M5430 1259l19-22l-18-11l-19 24z" fill="#fcfffc"/>
<path d="M4720 1264l23-8l-14-8l-23 9z" fill="#f8fff8"/>
<path d="M5140 1233l20-9l-16-14l-20 5z" fill="#fffefe"/>
<path d="M4883 1267l22-4l-14-5l-23 4z" fill="#f6fff6"/>
<path d="M4957 1262l21-19l-15-5l-21 20z" fill="#fafffa"/>
<path d="M5087 1205l20-6l-16-16l-21 6z" fill="#fff6f6"/>
<path d="M5230 1250l20-12l-17-9l-20 10z" fill="#fdfffd"/>
<path d="M5469 1194l20-47l-18-10l-20 47z" fill="#ffeaea"/>
<path d="M5489 1147l20-30l-19-11l-19 31z" fill="#ffd8d8"/>
<path d="M5014 1221l20-27l-16-11l-20 31z" fill="#fff8f8"/>
<path d="M5357 1255l19-5l-18-9l-19 7z" fill="#fbfffb"/>
<path d="M4682 1262l24-5l-14-8l-23 4z" fill="#f9fff9"/>
<path d="M5193 1253l20-14l-16-11l-20 11z" fill="#fefffe"/>
<path d="M4846 1265l22-3l-14-6l-23 4z" fill="#f8fff8"/>
<path d="M5050 1206l20-17l-16-15l-20 20z" fill="#fff3f3"/>
<path d="M5616 1197l14 21l-19-14l-14-24z" fill="#fff6f6"/>
<path d="M5321 1255l18-7l-17-8l-19 7z" fill="#fdfffd"/>
<path d="M4993 1248l21-27l-16-7l-20 29z" fill="#fff"/>
<path d="M5467 1247l20-42l-18-11l-20 43z" fill="#fffcfc"/>
<path d="M4808 1265l23-5l-14-6l-23 6z" fill="#f9fff9"/>
<path d="M5157 1250l20-11l-17-15l-20 9z" fill="#fff"/>
<path d="M5103 1223l21-8l-17-16l-20 6z" fill="#fff9f9"/>
<path d="M5545 1141l16 7l-18-14l-16-6z" fill="#ffdbdb"/>
<path d="M5722 1256l17-16l-20-7l-17 19z" fill="#fefffe"/>
<path d="M5284 1257l19-10l-17-8l-19 9z" fill="#fdfffd"/>
<path d="M5686 1254l16-2l-20-6l-15-2z" fill="#fdfffd"/>
<path d="M4643 1251l26 2l-14-9l-25-3z" fill="#fdfffd"/>
<path d="M4771 1267l23-7l-14-6l-23 8z" fill="#fafffa"/>
<path d="M5759 1247l17-11l-19-14l-18 18z" fill="#fff"/>
<path d="M5448 1269l19-22l-18-10l-19 22z" fill="#fcfffc"/>
<path d="M5411 1267l19-8l-18-9l-19 9z" fill="#fafffa"/>
<path d="M5487 1205l20-48l-18-10l-20 47z" fill="#ffebeb"/>
<path d="M5507 1157l20-29l-18-11l-20 30z" fill="#ffd9d9"/>
<path d="M5247 1261l20-13l-17-10l-20 12z" fill="#fdfffd"/>
<path d="M4935 1272l22-10l-15-4l-22 10z" fill="#f9fff9"/>
<path d="M4734 1269l23-7l-14-6l-23 8z" fill="#f9fff9"/>
<path d="M5029 1230l21-24l-16-12l-20 27z" fill="#fff9f9"/>
<path d="M5210 1266l20-16l-17-11l-20 14z" fill="#fdfffd"/>
<path d="M4898 1273l22-5l-15-5l-22 4z" fill="#f8fff8"/>
<path d="M5066 1220l21-15l-17-16l-20 17z" fill="#fff6f6"/>
<path d="M4972 1266l21-18l-15-5l-21 19z" fill="#fcfffc"/>
<path d="M5634 1213l14 19l-18-14l-14-21z" fill="#fff9f9"/>
<path d="M5375 1263l18-4l-17-9l-19 5z" fill="#fcfffc"/>
<path d="M5120 1242l20-9l-16-18l-21 8z" fill="#fffdfd"/>
<path d="M4696 1269l24-5l-14-7l-24 5z" fill="#fafffa"/>
<path d="M5173 1267l20-14l-16-14l-20 11z" fill="#fdfffd"/>
<path d="M5563 1156l16 8l-18-16l-16-7z" fill="#ffdede"/>
<path d="M4860 1271l23-4l-15-5l-22 3z" fill="#fafffa"/>
<path d="M5485 1257l20-41l-18-11l-20 42z" fill="#fffdfd"/>
<path d="M5338 1262l19-7l-18-7l-18 7z" fill="#fdfffd"/>
<path d="M5009 1253l20-23l-15-9l-21 27z" fill="#fffefe"/>
<path d="M4823 1270l23-5l-15-5l-23 5z" fill="#fbfffb"/>
<path d="M5301 1265l20-10l-18-8l-19 10z" fill="#fefffe"/>
<path d="M5526 1169l19-28l-18-13l-20 29z" fill="#ffdbdb"/>
<path d="M5466 1278l19-21l-18-10l-19 22z" fill="#fcfffc"/>
<path d="M5505 1216l21-47l-19-12l-20 48z" fill="#ffecec"/>
<path d="M4657 1260l25 2l-13-9l-26-2z" fill="#fefffe"/>
<path d="M5082 1236l21-13l-16-18l-21 15z" fill="#fff9f9"/>
<path d="M5136 1261l21-11l-17-17l-20 9z" fill="#fff"/>
<path d="M5743 1259l16-12l-20-7l-17 16z" fill="#fff"/>
<path d="M5429 1275l19-6l-18-10l-19 8z" fill="#fbfffb"/>
<path d="M5706 1263l16-7l-20-4l-16 2z" fill="#fefffe"/>
<path d="M5264 1271l20-14l-17-9l-20 13z" fill="#fdfffd"/>
<path d="M5653 1231l14 13l-19-12l-14-19z" fill="#fffbfb"/>
<path d="M5227 1279l20-18l-17-11l-20 16z" fill="#fcfffc"/>
<path d="M5045 1240l21-20l-16-14l-21 24z" fill="#fff9f9"/>
<path d="M4785 1271l23-6l-14-5l-23 7z" fill="#fcfffc"/>
<path d="M5190 1283l20-17l-17-13l-20 14z" fill="#fbfffb"/>
<path d="M5582 1171l15 9l-18-16l-16-8z" fill="#ffe3e3"/>
<path d="M4748 1274l23-7l-14-5l-23 7z" fill="#fbfffb"/>
<path d="M4950 1277l22-11l-15-4l-22 10z" fill="#fbfffb"/>
<path d="M5393 1270l18-3l-18-8l-18 4z" fill="#fdfffd"/>
<path d="M4913 1278l22-6l-15-4l-22 5z" fill="#fafffa"/>
<path d="M4988 1270l21-17l-16-5l-21 18z" fill="#fefffe"/>
<path d="M4710 1276l24-7l-14-5l-24 5z" fill="#fcfffc"/>
<path d="M5503 1267l20-40l-18-11l-20 41z" fill="#fffdfd"/>
<path d="M5153 1279l20-12l-16-17l-21 11z" fill="#fdfffd"/>
<path d="M5099 1252l21-10l-17-19l-21 13z" fill="#fffcfc"/>
<path d="M5544 1182l19-26l-18-15l-19 28z" fill="#ffdede"/>
<path d="M4875 1276l23-3l-15-6l-23 4z" fill="#fcfffc"/>
<path d="M5356 1270l19-7l-18-8l-19 7z" fill="#fefffe"/>
<path d="M5523 1227l21-45l-18-13l-21 47z" fill="#fee"/>
<path d="M5671 1248l15 6l-19-10l-14-13z" fill="#fffdfd"/>
<path d="M5024 1259l21-19l-16-10l-20 23z" fill="#fffdfd"/>
<path d="M5600 1188l16 9l-19-17l-15-9z" fill="#ffe7e7"/>
<path d="M5484 1287l19-20l-18-10l-19 21z" fill="#fcfffc"/>
<path d="M5319 1274l19-12l-17-7l-20 10z" fill="#fefffe"/>
<path d="M5062 1251l20-15l-16-16l-21 20z" fill="#fffbfb"/>
<path d="M4671 1270l25-1l-14-7l-25-2z" fill="#fefffe"/>
<path d="M5207 1297l20-18l-17-13l-20 17z" fill="#f9fff9"/>
<path d="M5244 1291l20-20l-17-10l-20 18z" fill="#fbfffb"/>
<path d="M5448 1283l18-5l-18-9l-19 6z" fill="#fbfffb"/>
<path d="M5282 1281l19-16l-17-8l-20 14z" fill="#fdfffd"/>
<path d="M4837 1275l23-4l-14-6l-23 5z" fill="#fdfffd"/>
<path d="M5726 1271l17-12l-21-3l-16 7z" fill="#fff"/>
<path d="M5116 1268l20-7l-16-19l-21 10z" fill="#fffefe"/>
<path d="M5170 1295l20-12l-17-16l-20 12z" fill="#fafffa"/>
<path d="M4800 1276l23-6l-15-5l-23 6z" fill="#fefffe"/>
<path d="M5411 1277l18-2l-18-8l-18 3z" fill="#fdfffd"/>
<path d="M4762 1279l23-8l-14-4l-23 7z" fill="#fdfffd"/>
<path d="M5563 1196l19-25l-19-15l-19 26z" fill="#ffe1e1"/>
<path d="M5522 1277l20-38l-19-12l-20 40z" fill="#fffdfd"/>
<path d="M4966 1282l22-12l-16-4l-22 11z" fill="#fdfffd"/>
<path d="M5618 1207l16 6l-18-16l-16-9z" fill="#ffecec"/>
<path d="M4928 1284l22-7l-15-5l-22 6z" fill="#fcfffc"/>
<path d="M5690 1265l16-2l-20-9l-15-6z" fill="#fffefe"/>
<path d="M4724 1282l24-8l-14-5l-24 7z" fill="#fdfffd"/>
<path d="M5542 1239l21-43l-19-14l-21 45z" fill="#ffefef"/>
<path d="M5003 1275l21-16l-15-6l-21 17z" fill="#fff"/>
<path d="M5078 1262l21-10l-17-16l-20 15z" fill="#fffcfc"/>
<path d="M5374 1278l19-8l-18-7l-19 7z" fill="#fff"/>
<path d="M5224 1310l20-19l-17-12l-20 18z" fill="#f8fff8"/>
<path d="M5040 1266l22-15l-17-11l-21 19z" fill="#fffdfd"/>
<path d="M4890 1283l23-5l-15-5l-23 3z" fill="#fdfffd"/>
<path d="M5132 1283l21-4l-17-18l-20 7z" fill="#fefffe"/>
<path d="M5503 1295l19-18l-19-10l-19 20z" fill="#fcfffc"/>
<path d="M5262 1302l20-21l-18-10l-20 20z" fill="#fbfffb"/>
<path d="M5337 1283l19-13l-18-8l-19 12z" fill="#fefffe"/>
<path d="M4686 1280l24-4l-14-7l-25 1z" fill="#fefffe"/>
<path d="M5187 1310l20-13l-17-14l-20 12z" fill="#f8fff8"/>
<path d="M5299 1291l20-17l-18-9l-19 16z" fill="#fdfffd"/>
<path d="M5466 1291l18-4l-18-9l-18 5z" fill="#fcfffc"/>
<path d="M5637 1226l16 5l-19-18l-16-6z" fill="#fff1f1"/>
<path d="M5581 1211l19-23l-18-17l-19 25z" fill="#ffe5e5"/>
<path d="M4852 1281l23-5l-15-5l-23 4z" fill="#fefffe"/>
<path d="M5541 1287l20-36l-19-12l-20 38z" fill="#fffefe"/>
<path d="M5709 1282l17-11l-20-8l-16 2z" fill="#fff"/>
<path d="M5561 1251l20-40l-18-15l-21 43z" fill="#fff1f1"/>
<path d="M4814 1281l23-6l-14-5l-23 6z" fill="#fff"/>
<path d="M5430 1285l18-2l-19-8l-18 2z" fill="#fefffe"/>
<path d="M5094 1274l22-6l-17-16l-21 10z" fill="#fffefe"/>
<path d="M5149 1298l21-3l-17-16l-21 4z" fill="#fcfffc"/>
<path d="M4776 1284l24-8l-15-5l-23 8z" fill="#fff"/>
<path d="M4982 1287l21-12l-15-5l-22 12z" fill="#fff"/>
<path d="M5241 1322l21-20l-18-11l-20 19z" fill="#f7fff7"/>
<path d="M5655 1248l16 0l-18-17l-16-5z" fill="#fff6f6"/>
<path d="M4944 1291l22-9l-16-5l-22 7z" fill="#fefffe"/>
<path d="M5019 1280l21-14l-16-7l-21 16z" fill="#fffefe"/>
<path d="M4738 1288l24-9l-14-5l-24 8z" fill="#fefffe"/>
<path d="M5204 1323l20-13l-17-13l-20 13z" fill="#f6fff6"/>
<path d="M5057 1273l21-11l-16-11l-22 15z" fill="#fffdfd"/>
<path d="M5279 1312l20-21l-17-10l-20 21z" fill="#fbfffb"/>
<path d="M5600 1227l18-20l-18-19l-19 23z" fill="#ffe9e9"/>
<path d="M5392 1285l19-8l-18-7l-19 8z" fill="#fff"/>
<path d="M5522 1304l19-17l-19-10l-19 18z" fill="#fcfffc"/>
<path d="M4906 1291l22-7l-15-6l-23 5z" fill="#fefffe"/>
<path d="M5317 1300l20-17l-18-9l-20 17z" fill="#fefffe"/>
<path d="M4700 1290l24-8l-14-6l-24 4z" fill="#fff"/>
<path d="M5355 1291l19-13l-18-8l-19 13z" fill="#fff"/>
<path d="M5485 1299l18-4l-19-8l-18 4z" fill="#fcfffc"/>
<path d="M5580 1263l20-36l-19-16l-20 40z" fill="#fff4f4"/>
<path d="M5673 1270l17-5l-19-17l-16 0z" fill="#fffafa"/>
<path d="M4867 1289l23-6l-15-7l-23 5z" fill="#fff"/>
<path d="M5111 1285l21-2l-16-15l-22 6z" fill="#fff"/>
<path d="M5560 1296l20-33l-19-12l-20 36z" fill="#fffefe"/>
<path d="M5166 1311l21-1l-17-15l-21 3z" fill="#fafffa"/>
<path d="M5618 1245l19-19l-19-19l-18 20z" fill="#fee"/>
<path d="M5448 1293l18-2l-18-8l-18 2z" fill="#fff"/>
<path d="M5259 1333l20-21l-17-10l-21 20z" fill="#f6fff6"/>
<path d="M4829 1288l23-7l-15-6l-23 6z" fill="#fff"/>
<path d="M5221 1335l20-13l-17-12l-20 13z" fill="#f4fff4"/>
<path d="M5692 1294l17-12l-19-17l-17 5z" fill="#fffefe"/>
<path d="M5073 1281l21-7l-16-12l-21 11z" fill="#fffdfd"/>
<path d="M5297 1322l20-22l-18-9l-20 21z" fill="#fbfffb"/>
<path d="M4791 1290l23-9l-14-5l-24 8z" fill="#fff"/>
<path d="M4997 1293l22-13l-16-5l-21 12z" fill="#fff"/>
<path d="M4959 1298l23-11l-16-5l-22 9z" fill="#fff"/>
<path d="M5035 1286l22-13l-17-7l-21 14z" fill="#fffdfd"/>
<path d="M5541 1312l19-16l-19-9l-19 17z" fill="#fdfffd"/>
<path d="M5411 1293l19-8l-19-8l-19 8z" fill="#fff"/>
<path d="M4753 1295l23-11l-14-5l-24 9z" fill="#fff"/>
<path d="M5599 1277l19-32l-18-18l-20 36z" fill="#fff6f6"/>
<path d="M5335 1310l20-19l-18-8l-20 17z" fill="#fefffe"/>
<path d="M5637 1264l18-16l-18-22l-19 19z" fill="#fff4f4"/>
<path d="M4715 1300l23-12l-14-6l-24 8z" fill="#fff"/>
<path d="M5373 1300l19-15l-18-7l-19 13z" fill="#fff"/>
<path d="M4921 1299l23-8l-16-7l-22 7z" fill="#fff"/>
<path d="M5504 1308l18-4l-19-9l-18 4z" fill="#fdfffd"/>
<path d="M5128 1297l21 1l-17-15l-21 2z" fill="#fff"/>
<path d="M5183 1324l21-1l-17-13l-21 1z" fill="#f9fff9"/>
<path d="M5579 1305l20-28l-19-14l-20 33z" fill="#fffefe"/>
<path d="M4883 1298l23-7l-16-8l-23 6z" fill="#fff"/>
<path d="M5656 1284l17-14l-18-22l-18 16z" fill="#fff9f9"/>
<path d="M5239 1346l20-13l-18-11l-20 13z" fill="#f3fff3"/>
<path d="M5277 1343l20-21l-18-10l-20 21z" fill="#f6fff6"/>
<path d="M5467 1301l18-2l-19-8l-18 2z" fill="#fff"/>
<path d="M5618 1290l19-26l-19-19l-19 32z" fill="#fff9f9"/>
<path d="M4844 1296l23-7l-15-8l-23 7z" fill="#fffefe"/>
<path d="M5090 1290l21-5l-17-11l-21 7z" fill="#fffdfd"/>
<path d="M5315 1332l20-22l-18-10l-20 22z" fill="#fbfffb"/>
<path d="M5561 1320l18-15l-19-9l-19 16z" fill="#fdfffd"/>
<path d="M4806 1297l23-9l-15-7l-23 9z" fill="#fffefe"/>
<path d="M5674 1306l18-12l-19-24l-17 14z" fill="#fffefe"/>
<path d="M5429 1302l19-9l-18-8l-19 8z" fill="#fffefe"/>
<path d="M5013 1300l22-14l-16-6l-22 13z" fill="#fffefe"/>
<path d="M4975 1306l22-13l-15-6l-23 11z" fill="#fff"/>
<path d="M5052 1293l21-12l-16-8l-22 13z" fill="#fffcfc"/>
<path d="M5145 1308l21 3l-17-13l-21-1z" fill="#fff"/>
<path d="M5353 1319l20-19l-18-9l-20 19z" fill="#fefffe"/>
<path d="M5201 1335l20 0l-17-12l-21 1z" fill="#f7fff7"/>
<path d="M4767 1303l24-13l-15-6l-23 11z" fill="#fffefe"/>
<path d="M4729 1310l24-15l-15-7l-23 12z" fill="#fff"/>
<path d="M5391 1309l20-16l-19-8l-19 15z" fill="#fff"/>
<path d="M5523 1317l18-5l-19-8l-18 4z" fill="#fdfffd"/>
<path d="M4937 1308l22-10l-15-7l-23 8z" fill="#fff"/>
<path d="M5599 1314l19-24l-19-13l-20 28z" fill="#fff"/>
<path d="M5637 1304l19-20l-19-20l-19 26z" fill="#fffcfc"/>
<path d="M4898 1308l23-9l-15-8l-23 7z" fill="#fff"/>
<path d="M5256 1355l21-12l-18-10l-20 13z" fill="#f3fff3"/>
<path d="M5294 1352l21-20l-18-10l-20 21z" fill="#f6fff6"/>
<path d="M5486 1310l18-2l-19-9l-18 2z" fill="#fff"/>
<path d="M5107 1298l21-1l-17-12l-21 5z" fill="#fffdfd"/>
<path d="M4860 1306l23-8l-16-9l-23 7z" fill="#fffefe"/>
<path d="M5333 1341l20-22l-18-9l-20 22z" fill="#fbfffb"/>
<path d="M5162 1319l21 5l-17-13l-21-3z" fill="#fefffe"/>
<path d="M5580 1328l19-14l-20-9l-18 15z" fill="#fefffe"/>
<path d="M5218 1345l21 1l-18-11l-20 0z" fill="#f7fff7"/>
<path d="M5657 1319l17-13l-18-22l-19 20z" fill="#fffefe"/>
<path d="M5448 1311l19-10l-19-8l-19 9z" fill="#fffefe"/>
<path d="M4821 1307l23-11l-15-8l-23 9z" fill="#fffdfd"/>
<path d="M5371 1328l20-19l-18-9l-20 19z" fill="#fff"/>
<path d="M5068 1300l22-10l-17-9l-21 12z" fill="#fffbfb"/>
<path d="M4992 1314l21-14l-16-7l-22 13z" fill="#fffefe"/>
<path d="M5619 1323l18-19l-19-14l-19 24z" fill="#fff"/>
<path d="M5030 1307l22-14l-17-7l-22 14z" fill="#fffdfd"/>
<path d="M4744 1321l23-18l-14-8l-24 15z" fill="#fff"/>
<path d="M5410 1318l19-16l-18-9l-20 16z" fill="#fffefe"/>
<path d="M4782 1311l24-14l-15-7l-24 13z" fill="#fffdfd"/>
<path d="M5543 1326l18-6l-20-8l-18 5z" fill="#fefffe"/>
<path d="M4953 1318l22-12l-16-8l-22 10z" fill="#fff"/>
<path d="M4914 1319l23-11l-16-9l-23 9z" fill="#fffefe"/>
<path d="M5274 1364l20-12l-17-9l-21 12z" fill="#f4fff4"/>
<path d="M5313 1361l20-20l-18-9l-21 20z" fill="#f7fff7"/>
<path d="M5505 1320l18-3l-19-9l-18 2z" fill="#fff"/>
<path d="M5124 1308l21 0l-17-11l-21 1z" fill="#fffdfd"/>
<path d="M4875 1318l23-10l-15-10l-23 8z" fill="#fffefe"/>
<path d="M5351 1350l20-22l-18-9l-20 22z" fill="#fcfffc"/>
<path d="M5180 1329l21 6l-18-11l-21-5z" fill="#fefffe"/>
<path d="M5236 1355l20 0l-17-9l-21-1z" fill="#f7fff7"/>
<path d="M4836 1317l24-11l-16-10l-23 11z" fill="#fffdfd"/>
<path d="M5639 1331l18-12l-20-15l-18 19z" fill="#fff"/>
<path d="M5600 1336l19-13l-20-9l-19 14z" fill="#fefffe"/>
<path d="M5467 1320l19-10l-19-9l-19 10z" fill="#fffefe"/>
<path d="M5390 1338l20-20l-19-9l-20 19z" fill="#fff"/>
<path d="M5085 1308l22-10l-17-8l-22 10z" fill="#fffafa"/>
<path d="M4759 1331l23-20l-15-8l-23 18z" fill="#fffefe"/>
<path d="M5429 1327l19-16l-19-9l-19 16z" fill="#fffefe"/>
<path d="M5008 1323l22-16l-17-7l-21 14z" fill="#fffdfd"/>
<path d="M4797 1321l24-14l-15-10l-24 14z" fill="#fffdfd"/>
<path d="M4969 1329l23-15l-17-8l-22 12z" fill="#fffefe"/>
<path d="M5046 1316l22-16l-16-7l-22 14z" fill="#fffcfc"/>
<path d="M5562 1335l18-7l-19-8l-18 6z" fill="#fefffe"/>
<path d="M4930 1331l23-13l-16-10l-23 11z" fill="#fffefe"/>
<path d="M5292 1373l21-12l-19-9l-20 12z" fill="#f5fff5"/>
<path d="M5331 1369l20-19l-18-9l-20 20z" fill="#f8fff8"/>
<path d="M4891 1330l23-11l-16-11l-23 10z" fill="#fffefe"/>
<path d="M5525 1331l18-5l-20-9l-18 3z" fill="#fff"/>
<path d="M5141 1318l21 1l-17-11l-21 0z" fill="#fffdfd"/>
<path d="M5197 1340l21 5l-17-10l-21-6z" fill="#fefffe"/>
<path d="M5370 1359l20-21l-19-10l-20 22z" fill="#fcfffc"/>
<path d="M4852 1330l23-12l-15-12l-24 11z" fill="#fffdfd"/>
<path d="M5254 1365l20-1l-18-9l-20 0z" fill="#f8fff8"/>
<path d="M5486 1331l19-11l-19-10l-19 10z" fill="#fffdfd"/>
<path d="M5409 1347l20-20l-19-9l-20 20z" fill="#fff"/>
<path d="M5621 1344l18-13l-20-8l-19 13z" fill="#fff"/>
<path d="M4775 1342l22-21l-15-10l-23 20z" fill="#fffefe"/>
<path d="M4813 1332l23-15l-15-10l-24 14z" fill="#fffdfd"/>
<path d="M5102 1318l22-10l-17-10l-22 10z" fill="#fffafa"/>
<path d="M5448 1337l19-17l-19-9l-19 16z" fill="#fffefe"/>
<path d="M4986 1340l22-17l-16-9l-23 15z" fill="#fffefe"/>
<path d="M5025 1333l21-17l-16-9l-22 16z" fill="#fffdfd"/>
<path d="M5582 1346l18-10l-20-8l-18 7z" fill="#fff"/>
<path d="M5063 1325l22-17l-17-8l-22 16z" fill="#fffbfb"/>
<path d="M4947 1343l22-14l-16-11l-23 13z" fill="#fff"/>
<path d="M4908 1343l22-12l-16-12l-23 11z" fill="#fffefe"/>
<path d="M5544 1342l18-7l-19-9l-18 5z" fill="#fff"/>
<path d="M5158 1328l22 1l-18-10l-21-1z" fill="#fffdfd"/>
<path d="M5311 1381l20-12l-18-8l-21 12z" fill="#f7fff7"/>
<path d="M5350 1377l20-18l-19-9l-20 19z" fill="#f9fff9"/>
<path d="M5215 1350l21 5l-18-10l-21-5z" fill="#fefffe"/>
<path d="M4868 1343l23-13l-16-12l-23 12z" fill="#fffefe"/>
<path d="M5389 1367l20-20l-19-9l-20 21z" fill="#fdfffd"/>
<path d="M5506 1342l19-11l-20-11l-19 11z" fill="#fffdfd"/>
<path d="M5272 1374l20-1l-18-9l-20 1z" fill="#f9fff9"/>
<path d="M5428 1357l20-20l-19-10l-20 20z" fill="#fff"/>
<path d="M4829 1344l23-14l-16-13l-23 15z" fill="#fffdfd"/>
<path d="M4790 1352l23-20l-16-11l-22 21z" fill="#fffefe"/>
<path d="M5467 1348l19-17l-19-11l-19 17z" fill="#fffefe"/>
<path d="M5002 1351l23-18l-17-10l-22 17z" fill="#fffefe"/>
<path d="M5119 1328l22-10l-17-10l-22 10z" fill="#fffafa"/>
<path d="M5041 1344l22-19l-17-9l-21 17z" fill="#fffdfd"/>
<path d="M4963 1356l23-16l-17-11l-22 14z" fill="#fff"/>
<path d="M5080 1335l22-17l-17-10l-22 17z" fill="#fffafa"/>
<path d="M5602 1356l19-12l-21-8l-18 10z" fill="#fff"/>
<path d="M4924 1357l23-14l-17-12l-22 12z" fill="#fff"/>
<path d="M5564 1355l18-9l-20-11l-18 7z" fill="#fff"/>
<path d="M5176 1339l21 1l-17-11l-22-1z" fill="#fffdfd"/>
<path d="M4884 1357l24-14l-17-13l-23 13z" fill="#fffefe"/>
<path d="M5329 1388l21-11l-19-8l-20 12z" fill="#f8fff8"/>
<path d="M5233 1360l21 5l-18-10l-21-5z" fill="#fefffe"/>
<path d="M5368 1384l21-17l-19-8l-20 18z" fill="#fbfffb"/>
<path d="M5408 1376l20-19l-19-10l-20 20z" fill="#fefffe"/>
<path d="M5525 1354l19-12l-19-11l-19 11z" fill="#fffefe"/>
<path d="M4845 1357l23-14l-16-13l-23 14z" fill="#fffefe"/>
<path d="M4805 1363l24-19l-16-12l-23 20z" fill="#fffefe"/>
<path d="M5447 1367l20-19l-19-11l-20 20z" fill="#fff"/>
<path d="M5290 1383l21-2l-19-8l-20 1z" fill="#fafffa"/>
<path d="M5019 1363l22-19l-16-11l-23 18z" fill="#fffefe"/>
<path d="M5486 1359l20-17l-20-11l-19 17z" fill="#fffefe"/>
<path d="M4980 1369l22-18l-16-11l-23 16z" fill="#fff"/>
<path d="M5137 1339l21-11l-17-10l-22 10z" fill="#fff9f9"/>
<path d="M5058 1356l22-21l-17-10l-22 19z" fill="#fffcfc"/>
<path d="M5097 1346l22-18l-17-10l-22 17z" fill="#fffafa"/>
<path d="M4940 1371l23-15l-16-13l-23 14z" fill="#fff"/>
<path d="M5584 1369l18-13l-20-10l-18 9z" fill="#fff"/>
<path d="M4901 1371l23-14l-16-14l-24 14z" fill="#fff"/>
<path d="M5194 1350l21 0l-18-10l-21-1z" fill="#fffdfd"/>
<path d="M5251 1371l21 3l-18-9l-21-5z" fill="#fefffe"/>
<path d="M4861 1370l23-13l-16-14l-23 14z" fill="#fffefe"/>
<path d="M5545 1368l19-13l-20-13l-19 12z" fill="#fffefe"/>
<path d="M5387 1392l21-16l-19-9l-21 17z" fill="#fcfffc"/>
<path d="M5348 1396l20-12l-18-7l-21 11z" fill="#fafffa"/>
<path d="M5427 1385l20-18l-19-10l-20 19z" fill="#fefffe"/>
<path d="M4821 1374l24-17l-16-13l-24 19z" fill="#fff"/>
<path d="M4997 1382l22-19l-17-12l-22 18z" fill="#fff"/>
<path d="M5036 1376l22-20l-17-12l-22 19z" fill="#fff"/>
<path d="M5506 1370l19-16l-19-12l-20 17z" fill="#fffefe"/>
<path d="M5466 1377l20-18l-19-11l-20 19z" fill="#fff"/>
<path d="M5154 1350l22-11l-18-11l-21 11z" fill="#fffafa"/>
<path d="M5076 1368l21-22l-17-11l-22 21z" fill="#fffdfd"/>
<path d="M4957 1385l23-16l-17-13l-23 15z" fill="#fff"/>
<path d="M5309 1392l20-4l-18-7l-21 2z" fill="#fbfffb"/>
<path d="M5115 1358l22-19l-18-11l-22 18z" fill="#fffafa"/>
<path d="M4917 1385l23-14l-16-14l-23 14z" fill="#fff"/>
<path d="M5212 1361l21-1l-18-10l-21 0z" fill="#fffdfd"/>
<path d="M4877 1384l24-13l-17-14l-23 13z" fill="#fff"/>
<path d="M5565 1382l19-13l-20-14l-19 13z" fill="#fff"/>
<path d="M5270 1381l20 2l-18-9l-21-3z" fill="#fff"/>
<path d="M4837 1385l24-15l-16-13l-24 17z" fill="#fff"/>
<path d="M5014 1394l22-18l-17-13l-22 19z" fill="#fff"/>
<path d="M5407 1400l20-15l-19-9l-21 16z" fill="#fdfffd"/>
<path d="M5053 1388l23-20l-18-12l-22 20z" fill="#fff"/>
<path d="M5526 1383l19-15l-20-14l-19 16z" fill="#fffefe"/>
<path d="M5367 1404l20-12l-19-8l-20 12z" fill="#fbfffb"/>
<path d="M5446 1394l20-17l-19-10l-20 18z" fill="#fefffe"/>
<path d="M4974 1398l23-16l-17-13l-23 16z" fill="#fefffe"/>
<path d="M5486 1387l20-17l-20-11l-20 18z" fill="#fff"/>
<path d="M5172 1362l22-12l-18-11l-22 11z" fill="#fffafa"/>
<path d="M5093 1381l22-23l-18-12l-21 22z" fill="#fffdfd"/>
<path d="M5133 1371l21-21l-17-11l-22 19z" fill="#fffbfb"/>
<path d="M4934 1399l23-14l-17-14l-23 14z" fill="#fefffe"/>
<path d="M5328 1401l20-5l-19-8l-20 4z" fill="#fcfffc"/>
<path d="M5230 1373l21-2l-18-11l-21 1z" fill="#fffdfd"/>
<path d="M4894 1397l23-12l-16-14l-24 13z" fill="#fff"/>
<path d="M4853 1396l24-12l-16-14l-24 15z" fill="#fff"/>
<path d="M5288 1392l21 0l-19-9l-20-2z" fill="#fff"/>
<path d="M5546 1396l19-14l-20-14l-19 15z" fill="#fff"/>
<path d="M5031 1407l22-19l-17-12l-22 18z" fill="#fefffe"/>
<path d="M5071 1401l22-20l-17-13l-23 20z" fill="#fff"/>
<path d="M4991 1411l23-17l-17-12l-23 16z" fill="#fdfffd"/>
<path d="M5111 1394l22-23l-18-13l-22 23z" fill="#fffefe"/>
<path d="M5190 1375l22-14l-18-11l-22 12z" fill="#fffafa"/>
<path d="M5506 1398l20-15l-20-13l-20 17z" fill="#fff"/>
<path d="M5426 1408l20-14l-19-9l-20 15z" fill="#fefffe"/>
<path d="M5466 1403l20-16l-20-10l-20 17z" fill="#fff"/>
<path d="M5150 1384l22-22l-18-12l-21 21z" fill="#fffbfb"/>
<path d="M5387 1412l20-12l-20-8l-20 12z" fill="#fdfffd"/>
<path d="M4951 1412l23-14l-17-13l-23 14z" fill="#fdfffd"/>
<path d="M5347 1410l20-6l-19-8l-20 5z" fill="#fdfffd"/>
<path d="M4910 1410l24-11l-17-14l-23 12z" fill="#fefffe"/>
<path d="M5249 1386l21-5l-19-10l-21 2z" fill="#fffdfd"/>
<path d="M4870 1408l24-11l-17-13l-24 12z" fill="#fff"/>
<path d="M5088 1414l23-20l-18-13l-22 20z" fill="#fff"/>
<path d="M5048 1419l23-18l-18-13l-22 19z" fill="#fefffe"/>
<path d="M5008 1423l23-16l-17-13l-23 17z" fill="#fdfffd"/>
<path d="M5128 1407l22-23l-17-13l-22 23z" fill="#fffefe"/>
<path d="M5307 1403l21-2l-19-9l-21 0z" fill="#fff"/>
<path d="M5209 1388l21-15l-18-12l-22 14z" fill="#fffbfb"/>
<path d="M5526 1409l20-13l-20-13l-20 15z" fill="#fff"/>
<path d="M5169 1397l21-22l-18-13l-22 22z" fill="#fffcfc"/>
<path d="M4968 1424l23-13l-17-13l-23 14z" fill="#fdfffd"/>
<path d="M5486 1413l20-15l-20-11l-20 16z" fill="#fff"/>
<path d="M5446 1417l20-14l-20-9l-20 14z" fill="#fefffe"/>
<path d="M5406 1420l20-12l-19-8l-20 12z" fill="#fefffe"/>
<path d="M4927 1423l24-11l-17-13l-24 11z" fill="#fefffe"/>
<path d="M5366 1419l21-7l-20-8l-20 6z" fill="#fefffe"/>
<path d="M5267 1398l21-6l-18-11l-21 5z" fill="#fffdfd"/>
<path d="M5106 1427l22-20l-17-13l-23 20z" fill="#fefffe"/>
<path d="M4886 1419l24-9l-16-13l-24 11z" fill="#fff"/>
<path d="M5066 1431l22-17l-17-13l-23 18z" fill="#fdfffd"/>
<path d="M5146 1421l23-24l-19-13l-22 23z" fill="#fff"/>
<path d="M5025 1435l23-16l-17-12l-23 16z" fill="#fdfffd"/>
<path d="M5227 1401l22-15l-19-13l-21 15z" fill="#fffbfb"/>
<path d="M5187 1411l22-23l-19-13l-21 22z" fill="#fffcfc"/>
<path d="M5326 1415l21-5l-19-9l-21 2z" fill="#fff"/>
<path d="M4985 1436l23-13l-17-12l-23 13z" fill="#fdfffd"/>
<path d="M5506 1423l20-14l-20-11l-20 15z" fill="#fff"/>
<path d="M5466 1426l20-13l-20-10l-20 14z" fill="#fff"/>
<path d="M4944 1435l24-11l-17-12l-24 11z" fill="#fdfffd"/>
<path d="M5426 1429l20-12l-20-9l-20 12z" fill="#fefffe"/>
<path d="M5286 1411l21-8l-19-11l-21 6z" fill="#fffdfd"/>
<path d="M5386 1429l20-9l-19-8l-21 7z" fill="#fff"/>
<path d="M5124 1440l22-19l-18-14l-22 20z" fill="#fefffe"/>
<path d="M5084 1444l22-17l-18-13l-22 17z" fill="#fdfffd"/>
<path d="M5165 1434l22-23l-18-14l-23 24z" fill="#fff"/>
<path d="M4903 1431l24-8l-17-13l-24 9z" fill="#fff"/>
<path d="M5246 1415l21-17l-18-12l-22 15z" fill="#fffcfc"/>
<path d="M5205 1425l22-24l-18-13l-22 23z" fill="#fffdfd"/>
<path d="M5043 1446l23-15l-18-12l-23 16z" fill="#fdfffd"/>
<path d="M5346 1426l20-7l-19-9l-21 5z" fill="#fff"/>
<path d="M5002 1447l23-12l-17-12l-23 13z" fill="#fdfffd"/>
<path d="M4961 1447l24-11l-17-12l-24 11z" fill="#fdfffd"/>
<path d="M5486 1437l20-14l-20-10l-20 13z" fill="#fff"/>
<path d="M5305 1424l21-9l-19-12l-21 8z" fill="#fffdfd"/>
<path d="M5446 1440l20-14l-20-9l-20 12z" fill="#fff"/>
<path d="M5142 1453l23-19l-19-13l-22 19z" fill="#fefffe"/>
<path d="M5183 1448l22-23l-18-14l-22 23z" fill="#fff"/>
<path d="M5102 1456l22-16l-18-13l-22 17z" fill="#fdfffd"/>
<path d="M5406 1440l20-11l-20-9l-20 9z" fill="#fff"/>
<path d="M4920 1442l24-7l-17-12l-24 8z" fill="#fff"/>
<path d="M5265 1429l21-18l-19-13l-21 17z" fill="#fffcfc"/>
<path d="M5224 1438l22-23l-19-14l-22 24z" fill="#fffefe"/>
<path d="M5061 1457l23-13l-18-13l-23 15z" fill="#fdfffd"/>
<path d="M5365 1439l21-10l-20-10l-20 7z" fill="#fff"/>
<path d="M5020 1458l23-12l-18-11l-23 12z" fill="#fdfffd"/>
<path d="M4978 1458l24-11l-17-11l-24 11z" fill="#fdfffd"/>
<path d="M5325 1438l21-12l-20-11l-21 9z" fill="#fffdfd"/>
<path d="M5161 1466l22-18l-18-14l-23 19z" fill="#fdfffd"/>
<path d="M5466 1451l20-14l-20-11l-20 14z" fill="#fff"/>
<path d="M5202 1461l22-23l-19-13l-22 23z" fill="#fefffe"/>
<path d="M5120 1468l22-15l-18-13l-22 16z" fill="#fdfffd"/>
<path d="M5243 1452l22-23l-19-14l-22 23z" fill="#fffefe"/>
<path d="M5284 1443l21-19l-19-13l-21 18z" fill="#fffdfd"/>
<path d="M4937 1454l24-7l-17-12l-24 7z" fill="#fff"/>
<path d="M5426 1452l20-12l-20-11l-20 11z" fill="#fff"/>
<path d="M5079 1468l23-12l-18-12l-23 13z" fill="#fdfffd"/>
<path d="M5385 1452l21-12l-20-11l-21 10z" fill="#fff"/>
<path d="M5037 1469l24-12l-18-11l-23 12z" fill="#fdfffd"/>
<path d="M4996 1469l24-11l-18-11l-24 11z" fill="#fdfffd"/>
<path d="M5344 1452l21-13l-19-13l-21 12z" fill="#fffefe"/>
<path d="M5179 1479l23-18l-19-13l-22 18z" fill="#fdfffd"/>
<path d="M5220 1475l23-23l-19-14l-22 23z" fill="#fefffe"/>
<path d="M5262 1466l22-23l-19-14l-22 23z" fill="#fff"/>
<path d="M5303 1456l22-18l-20-14l-21 19z" fill="#fffefe"/>
<path d="M5138 1479l23-13l-19-13l-22 15z" fill="#fcfffc"/>
<path d="M4954 1466l24-8l-17-11l-24 7z" fill="#fff"/>
<path d="M5446 1465l20-14l-20-11l-20 12z" fill="#fff"/>
<path d="M5097 1479l23-11l-18-12l-23 12z" fill="#fdfffd"/>
<path d="M5405 1465l21-13l-20-12l-21 12z" fill="#fff"/>
<path d="M5055 1479l24-11l-18-11l-24 12z" fill="#fdfffd"/>
<path d="M5364 1465l21-13l-20-13l-21 13z" fill="#fffefe"/>
<path d="M5013 1480l24-11l-17-11l-24 11z" fill="#fefffe"/>
<path d="M5239 1487l23-21l-19-14l-23 23z" fill="#fefffe"/>
<path d="M5198 1491l22-16l-18-14l-23 18z" fill="#fcfffc"/>
<path d="M5281 1479l22-23l-19-13l-22 23z" fill="#fff"/>
<path d="M5322 1470l22-18l-19-14l-22 18z" fill="#fffefe"/>
<path d="M5157 1491l22-12l-18-13l-23 13z" fill="#fcfffc"/>
<path d="M4971 1478l25-9l-18-11l-24 8z" fill="#fff"/>
<path d="M5115 1490l23-11l-18-11l-23 11z" fill="#fdfffd"/>
<path d="M5425 1479l21-14l-20-13l-21 13z" fill="#fff"/>
<path d="M5073 1490l24-11l-18-11l-24 11z" fill="#fefffe"/>
<path d="M5384 1480l21-15l-20-13l-21 13z" fill="#fff"/>
<path d="M5259 1499l22-20l-19-13l-23 21z" fill="#fefffe"/>
<path d="M5217 1503l22-16l-19-12l-22 16z" fill="#fcfffc"/>
<path d="M5342 1483l22-18l-20-13l-22 18z" fill="#fffefe"/>
<path d="M5031 1490l24-11l-18-10l-24 11z" fill="#fefffe"/>
<path d="M5300 1491l22-21l-19-14l-22 23z" fill="#fff"/>
<path d="M5175 1503l23-12l-19-12l-22 12z" fill="#fcfffc"/>
<path d="M4989 1490l24-10l-17-11l-25 9z" fill="#fff"/>
<path d="M5134 1501l23-10l-19-12l-23 11z" fill="#fdfffd"/>
<path d="M5404 1494l21-15l-20-14l-21 15z" fill="#fff"/>
<path d="M5091 1500l24-10l-18-11l-24 11z" fill="#fefffe"/>
<path d="M5362 1496l22-16l-20-15l-22 18z" fill="#fff"/>
<path d="M5278 1511l22-20l-19-12l-22 20z" fill="#fefffe"/>
<path d="M5236 1514l23-15l-20-12l-22 16z" fill="#fcfffc"/>
<path d="M5320 1503l22-20l-20-13l-22 21z" fill="#fff"/>
<path d="M5049 1501l24-11l-18-11l-24 11z" fill="#fff"/>
<path d="M5194 1514l23-11l-19-12l-23 12z" fill="#fdfffd"/>
<path d="M5007 1503l24-13l-18-10l-24 10z" fill="#fff"/>
<path d="M5152 1512l23-9l-18-12l-23 10z" fill="#fefffe"/>
<path d="M5110 1511l24-10l-19-11l-24 10z" fill="#fff"/>
<path d="M5382 1509l22-15l-20-14l-22 16z" fill="#fff"/>
<path d="M5298 1521l22-18l-20-12l-22 20z" fill="#fefffe"/>
<path d="M5340 1514l22-18l-20-13l-22 20z" fill="#fff"/>
<path d="M5256 1526l22-15l-19-12l-23 15z" fill="#fdfffd"/>
<path d="M5068 1512l23-12l-18-10l-24 11z" fill="#fff"/>
<path d="M5214 1526l22-12l-19-11l-23 11z" fill="#fdfffd"/>
<path d="M5025 1515l24-14l-18-11l-24 13z" fill="#fff"/>
<path d="M5171 1523l23-9l-19-11l-23 9z" fill="#fefffe"/>
<path d="M5129 1522l23-10l-18-11l-24 10z" fill="#fff"/>
<path d="M5361 1524l21-15l-20-13l-22 18z" fill="#fff"/>
<path d="M5318 1531l22-17l-20-11l-22 18z" fill="#fefffe"/>
<path d="M5276 1536l22-15l-20-10l-22 15z" fill="#fdfffd"/>
<path d="M5086 1523l24-12l-19-11l-23 12z" fill="#fff"/>
<path d="M5233 1537l23-11l-20-12l-22 12z" fill="#fdfffd"/>
<path d="M5044 1528l24-16l-19-11l-24 14z" fill="#fff"/>
<path d="M5191 1535l23-9l-20-12l-23 9z" fill="#fefffe"/>
<path d="M5148 1533l23-10l-19-11l-23 10z" fill="#fff"/>
<path d="M5339 1539l22-15l-21-10l-22 17z" fill="#fff"/>
<path d="M5296 1546l22-15l-20-10l-22 15z" fill="#fefffe"/>
<path d="M5105 1535l24-13l-19-11l-24 12z" fill="#fff"/>
<path d="M5253 1548l23-12l-20-10l-23 11z" fill="#fefffe"/>
<path d="M5062 1541l24-18l-18-11l-24 16z" fill="#fff"/>
<path d="M5210 1547l23-10l-19-11l-23 9z" fill="#fefffe"/>
<path d="M5167 1546l24-11l-20-12l-23 10z" fill="#fff"/>
<path d="M5124 1547l24-14l-19-11l-24 13z" fill="#fff"/>
<path d="M5316 1555l23-16l-21-8l-22 15z" fill="#fff"/>
<path d="M5273 1559l23-13l-20-10l-23 12z" fill="#fefffe"/>
<path d="M5081 1554l24-19l-19-12l-24 18z" fill="#fff"/>
<path d="M5230 1560l23-12l-20-11l-23 10z" fill="#fff"/>
<path d="M5187 1558l23-11l-19-12l-24 11z" fill="#fff"/>
<path d="M5143 1560l24-14l-19-13l-24 14z" fill="#fffefe"/>
<path d="M5100 1567l24-20l-19-12l-24 19z" fill="#fff"/>
<path d="M5293 1571l23-16l-20-9l-23 13z" fill="#fff"/>
<path d="M5250 1573l23-14l-20-11l-23 12z" fill="#fff"/>
<path d="M5207 1572l23-12l-20-13l-23 11z" fill="#fff"/>
<path d="M5163 1573l24-15l-20-12l-24 14z" fill="#fffefe"/>
<path d="M5119 1581l24-21l-19-13l-24 20z" fill="#fff"/>
<path d="M5270 1587l23-16l-20-12l-23 14z" fill="#fff"/>
<path d="M5227 1587l23-14l-20-13l-23 12z" fill="#fff"/>
<path d="M5183 1588l24-16l-20-14l-24 15z" fill="#fffefe"/>
<path d="M5139 1594l24-21l-20-13l-24 21z" fill="#fff"/>
<path d="M5247 1603l23-16l-20-14l-23 14z" fill="#fff"/>
<path d="M5203 1603l24-16l-20-15l-24 16z" fill="#fff"/>
<path d="M5159 1608l24-20l-20-15l-24 21z" fill="#fff"/>
<path d="M5223 1619l24-16l-20-16l-24 16z" fill="#fff"/>
<path d="M5179 1622l24-19l-20-15l-24 20z" fill="#fff"/>
<path d="M5199 1636l24-17l-20-16l-24 19z" fill="#fff"/>
</g>
<text x="419.7" y="76.7" font-size="8.0" text-anchor="middle" dominant-baseline="central" fill="#000" transform="rotate(-22 419.7 76.7)">40</text>
<text x="424.7" y="98.5" font-size="8.0" text-anchor="middle" dominant-baseline="central" fill="#000" transform="rotate(-22 424.7 98.5)">20</text>
<text x="424.0" y="116.8" font-size="8.0" text-anchor="middle" dominant-baseline="central" fill="#000" transform="rotate(-22 424.0 116.8)">0</text>
<text x="432.7" y="134.3" font-size="8.0" text-anchor="middle" dominant-baseline="central" fill="#000" transform="rotate(-22 432.7 134.3)">−20</text>
<text x="436.2" y="151.0" font-size="8.0" text-anchor="middle" dominant-baseline="central" fill="#000" transform="rotate(-22 436.2 151.0)">−40</text>
<text x="439.6" y="159.8" font-size="8.0" text-anchor="middle" dominant-baseline="central" fill="#000" transform="rotate(-33 439.6 159.8)">20</text>
<text x="448.4" y="168.5" font-size="8.0" text-anchor="middle" dominant-baseline="central" fill="#000" transform="rotate(-33 448.4 168.5)">10</text>
<text x="458.8" y="177.0" font-size="8.0" text-anchor="middle" dominant-baseline="central" fill="#000" transform="rotate(-33 458.8 177.0)">5</text>
<text x="468.7" y="187.0" font-size="8.0" text-anchor="middle" dominant-baseline="central" fill="#000" transform="rotate(-33 468.7 187.0)">2.5</text>
<text x="480.3" y="197.0" font-size="8.0" text-anchor="middle" dominant-baseline="central" fill="#000" transform="rotate(-33 480.3 197.0)">1.25</text>
<text x="492.0" y="208.7" font-size="8.0" text-anchor="middle" dominant-baseline="central" fill="#000" transform="rotate(-33 492.0 208.7)">0.625</text>
<text x="505.0" y="219.7" font-size="8.0" text-anchor="middle" dominant-baseline="central" fill="#000" transform="rotate(-33 505.0 219.7)">0</text>
<text x="534.4" y="219.8" font-size="8.0" text-anchor="middle" dominant-baseline="central" fill="#000" transform="rotate(38 534.4 219.8)">0</text>
<text x="540.7" y="214.5" font-size="8.0" text-anchor="middle" dominant-baseline="central" fill="#000" transform="rotate(38 540.7 214.5)">2.4</text>
<text x="546.7" y="209.4" font-size="8.0" text-anchor="middle" dominant-baseline="central" fill="#000" transform="rotate(38 546.7 209.4)">4.7</text>
<text x="552.5" y="204.6" font-size="8.0" text-anchor="middle" dominant-baseline="central" fill="#000" transform="rotate(38 552.5 204.6)">9.4</text>
<text x="558.1" y="199.9" font-size="8.0" text-anchor="middle" dominant-baseline="central" fill="#000" transform="rotate(38 558.1 199.9)">10</text>
<text x="563.4" y="195.3" font-size="8.0" text-anchor="middle" dominant-baseline="central" fill="#000" transform="rotate(38 563.4 195.3)">18.8</text>
<text x="568.6" y="191.0" font-size="8.0" text-anchor="middle" dominant-baseline="central" fill="#000" transform="rotate(38 568.6 191.0)">20</text>
<text x="573.6" y="186.8" font-size="8.0" text-anchor="middle" dominant-baseline="central" fill="#000" transform="rotate(38 573.6 186.8)">37.5</text>
<text x="578.4" y="182.7" font-size="8.0" text-anchor="middle" dominant-baseline="central" fill="#000" transform="rotate(38 578.4 182.7)">40</text>
<text x="583.1" y="178.8" font-size="8.0" text-anchor="middle" dominant-baseline="central" fill="#000" transform="rotate(38 583.1 178.8)">75</text>
<text x="587.6" y="175.0" font-size="8.0" text-anchor="middle" dominant-baseline="central" fill="#000" transform="rotate(38 587.6 175.0)">80</text>
<text x="591.9" y="171.3" font-size="8.0" text-anchor="middle" dominant-baseline="central" fill="#000" transform="rotate(38 591.9 171.3)">150</text>
<text x="596.1" y="167.8" font-size="8.0" text-anchor="middle" dominant-baseline="central" fill="#000" transform="rotate(38 596.1 167.8)">160</text>
<text x="600.2" y="164.4" font-size="8.0" text-anchor="middle" dominant-baseline="central" fill="#000" transform="rotate(38 600.2 164.4)">300</text>
<text x="604.2" y="161.0" font-size="8.0" text-anchor="middle" dominant-baseline="central" fill="#000" transform="rotate(38 604.2 161.0)">320</text>
<text x="404.9" y="127.9" font-size="8.0" text-anchor="middle" dominant-baseline="central" fill="#000" transform="rotate(76 404.9 127.9)">Synergy Score</text>
<text x="447.5" y="201.7" font-size="8.5" text-anchor="middle" dominant-baseline="central" fill="#000" transform="rotate(43.5 447.5 201.7)">GSK343 (µM)</text>
<text x="592.7" y="201.0" font-size="8.5" text-anchor="middle" dominant-baseline="central" fill="#000" transform="rotate(-44.5 592.7 201.0)">Vismodegib (µM)</text>
</g>
<g id="sB">
<path d="M442.0 422.5L426.8 337.5M507.2 477.4L442.0 422.5M447.6 419.5L434.0 335.4M513.1 472.5L447.6 419.5M453.0 416.6L440.9 333.4M518.7 467.7L453.0 416.6M458.3 413.7L447.5 331.5M524.1 463.2L458.3 413.7M463.4 411.0L453.9 329.6M529.3 458.8L463.4 411.0M468.3 408.3L460.1 327.9M534.4 454.6L468.3 408.3M473.2 405.8L466.1 326.1M539.2 450.5L473.2 405.8M477.8 403.2L471.8 324.5M543.9 446.5L477.8 403.2M482.4 400.8L477.4 322.9M548.4 442.7L482.4 400.8M486.8 398.4L482.8 321.3M552.7 439.1L486.8 398.4M491.1 396.1L488.0 319.8M556.9 435.5L491.1 396.1M495.3 393.9L493.0 318.4M561.0 432.1L495.3 393.9M499.4 391.7L497.9 317.0M564.9 428.8L499.4 391.7M503.3 389.5L502.6 315.6M568.7 425.6L503.3 389.5M507.2 387.5L507.2 314.3M572.4 422.5L507.2 387.5M572.4 422.5L587.6 337.5M507.2 477.4L572.4 422.5M559.6 415.6L571.3 332.8M493.9 466.2L559.6 415.6M547.7 409.2L556.3 328.4M481.7 456.0L547.7 409.2M536.6 403.2L542.6 324.5M470.5 446.5L536.6 403.2M526.1 397.6L529.9 320.8M460.3 437.9L526.1 397.6M516.4 392.4L518.1 317.4M450.8 429.9L516.4 392.4M507.2 387.5L507.2 314.3M442.0 422.5L507.2 387.5M440.7 415.3L507.2 381.1M507.2 381.1L573.7 415.3M438.0 400.1L507.2 367.6M507.2 367.6L576.4 400.1M435.0 383.5L507.2 353.2M507.2 353.2L579.4 383.5M431.8 365.5L507.2 337.8M507.2 337.8L582.6 365.5M428.3 345.9L507.2 321.2M507.2 321.2L586.1 345.9" stroke="#e4e4e4" stroke-width="0.55" fill="none"/>
<path d="M435.0 383.5L507.2 353.2M507.2 353.2L579.4 383.5" stroke="#555" stroke-width=".6" stroke-dasharray="2.4 1" fill="none"/>
<path d="M442.0 422.5L426.8 337.5" stroke="#333" stroke-width=".75" stroke-dasharray="2.2 .9" fill="none"/>
<path d="M442.0 422.5L507.2 477.4" stroke="#444" stroke-width=".7" fill="none"/>
<path d="M440.7 415.3l-2.4 0.8M438.0 400.1l-2.4 0.8M435.0 383.5l-2.4 0.8M431.8 365.5l-2.4 0.8M428.3 345.9l-2.4 0.8M507.2 477.4l-1.7 1.8M493.9 466.2l-1.7 1.8M481.7 456.0l-1.7 1.8M470.5 446.5l-1.7 1.8M460.3 437.9l-1.7 1.8M450.8 429.9l-1.7 1.8M442.0 422.5l-1.7 1.8" stroke="#444" stroke-width=".7" fill="none"/>
<g transform="scale(.1)" stroke="#000" stroke-width="5.6" stroke-linejoin="round">
<path d="M5070 3456l14-10l-12 101l-14 4z" fill="#ffe9e9"/>
<path d="M5055 3465l15-9l-12 95l-14 6z" fill="#ffeaea"/>
<path d="M5041 3472l14-7l-11 92l-14 8z" fill="#ffecec"/>
<path d="M5027 3480l14-8l-11 93l-14 7z" fill="#ffeded"/>
<path d="M5012 3486l15-6l-11 92l-14 6z" fill="#fee"/>
<path d="M4997 3490l15-4l-10 92l-15 5z" fill="#ffeded"/>
<path d="M5082 3381l14-21l-12 86l-14 10z" fill="#ff8989"/>
<path d="M4982 3493l15-3l-10 93l-15 2z" fill="#ffebeb"/>
<path d="M5067 3392l15-11l-12 75l-15 9z" fill="#ff9191"/>
<path d="M5053 3393l14-1l-12 73l-14 7z" fill="#ff9393"/>
<path d="M4967 3496l15-3l-10 92l-15 2z" fill="#ffe8e8"/>
<path d="M5038 3408l15-15l-12 79l-14 8z" fill="#ff9595"/>
<path d="M4952 3503l15-7l-10 91l-14 7z" fill="#ffe7e7"/>
<path d="M5023 3413l15-5l-11 72l-15 6z" fill="#f99"/>
<path d="M4936 3517l16-14l-9 91l-15 13z" fill="#ffeaea"/>
<path d="M5094 3328l15-30l-13 62l-14 21z" fill="#ff2c2c"/>
<path d="M4921 3532l15-15l-8 90l-15 16z" fill="#fff0f0"/>
<path d="M5008 3409l15 4l-11 73l-15 4z" fill="#ff9595"/>
<path d="M5080 3339l14-11l-12 53l-15 11z" fill="#ff3d3d"/>
<path d="M4906 3543l15-11l-8 91l-15 13z" fill="#fff5f5"/>
<path d="M4993 3421l15-12l-11 81l-15 3z" fill="#ff9393"/>
<path d="M5065 3334l15 5l-13 53l-14 1z" fill="#ff3c3c"/>
<path d="M4890 3546l16-3l-8 93l-16 7z" fill="#fff6f6"/>
<path d="M5050 3355l15-21l-12 59l-15 15z" fill="#ff3f3f"/>
<path d="M5283 3638l12 27l-13-21l-12-26z" fill="#f9fff9"/>
<path d="M5270 3618l12 26l-12-28l-13-26z" fill="#fffefe"/>
<path d="M4977 3425l16-4l-11 72l-15 3z" fill="#ff9292"/>
<path d="M5296 3651l11 27l-12-13l-12-27z" fill="#f0fff0"/>
<path d="M5257 3590l13 26l-12-37l-13-23z" fill="#ffefef"/>
<path d="M4873 3545l17 1l-8 97l-15 2z" fill="#fff4f4"/>
<path d="M5035 3361l15-6l-12 53l-15 5z" fill="#ff4747"/>
<path d="M5107 3292l15-35l-13 41l-15 30z" fill="#f00"/>
<path d="M5309 3659l12 26l-14-7l-11-27z" fill="#ecffec"/>
<path d="M5092 3303l15-11l-13 36l-14 11z" fill="#f00"/>
<path d="M5245 3556l13 23l-12-43l-13-19z" fill="#ffd4d4"/>
<path d="M4961 3425l16 0l-10 71l-15 7z" fill="#ff9090"/>
<path d="M4857 3548l16-3l-6 100l-16 4z" fill="#fff1f1"/>
<path d="M5323 3663l12 25l-14-3l-12-26z" fill="#ecffec"/>
<path d="M5019 3351l16 10l-12 52l-15-4z" fill="#ff3f3f"/>
<path d="M5233 3517l13 19l-11-48l-14-12z" fill="#ffafaf"/>
<path d="M4946 3446l15-21l-9 78l-16 14z" fill="#ff9595"/>
<path d="M5077 3293l15 10l-12 36l-15-5z" fill="#f00"/>
<path d="M5257 3608l13 10l-13-28l-13-10z" fill="#fff0f0"/>
<path d="M5269 3627l14 11l-13-20l-13-10z" fill="#fffbfb"/>
<path d="M5244 3580l13 10l-12-34l-13-9z" fill="#fdd"/>
<path d="M4930 3460l16-14l-10 71l-15 15z" fill="#ffa0a0"/>
<path d="M5283 3641l13 10l-13-13l-14-11z" fill="#fff"/>
<path d="M4841 3559l16-11l-6 101l-16 7z" fill="#fff1f1"/>
<path d="M5337 3664l12 24l-14 0l-12-25z" fill="#f0fff0"/>
<path d="M5221 3476l14 12l-12-51l-14-4z" fill="#ff8282"/>
<path d="M5004 3369l15-18l-11 58l-15 12z" fill="#ff3d3d"/>
<path d="M5232 3547l13 9l-12-39l-13-8z" fill="#ffc0c0"/>
<path d="M5062 3319l15-26l-12 41l-15 21z" fill="#f00"/>
<path d="M5120 3270l16-38l-14 25l-15 35z" fill="#f00"/>
<path d="M5296 3650l13 9l-13-8l-13-10z" fill="#fefffe"/>
<path d="M5105 3280l15-10l-13 22l-15 11z" fill="#f00"/>
<path d="M4914 3462l16-2l-9 72l-15 11z" fill="#ffa5a5"/>
<path d="M4825 3574l16-15l-6 97l-16 9z" fill="#fff3f3"/>
<path d="M5047 3325l15-6l-12 36l-15 6z" fill="#ff0707"/>
<path d="M5243 3609l14-1l-13-28l-14 2z" fill="#ffe8e8"/>
<path d="M5256 3629l13-2l-12-19l-14 1z" fill="#fff5f5"/>
<path d="M5220 3509l13 8l-12-41l-14-6z" fill="#ff9d9d"/>
<path d="M4988 3375l16-6l-11 52l-16 4z" fill="#ff4343"/>
<path d="M5310 3655l13 8l-14-4l-13-9z" fill="#fdfffd"/>
<path d="M5209 3433l14 4l-11-52l-15 4z" fill="#ff5050"/>
<path d="M5351 3664l12 23l-14 1l-12-24z" fill="#f5fff5"/>
<path d="M5230 3582l14-2l-12-33l-14 1z" fill="#ffd3d3"/>
<path d="M5269 3644l14-3l-14-14l-13 2z" fill="#fffbfb"/>
<path d="M4701 3800l17-21l-4 80l-16 22z" fill="#4fff4f" stroke-width="2.6"/>
<path d="M4898 3469l16-7l-8 81l-16 3z" fill="#ffa4a4"/>
<path d="M4808 3587l17-13l-6 91l-17 5z" fill="#fff5f5"/>
<path d="M4718 3779l14-45l-5 77l-13 48z" fill="#81ff81" stroke-width="2.6"/>
<path d="M5207 3470l14 6l-12-43l-14-3z" fill="#ff7474"/>
<path d="M5218 3548l14-1l-12-38l-15-1z" fill="#ffb6b6"/>
<path d="M5090 3267l15 13l-13 23l-15-10z" fill="#f00"/>
<path d="M5282 3653l14-3l-13-9l-14 3z" fill="#fffefe"/>
<path d="M5228 3619l15-10l-13-27l-14 9z" fill="#ffe7e7"/>
<path d="M5241 3639l15-10l-13-20l-15 10z" fill="#fff4f4"/>
<path d="M5133 3259l16-37l-13 10l-16 38z" fill="#f00"/>
<path d="M5324 3657l13 7l-14-1l-13-8z" fill="#fefffe"/>
<path d="M4684 3804l17-4l-3 81l-17 3z" fill="#46ff46" stroke-width="2.6"/>
<path d="M5197 3389l15-4l-12-52l-15 13z" fill="#ff1818"/>
<path d="M5031 3311l16 14l-12 36l-16-10z" fill="#f00"/>
<path d="M5216 3591l14-9l-12-34l-15 9z" fill="#ffd2d2"/>
<path d="M5118 3269l15-10l-13 11l-15 10z" fill="#f00"/>
<path d="M4972 3368l16 7l-11 50l-16 0z" fill="#ff3d3d"/>
<path d="M5254 3654l15-10l-13-15l-15 10z" fill="#fffbfb"/>
<path d="M5366 3663l11 22l-14 2l-12-23z" fill="#fafffa"/>
<path d="M5205 3508l15 1l-13-39l-14-4z" fill="#ff9191"/>
<path d="M5195 3430l14 3l-12-44l-14-1z" fill="#ff4747"/>
<path d="M5296 3659l14-4l-14-5l-14 3z" fill="#fffefe"/>
<path d="M5075 3296l15-29l-13 26l-15 26z" fill="#f00"/>
<path d="M4791 3593l17-6l-6 83l-17-1z" fill="#fff5f5"/>
<path d="M4732 3734l13-56l-5 72l-13 61z" fill="#c8ffc8" stroke-width="2.6"/>
<path d="M5214 3632l14-13l-12-28l-15 13z" fill="#ffebeb"/>
<path d="M4881 3467l17 2l-8 77l-17-1z" fill="#ff9f9f"/>
<path d="M5203 3557l15-9l-13-40l-14 12z" fill="#ffb5b5"/>
<path d="M5227 3652l14-13l-13-20l-14 13z" fill="#fff7f7"/>
<path d="M5268 3663l14-10l-13-9l-15 10z" fill="#fffdfd"/>
<path d="M5201 3604l15-13l-13-34l-15 13z" fill="#ffd6d6"/>
<path d="M4957 3395l15-27l-11 57l-15 21z" fill="#ff4242"/>
<path d="M5185 3346l15-13l-13-47l-15 21z" fill="#f00"/>
<path d="M5240 3666l14-12l-13-15l-14 13z" fill="#fffdfd"/>
<path d="M5193 3466l14 4l-12-40l-14-7z" fill="#ff6868"/>
<path d="M5060 3302l15-6l-13 23l-15 6z" fill="#f00"/>
<path d="M5147 3261l15-33l-13-6l-16 37z" fill="#f00"/>
<path d="M5338 3658l13 6l-14 0l-13-7z" fill="#fff"/>
<path d="M5183 3388l14 1l-12-43l-15 1z" fill="#ff1717"/>
<path d="M5016 3335l15-24l-12 40l-15 18z" fill="#f00"/>
<path d="M5191 3520l14-12l-12-42l-15 16z" fill="#ff9191"/>
<path d="M4665 3804l19 0l-3 80l-18 0z" fill="#53ff53" stroke-width="2.6"/>
<path d="M5132 3269l15-8l-14-2l-15 10z" fill="#f00"/>
<path d="M5199 3644l15-12l-13-28l-15 13z" fill="#ffefef"/>
<path d="M5380 3664l12 20l-15 1l-11-22z" fill="#fdfffd"/>
<path d="M4941 3407l16-12l-11 51l-16 14z" fill="#ff5252"/>
<path d="M5212 3663l15-11l-13-20l-15 12z" fill="#fffafa"/>
<path d="M5310 3662l14-5l-14-2l-14 4z" fill="#fffdfd"/>
<path d="M5188 3570l15-13l-12-37l-15 13z" fill="#ffbaba"/>
<path d="M5103 3254l15 15l-13 11l-15-13z" fill="#f00"/>
<path d="M5282 3669l14-10l-14-6l-14 10z" fill="#fffefe"/>
<path d="M5172 3307l15-21l-12-36l-15 27z" fill="#f00"/>
<path d="M5253 3675l15-12l-14-9l-14 12z" fill="#fff"/>
<path d="M4775 3603l16-10l-6 76l-16 5z" fill="#fff4f4"/>
<path d="M5160 3277l15-27l-13-22l-15 33z" fill="#f00"/>
<path d="M5186 3617l15-13l-13-34l-15 14z" fill="#ffdcdc"/>
<path d="M5225 3676l15-10l-13-14l-15 11z" fill="#fffefe"/>
<path d="M4745 3678l14-49l-6 70l-13 51z" fill="#f8fff8"/>
<path d="M5170 3347l15-1l-13-39l-14 4z" fill="#f00"/>
<path d="M5000 3341l16-6l-12 34l-16 6z" fill="#ff0505"/>
<path d="M5181 3423l14 7l-12-42l-15-10z" fill="#ff3939"/>
<path d="M4864 3461l17 6l-8 78l-16 3z" fill="#ff9797"/>
<path d="M5145 3283l15-6l-13-16l-15 8z" fill="#f00"/>
<path d="M5176 3533l15-13l-13-38l-15 11z" fill="#ff9898"/>
<path d="M5178 3482l15-16l-12-43l-15 18z" fill="#ff6767"/>
<path d="M5158 3311l14-4l-12-30l-15 6z" fill="#f00"/>
<path d="M5173 3584l15-14l-12-37l-15 11z" fill="#ffc0c0"/>
<path d="M4759 3629l16-26l-6 71l-16 25z" fill="#fff9f9"/>
<path d="M5353 3658l13 5l-15 1l-13-6z" fill="#fffcfc"/>
<path d="M5184 3652l15-8l-13-27l-15 10z" fill="#fff1f1"/>
<path d="M5197 3670l15-7l-13-19l-15 8z" fill="#fffbfb"/>
<path d="M5267 3681l15-12l-14-6l-15 12z" fill="#fff"/>
<path d="M5088 3284l15-30l-13 13l-15 29z" fill="#f00"/>
<path d="M5239 3684l14-9l-13-9l-15 10z" fill="#fff"/>
<path d="M5296 3672l14-10l-14-3l-14 10z" fill="#fffdfd"/>
<path d="M4924 3401l17 6l-11 53l-16 2z" fill="#ff5151"/>
<path d="M5171 3627l15-10l-13-33l-15 10z" fill="#ffe0e0"/>
<path d="M5395 3666l12 20l-15-2l-12-20z" fill="#fff"/>
<path d="M5324 3663l14-5l-14-1l-14 5z" fill="#fffbfb"/>
<path d="M5044 3286l16 16l-13 23l-16-14z" fill="#f00"/>
<path d="M4648 3811l17-7l-2 80l-17 6z" fill="#5cff5c" stroke-width="2.6"/>
<path d="M5168 3378l15 10l-13-41l-14-12z" fill="#ff0808"/>
<path d="M5163 3493l15-11l-12-41l-15 11z" fill="#ff7070"/>
<path d="M5117 3253l15 16l-14 0l-15-15z" fill="#f00"/>
<path d="M5211 3681l14-5l-13-13l-15 7z" fill="#fff"/>
<path d="M5073 3290l15-6l-13 12l-15 6z" fill="#f00"/>
<path d="M5166 3441l15-18l-13-45l-15 22z" fill="#ff3939"/>
<path d="M5161 3544l15-11l-13-40l-15 8z" fill="#ff9c9c"/>
<path d="M4848 3484l16-23l-7 87l-16 11z" fill="#ff9898"/>
<path d="M5158 3594l15-10l-12-40l-15 13z" fill="#ffc5c5"/>
<path d="M4984 3331l16 10l-12 34l-16-7z" fill="#f00"/>
<path d="M5169 3658l15-6l-13-25l-15 7z" fill="#fff2f2"/>
<path d="M5253 3689l14-8l-14-6l-14 9z" fill="#fefffe"/>
<path d="M5281 3684l15-12l-14-3l-15 12z" fill="#fff"/>
<path d="M5156 3335l14 12l-12-36l-15-15z" fill="#f00"/>
<path d="M5367 3659l13 5l-14-1l-13-5z" fill="#fffafa"/>
<path d="M5182 3674l15-4l-13-18l-15 6z" fill="#fffafa"/>
<path d="M5156 3634l15-7l-13-33l-15 8z" fill="#ffe1e1"/>
<path d="M5224 3687l15-3l-14-8l-14 5z" fill="#fff"/>
<path d="M5151 3452l15-11l-13-41l-15 10z" fill="#ff4545"/>
<path d="M5410 3670l11 20l-14-4l-12-20z" fill="#fff"/>
<path d="M5130 3268l15 15l-13-14l-15-16z" fill="#f00"/>
<path d="M5310 3674l14-11l-14-1l-14 10z" fill="#fffcfc"/>
<path d="M5028 3314l16-28l-13 25l-15 24z" fill="#f00"/>
<path d="M4832 3503l16-19l-7 75l-16 15z" fill="#ffa4a4"/>
<path d="M4908 3413l16-12l-10 61l-16 7z" fill="#ff4f4f"/>
<path d="M5339 3663l14-5l-15 0l-14 5z" fill="#fff9f9"/>
<path d="M4630 3822l18-11l-2 79l-18 11z" fill="#5cff5c" stroke-width="2.6"/>
<path d="M5143 3296l15 15l-13-28l-15-15z" fill="#f00"/>
<path d="M5153 3400l15-22l-12-43l-16 25z" fill="#ff0909"/>
<path d="M5146 3557l15-13l-13-43l-15 16z" fill="#ffa2a2"/>
<path d="M5101 3284l16-31l-14 1l-15 30z" fill="#f00"/>
<path d="M5148 3501l15-8l-12-41l-16 4z" fill="#ff7373"/>
<path d="M5143 3602l15-8l-12-37l-16 8z" fill="#ffc8c8"/>
<path d="M5196 3684l15-3l-14-11l-15 4z" fill="#fffefe"/>
<path d="M4706 3733l17-20l-5 66l-17 21z" fill="#d3ffd3"/>
<path d="M4968 3360l16-29l-12 37l-15 27z" fill="#ff0202"/>
<path d="M4723 3713l15-41l-6 62l-14 45z" fill="#edffed"/>
<path d="M5013 3321l15-7l-12 21l-16 6z" fill="#f00"/>
<path d="M5086 3291l15-7l-13 0l-15 6z" fill="#f00"/>
<path d="M4816 3516l16-13l-7 71l-17 13z" fill="#ffacac"/>
<path d="M5138 3410l15-10l-13-40l-15 9z" fill="#ff1717"/>
<path d="M5267 3690l14-6l-14-3l-14 8z" fill="#fff"/>
<path d="M5140 3360l16-25l-13-39l-16 28z" fill="#f00"/>
<path d="M5154 3665l15-7l-13-24l-15 6z" fill="#fff1f1"/>
<path d="M5057 3274l16 16l-13 12l-16-16z" fill="#f00"/>
<path d="M5295 3685l15-11l-14-2l-15 12z" fill="#fffdfd"/>
<path d="M5238 3689l15 0l-14-5l-15 3z" fill="#fff"/>
<path d="M5424 3676l12 21l-15-7l-11-20z" fill="#fffefe"/>
<path d="M4952 3370l16-10l-11 35l-16 12z" fill="#ff1414"/>
<path d="M5114 3297l16-29l-13-15l-16 31z" fill="#f00"/>
<path d="M5382 3661l13 5l-15-2l-13-5z" fill="#fff7f7"/>
<path d="M5133 3517l15-16l-13-45l-15 20z" fill="#ff7979"/>
<path d="M5141 3640l15-6l-13-32l-15 5z" fill="#ffe1e1"/>
<path d="M5130 3565l16-8l-13-40l-15 9z" fill="#ffa8a8"/>
<path d="M5167 3682l15-8l-13-16l-15 7z" fill="#fffafa"/>
<path d="M5135 3456l16-4l-13-42l-15-1z" fill="#ff4545"/>
<path d="M5324 3675l15-12l-15 0l-14 11z" fill="#fff9f9"/>
<path d="M4612 3830l18-8l-2 79l-17 8z" fill="#5aff5a" stroke-width="2.6"/>
<path d="M5127 3324l16-28l-13-28l-16 29z" fill="#f00"/>
<path d="M4488 4086l17-22l-1 54l-18 16z" fill="#0f0" stroke-width="2.6"/>
<path d="M4505 4064l14-43l-1 60l-14 37z" fill="#0f0" stroke-width="2.6"/>
<path d="M5210 3689l14-2l-13-6l-15 3z" fill="#fffefe"/>
<path d="M5353 3664l14-5l-14-1l-14 5z" fill="#fff6f6"/>
<path d="M4891 3410l17 3l-10 56l-17-2z" fill="#ff4c4c"/>
<path d="M4688 3737l18-4l-5 67l-17 4z" fill="#ceffce" stroke-width="2.6"/>
<path d="M5125 3369l15-9l-13-36l-15 9z" fill="#f00"/>
<path d="M5099 3305l15-8l-13-13l-15 7z" fill="#f00"/>
<path d="M5128 3607l15-5l-13-37l-15 4z" fill="#ffc7c7"/>
<path d="M4738 3672l14-53l-7 59l-13 56z" fill="#fffbfb"/>
<path d="M4799 3534l17-18l-8 71l-17 6z" fill="#ffb2b2"/>
<path d="M5181 3693l15-9l-14-10l-15 8z" fill="#fffdfd"/>
<path d="M5112 3333l15-9l-13-27l-15 8z" fill="#f00"/>
<path d="M5118 3526l15-9l-13-41l-15 9z" fill="#ff8282"/>
<path d="M5439 3684l11 20l-14-7l-12-21z" fill="#fff"/>
<path d="M5041 3304l16-30l-13 12l-16 28z" fill="#f00"/>
<path d="M5120 3476l15-20l-12-47l-16 24z" fill="#ff4c4c"/>
<path d="M5281 3691l14-6l-14-1l-14 6z" fill="#fffefe"/>
<path d="M5139 3675l15-10l-13-25l-15 6z" fill="#fff1f1"/>
<path d="M5123 3409l15 1l-13-41l-15-5z" fill="#ff1414"/>
<path d="M5152 3696l15-14l-13-17l-15 10z" fill="#fffbfb"/>
<path d="M5252 3690l15 0l-14-1l-15 0z" fill="#fffefe"/>
<path d="M5310 3686l14-11l-14-1l-15 11z" fill="#fffbfb"/>
<path d="M5397 3665l13 5l-15-4l-13-5z" fill="#fff5f5"/>
<path d="M4996 3308l17 13l-13 20l-16-10z" fill="#f00"/>
<path d="M4519 4021l12-57l-1 65l-12 52z" fill="#0f0" stroke-width="2.6"/>
<path d="M5115 3569l15-4l-12-39l-16 0z" fill="#ffa6a6"/>
<path d="M5126 3646l15-6l-13-33l-15 4z" fill="#ffdfdf"/>
<path d="M5070 3276l16 15l-13-1l-16-16z" fill="#f00"/>
<path d="M4935 3358l17 12l-11 37l-17-6z" fill="#ff0e0e"/>
<path d="M5224 3690l14-1l-14-2l-14 2z" fill="#fffefe"/>
<path d="M5339 3676l14-12l-14-1l-15 12z" fill="#fff6f6"/>
<path d="M4782 3547l17-13l-8 59l-16 10z" fill="#ffb7b7"/>
<path d="M5025 3312l16-8l-13 10l-15 7z" fill="#f00"/>
<path d="M5195 3700l15-11l-14-5l-15 9z" fill="#fffefe"/>
<path d="M5165 3712l16-19l-14-11l-15 14z" fill="#fff"/>
<path d="M4593 3832l19-2l-1 79l-19 1z" fill="#60ff60" stroke-width="2.6"/>
<path d="M5368 3667l14-6l-15-2l-14 5z" fill="#fff3f3"/>
<path d="M4467 4083l21 3l-2 48l-22-10z" fill="#0f0" stroke-width="2.6"/>
<path d="M5105 3485l15-9l-13-43l-16 10z" fill="#ff5757"/>
<path d="M4752 3619l14-47l-7 57l-14 49z" fill="#fdd"/>
<path d="M5454 3694l11 19l-15-9l-11-20z" fill="#fff"/>
<path d="M5110 3364l15 5l-13-36l-15-10z" fill="#f00"/>
<path d="M4670 3738l18-1l-4 67l-19 0z" fill="#d4ffd4"/>
<path d="M5113 3611l15-4l-13-38l-15 3z" fill="#ffc5c5"/>
<path d="M5137 3715l15-19l-13-21l-16 13z" fill="#fffefe"/>
<path d="M5107 3433l16-24l-13-45l-16 27z" fill="#ff1b1b"/>
<path d="M5123 3688l16-13l-13-29l-16 9z" fill="#fff3f3"/>
<path d="M4766 3572l16-25l-7 56l-16 26z" fill="#ffc3c3"/>
<path d="M4874 3399l17 11l-10 57l-17-6z" fill="#ff3d3d"/>
<path d="M5083 3293l16 12l-13-14l-16-15z" fill="#f00"/>
<path d="M5150 3736l15-24l-13-16l-15 19z" fill="#fbfffb"/>
<path d="M5102 3526l16 0l-13-41l-16-3z" fill="#ff7f7f"/>
<path d="M4981 3338l15-30l-12 23l-16 29z" fill="#f00"/>
<path d="M5412 3671l12 5l-14-6l-13-5z" fill="#fff5f5"/>
<path d="M5097 3323l15 10l-13-28l-16-12z" fill="#f00"/>
<path d="M5295 3692l15-6l-15-1l-14 6z" fill="#fffcfc"/>
<path d="M5179 3724l16-24l-14-7l-16 19z" fill="#fefffe"/>
<path d="M5054 3307l16-31l-13-2l-16 30z" fill="#f00"/>
<path d="M5324 3687l15-11l-15-1l-14 11z" fill="#fff9f9"/>
<path d="M5267 3689l14 2l-14-1l-15 0z" fill="#fffcfc"/>
<path d="M5110 3655l16-9l-13-35l-16 6z" fill="#ffdfdf"/>
<path d="M5091 3443l16-10l-13-42l-16 9z" fill="#ff2929"/>
<path d="M5163 3753l16-29l-14-12l-15 24z" fill="#f5fff5"/>
<path d="M5468 3705l12 17l-15-9l-11-19z" fill="#fefffe"/>
<path d="M5134 3757l16-21l-13-21l-16 18z" fill="#f3fff3"/>
<path d="M5100 3572l15-3l-13-43l-15 6z" fill="#ffa3a3"/>
<path d="M5208 3703l16-13l-14-1l-15 11z" fill="#fffdfd"/>
<path d="M4964 3347l17-9l-13 22l-16 10z" fill="#f00"/>
<path d="M5121 3733l16-18l-14-27l-15 15z" fill="#fefffe"/>
<path d="M5354 3679l14-12l-15-3l-14 12z" fill="#fff4f4"/>
<path d="M5383 3671l14-6l-15-4l-14 6z" fill="#fff1f1"/>
<path d="M4531 3964l12-58l-1 70l-12 53z" fill="#0f0" stroke-width="2.6"/>
<path d="M5238 3690l14 0l-14-1l-14 1z" fill="#fffbfb"/>
<path d="M4919 3375l16-17l-11 43l-16 12z" fill="#ff0909"/>
<path d="M5094 3391l16-27l-13-41l-16 30z" fill="#f00"/>
<path d="M5148 3777l15-24l-13-17l-16 21z" fill="#e6ffe6"/>
<path d="M5038 3316l16-9l-13-3l-16 8z" fill="#f00"/>
<path d="M5108 3703l15-15l-13-33l-15 13z" fill="#fff6f6"/>
<path d="M4574 3838l19-6l-1 78l-19 5z" fill="#69ff69" stroke-width="2.6"/>
<path d="M5089 3482l16 3l-14-42l-15-7z" fill="#ff5353"/>
<path d="M5009 3297l16 15l-12 9l-17-13z" fill="#f00"/>
<path d="M4858 3430l16-31l-10 62l-16 23z" fill="#ff4141"/>
<path d="M5068 3324l15-31l-13-17l-16 31z" fill="#f00"/>
<path d="M5426 3678l13 6l-15-8l-12-5z" fill="#fff5f5"/>
<path d="M5097 3617l16-6l-13-39l-16 4z" fill="#ffc2c2"/>
<path d="M5081 3353l16-30l-14-30l-15 31z" fill="#f00"/>
<path d="M5193 3732l15-29l-13-3l-16 24z" fill="#fefffe"/>
<path d="M4652 3746l18-8l-5 66l-17 7z" fill="#d9ffd9"/>
<path d="M5177 3767l16-35l-14-8l-16 29z" fill="#f0fff0"/>
<path d="M5078 3400l16-9l-13-38l-16 9z" fill="#f00"/>
<path d="M5119 3770l15-13l-13-24l-16 15z" fill="#ebffeb"/>
<path d="M5161 3792l16-25l-14-14l-15 24z" fill="#dcffdc"/>
<path d="M5105 3748l16-15l-13-30l-16 18z" fill="#fafffa"/>
<path d="M5483 3717l11 14l-14-9l-12-17z" fill="#fdfffd"/>
<path d="M4841 3452l17-22l-10 54l-16 19z" fill="#ff5656"/>
<path d="M5087 3532l15-6l-13-44l-16 9z" fill="#ff7b7b"/>
<path d="M5310 3693l14-6l-14-1l-15 6z" fill="#fff9f9"/>
<path d="M5132 3787l16-10l-14-20l-15 13z" fill="#dfd"/>
<path d="M5095 3668l15-13l-13-38l-15 11z" fill="#ffe1e1"/>
<path d="M5052 3333l16-9l-14-17l-16 9z" fill="#f00"/>
<path d="M5339 3691l15-12l-15-3l-15 11z" fill="#fff6f6"/>
<path d="M5092 3721l16-18l-13-35l-16 18z" fill="#fffbfb"/>
<path d="M5065 3362l16-9l-13-29l-16 9z" fill="#f00"/>
<path d="M5281 3689l14 3l-14-1l-14-2z" fill="#fff9f9"/>
<path d="M5398 3676l14-5l-15-6l-14 6z" fill="#fff0f0"/>
<path d="M5368 3683l15-12l-15-4l-14 12z" fill="#fff2f2"/>
<path d="M4543 3906l14-46l-1 74l-14 42z" fill="#32ff32" stroke-width="2.6"/>
<path d="M5223 3703l15-13l-14 0l-16 13z" fill="#fffbfb"/>
<path d="M4902 3372l17 3l-11 38l-17-3z" fill="#ff0a0a"/>
<path d="M4730 3662l15-39l-7 49l-15 41z" fill="#fee"/>
<path d="M4557 3860l17-22l-1 77l-17 19z" fill="#61ff61" stroke-width="2.6"/>
<path d="M4713 3680l17-18l-7 51l-17 20z" fill="#fffbfb"/>
<path d="M5084 3576l16-4l-13-40l-16 2z" fill="#ffa0a0"/>
<path d="M5076 3436l15 7l-13-43l-16-9z" fill="#ff2323"/>
<path d="M5175 3804l15-27l-13-10l-16 25z" fill="#d5ffd5"/>
<path d="M5441 3687l13 7l-15-10l-13-6z" fill="#fff6f6"/>
<path d="M5252 3689l15 0l-15 1l-14 0z" fill="#fff8f8"/>
<path d="M5146 3799l15-7l-13-15l-16 10z" fill="#d2ffd2"/>
<path d="M4824 3463l17-11l-9 51l-16 13z" fill="#ff6262"/>
<path d="M5090 3762l15-14l-13-27l-16 17z" fill="#f4fff4"/>
<path d="M5190 3777l17-40l-14-5l-16 35z" fill="#efe"/>
<path d="M5498 3730l11 11l-15-10l-11-14z" fill="#fafffa"/>
<path d="M4993 3328l16-31l-13 11l-15 30z" fill="#f00"/>
<path d="M4947 3330l17 17l-12 23l-17-12z" fill="#f00"/>
<path d="M5103 3778l16-8l-14-22l-15 14z" fill="#e7ffe7"/>
<path d="M5076 3738l16-17l-13-35l-16 20z" fill="#fff"/>
<path d="M5207 3737l16-34l-15 0l-15 29z" fill="#fefffe"/>
<path d="M5079 3686l16-18l-13-40l-16 18z" fill="#ffe7e7"/>
<path d="M4633 3756l19-10l-4 65l-18 11z" fill="#d8ffd8"/>
<path d="M5073 3491l16-9l-13-46l-16 13z" fill="#ff4f4f"/>
<path d="M5082 3628l15-11l-13-41l-16 6z" fill="#ffc2c2"/>
<path d="M5022 3301l16 15l-13-4l-16-15z" fill="#f00"/>
<path d="M4491 4044l16-28l-2 48l-17 22z" fill="#0f0" stroke-width="2.6"/>
<path d="M4745 3623l15-47l-8 43l-14 53z" fill="#ffd0d0"/>
<path d="M5325 3698l14-7l-15-4l-14 6z" fill="#fff7f7"/>
<path d="M4977 3334l16-6l-12 10l-17 9z" fill="#f00"/>
<path d="M4440 4048l27 35l-3 41l-28-46z" fill="#0f0" stroke-width="2.6"/>
<path d="M5117 3789l15-2l-13-17l-16 8z" fill="#dcffdc"/>
<path d="M5354 3695l14-12l-14-4l-15 12z" fill="#fff5f5"/>
<path d="M5413 3683l13-5l-14-7l-14 5z" fill="#fff0f0"/>
<path d="M4808 3490l16-27l-8 53l-17 18z" fill="#ff6f6f"/>
<path d="M4507 4016l14-47l-2 52l-14 43z" fill="#0f0" stroke-width="2.6"/>
<path d="M5071 3534l16-2l-14-41l-16 1z" fill="#ff7979"/>
<path d="M5159 3807l16-3l-14-12l-15 7z" fill="#cfc" stroke-width="2.6"/>
<path d="M5062 3391l16 9l-13-38l-16-12z" fill="#f00"/>
<path d="M5456 3698l12 7l-14-11l-13-7z" fill="#fff8f8"/>
<path d="M5188 3813l16-28l-14-8l-15 27z" fill="#d2ffd2"/>
<path d="M5383 3688l15-12l-15-5l-15 12z" fill="#fff1f1"/>
<path d="M5512 3744l12 5l-15-8l-11-11z" fill="#f8fff8"/>
<path d="M5063 3706l16-20l-13-40l-16 22z" fill="#ffefef"/>
<path d="M4695 3685l18-5l-7 53l-18 4z" fill="#fffdfd"/>
<path d="M5074 3774l16-12l-14-24l-15 15z" fill="#efffef"/>
<path d="M5061 3753l15-15l-13-32l-16 18z" fill="#fcfffc"/>
<path d="M5296 3692l14 1l-15-1l-14-3z" fill="#fff6f6"/>
<path d="M5204 3785l17-44l-14-4l-17 40z" fill="#efe"/>
<path d="M5036 3319l16 14l-14-17l-16-15z" fill="#f00"/>
<path d="M5066 3646l16-18l-14-46l-16 20z" fill="#ffc8c8"/>
<path d="M5237 3704l15-15l-14 1l-15 13z" fill="#fff8f8"/>
<path d="M5049 3350l16 12l-13-29l-16-14z" fill="#f00"/>
<path d="M5087 3787l16-9l-13-16l-16 12z" fill="#e4ffe4"/>
<path d="M5060 3449l16-13l-14-45l-16 17z" fill="#ff2020"/>
<path d="M4791 3507l17-17l-9 44l-17 13z" fill="#ff7c7c"/>
<path d="M5068 3582l16-6l-13-42l-16 1z" fill="#ff9c9c"/>
<path d="M5267 3689l14 0l-14 0l-15 0z" fill="#fff4f4"/>
<path d="M5047 3724l16-18l-13-38l-16 18z" fill="#fff7f7"/>
<path d="M5130 3796l16 3l-14-12l-15 2z" fill="#d7ffd7"/>
<path d="M4471 4047l20-3l-3 42l-21-3z" fill="#0f0" stroke-width="2.6"/>
<path d="M4615 3764l18-8l-3 66l-18 8z" fill="#d7ffd7"/>
<path d="M5221 3741l16-37l-14-1l-16 34z" fill="#fff"/>
<path d="M5471 3710l12 7l-15-12l-12-7z" fill="#fffbfb"/>
<path d="M5006 3329l16-28l-13-4l-16 31z" fill="#f00"/>
<path d="M5057 3492l16-1l-13-42l-16 1z" fill="#ff4e4e"/>
<path d="M4931 3350l16-20l-12 28l-16 17z" fill="#f00"/>
<path d="M5527 3758l12-1l-15-8l-12-5z" fill="#f5fff5"/>
<path d="M5427 3691l14-4l-15-9l-13 5z" fill="#fff1f1"/>
<path d="M4760 3576l15-50l-9 46l-14 47z" fill="#ffa8a8"/>
<path d="M5173 3813l15 0l-13-9l-16 3z" fill="#c9ffc9" stroke-width="2.6"/>
<path d="M5050 3668l16-22l-14-44l-16 21z" fill="#ffd4d4"/>
<path d="M4884 3357l18 15l-11 38l-17-11z" fill="#f00"/>
<path d="M5339 3704l15-9l-15-4l-14 7z" fill="#fff6f6"/>
<path d="M5369 3701l14-13l-15-5l-14 12z" fill="#fff4f4"/>
<path d="M5202 3819l16-28l-14-6l-16 28z" fill="#d1ffd1" stroke-width="2.6"/>
<path d="M5045 3765l16-12l-14-29l-16 11z" fill="#f9fff9"/>
<path d="M5058 3786l16-12l-13-21l-16 12z" fill="#ebffeb"/>
<path d="M5398 3694l15-11l-15-7l-15 12z" fill="#fff1f1"/>
<path d="M4775 3526l16-19l-9 40l-16 25z" fill="#ff8a8a"/>
<path d="M4521 3969l12-60l-2 55l-12 57z" fill="#03ff03" stroke-width="2.6"/>
<path d="M5101 3795l16-6l-14-11l-16 9z" fill="#deffde"/>
<path d="M5046 3408l16-17l-13-41l-16 21z" fill="#f00"/>
<path d="M5310 3698l15 0l-15-5l-14-1z" fill="#fff5f5"/>
<path d="M5218 3791l17-46l-14-4l-17 44z" fill="#efffef"/>
<path d="M4990 3333l16-4l-13-1l-16 6z" fill="#f00"/>
<path d="M5485 3723l13 7l-15-13l-12-7z" fill="#fffefe"/>
<path d="M5052 3602l16-20l-13-47l-16 22z" fill="#ffa2a2"/>
<path d="M5034 3686l16-18l-14-45l-16 20z" fill="#ffdfdf"/>
<path d="M5071 3801l16-14l-13-13l-16 12z" fill="#e0ffe0"/>
<path d="M5031 3735l16-11l-13-38l-17 12z" fill="#fffbfb"/>
<path d="M5055 3535l16-1l-14-42l-16-4z" fill="#ff7171"/>
<path d="M4676 3686l19-1l-7 52l-18 1z" fill="#fffbfb"/>
<path d="M5020 3344l16-25l-14-18l-16 28z" fill="#f00"/>
<path d="M5044 3450l16-1l-14-41l-16 1z" fill="#f22"/>
<path d="M5541 3773l14-10l-16-6l-12 1z" fill="#f1fff1"/>
<path d="M5144 3799l15 8l-13-8l-16-3z" fill="#d6ffd6"/>
<path d="M4960 3314l17 20l-13 13l-17-17z" fill="#f00"/>
<path d="M5033 3371l16-21l-13-31l-16 25z" fill="#f00"/>
<path d="M5442 3700l14-2l-15-11l-14 4z" fill="#fff3f3"/>
<path d="M5251 3705l16-16l-15 0l-15 15z" fill="#fff4f4"/>
<path d="M5281 3693l15-1l-15-3l-14 0z" fill="#fff1f1"/>
<path d="M4914 3349l17 1l-12 25l-17-3z" fill="#f00"/>
<path d="M5235 3745l16-40l-14-1l-16 37z" fill="#fffefe"/>
<path d="M5187 3816l15 3l-14-6l-15 0z" fill="#cbffcb" stroke-width="2.6"/>
<path d="M5036 3623l16-21l-13-45l-16 21z" fill="#ffb0b0"/>
<path d="M4868 3394l16-37l-10 42l-16 31z" fill="#f00"/>
<path d="M5354 3712l15-11l-15-6l-15 9z" fill="#fff6f6"/>
<path d="M5383 3708l15-14l-15-6l-14 13z" fill="#fff4f4"/>
<path d="M4852 3419l16-25l-10 36l-17 22z" fill="#ff1a1a"/>
<path d="M4596 3767l19-3l-3 66l-19 2z" fill="#daffda"/>
<path d="M5413 3701l14-10l-14-8l-15 11z" fill="#fff1f1"/>
<path d="M5500 3737l12 7l-14-14l-13-7z" fill="#fff"/>
<path d="M5217 3823l16-27l-15-5l-16 28z" fill="#d3ffd3"/>
<path d="M5042 3794l16-8l-13-21l-17 5z" fill="#e9ffe9"/>
<path d="M5115 3798l15-2l-13-7l-16 6z" fill="#deffde"/>
<path d="M5028 3770l17-5l-14-30l-16 3z" fill="#f9fff9"/>
<path d="M5085 3810l16-15l-14-8l-16 14z" fill="#dbffdb"/>
<path d="M5017 3698l17-12l-14-43l-16 11z" fill="#ffe5e5"/>
<path d="M5030 3409l16-1l-13-37l-16 2z" fill="#f00"/>
<path d="M5003 3346l17-2l-14-15l-16 4z" fill="#f00"/>
<path d="M5325 3707l14-3l-14-6l-15 0z" fill="#fff5f5"/>
<path d="M5556 3787l15-17l-16-7l-14 10z" fill="#efe"/>
<path d="M5233 3796l16-46l-14-5l-17 46z" fill="#f0fff0"/>
<path d="M5041 3488l16 4l-13-42l-17-10z" fill="#ff4343"/>
<path d="M5039 3557l16-22l-14-47l-16 24z" fill="#ff7676"/>
<path d="M5055 3813l16-12l-13-15l-16 8z" fill="#dcffdc"/>
<path d="M5020 3643l16-20l-13-45l-17 16z" fill="#ffbcbc"/>
<path d="M5457 3710l14 0l-15-12l-14 2z" fill="#fff5f5"/>
<path d="M5017 3373l16-2l-13-27l-17 2z" fill="#f00"/>
<path d="M4738 3624l16-34l-9 33l-15 39z" fill="#ffc6c6"/>
<path d="M5515 3752l12 6l-15-14l-12-7z" fill="#fcfffc"/>
<path d="M5015 3738l16-3l-14-37l-16 3z" fill="#fffafa"/>
<path d="M4835 3427l17-8l-11 33l-17 11z" fill="#ff2828"/>
<path d="M5158 3799l15 14l-14-6l-15-8z" fill="#d9ffd9"/>
<path d="M4533 3909l12-63l-2 60l-12 58z" fill="#6bff6b" stroke-width="2.6"/>
<path d="M4721 3641l17-17l-8 38l-17 18z" fill="#ffd7d7"/>
<path d="M5296 3700l14-2l-14-6l-15 1z" fill="#fff0f0"/>
<path d="M4657 3694l19-8l-6 52l-18 8z" fill="#fff9f9"/>
<path d="M5369 3721l14-13l-14-7l-15 11z" fill="#fff7f7"/>
<path d="M5023 3578l16-21l-14-45l-16 19z" fill="#ff8686"/>
<path d="M5266 3710l15-17l-14-4l-16 16z" fill="#fff2f2"/>
<path d="M5428 3709l14-9l-15-9l-14 10z" fill="#fff2f2"/>
<path d="M5398 3715l15-14l-15-7l-15 14z" fill="#fff4f4"/>
<path d="M4943 3338l17-24l-13 16l-16 20z" fill="#f00"/>
<path d="M5249 3750l17-40l-15-5l-16 40z" fill="#fffdfd"/>
<path d="M5202 3817l15 6l-15-4l-15-3z" fill="#cfffcf" stroke-width="2.6"/>
<path d="M5069 3826l16-16l-14-9l-16 12z" fill="#d4ffd4"/>
<path d="M4754 3590l15-44l-9 30l-15 47z" fill="#ffa5a5"/>
<path d="M4973 3313l17 20l-13 1l-17-20z" fill="#f00"/>
<path d="M5339 3718l15-6l-15-8l-14 3z" fill="#fff6f6"/>
<path d="M5529 3768l12 5l-14-15l-12-6z" fill="#f7fff7"/>
<path d="M4819 3461l16-34l-11 36l-16 27z" fill="#ff3838"/>
<path d="M5571 3801l16-26l-16-5l-15 17z" fill="#ebffeb"/>
<path d="M5231 3826l16-26l-14-4l-16 27z" fill="#d6ffd6"/>
<path d="M5472 3721l13 2l-14-13l-14 0z" fill="#fff8f8"/>
<path d="M5004 3654l16-11l-14-49l-16 14z" fill="#ffc3c3"/>
<path d="M4446 4022l25 25l-4 36l-27-35z" fill="#0f0" stroke-width="2.6"/>
<path d="M5099 3814l16-16l-14-3l-16 15z" fill="#dcffdc"/>
<path d="M5027 3440l17 10l-14-41l-16-14z" fill="#ff1313"/>
<path d="M5128 3797l16 2l-14-3l-15 2z" fill="#e2ffe2"/>
<path d="M4576 3774l20-7l-3 65l-19 6z" fill="#deffde"/>
<path d="M5001 3701l16-3l-13-44l-17 4z" fill="#ffe5e5"/>
<path d="M5247 3800l17-43l-15-7l-16 46z" fill="#f1fff1"/>
<path d="M5025 3512l16-24l-14-48l-16 26z" fill="#ff4646"/>
<path d="M4495 4006l16-32l-4 42l-16 28z" fill="#0f0" stroke-width="2.6"/>
<path d="M4802 3479l17-18l-11 29l-17 17z" fill="#ff4d4d"/>
<path d="M5006 3594l17-16l-14-47l-17 11z" fill="#ff9191"/>
<path d="M5025 3793l17 1l-14-24l-16-4z" fill="#efffef"/>
<path d="M4896 3333l18 16l-12 23l-18-15z" fill="#f00"/>
<path d="M5544 3784l12 3l-15-14l-12-5z" fill="#f1fff1"/>
<path d="M5310 3711l15-4l-15-9l-14 2z" fill="#fff1f1"/>
<path d="M4702 3646l19-5l-8 39l-18 5z" fill="#ffdada"/>
<path d="M5012 3766l16 4l-13-32l-17-4z" fill="#fdfffd"/>
<path d="M5039 3814l16-1l-13-19l-17-1z" fill="#e0ffe0"/>
<path d="M5383 3730l15-15l-15-7l-14 13z" fill="#fff8f8"/>
<path d="M5443 3716l14-6l-15-10l-14 9z" fill="#fff3f3"/>
<path d="M5487 3732l13 5l-15-14l-13-2z" fill="#fffbfb"/>
<path d="M4926 3339l17-1l-12 12l-17-1z" fill="#f00"/>
<path d="M5413 3722l15-13l-15-8l-15 14z" fill="#fff4f4"/>
<path d="M5009 3531l16-19l-14-46l-16 17z" fill="#ff5858"/>
<path d="M4511 3974l14-49l-4 44l-14 47z" fill="#1dff1d" stroke-width="2.6"/>
<path d="M5280 3717l16-17l-15-7l-15 17z" fill="#fff1f1"/>
<path d="M5082 3835l17-21l-14-4l-16 16z" fill="#d2ffd2"/>
<path d="M5172 3798l15 18l-14-3l-15-14z" fill="#dfffdf"/>
<path d="M4769 3546l15-51l-9 31l-15 50z" fill="#ff7979"/>
<path d="M5354 3730l15-9l-15-9l-15 6z" fill="#fff8f8"/>
<path d="M4545 3846l14-48l-2 62l-14 46z" fill="#b4ffb4" stroke-width="2.6"/>
<path d="M4639 3704l18-10l-5 52l-19 10z" fill="#fffafa"/>
<path d="M5586 3815l17-34l-16-6l-16 26z" fill="#e9ffe9"/>
<path d="M5014 3395l16 14l-13-36l-17-18z" fill="#f00"/>
<path d="M5264 3757l16-40l-14-7l-17 40z" fill="#fffcfc"/>
<path d="M4986 3327l17 19l-13-13l-17-20z" fill="#f00"/>
<path d="M4784 3495l18-16l-11 28l-16 19z" fill="#ff5a5a"/>
<path d="M4475 4016l20-10l-4 38l-20 3z" fill="#0f0" stroke-width="2.6"/>
<path d="M4559 3798l17-24l-2 64l-17 22z" fill="#d7ffd7"/>
<path d="M5052 3832l17-6l-14-13l-16 1z" fill="#d4ffd4"/>
<path d="M4998 3734l17 4l-14-37l-17-5z" fill="#fff6f6"/>
<path d="M5559 3800l12 1l-15-14l-12-3z" fill="#eaffea"/>
<path d="M5216 3818l15 8l-14-3l-15-6z" fill="#d4ffd4"/>
<path d="M4987 3658l17-4l-14-46l-17 6z" fill="#ffc5c5"/>
<path d="M4990 3608l16-14l-14-52l-16 20z" fill="#ff9a9a"/>
<path d="M5000 3355l17 18l-14-27l-17-19z" fill="#f00"/>
<path d="M5246 3827l15-22l-14-5l-16 26z" fill="#daffda"/>
<path d="M5011 3466l16-26l-13-45l-17 27z" fill="#ff1414"/>
<path d="M5261 3805l17-40l-14-8l-17 43z" fill="#f2fff2"/>
<path d="M5112 3816l16-19l-13 1l-16 16z" fill="#e2ffe2"/>
<path d="M5325 3725l14-7l-14-11l-15 4z" fill="#fff4f4"/>
<path d="M4956 3338l17-25l-13 1l-17 24z" fill="#f00"/>
<path d="M5502 3744l13 8l-15-15l-13-5z" fill="#fffefe"/>
<path d="M4863 3399l17-25l-12 20l-16 25z" fill="#f00"/>
<path d="M4880 3374l16-41l-12 24l-16 37z" fill="#f00"/>
<path d="M5459 3724l13-3l-15-11l-14 6z" fill="#fff5f5"/>
<path d="M5143 3794l15 5l-14 0l-16-2z" fill="#e9ffe9"/>
<path d="M5398 3739l15-17l-15-7l-15 15z" fill="#fff8f8"/>
<path d="M5368 3743l15-13l-14-9l-15 9z" fill="#fffafa"/>
<path d="M4992 3542l17-11l-14-48l-17 6z" fill="#ff6060"/>
<path d="M5295 3729l15-18l-14-11l-16 17z" fill="#fff3f3"/>
<path d="M5574 3815l12 0l-15-14l-12-1z" fill="#e2ffe2"/>
<path d="M5429 3729l14-13l-15-7l-15 13z" fill="#fff5f5"/>
<path d="M5066 3845l16-10l-13-9l-17 6z" fill="#cfc" stroke-width="2.6"/>
<path d="M5602 3828l17-42l-16-5l-17 34z" fill="#e6ffe6"/>
<path d="M4995 3483l16-17l-14-44l-16 14z" fill="#ff2626"/>
<path d="M5278 3765l17-36l-15-12l-16 40z" fill="#fffdfd"/>
<path d="M4984 3696l17 5l-14-43l-17-2z" fill="#ffdfdf"/>
<path d="M5096 3842l16-26l-13-2l-17 21z" fill="#d4ffd4"/>
<path d="M4406 3972l34 76l-4 30l-37-91z" fill="#0f0" stroke-width="2.6"/>
<path d="M4620 3712l19-8l-6 52l-18 8z" fill="#fffafa"/>
<path d="M5339 3741l15-11l-15-12l-14 7z" fill="#fff8f8"/>
<path d="M5518 3757l11 11l-14-16l-13-8z" fill="#fff"/>
<path d="M4683 3648l19-2l-7 39l-19 1z" fill="#ffd7d7"/>
<path d="M4997 3422l17-27l-14-40l-17 27z" fill="#f00"/>
<path d="M4846 3405l17-6l-11 20l-17 8z" fill="#f00"/>
<path d="M4525 3925l12-63l-4 47l-12 60z" fill="#76ff76" stroke-width="2.6"/>
<path d="M4973 3614l17-6l-14-46l-17 8z" fill="#ff9f9f"/>
<path d="M5187 3797l15 20l-15-1l-15-18z" fill="#e5ffe5"/>
<path d="M4939 3342l17-4l-13 0l-17 1z" fill="#f00"/>
<path d="M4748 3599l16-30l-10 21l-16 34z" fill="#ffa4a4"/>
<path d="M4970 3353l16-26l-13-14l-17 25z" fill="#f00"/>
<path d="M5276 3810l17-35l-15-10l-17 40z" fill="#f2fff2"/>
<path d="M5589 3830l13-2l-16-13l-12 0z" fill="#dbffdb"/>
<path d="M5309 3743l16-18l-15-14l-15 18z" fill="#fff6f6"/>
<path d="M4976 3562l16-20l-14-53l-16 26z" fill="#ff6a6a"/>
<path d="M5383 3757l15-18l-15-9l-15 13z" fill="#fffcfc"/>
<path d="M5474 3732l13 0l-15-11l-13 3z" fill="#fff6f6"/>
<path d="M5231 3818l15 9l-15-1l-15-8z" fill="#dbffdb"/>
<path d="M5260 3827l16-17l-15-5l-15 22z" fill="#dfffdf"/>
<path d="M4983 3382l17-27l-14-28l-16 26z" fill="#f00"/>
<path d="M5008 3780l17 13l-13-27l-17-12z" fill="#fafffa"/>
<path d="M4731 3618l17-19l-10 25l-17 17z" fill="#ffb5b5"/>
<path d="M5413 3747l16-18l-16-7l-15 17z" fill="#fff9f9"/>
<path d="M4764 3569l16-42l-11 19l-15 44z" fill="#ff8484"/>
<path d="M4830 3442l16-37l-11 22l-16 34z" fill="#f11"/>
<path d="M4908 3323l18 16l-12 10l-18-16z" fill="#f00"/>
<path d="M5293 3775l16-32l-14-14l-17 36z" fill="#fff"/>
<path d="M5080 3856l16-14l-14-7l-16 10z" fill="#c9ffc9" stroke-width="2.6"/>
<path d="M5353 3758l15-15l-14-13l-15 11z" fill="#fffcfc"/>
<path d="M5022 3802l17 12l-14-21l-17-13z" fill="#efe"/>
<path d="M4981 3436l16-14l-14-40l-16 11z" fill="#f00"/>
<path d="M5533 3769l11 15l-15-16l-11-11z" fill="#fcfffc"/>
<path d="M4995 3754l17 12l-14-32l-17-12z" fill="#fffcfc"/>
<path d="M5617 3840l19-50l-17-4l-17 42z" fill="#e5ffe5"/>
<path d="M4970 3656l17 2l-14-44l-17-2z" fill="#ffbfbf"/>
<path d="M5444 3735l15-11l-16-8l-14 13z" fill="#fff5f5"/>
<path d="M5126 3815l17-21l-15 3l-16 19z" fill="#e9ffe9"/>
<path d="M4813 3461l17-19l-11 19l-17 18z" fill="#ff2a2a"/>
<path d="M4978 3489l17-6l-14-47l-17 1z" fill="#ff2a2a"/>
<path d="M5323 3758l16-17l-14-16l-16 18z" fill="#fffbfb"/>
<path d="M5036 3820l16 12l-13-18l-17-12z" fill="#e2ffe2"/>
<path d="M4953 3361l17-8l-14-15l-17 4z" fill="#f00"/>
<path d="M5157 3791l15 7l-14 1l-15-5z" fill="#f1fff1"/>
<path d="M5604 3843l13-3l-15-12l-13 2z" fill="#d4ffd4"/>
<path d="M4981 3722l17 12l-14-38l-17-9z" fill="#ffecec"/>
<path d="M4967 3393l16-11l-13-29l-17 8z" fill="#f00"/>
<path d="M4959 3570l17-8l-14-47l-17 10z" fill="#ff7474"/>
<path d="M5110 3846l16-31l-14 1l-16 26z" fill="#d9ffd9"/>
<path d="M5368 3775l15-18l-15-14l-15 15z" fill="#fff"/>
<path d="M4451 3999l24 17l-4 31l-25-25z" fill="#0f0" stroke-width="2.6"/>
<path d="M5398 3769l15-22l-15-8l-15 18z" fill="#fffefe"/>
<path d="M5490 3739l12 5l-15-12l-13 0z" fill="#fff8f8"/>
<path d="M5548 3782l11 18l-15-16l-11-15z" fill="#f8fff8"/>
<path d="M5307 3787l16-29l-14-15l-16 32z" fill="#fefffe"/>
<path d="M4600 3715l20-3l-5 52l-19 3z" fill="#fff9f9"/>
<path d="M5291 3814l16-27l-14-12l-17 35z" fill="#f1fff1"/>
<path d="M4876 3390l16-24l-12 8l-17 25z" fill="#f00"/>
<path d="M4780 3527l15-52l-11 20l-15 51z" fill="#ff5757"/>
<path d="M4665 3655l18-7l-7 38l-19 8z" fill="#ffd4d4"/>
<path d="M5338 3776l15-18l-14-17l-16 17z" fill="#fffefe"/>
<path d="M4892 3366l16-43l-12 10l-16 41z" fill="#f00"/>
<path d="M4795 3475l18-14l-11 18l-18 16z" fill="#ff3737"/>
<path d="M5050 3834l16 11l-14-13l-16-12z" fill="#d8ffd8"/>
<path d="M4712 3623l19-5l-10 23l-19 5z" fill="#ffb9b9"/>
<path d="M5202 3797l14 21l-14-1l-15-20z" fill="#ebffeb"/>
<path d="M5429 3753l15-18l-15-6l-16 18z" fill="#fff9f9"/>
<path d="M4962 3515l16-26l-14-52l-17 31z" fill="#ff3636"/>
<path d="M4956 3612l17 2l-14-44l-17-3z" fill="#f99"/>
<path d="M5094 3864l16-18l-14-4l-16 14z" fill="#c9ffc9" stroke-width="2.6"/>
<path d="M5633 3850l20-55l-17-5l-19 50z" fill="#e4ffe4"/>
<path d="M4967 3687l17 9l-14-40l-17-7z" fill="#ffd4d4"/>
<path d="M5460 3739l14-7l-15-8l-15 11z" fill="#fff5f5"/>
<path d="M5276 3827l15-13l-15-4l-16 17z" fill="#e4ffe4"/>
<path d="M5382 3791l16-22l-15-12l-15 18z" fill="#fdfffd"/>
<path d="M5620 3855l13-5l-16-10l-13 3z" fill="#ceffce" stroke-width="2.6"/>
<path d="M4537 3862l12-63l-4 47l-12 63z" fill="#c8ffc8" stroke-width="2.6"/>
<path d="M5246 3818l14 9l-14 0l-15-9z" fill="#e2ffe2"/>
<path d="M4500 3973l16-34l-5 35l-16 32z" fill="#3cff3c" stroke-width="2.6"/>
<path d="M4964 3437l17-1l-14-43l-18-4z" fill="#f00"/>
<path d="M5564 3795l10 20l-15-15l-11-18z" fill="#f3fff3"/>
<path d="M5352 3793l16-18l-15-17l-15 18z" fill="#fdfffd"/>
<path d="M5322 3798l16-22l-15-18l-16 29z" fill="#fbfffb"/>
<path d="M4921 3329l18 13l-13-3l-18-16z" fill="#f00"/>
<path d="M5413 3779l16-26l-16-6l-15 22z" fill="#fffefe"/>
<path d="M5506 3746l12 11l-16-13l-12-5z" fill="#fffafa"/>
<path d="M4945 3525l17-10l-15-47l-17 14z" fill="#ff4646"/>
<path d="M4858 3395l18-5l-13 9l-17 6z" fill="#f00"/>
<path d="M5063 3846l17 10l-14-11l-16-11z" fill="#d2ffd2"/>
<path d="M5141 3814l16-23l-14 3l-17 21z" fill="#f1fff1"/>
<path d="M5306 3819l16-21l-15-11l-16 27z" fill="#f0fff0"/>
<path d="M4481 3988l19-15l-5 33l-20 10z" fill="#21ff21" stroke-width="2.6"/>
<path d="M5367 3810l15-19l-14-16l-16 18z" fill="#f7fff7"/>
<path d="M4953 3649l17 7l-14-44l-17 0z" fill="#ffb5b5"/>
<path d="M4759 3586l17-27l-12 10l-16 30z" fill="#ff8c8c"/>
<path d="M4516 3939l14-51l-5 37l-14 49z" fill="#79ff79" stroke-width="2.6"/>
<path d="M5397 3806l16-27l-15-10l-16 22z" fill="#fafffa"/>
<path d="M5124 3848l17-34l-15 1l-16 31z" fill="#e0ffe0"/>
<path d="M5171 3789l16 8l-15 1l-15-7z" fill="#f7fff7"/>
<path d="M4942 3567l17 3l-14-45l-18-2z" fill="#ff7070"/>
<path d="M4949 3389l18 4l-14-32l-18-9z" fill="#f00"/>
<path d="M5337 3811l15-18l-14-17l-16 22z" fill="#f7fff7"/>
<path d="M4646 3665l19-10l-8 39l-18 10z" fill="#ffd5d5"/>
<path d="M5579 3807l10 23l-15-15l-10-20z" fill="#edffed"/>
<path d="M4842 3433l16-38l-12 10l-16 37z" fill="#f00"/>
<path d="M4414 3959l32 63l-6 26l-34-76z" fill="#1dff1d" stroke-width="2.6"/>
<path d="M4776 3559l16-41l-12 9l-16 42z" fill="#ff6d6d"/>
<path d="M4935 3352l18 9l-14-19l-18-13z" fill="#f00"/>
<path d="M4947 3468l17-31l-15-48l-16 36z" fill="#ff0202"/>
<path d="M4581 3724l19-9l-4 52l-20 7z" fill="#fff8f8"/>
<path d="M5445 3757l15-18l-16-4l-15 18z" fill="#fff8f8"/>
<path d="M5636 3865l13-6l-16-9l-13 5z" fill="#cbffcb" stroke-width="2.6"/>
<path d="M5649 3859l21-60l-17-4l-20 55z" fill="#e4ffe4"/>
<path d="M4888 3394l17-23l-13-5l-16 24z" fill="#f00"/>
<path d="M4825 3452l17-19l-12 9l-17 19z" fill="#ff1313"/>
<path d="M5108 3870l16-22l-14-2l-16 18z" fill="#cbffcb" stroke-width="2.6"/>
<path d="M4742 3606l17-20l-11 13l-17 19z" fill="#ff9d9d"/>
<path d="M4905 3371l16-42l-13-6l-16 43z" fill="#f00"/>
<path d="M4991 3767l17 13l-13-26l-18-11z" fill="#fffdfd"/>
<path d="M5476 3743l14-4l-16-7l-14 7z" fill="#fff4f4"/>
<path d="M4977 3743l18 11l-14-32l-18-7z" fill="#fff2f2"/>
<path d="M5216 3797l15 21l-15 0l-14-21z" fill="#f1fff1"/>
<path d="M5381 3827l16-21l-15-15l-15 19z" fill="#f1fff1"/>
<path d="M4930 3482l17-14l-14-43l-17 17z" fill="#ff1818"/>
<path d="M5522 3754l11 15l-15-12l-12-11z" fill="#fffbfb"/>
<path d="M5005 3787l17 15l-14-22l-17-13z" fill="#fcfffc"/>
<path d="M4693 3621l19 2l-10 23l-19 2z" fill="#ffb4b4"/>
<path d="M5291 3827l15-8l-15-5l-15 13z" fill="#e9ffe9"/>
<path d="M5428 3787l17-30l-16-4l-16 26z" fill="#fffefe"/>
<path d="M5077 3855l17 9l-14-8l-17-10z" fill="#cfffcf" stroke-width="2.6"/>
<path d="M4963 3715l18 7l-14-35l-18-4z" fill="#ffe0e0"/>
<path d="M4549 3799l15-50l-5 49l-14 48z" fill="#f7fff7"/>
<path d="M5351 3823l16-13l-15-17l-15 18z" fill="#f1fff1"/>
<path d="M4939 3612l17 0l-14-45l-18 7z" fill="#ff9292"/>
<path d="M5321 3824l16-13l-15-13l-16 21z" fill="#efffef"/>
<path d="M5412 3819l16-32l-15-8l-16 27z" fill="#f8fff8"/>
<path d="M5261 3818l15 9l-16 0l-14-9z" fill="#e9ffe9"/>
<path d="M5595 3818l9 25l-15-13l-10-23z" fill="#e8ffe8"/>
<path d="M4933 3425l16-36l-14-37l-16 39z" fill="#f00"/>
<path d="M5019 3803l17 17l-14-18l-17-15z" fill="#f5fff5"/>
<path d="M4792 3518l15-53l-12 10l-15 52z" fill="#ff3f3f"/>
<path d="M4902 3412l17-21l-14-20l-17 23z" fill="#f00"/>
<path d="M4919 3391l16-39l-14-23l-16 42z" fill="#f00"/>
<path d="M4927 3523l18 2l-15-43l-17-2z" fill="#f44"/>
<path d="M4916 3442l17-17l-14-34l-17 21z" fill="#f00"/>
<path d="M4564 3749l17-25l-5 50l-17 24z" fill="#fffcfc"/>
<path d="M4807 3465l18-13l-12 9l-18 14z" fill="#ff1f1f"/>
<path d="M4871 3397l17-3l-12-4l-18 5z" fill="#f00"/>
<path d="M5396 3841l16-22l-15-13l-16 21z" fill="#eaffea"/>
<path d="M4949 3683l18 4l-14-38l-18 0z" fill="#ffc9c9"/>
<path d="M5653 3873l13-8l-17-6l-13 6z" fill="#c9ffc9" stroke-width="2.6"/>
<path d="M4627 3673l19-8l-7 39l-19 8z" fill="#ffd6d6"/>
<path d="M5155 3813l16-24l-14 2l-16 23z" fill="#f7fff7"/>
<path d="M4723 3610l19-4l-11 12l-19 5z" fill="#ffa2a2"/>
<path d="M5666 3865l21-62l-17-4l-21 60z" fill="#e6ffe6"/>
<path d="M5366 3836l15-9l-14-17l-16 13z" fill="#ebffeb"/>
<path d="M4530 3888l13-63l-6 37l-12 63z" fill="#c2ffc2" stroke-width="2.6"/>
<path d="M5538 3761l10 21l-15-13l-11-15z" fill="#fffcfc"/>
<path d="M5461 3760l15-17l-16-4l-15 18z" fill="#fff6f6"/>
<path d="M5138 3851l17-38l-14 1l-17 34z" fill="#e6ffe6"/>
<path d="M4924 3574l18-7l-15-44l-17 14z" fill="#ff6d6d"/>
<path d="M5492 3745l14 1l-16-7l-14 4z" fill="#fff3f3"/>
<path d="M5033 3816l17 18l-14-14l-17-17z" fill="#efffef"/>
<path d="M5122 3875l16-24l-14-3l-16 22z" fill="#d0ffd0" stroke-width="2.6"/>
<path d="M5186 3789l16 8l-15 0l-16-8z" fill="#fcfffc"/>
<path d="M4771 3585l17-26l-12 0l-17 27z" fill="#ff7f7f"/>
<path d="M5611 3829l9 26l-16-12l-9-25z" fill="#e4ffe4"/>
<path d="M4854 3434l17-37l-13-2l-16 38z" fill="#f00"/>
<path d="M4935 3649l18 0l-14-37l-18 2z" fill="#ffadad"/>
<path d="M4458 3979l23 9l-6 28l-24-17z" fill="#36ff36" stroke-width="2.6"/>
<path d="M5091 3862l17 8l-14-6l-17-9z" fill="#cfffcf" stroke-width="2.6"/>
<path d="M4913 3480l17 2l-14-40l-18 0z" fill="#ff1919"/>
<path d="M5427 3829l17-36l-16-6l-16 32z" fill="#f6fff6"/>
<path d="M4788 3559l16-41l-12 0l-16 41z" fill="#ff6161"/>
<path d="M5336 3829l15-6l-14-12l-16 13z" fill="#efe"/>
<path d="M5444 3793l17-33l-16-3l-17 30z" fill="#fffefe"/>
<path d="M4837 3453l17-19l-12-1l-17 19z" fill="#ff0707"/>
<path d="M5411 3854l16-25l-15-10l-16 22z" fill="#e5ffe5"/>
<path d="M5231 3799l15 19l-15 0l-15-21z" fill="#f6fff6"/>
<path d="M5306 3827l15-3l-15-5l-15 8z" fill="#edffed"/>
<path d="M4884 3413l18-1l-14-18l-17 3z" fill="#f00"/>
<path d="M4674 3631l19-10l-10 27l-18 7z" fill="#ffb1b1"/>
<path d="M4897 3833l16-32l-14-28l-16 32z" fill="#f9fff9"/>
<path d="M5381 3847l15-6l-15-14l-15 9z" fill="#e5ffe5"/>
<path d="M4753 3605l18-20l-12 1l-17 20z" fill="#ff9090"/>
<path d="M4911 3856l16-31l-14-24l-16 32z" fill="#ebffeb"/>
<path d="M4898 3442l18 0l-14-30l-18 1z" fill="#f00"/>
<path d="M4960 3750l17-7l-14-28l-17 9z" fill="#ffecec"/>
<path d="M4921 3614l18-2l-15-38l-17 6z" fill="#ff8f8f"/>
<path d="M4910 3537l17-14l-14-43l-17 21z" fill="#ff4545"/>
<path d="M4883 3805l16-32l-14-31l-16 32z" fill="#fffdfd"/>
<path d="M4974 3771l17-4l-14-24l-17 7z" fill="#fff8f8"/>
<path d="M4946 3724l17-9l-14-32l-17 12z" fill="#ffdcdc"/>
<path d="M5276 3818l15 9l-15 0l-15-9z" fill="#f0fff0"/>
<path d="M5047 3827l16 19l-13-12l-17-18z" fill="#eaffea"/>
<path d="M5554 3768l10 27l-16-13l-10-21z" fill="#fffefe"/>
<path d="M4913 3801l17-43l-14-28l-17 43z" fill="#fffafa"/>
<path d="M5670 3879l13-10l-17-4l-13 8z" fill="#cbffcb" stroke-width="2.6"/>
<path d="M4927 3825l17-42l-14-25l-17 43z" fill="#fefffe"/>
<path d="M4924 3873l17-30l-14-18l-16 31z" fill="#deffde"/>
<path d="M5628 3839l8 26l-16-10l-9-26z" fill="#e0ffe0"/>
<path d="M4869 3774l16-32l-14-34l-17 32z" fill="#ffefef"/>
<path d="M4899 3773l17-43l-15-32l-16 44z" fill="#ffecec"/>
<path d="M4988 3788l17-1l-14-20l-17 4z" fill="#fffefe"/>
<path d="M5683 3869l21-61l-17-5l-21 62z" fill="#e8ffe8"/>
<path d="M4804 3518l15-53l-12 0l-15 53z" fill="#ff3232"/>
<path d="M4932 3695l17-12l-14-34l-17 13z" fill="#ffc6c6"/>
<path d="M4868 3447l16-34l-13-16l-17 37z" fill="#f00"/>
<path d="M4819 3465l18-12l-12-1l-18 13z" fill="#ff1212"/>
<path d="M4907 3580l17-6l-14-37l-18 9z" fill="#ff6f6f"/>
<path d="M4607 3678l20-5l-7 39l-20 3z" fill="#ffd5d5"/>
<path d="M4506 3946l16-37l-6 30l-16 34z" fill="#84ff84" stroke-width="2.6"/>
<path d="M4941 3843l16-41l-13-19l-17 42z" fill="#f6fff6"/>
<path d="M5509 3747l13 7l-16-8l-14-1z" fill="#fff2f2"/>
<path d="M4879 3839l18-6l-14-28l-18 7z" fill="#f1fff1"/>
<path d="M4944 3783l16-33l-14-26l-16 34z" fill="#fff4f4"/>
<path d="M4421 3949l30 50l-5 23l-32-63z" fill="#52ff52" stroke-width="2.6"/>
<path d="M4896 3501l17-21l-15-38l-17 28z" fill="#ff2020"/>
<path d="M5352 3835l14 1l-15-13l-15 6z" fill="#edffed"/>
<path d="M4930 3758l16-34l-14-29l-16 35z" fill="#ffe7e7"/>
<path d="M5477 3760l15-15l-16-2l-15 17z" fill="#fff3f3"/>
<path d="M5426 3865l17-28l-16-8l-16 25z" fill="#e2ffe2"/>
<path d="M4784 3595l17-26l-13-10l-17 26z" fill="#ff7d7d"/>
<path d="M4893 3860l18-4l-14-23l-18 6z" fill="#e2ffe2"/>
<path d="M5136 3879l17-26l-15-2l-16 24z" fill="#d4ffd4"/>
<path d="M5153 3853l17-39l-15-1l-17 38z" fill="#ecffec"/>
<path d="M5170 3814l16-25l-15 0l-16 24z" fill="#fcfffc"/>
<path d="M5443 3837l17-41l-16-3l-17 36z" fill="#f6fff6"/>
<path d="M5397 3858l14-4l-15-13l-15 6z" fill="#e0ffe0"/>
<path d="M4865 3812l18-7l-14-31l-18 8z" fill="#fefffe"/>
<path d="M4850 3464l18-17l-14-13l-17 19z" fill="#ff0808"/>
<path d="M4885 3742l16-44l-14-32l-16 42z" fill="#ffd9d9"/>
<path d="M5106 3868l16 7l-14-5l-17-8z" fill="#d1ffd1" stroke-width="2.6"/>
<path d="M4801 3569l16-41l-13-10l-16 41z" fill="#ff6060"/>
<path d="M4854 3740l17-32l-14-34l-17 32z" fill="#ffdbdb"/>
<path d="M4881 3470l17-28l-14-29l-16 34z" fill="#ff0101"/>
<path d="M4957 3802l17-31l-14-21l-16 33z" fill="#fffcfc"/>
<path d="M4916 3730l16-35l-14-33l-17 36z" fill="#ffd4d4"/>
<path d="M4918 3662l17-13l-14-35l-17 13z" fill="#ffacac"/>
<path d="M4488 3965l18-19l-6 27l-19 15z" fill="#67ff67" stroke-width="2.6"/>
<path d="M4703 3606l20 4l-11 13l-19-2z" fill="#ff9b9b"/>
<path d="M5201 3790l15 7l-14 0l-16-8z" fill="#fefffe"/>
<path d="M4938 3885l17-28l-14-14l-17 30z" fill="#d6ffd6"/>
<path d="M4892 3546l18-9l-14-36l-18 12z" fill="#ff4e4e"/>
<path d="M5002 3802l17 1l-14-16l-17 1z" fill="#fefffe"/>
<path d="M4734 3608l19-3l-11 1l-19 4z" fill="#ff9494"/>
<path d="M5460 3796l17-36l-16 0l-17 33z" fill="#fffcfc"/>
<path d="M4543 3825l12-63l-6 37l-12 63z" fill="#f8fff8"/>
<path d="M4851 3782l18-8l-15-34l-17 10z" fill="#fff6f6"/>
<path d="M4655 3641l19-10l-9 24l-19 10z" fill="#ffb3b3"/>
<path d="M4871 3708l16-42l-14-32l-16 40z" fill="#ffc3c3"/>
<path d="M4955 3857l16-40l-14-15l-16 41z" fill="#efffef"/>
<path d="M5061 3835l16 20l-14-9l-16-19z" fill="#e8ffe8"/>
<path d="M4906 3876l18-3l-13-17l-18 4z" fill="#d5ffd5"/>
<path d="M5570 3775l9 32l-15-12l-10-27z" fill="#fffefe"/>
<path d="M5322 3827l14 2l-15-5l-15 3z" fill="#f1fff1"/>
<path d="M4766 3614l18-19l-13-10l-18 20z" fill="#ff8e8e"/>
<path d="M4840 3706l17-32l-15-31l-16 30z" fill="#ffc5c5"/>
<path d="M5246 3801l15 17l-15 0l-15-19z" fill="#fafffa"/>
<path d="M4901 3698l17-36l-14-35l-17 39z" fill="#ffbdbd"/>
<path d="M4522 3909l15-51l-7 30l-14 51z" fill="#b8ffb8" stroke-width="2.6"/>
<path d="M4864 3484l17-14l-13-23l-18 17z" fill="#ff1616"/>
<path d="M4878 3513l18-12l-15-31l-17 14z" fill="#ff2e2e"/>
<path d="M4904 3627l17-13l-14-34l-18 12z" fill="#ff9090"/>
<path d="M4971 3817l17-29l-14-17l-17 31z" fill="#fff"/>
<path d="M4797 3615l17-27l-13-19l-17 26z" fill="#ff8686"/>
<path d="M4857 3674l16-40l-14-32l-17 41z" fill="#faa"/>
<path d="M5644 3847l9 26l-17-8l-8-26z" fill="#deffde"/>
<path d="M4837 3750l17-10l-14-34l-18 11z" fill="#ffe5e5"/>
<path d="M4826 3673l16-30l-14-30l-17 29z" fill="#ffaeae"/>
<path d="M4814 3588l16-41l-13-19l-16 41z" fill="#ff6969"/>
<path d="M4811 3642l17-29l-14-25l-17 27z" fill="#ff9797"/>
<path d="M5688 3881l13-10l-18-2l-13 10z" fill="#d0ffd0" stroke-width="2.6"/>
<path d="M4817 3528l15-53l-13-10l-15 53z" fill="#ff3131"/>
<path d="M4887 3666l17-39l-15-35l-16 42z" fill="#ffa3a3"/>
<path d="M4842 3643l17-41l-15-29l-16 40z" fill="#ff9292"/>
<path d="M5412 3868l14-3l-15-11l-14 4z" fill="#dbffdb"/>
<path d="M4832 3475l18-11l-13-11l-18 12z" fill="#ff1212"/>
<path d="M5367 3841l14 6l-15-11l-14-1z" fill="#ebffeb"/>
<path d="M5292 3819l14 8l-15 0l-15-9z" fill="#f5fff5"/>
<path d="M4828 3613l16-40l-14-26l-16 41z" fill="#ff7b7b"/>
<path d="M5442 3875l17-32l-16-6l-17 28z" fill="#e1ffe1"/>
<path d="M4889 3592l18-12l-15-34l-17 12z" fill="#ff7171"/>
<path d="M5015 3813l18 3l-14-13l-17-1z" fill="#fbfffb"/>
<path d="M5701 3871l21-59l-18-4l-21 61z" fill="#ebffeb"/>
<path d="M4822 3717l18-11l-14-33l-18 12z" fill="#ffd0d0"/>
<path d="M5526 3748l12 13l-16-7l-13-7z" fill="#fff0f0"/>
<path d="M4780 3632l17-17l-13-20l-18 19z" fill="#ff9696"/>
<path d="M4951 3893l17-26l-13-10l-17 28z" fill="#d2ffd2"/>
<path d="M4920 3886l18-1l-14-12l-18 3z" fill="#ceffce" stroke-width="2.6"/>
<path d="M4968 3867l17-39l-14-11l-16 40z" fill="#ebffeb"/>
<path d="M4588 3687l19-9l-7 37l-19 9z" fill="#ffd3d3"/>
<path d="M4873 3634l16-42l-14-34l-16 44z" fill="#ff8787"/>
<path d="M5459 3843l18-45l-17-2l-17 41z" fill="#f8fff8"/>
<path d="M4808 3685l18-12l-15-31l-18 14z" fill="#ffbaba"/>
<path d="M4985 3828l17-26l-14-14l-17 29z" fill="#fcfffc"/>
<path d="M5120 3872l16 7l-14-4l-16-7z" fill="#d4ffd4"/>
<path d="M5151 3883l16-26l-14-4l-17 26z" fill="#d9ffd9"/>
<path d="M4793 3656l18-14l-14-27l-17 17z" fill="#ffa6a6"/>
<path d="M5494 3760l15-13l-17-2l-15 15z" fill="#fff0f0"/>
<path d="M4875 3558l17-12l-14-33l-18 12z" fill="#ff5252"/>
<path d="M5167 3857l17-40l-14-3l-17 39z" fill="#f0fff0"/>
<path d="M5587 3783l8 35l-16-11l-9-32z" fill="#fff"/>
<path d="M5184 3817l17-27l-15-1l-16 25z" fill="#fefffe"/>
<path d="M4846 3496l18-12l-14-20l-18 11z" fill="#ff1e1e"/>
<path d="M4830 3547l16-51l-14-21l-15 53z" fill="#ff3c3c"/>
<path d="M5075 3841l16 21l-14-7l-16-20z" fill="#e8ffe8"/>
<path d="M4859 3602l16-44l-15-33l-16 48z" fill="#ff6b6b"/>
<path d="M4747 3616l19-2l-13-9l-19 3z" fill="#ff9191"/>
<path d="M5216 3794l15 5l-15-2l-15-7z" fill="#fff"/>
<path d="M4860 3525l18-12l-14-29l-18 12z" fill="#ff3535"/>
<path d="M4635 3646l20-5l-9 24l-19 8z" fill="#ffb3b3"/>
<path d="M4684 3618l19-12l-10 15l-19 10z" fill="#ff9797"/>
<path d="M4844 3573l16-48l-14-29l-16 51z" fill="#ff5151"/>
<path d="M4555 3762l15-49l-6 36l-15 50z" fill="#fff0f0"/>
<path d="M4465 3962l23 3l-7 23l-23-9z" fill="#6eff6e" stroke-width="2.6"/>
<path d="M5477 3798l17-38l-17 0l-17 36z" fill="#fffafa"/>
<path d="M4860 3829l19 10l-14-27l-19-8z" fill="#f8fff8"/>
<path d="M5338 3829l14 6l-16-6l-14-2z" fill="#f4fff4"/>
<path d="M4846 3804l19 8l-14-30l-19-7z" fill="#fffefe"/>
<path d="M5661 3855l9 24l-17-6l-9-26z" fill="#dfffdf"/>
<path d="M5428 3878l14-3l-16-10l-14 3z" fill="#d9ffd9"/>
<path d="M4537 3858l13-61l-7 28l-13 63z" fill="#efe"/>
<path d="M5262 3805l14 13l-15 0l-15-17z" fill="#fdfffd"/>
<path d="M5383 3848l14 10l-16-11l-14-6z" fill="#eaffea"/>
<path d="M5029 3821l18 6l-14-11l-18-3z" fill="#fafffa"/>
<path d="M4874 3849l19 11l-14-21l-19-10z" fill="#ecffec"/>
<path d="M4832 3775l19 7l-14-32l-19-6z" fill="#fff2f2"/>
<path d="M4570 3713l18-26l-7 37l-17 25z" fill="#ffdbdb"/>
<path d="M4715 3602l19 6l-11 2l-20-4z" fill="#ff8c8c"/>
<path d="M5458 3883l17-35l-16-5l-17 32z" fill="#e1ffe1"/>
<path d="M4933 3893l18 0l-13-8l-18 1z" fill="#cbffcb" stroke-width="2.6"/>
<path d="M4999 3837l16-24l-13-11l-17 26z" fill="#fafffa"/>
<path d="M4982 3874l17-37l-14-9l-17 39z" fill="#e9ffe9"/>
<path d="M4965 3899l17-25l-14-7l-17 26z" fill="#d1ffd1"/>
<path d="M4818 3744l19 6l-15-33l-19-4z" fill="#ffe1e1"/>
<path d="M4760 3632l20 0l-14-18l-19 2z" fill="#ff9898"/>
<path d="M5543 3750l11 18l-16-7l-12-13z" fill="#ffefef"/>
<path d="M5706 3880l14-10l-19 1l-13 10z" fill="#d8ffd8"/>
<path d="M5604 3791l7 38l-16-11l-8-35z" fill="#fff"/>
<path d="M4430 3940l28 39l-7 20l-30-50z" fill="#7cff7c" stroke-width="2.6"/>
<path d="M5720 3870l20-53l-18-5l-21 59z" fill="#efffef"/>
<path d="M5307 3820l15 7l-16 0l-14-8z" fill="#f9fff9"/>
<path d="M4888 3863l18 13l-13-16l-19-11z" fill="#e3ffe3"/>
<path d="M5475 3848l19-50l-17 0l-18 45z" fill="#fafffa"/>
<path d="M4803 3713l19 4l-14-32l-19-2z" fill="#ffcdcd"/>
<path d="M5134 3875l17 8l-15-4l-16-7z" fill="#d8ffd8"/>
<path d="M5165 3886l17-25l-15-4l-16 26z" fill="#dfd"/>
<path d="M4774 3656l19 0l-13-24l-20 0z" fill="#ffa6a6"/>
<path d="M5182 3861l17-40l-15-4l-17 40z" fill="#f3fff3"/>
<path d="M5089 3846l17 22l-15-6l-16-21z" fill="#e9ffe9"/>
<path d="M4789 3683l19 2l-15-29l-19 0z" fill="#ffb8b8"/>
<path d="M5199 3821l17-27l-15-4l-17 27z" fill="#fff"/>
<path d="M4665 3627l19-9l-10 13l-19 10z" fill="#ff9a9a"/>
<path d="M4361 3843l45 129l-7 15l-49-152z" fill="#bcffbc" stroke-width="2.6"/>
<path d="M5511 3759l15-11l-17-1l-15 13z" fill="#ffebeb"/>
<path d="M5444 3887l14-4l-16-8l-14 3z" fill="#d7ffd7"/>
<path d="M4513 3924l17-38l-8 23l-16 37z" fill="#b7ffb7" stroke-width="2.6"/>
<path d="M5231 3800l15 1l-15-2l-15-5z" fill="#fffefe"/>
<path d="M5399 3855l13 13l-15-10l-14-10z" fill="#e9ffe9"/>
<path d="M5043 3827l18 8l-14-8l-18-6z" fill="#f9fff9"/>
<path d="M4616 3655l19-9l-8 27l-20 5z" fill="#ffb2b2"/>
<path d="M5679 3860l9 21l-18-2l-9-24z" fill="#e1ffe1"/>
<path d="M5353 3832l14 9l-15-6l-14-6z" fill="#f6fff6"/>
<path d="M4495 3946l18-22l-7 22l-18 19z" fill="#9bff9b" stroke-width="2.6"/>
<path d="M5494 3798l17-39l-17 1l-17 38z" fill="#fff6f6"/>
<path d="M5012 3843l17-22l-14-8l-16 24z" fill="#f9fff9"/>
<path d="M5474 3890l17-38l-16-4l-17 35z" fill="#e3ffe3"/>
<path d="M4901 3872l19 14l-14-10l-18-13z" fill="#deffde"/>
<path d="M5277 3810l15 9l-16-1l-14-13z" fill="#fff"/>
<path d="M4947 3897l18 2l-14-6l-18 0z" fill="#cdffcd" stroke-width="2.6"/>
<path d="M5621 3799l7 40l-17-10l-7-38z" fill="#fefffe"/>
<path d="M4995 3878l17-35l-13-6l-17 37z" fill="#eaffea"/>
<path d="M4727 3609l20 7l-13-8l-19-6z" fill="#ff8787"/>
<path d="M4978 3903l17-25l-13-4l-17 25z" fill="#d4ffd4"/>
<path d="M4530 3886l14-50l-7 22l-15 51z" fill="#e1ffe1"/>
<path d="M4696 3614l19-12l-12 4l-19 12z" fill="#ff8787"/>
<path d="M5560 3752l10 23l-16-7l-11-18z" fill="#ffeded"/>
<path d="M4550 3797l13-60l-8 25l-12 63z" fill="#fff6f6"/>
<path d="M5323 3823l15 6l-16-2l-15-7z" fill="#fcfffc"/>
<path d="M5739 3865l19-42l-18-6l-20 53z" fill="#f4fff4"/>
<path d="M5197 3866l17-39l-15-6l-17 40z" fill="#f4fff4"/>
<path d="M5460 3895l14-5l-16-7l-14 4z" fill="#d7ffd7"/>
<path d="M5491 3852l20-54l-17 0l-19 50z" fill="#fdfffd"/>
<path d="M5103 3850l17 22l-14-4l-17-22z" fill="#ecffec"/>
<path d="M5180 3889l17-23l-15-5l-17 25z" fill="#e1ffe1"/>
<path d="M5149 3878l16 8l-14-3l-17-8z" fill="#dfd"/>
<path d="M5415 3863l13 15l-16-10l-13-13z" fill="#e7ffe7"/>
<path d="M5214 3827l17-27l-15-6l-17 27z" fill="#fff"/>
<path d="M4827 3795l19 9l-14-29l-19-8z" fill="#fff6f6"/>
<path d="M5725 3876l14-11l-19 5l-14 10z" fill="#e3ffe3"/>
<path d="M4841 3819l19 10l-14-25l-19-9z" fill="#fff"/>
<path d="M5246 3807l16-2l-16-4l-15-1z" fill="#fffdfd"/>
<path d="M5058 3832l17 9l-14-6l-18-8z" fill="#fafffa"/>
<path d="M4813 3767l19 8l-14-31l-20-7z" fill="#ffe8e8"/>
<path d="M4645 3631l20-4l-10 14l-20 5z" fill="#f99"/>
<path d="M4741 3625l19 7l-13-16l-20-7z" fill="#ff8d8d"/>
<path d="M5369 3836l14 12l-16-7l-14-9z" fill="#f8fff8"/>
<path d="M5529 3757l14-7l-17-2l-15 11z" fill="#ffe7e7"/>
<path d="M4596 3665l20-10l-9 23l-19 9z" fill="#ffb3b3"/>
<path d="M4474 3949l21-3l-7 19l-23-3z" fill="#9aff9a" stroke-width="2.6"/>
<path d="M4855 3838l19 11l-14-20l-19-10z" fill="#fafffa"/>
<path d="M4798 3737l20 7l-15-31l-19-6z" fill="#ffd6d6"/>
<path d="M5637 3807l7 40l-16-8l-7-40z" fill="#fefffe"/>
<path d="M4915 3878l18 15l-13-7l-19-14z" fill="#deffde"/>
<path d="M5026 3848l17-21l-14-6l-17 22z" fill="#fafffa"/>
<path d="M5697 3864l9 16l-18 1l-9-21z" fill="#e6ffe6"/>
<path d="M5490 3896l18-41l-17-3l-17 38z" fill="#e5ffe5"/>
<path d="M4784 3707l19 6l-14-30l-20-6z" fill="#ffc2c2"/>
<path d="M4755 3649l19 7l-14-24l-19-7z" fill="#ff9b9b"/>
<path d="M4372 3851l42 108l-8 13l-45-129z" fill="#cbffcb" stroke-width="2.6"/>
<path d="M5009 3882l17-34l-14-5l-17 35z" fill="#ecffec"/>
<path d="M5292 3816l15 4l-15-1l-15-9z" fill="#fff"/>
<path d="M4960 3900l18 3l-13-4l-18-2z" fill="#d2ffd2"/>
<path d="M4769 3677l20 6l-15-27l-19-7z" fill="#ffadad"/>
<path d="M4439 3934l26 28l-7 17l-28-39z" fill="#9eff9e" stroke-width="2.6"/>
<path d="M5511 3798l18-41l-18 2l-17 39z" fill="#fff2f2"/>
<path d="M4677 3623l19-9l-12 4l-19 9z" fill="#ff8a8a"/>
<path d="M4992 3906l17-24l-14-4l-17 25z" fill="#d8ffd8"/>
<path d="M5577 3755l10 28l-17-8l-10-23z" fill="#ffecec"/>
<path d="M4544 3836l14-58l-8 19l-13 61z" fill="#fff"/>
<path d="M4563 3737l15-49l-8 25l-15 49z" fill="#ffd4d4"/>
<path d="M4708 3620l19-11l-12-7l-19 12z" fill="#ff8282"/>
<path d="M4869 3851l19 12l-14-14l-19-11z" fill="#f5fff5"/>
<path d="M5431 3871l13 16l-16-9l-13-15z" fill="#e7ffe7"/>
<path d="M5476 3902l14-6l-16-6l-14 5z" fill="#d7ffd7"/>
<path d="M5212 3871l17-36l-15-8l-17 39z" fill="#f6fff6"/>
<path d="M4578 3688l18-23l-8 22l-18 26z" fill="#fbb"/>
<path d="M5229 3835l17-28l-15-7l-17 27z" fill="#fffefe"/>
<path d="M5339 3827l14 5l-15-3l-15-6z" fill="#fefffe"/>
<path d="M5195 3892l17-21l-15-5l-17 23z" fill="#e4ffe4"/>
<path d="M5118 3852l16 23l-14-3l-17-22z" fill="#efffef"/>
<path d="M5261 3815l16-5l-15-5l-16 2z" fill="#fffcfc"/>
<path d="M5164 3880l16 9l-15-3l-16-8z" fill="#e2ffe2"/>
<path d="M5508 3855l20-57l-17 0l-20 54z" fill="#fff"/>
<path d="M5072 3835l17 11l-14-5l-17-9z" fill="#fbfffb"/>
<path d="M5759 3857l17-28l-18-6l-19 42z" fill="#f9fff9"/>
<path d="M5654 3816l7 39l-17-8l-7-40z" fill="#fdfffd"/>
<path d="M5386 3841l13 14l-16-7l-14-12z" fill="#f9fff9"/>
<path d="M4626 3642l19-11l-10 15l-19 9z" fill="#f99"/>
<path d="M4521 3906l17-38l-8 18l-17 38z" fill="#daffda"/>
<path d="M5040 3852l18-20l-15-5l-17 21z" fill="#fbfffb"/>
<path d="M4928 3880l19 17l-14-4l-18-15z" fill="#e1ffe1"/>
<path d="M4503 3930l18-24l-8 18l-18 22z" fill="#c1ffc1" stroke-width="2.6"/>
<path d="M5546 3757l14-5l-17-2l-14 7z" fill="#ffe2e2"/>
<path d="M4722 3635l19-10l-14-16l-19 11z" fill="#ff8787"/>
<path d="M4882 3860l19 12l-13-9l-19-12z" fill="#f2fff2"/>
<path d="M5507 3900l18-43l-17-2l-18 41z" fill="#e9ffe9"/>
<path d="M5023 3886l17-34l-14-4l-17 34z" fill="#efffef"/>
<path d="M5308 3822l15 1l-16-3l-15-4z" fill="#fffefe"/>
<path d="M5715 3866l10 10l-19 4l-9-16z" fill="#edffed"/>
<path d="M5746 3867l13-10l-20 8l-14 11z" fill="#f0fff0"/>
<path d="M5595 3760l9 31l-17-8l-10-28z" fill="#ffebeb"/>
<path d="M4808 3797l19-2l-14-28l-20 2z" fill="#ffefef"/>
<path d="M4974 3902l18 4l-14-3l-18-3z" fill="#d7ffd7"/>
<path d="M4822 3821l19-2l-14-24l-19 2z" fill="#fffafa"/>
<path d="M4793 3769l20-2l-15-30l-19 2z" fill="#ffe0e0"/>
<path d="M5447 3879l13 16l-16-8l-13-16z" fill="#e6ffe6"/>
<path d="M4657 3626l20-3l-12 4l-20 4z" fill="#ff8989"/>
<path d="M4689 3629l19-9l-12-6l-19 9z" fill="#ff8585"/>
<path d="M5006 3909l17-23l-14-4l-17 24z" fill="#dfd"/>
<path d="M4538 3868l15-47l-9 15l-14 50z" fill="#f8fff8"/>
<path d="M5244 3843l17-28l-15-8l-17 28z" fill="#fffefe"/>
<path d="M4779 3739l19-2l-14-30l-20 3z" fill="#ffcece"/>
<path d="M4384 3858l37 91l-7 10l-42-108z" fill="#d6ffd6"/>
<path d="M5528 3798l18-41l-17 0l-18 41z" fill="#ffeded"/>
<path d="M4736 3656l19-7l-14-24l-19 10z" fill="#ff9494"/>
<path d="M5227 3877l17-34l-15-8l-17 36z" fill="#f6fff6"/>
<path d="M5493 3909l14-9l-17-4l-14 6z" fill="#d9ffd9"/>
<path d="M4558 3778l14-57l-9 16l-13 60z" fill="#ffe2e2"/>
<path d="M4764 3710l20-3l-15-30l-19 5z" fill="#ffbaba"/>
<path d="M4750 3682l19-5l-14-28l-19 7z" fill="#ffa6a6"/>
<path d="M4836 3840l19-2l-14-19l-19 2z" fill="#fff"/>
<path d="M5276 3825l16-9l-15-6l-16 5z" fill="#fffcfc"/>
<path d="M5672 3826l7 34l-18-5l-7-39z" fill="#fdfffd"/>
<path d="M5355 3832l14 4l-16-4l-14-5z" fill="#fff"/>
<path d="M5210 3896l17-19l-15-6l-17 21z" fill="#e7ffe7"/>
<path d="M5402 3848l13 15l-16-8l-13-14z" fill="#f9fff9"/>
<path d="M5133 3855l16 23l-15-3l-16-23z" fill="#f3fff3"/>
<path d="M4607 3653l19-11l-10 13l-20 10z" fill="#ff9b9b"/>
<path d="M5087 3839l16 11l-14-4l-17-11z" fill="#fdfffd"/>
<path d="M4482 3938l21-8l-8 16l-21 3z" fill="#baffba" stroke-width="2.6"/>
<path d="M5179 3882l16 10l-15-3l-16-9z" fill="#e7ffe7"/>
<path d="M5525 3857l21-58l-18-1l-20 57z" fill="#fffefe"/>
<path d="M4448 3929l26 20l-9 13l-26-28z" fill="#b9ffb9" stroke-width="2.6"/>
<path d="M5055 3855l17-20l-14-3l-18 20z" fill="#fdfffd"/>
<path d="M4895 3865l20 13l-14-6l-19-12z" fill="#f3fff3"/>
<path d="M4850 3854l19-3l-14-13l-19 2z" fill="#fcfffc"/>
<path d="M4702 3644l20-9l-14-15l-19 9z" fill="#ff8989"/>
<path d="M4942 3882l18 18l-13-3l-19-17z" fill="#e6ffe6"/>
<path d="M5780 3844l14-9l-18-6l-17 28z" fill="#fefffe"/>
<path d="M5612 3766l9 33l-17-8l-9-31z" fill="#ffeaea"/>
<path d="M5324 3831l15-4l-16-4l-15-1z" fill="#fffdfd"/>
<path d="M5564 3757l13-2l-17-3l-14 5z" fill="#fdd"/>
<path d="M5464 3887l12 15l-16-7l-13-16z" fill="#e6ffe6"/>
<path d="M5524 3904l19-45l-18-2l-18 43z" fill="#edffed"/>
<path d="M5038 3889l17-34l-15-3l-17 34z" fill="#f3fff3"/>
<path d="M5259 3852l17-27l-15-10l-17 28z" fill="#fff"/>
<path d="M4553 3821l15-54l-10 11l-14 58z" fill="#fff4f4"/>
<path d="M5242 3884l17-32l-15-9l-17 34z" fill="#f6fff6"/>
<path d="M4638 3640l19-14l-12 5l-19 11z" fill="#ff8989"/>
<path d="M4988 3904l18 5l-14-3l-18-4z" fill="#dfd"/>
<path d="M4572 3721l16-47l-10 14l-15 49z" fill="#ffbdbd"/>
<path d="M4789 3808l19-11l-15-28l-18 10z" fill="#fee"/>
<path d="M5020 3913l18-24l-15-3l-17 23z" fill="#e2ffe2"/>
<path d="M5292 3835l16-13l-16-6l-16 9z" fill="#fffcfc"/>
<path d="M4716 3665l20-9l-14-21l-20 9z" fill="#ff9494"/>
<path d="M4804 3833l18-12l-14-24l-19 11z" fill="#fff9f9"/>
<path d="M4669 3632l20-3l-12-6l-20 3z" fill="#ff8383"/>
<path d="M5509 3914l15-10l-17-4l-14 9z" fill="#dcffdc"/>
<path d="M4775 3779l18-10l-14-30l-19 10z" fill="#ffdede"/>
<path d="M4588 3674l19-21l-11 12l-18 23z" fill="#ffa3a3"/>
<path d="M5689 3836l8 28l-18-4l-7-34z" fill="#fdfffd"/>
<path d="M5734 3866l12 1l-21 9l-10-10z" fill="#f5fff5"/>
<path d="M4760 3749l19-10l-15-29l-19 9z" fill="#fcc"/>
<path d="M5371 3839l15 2l-17-5l-14-4z" fill="#fff"/>
<path d="M4731 3691l19-9l-14-26l-20 9z" fill="#ffa5a5"/>
<path d="M5418 3855l13 16l-16-8l-13-15z" fill="#f9fff9"/>
<path d="M4745 3719l19-9l-14-28l-19 9z" fill="#ffb8b8"/>
<path d="M5546 3799l18-42l-18 0l-18 41z" fill="#ffe7e7"/>
<path d="M4818 3854l18-14l-14-19l-18 12z" fill="#fff"/>
<path d="M5226 3900l16-16l-15-7l-17 19z" fill="#eaffea"/>
<path d="M4395 3866l35 74l-9 9l-37-91z" fill="#e0ffe0"/>
<path d="M4863 3864l19-4l-13-9l-19 3z" fill="#fbfffb"/>
<path d="M4530 3893l17-37l-9 12l-17 38z" fill="#f0fff0"/>
<path d="M5101 3842l17 10l-15-2l-16-11z" fill="#fefffe"/>
<path d="M5148 3857l16 23l-15-2l-16-23z" fill="#f7fff7"/>
<path d="M5767 3854l13-10l-21 13l-13 10z" fill="#fcfffc"/>
<path d="M4512 3919l18-26l-9 13l-18 24z" fill="#dcffdc"/>
<path d="M5194 3884l16 12l-15-4l-16-10z" fill="#ecffec"/>
<path d="M5629 3773l8 34l-16-8l-9-33z" fill="#ffeaea"/>
<path d="M5275 3863l17-28l-16-10l-17 27z" fill="#fff"/>
<path d="M5069 3859l18-20l-15-4l-17 20z" fill="#fefffe"/>
<path d="M5543 3859l20-59l-17-1l-21 58z" fill="#fffcfc"/>
<path d="M5339 3840l16-8l-16-5l-15 4z" fill="#fffdfd"/>
<path d="M4909 3867l19 13l-13-2l-20-13z" fill="#f5fff5"/>
<path d="M5480 3895l13 14l-17-7l-12-15z" fill="#e6ffe6"/>
<path d="M4831 3869l19-15l-14-14l-18 14z" fill="#fdfffd"/>
<path d="M4683 3649l19-5l-13-15l-20 3z" fill="#ff8787"/>
<path d="M5258 3892l17-29l-16-11l-17 32z" fill="#f6fff6"/>
<path d="M4547 3856l16-45l-10 10l-15 47z" fill="#fffefe"/>
<path d="M4955 3882l19 20l-14-2l-18-18z" fill="#ecffec"/>
<path d="M4568 3767l15-52l-11 6l-14 57z" fill="#ffd3d3"/>
<path d="M5307 3846l17-15l-16-9l-16 13z" fill="#fffdfd"/>
<path d="M4618 3651l20-11l-12 2l-19 11z" fill="#ff8d8d"/>
<path d="M4771 3824l18-16l-14-29l-19 15z" fill="#fff0f0"/>
<path d="M4785 3850l19-17l-15-25l-18 16z" fill="#fffbfb"/>
<path d="M5052 3894l17-35l-14-4l-17 34z" fill="#f5fff5"/>
<path d="M5582 3758l13 2l-18-5l-13 2z" fill="#ffd9d9"/>
<path d="M5541 3907l19-46l-17-2l-19 45z" fill="#f1fff1"/>
<path d="M4756 3794l19-15l-15-30l-19 14z" fill="#ffe1e1"/>
<path d="M4799 3873l19-19l-14-21l-19 17z" fill="#fefffe"/>
<path d="M5034 3919l18-25l-14-5l-18 24z" fill="#e5ffe5"/>
<path d="M5706 3848l9 18l-18-2l-8-28z" fill="#fefffe"/>
<path d="M4650 3647l19-15l-12-6l-19 14z" fill="#ff8484"/>
<path d="M5002 3908l18 5l-14-4l-18-5z" fill="#e2ffe2"/>
<path d="M5434 3863l13 16l-16-8l-13-16z" fill="#f9fff9"/>
<path d="M4741 3763l19-14l-15-30l-19 12z" fill="#ffcece"/>
<path d="M5527 3919l14-12l-17-3l-15 10z" fill="#e0ffe0"/>
<path d="M4697 3672l19-7l-14-21l-19 5z" fill="#ff9494"/>
<path d="M5387 3847l15 1l-16-7l-15-2z" fill="#fff"/>
<path d="M4458 3926l24 12l-8 11l-26-20z" fill="#cdffcd" stroke-width="2.6"/>
<path d="M4492 3931l20-12l-9 11l-21 8z" fill="#d3ffd3"/>
<path d="M4726 3731l19-12l-14-28l-20 10z" fill="#ffbaba"/>
<path d="M4711 3701l20-10l-15-26l-19 7z" fill="#ffa6a6"/>
<path d="M5241 3904l17-12l-16-8l-16 16z" fill="#ecffec"/>
<path d="M4877 3869l18-4l-13-5l-19 4z" fill="#fbfffb"/>
<path d="M5290 3873l17-27l-15-11l-17 28z" fill="#fefffe"/>
<path d="M4845 3880l18-16l-13-10l-19 15z" fill="#fafffa"/>
<path d="M5563 3800l19-42l-18-1l-18 42z" fill="#ffe3e3"/>
<path d="M5646 3784l8 32l-17-9l-8-34z" fill="#ffebeb"/>
<path d="M4813 3890l18-21l-13-15l-19 19z" fill="#f9fff9"/>
<path d="M4563 3811l16-48l-11 4l-15 54z" fill="#ffe9e9"/>
<path d="M5355 3850l16-11l-16-7l-16 8z" fill="#fffdfd"/>
<path d="M4406 3874l33 60l-9 6l-35-74z" fill="#e8ffe8"/>
<path d="M5116 3845l17 10l-15-3l-17-10z" fill="#fff"/>
<path d="M4583 3715l16-45l-11 4l-16 47z" fill="#ffadad"/>
<path d="M4599 3670l19-19l-11 2l-19 21z" fill="#ff9595"/>
<path d="M4767 3867l18-17l-14-26l-19 16z" fill="#fffefe"/>
<path d="M5323 3858l16-18l-15-9l-17 15z" fill="#fffefe"/>
<path d="M5273 3899l17-26l-15-10l-17 29z" fill="#f5fff5"/>
<path d="M5497 3903l12 11l-16-5l-13-14z" fill="#e7ffe7"/>
<path d="M5163 3859l16 23l-15-2l-16-23z" fill="#fafffa"/>
<path d="M4752 3840l19-16l-15-30l-19 15z" fill="#fff4f4"/>
<path d="M5210 3887l16 13l-16-4l-16-12z" fill="#f0fff0"/>
<path d="M5754 3863l13-9l-21 13l-12-1z" fill="#fdfffd"/>
<path d="M5084 3864l17-22l-14-3l-18 20z" fill="#fff"/>
<path d="M4781 3890l18-17l-14-23l-18 17z" fill="#fafffa"/>
<path d="M4664 3663l19-14l-14-17l-19 15z" fill="#ff8989"/>
<path d="M4737 3809l19-15l-15-31l-19 14z" fill="#ffe5e5"/>
<path d="M5560 3861l21-59l-18-2l-20 59z" fill="#fff9f9"/>
<path d="M4923 3868l19 14l-14-2l-19-13z" fill="#f9fff9"/>
<path d="M5066 3900l18-36l-15-5l-17 35z" fill="#f7fff7"/>
<path d="M4630 3659l20-12l-12-7l-20 11z" fill="#ff8989"/>
<path d="M5599 3762l13 4l-17-6l-13-2z" fill="#ffd7d7"/>
<path d="M5451 3872l13 15l-17-8l-13-16z" fill="#f9fff9"/>
<path d="M4722 3777l19-14l-15-32l-19 13z" fill="#ffd2d2"/>
<path d="M4969 3884l19 20l-14-2l-19-20z" fill="#f1fff1"/>
<path d="M5723 3859l11 7l-19 0l-9-18z" fill="#fefffe"/>
<path d="M5049 3926l17-26l-14-6l-18 25z" fill="#e7ffe7"/>
<path d="M5403 3856l15-1l-16-7l-15-1z" fill="#fff"/>
<path d="M5559 3910l19-46l-18-3l-19 46z" fill="#f5fff5"/>
<path d="M4827 3902l18-22l-14-11l-18 21z" fill="#f5fff5"/>
<path d="M4795 3908l18-18l-14-17l-18 17z" fill="#f3fff3"/>
<path d="M4678 3687l19-15l-14-23l-19 14z" fill="#ff9696"/>
<path d="M5017 3914l17 5l-14-6l-18-5z" fill="#e5ffe5"/>
<path d="M4707 3744l19-13l-15-30l-19 13z" fill="#ffbdbd"/>
<path d="M5306 3884l17-26l-16-12l-17 27z" fill="#fdfffd"/>
<path d="M4540 3883l17-35l-10 8l-17 37z" fill="#fcfffc"/>
<path d="M4692 3714l19-13l-14-29l-19 15z" fill="#ffa9a9"/>
<path d="M5663 3796l9 30l-18-10l-8-32z" fill="#ffeded"/>
<path d="M5544 3924l15-14l-18-3l-14 12z" fill="#e4ffe4"/>
<path d="M4522 3910l18-27l-10 10l-18 26z" fill="#edffed"/>
<path d="M5257 3909l16-10l-15-7l-17 12z" fill="#edffed"/>
<path d="M4579 3763l16-45l-12-3l-15 52z" fill="#ffc8c8"/>
<path d="M4859 3888l18-19l-14-5l-18 16z" fill="#fafffa"/>
<path d="M4890 3873l19-6l-14-2l-18 4z" fill="#fdfffd"/>
<path d="M5371 3860l16-13l-16-8l-16 11z" fill="#fffdfd"/>
<path d="M5339 3870l16-20l-16-10l-16 18z" fill="#fff"/>
<path d="M4557 3848l17-40l-11 3l-16 45z" fill="#fff7f7"/>
<path d="M4748 3880l19-13l-15-27l-19 12z" fill="#fff"/>
<path d="M5289 3908l17-24l-16-11l-17 26z" fill="#f4fff4"/>
<path d="M4733 3852l19-12l-15-31l-19 13z" fill="#fff7f7"/>
<path d="M5581 3802l18-40l-17-4l-19 42z" fill="#ffdfdf"/>
<path d="M4762 3903l19-13l-14-23l-19 13z" fill="#f7fff7"/>
<path d="M4644 3676l20-13l-14-16l-20 12z" fill="#ff8e8e"/>
<path d="M5514 3910l13 9l-18-5l-12-11z" fill="#e9ffe9"/>
<path d="M4718 3822l19-13l-15-32l-19 13z" fill="#ffe8e8"/>
<path d="M4809 3921l18-19l-14-12l-18 18z" fill="#edffed"/>
<path d="M4468 3925l24 6l-10 7l-24-12z" fill="#dcffdc"/>
<path d="M4611 3677l19-18l-12-8l-19 19z" fill="#ff9090"/>
<path d="M5131 3848l17 9l-15-2l-17-10z" fill="#fffdfd"/>
<path d="M5226 3890l15 14l-15-4l-16-13z" fill="#f3fff3"/>
<path d="M4418 3882l30 47l-9 5l-33-60z" fill="#efe"/>
<path d="M5099 3868l17-23l-15-3l-17 22z" fill="#fffefe"/>
<path d="M5179 3861l15 23l-15-2l-16-23z" fill="#fdfffd"/>
<path d="M4595 3718l16-41l-12-7l-16 45z" fill="#ffa6a6"/>
<path d="M4502 3926l20-16l-10 9l-20 12z" fill="#e4ffe4"/>
<path d="M5467 3881l13 14l-16-8l-13-15z" fill="#f9fff9"/>
<path d="M4703 3790l19-13l-15-33l-19 13z" fill="#ffd6d6"/>
<path d="M5322 3896l17-26l-16-12l-17 26z" fill="#fbfffb"/>
<path d="M4841 3911l18-23l-14-8l-18 22z" fill="#f4fff4"/>
<path d="M5680 3812l9 24l-17-10l-9-30z" fill="#fff0f0"/>
<path d="M4776 3921l19-13l-14-18l-19 13z" fill="#efe"/>
<path d="M5617 3768l12 5l-17-7l-13-4z" fill="#ffd6d6"/>
<path d="M5419 3866l15-3l-16-8l-15 1z" fill="#fff"/>
<path d="M4574 3808l16-42l-11-3l-16 48z" fill="#ffe1e1"/>
<path d="M5578 3864l21-58l-18-4l-21 59z" fill="#fff7f7"/>
<path d="M5081 3908l18-40l-15-4l-18 36z" fill="#f9fff9"/>
<path d="M4658 3699l20-12l-14-24l-20 13z" fill="#ff9c9c"/>
<path d="M5064 3935l17-27l-15-8l-17 26z" fill="#e7ffe7"/>
<path d="M4688 3757l19-13l-15-30l-19 13z" fill="#ffc1c1"/>
<path d="M5740 3872l14-9l-20 3l-11-7z" fill="#fff"/>
<path d="M4673 3727l19-13l-14-27l-20 12z" fill="#ffadad"/>
<path d="M5031 3923l18 3l-15-7l-17-5z" fill="#e6ffe6"/>
<path d="M4936 3868l19 14l-13 0l-19-14z" fill="#fdfffd"/>
<path d="M5354 3882l17-22l-16-10l-16 20z" fill="#fff"/>
<path d="M4984 3887l18 21l-14-4l-19-20z" fill="#f4fff4"/>
<path d="M5577 3912l19-45l-18-3l-19 46z" fill="#f8fff8"/>
<path d="M5273 3916l16-8l-16-9l-16 10z" fill="#efe"/>
<path d="M5387 3871l16-15l-16-9l-16 13z" fill="#fffefe"/>
<path d="M5305 3917l17-21l-16-12l-17 24z" fill="#f2fff2"/>
<path d="M4872 3893l18-20l-13-4l-18 19z" fill="#fbfffb"/>
<path d="M5562 3927l15-15l-18-2l-15 14z" fill="#e9ffe9"/>
<path d="M4590 3766l17-39l-12-9l-16 45z" fill="#ffc4c4"/>
<path d="M4625 3692l19-16l-14-17l-19 18z" fill="#ff9595"/>
<path d="M4822 3931l19-20l-14-9l-18 19z" fill="#eaffea"/>
<path d="M4790 3934l19-13l-14-13l-19 13z" fill="#e8ffe8"/>
<path d="M4728 3886l20-6l-15-28l-20 8z" fill="#fff"/>
<path d="M5696 3832l10 16l-17-12l-9-24z" fill="#fff4f4"/>
<path d="M4713 3860l20-8l-15-30l-20 9z" fill="#fff8f8"/>
<path d="M4904 3874l19-6l-14-1l-19 6z" fill="#fff"/>
<path d="M5337 3907l17-25l-15-12l-17 26z" fill="#f9fff9"/>
<path d="M5599 3806l18-38l-18-6l-18 40z" fill="#ffdcdc"/>
<path d="M5531 3917l13 7l-17-5l-13-9z" fill="#ebffeb"/>
<path d="M4698 3831l20-9l-15-32l-20 11z" fill="#ffeaea"/>
<path d="M4742 3907l20-4l-14-23l-20 6z" fill="#f7fff7"/>
<path d="M4607 3727l18-35l-14-15l-16 41z" fill="#ffa8a8"/>
<path d="M4550 3878l18-33l-11 3l-17 35z" fill="#fffefe"/>
<path d="M5484 3891l13 12l-17-8l-13-14z" fill="#f8fff8"/>
<path d="M5436 3876l15-4l-17-9l-15 3z" fill="#fff"/>
<path d="M5634 3778l12 6l-17-11l-12-5z" fill="#ffd6d6"/>
<path d="M4683 3801l20-11l-15-33l-20 14z" fill="#ffd9d9"/>
<path d="M4639 3715l19-16l-14-23l-19 16z" fill="#ffa1a1"/>
<path d="M4532 3905l18-27l-10 5l-18 27z" fill="#f8fff8"/>
<path d="M5241 3894l16 15l-16-5l-15-14z" fill="#f6fff6"/>
<path d="M4568 3845l17-36l-11-1l-17 40z" fill="#fff1f1"/>
<path d="M4854 3917l18-24l-13-5l-18 23z" fill="#f4fff4"/>
<path d="M5078 3945l18-30l-15-7l-17 27z" fill="#e7ffe7"/>
<path d="M5146 3851l17 8l-15-2l-17-9z" fill="#fffbfb"/>
<path d="M5114 3874l17-26l-15-3l-17 23z" fill="#fffdfd"/>
<path d="M4668 3771l20-14l-15-30l-19 15z" fill="#ffc5c5"/>
<path d="M5370 3894l17-23l-16-11l-17 22z" fill="#fefffe"/>
<path d="M4654 3742l19-15l-15-28l-19 16z" fill="#ffb2b2"/>
<path d="M5096 3915l18-41l-15-6l-18 40z" fill="#fafffa"/>
<path d="M5046 3933l18 2l-15-9l-18-3z" fill="#e5ffe5"/>
<path d="M5194 3864l16 23l-16-3l-15-23z" fill="#fff"/>
<path d="M4429 3890l29 36l-10 3l-30-47z" fill="#f2fff2"/>
<path d="M5596 3867l20-54l-17-7l-21 58z" fill="#fff5f5"/>
<path d="M5403 3883l16-17l-16-10l-16 15z" fill="#fff"/>
<path d="M4756 3925l20-4l-14-18l-20 4z" fill="#efffef"/>
<path d="M5712 3855l11 4l-17-11l-10-16z" fill="#fff9f9"/>
<path d="M4585 3809l18-35l-13-8l-16 42z" fill="#fdd"/>
<path d="M5321 3926l16-19l-15-11l-17 21z" fill="#f1fff1"/>
<path d="M4479 3926l23 0l-10 5l-24-6z" fill="#e8ffe8"/>
<path d="M5289 3922l16-5l-16-9l-16 8z" fill="#efe"/>
<path d="M4998 3894l19 20l-15-6l-18-21z" fill="#f7fff7"/>
<path d="M4621 3742l18-27l-14-23l-18 35z" fill="#ffb0b0"/>
<path d="M4603 3774l18-32l-14-15l-17 39z" fill="#ffc6c6"/>
<path d="M4803 3944l19-13l-13-10l-19 13z" fill="#e5ffe5"/>
<path d="M4950 3869l19 15l-14-2l-19-14z" fill="#fff"/>
<path d="M5595 3914l19-42l-18-5l-19 45z" fill="#fbfffb"/>
<path d="M5353 3918l17-24l-16-12l-17 25z" fill="#f7fff7"/>
<path d="M4512 3923l20-18l-10 5l-20 16z" fill="#efffef"/>
<path d="M4836 3937l18-20l-13-6l-19 20z" fill="#ebffeb"/>
<path d="M4886 3895l18-21l-14-1l-18 20z" fill="#fefffe"/>
<path d="M5727 3882l13-10l-17-13l-11-4z" fill="#fffdfd"/>
<path d="M5651 3791l12 5l-17-12l-12-6z" fill="#ffdada"/>
<path d="M4635 3762l19-20l-15-27l-18 27z" fill="#ffbcbc"/>
<path d="M5580 3930l15-16l-18-2l-15 15z" fill="#efe"/>
<path d="M5616 3813l18-35l-17-10l-18 38z" fill="#ffdcdc"/>
<path d="M5452 3886l15-5l-16-9l-15 4z" fill="#fff"/>
<path d="M4770 3938l20-4l-14-13l-20 4z" fill="#e9ffe9"/>
<path d="M5501 3900l13 10l-17-7l-13-12z" fill="#f8fff8"/>
<path d="M5386 3907l17-24l-16-12l-17 23z" fill="#fdfffd"/>
<path d="M4649 3785l19-14l-14-29l-19 20z" fill="#ffcbcb"/>
<path d="M5549 3923l13 4l-18-3l-13-7z" fill="#edffed"/>
<path d="M5093 3956l18-32l-15-9l-18 30z" fill="#e6ffe6"/>
<path d="M4663 3810l20-9l-15-30l-19 14z" fill="#ffdbdb"/>
<path d="M4678 3835l20-4l-15-30l-20 9z" fill="#ffe9e9"/>
<path d="M4918 3875l18-7l-13 0l-19 6z" fill="#fffefe"/>
<path d="M5061 3944l17 1l-14-10l-18-2z" fill="#e3ffe3"/>
<path d="M4693 3860l20 0l-15-29l-20 4z" fill="#fff6f6"/>
<path d="M5419 3894l17-18l-17-10l-16 17z" fill="#fff"/>
<path d="M4616 3786l19-24l-14-20l-18 32z" fill="#ffcbcb"/>
<path d="M5257 3900l16 16l-16-7l-16-15z" fill="#f7fff7"/>
<path d="M5111 3924l18-45l-15-5l-18 41z" fill="#fafffa"/>
<path d="M5337 3936l16-18l-16-11l-16 19z" fill="#efffef"/>
<path d="M4707 3883l21 3l-15-26l-20 0z" fill="#fffefe"/>
<path d="M4868 3921l18-26l-14-2l-18 24z" fill="#f7fff7"/>
<path d="M5129 3879l17-28l-15-3l-17 26z" fill="#fffbfb"/>
<path d="M5614 3872l20-50l-18-9l-20 54z" fill="#fff4f4"/>
<path d="M5162 3855l17 6l-16-2l-17-8z" fill="#fff9f9"/>
<path d="M4597 3814l19-28l-13-12l-18 35z" fill="#ffdcdc"/>
<path d="M5305 3930l16-4l-16-9l-16 5z" fill="#efffef"/>
<path d="M4579 3845l18-31l-12-5l-17 36z" fill="#ffeded"/>
<path d="M5369 3930l17-23l-16-13l-17 24z" fill="#f5fff5"/>
<path d="M4561 3876l18-31l-11 0l-18 33z" fill="#fffafa"/>
<path d="M5668 3808l12 4l-17-16l-12-5z" fill="#ffdfdf"/>
<path d="M5210 3868l16 22l-16-3l-16-23z" fill="#fffefe"/>
<path d="M4441 3898l27 27l-10 1l-29-36z" fill="#f6fff6"/>
<path d="M4817 3951l19-14l-14-6l-19 13z" fill="#e5ffe5"/>
<path d="M5013 3902l18 21l-14-9l-19-20z" fill="#f7fff7"/>
<path d="M4721 3902l21 5l-14-21l-21-3z" fill="#fcfffc"/>
<path d="M4543 3903l18-27l-11 2l-18 27z" fill="#fefffe"/>
<path d="M4629 3802l20-17l-14-23l-19 24z" fill="#ffd4d4"/>
<path d="M5634 3822l17-31l-17-13l-18 35z" fill="#fdd"/>
<path d="M5403 3919l16-25l-16-11l-17 24z" fill="#fbfffb"/>
<path d="M4783 3947l20-3l-13-10l-20 4z" fill="#e6ffe6"/>
<path d="M4849 3942l19-21l-14-4l-18 20z" fill="#edffed"/>
<path d="M5469 3897l15-6l-17-10l-15 5z" fill="#fefffe"/>
<path d="M5614 3915l18-37l-18-6l-19 42z" fill="#fdfffd"/>
<path d="M4490 3928l22-5l-10 3l-23 0z" fill="#f0fff0"/>
<path d="M4965 3872l19 15l-15-3l-19-15z" fill="#fffefe"/>
<path d="M5684 3831l12 1l-16-20l-12-4z" fill="#ffe7e7"/>
<path d="M5518 3909l13 8l-17-7l-13-10z" fill="#f8fff8"/>
<path d="M5076 3957l17-1l-15-11l-17-1z" fill="#e0ffe0"/>
<path d="M5108 3967l18-35l-15-8l-18 32z" fill="#e5ffe5"/>
<path d="M5436 3906l16-20l-16-10l-17 18z" fill="#fefffe"/>
<path d="M4735 3918l21 7l-14-18l-21-5z" fill="#f7fff7"/>
<path d="M4899 3897l19-22l-14-1l-18 21z" fill="#fff"/>
<path d="M4643 3820l20-10l-14-25l-20 17z" fill="#ffdede"/>
<path d="M5353 3945l16-15l-16-12l-16 18z" fill="#edffed"/>
<path d="M5598 3931l16-16l-19-1l-15 16z" fill="#f3fff3"/>
<path d="M5699 3858l13-3l-16-23l-12-1z" fill="#fff1f1"/>
<path d="M5566 3929l14 1l-18-3l-13-4z" fill="#f0fff0"/>
<path d="M4523 3923l20-20l-11 2l-20 18z" fill="#f7fff7"/>
<path d="M5713 3891l14-9l-15-27l-13 3z" fill="#fffbfb"/>
<path d="M4610 3823l19-21l-13-16l-19 28z" fill="#ffdede"/>
<path d="M5126 3932l18-47l-15-6l-18 45z" fill="#fbfffb"/>
<path d="M5386 3940l17-21l-17-12l-17 23z" fill="#f2fff2"/>
<path d="M5632 3878l19-42l-17-14l-20 50z" fill="#fff4f4"/>
<path d="M5273 3906l16 16l-16-6l-16-16z" fill="#f9fff9"/>
<path d="M4657 3839l21-4l-15-25l-20 10z" fill="#ffe8e8"/>
<path d="M5321 3938l16-2l-16-10l-16 4z" fill="#efe"/>
<path d="M4932 3876l18-7l-14-1l-18 7z" fill="#fffbfb"/>
<path d="M5028 3913l18 20l-15-10l-18-21z" fill="#f6fff6"/>
<path d="M5144 3885l18-30l-16-4l-17 28z" fill="#fffafa"/>
<path d="M5651 3836l17-28l-17-17l-17 31z" fill="#ffe1e1"/>
<path d="M4881 3923l18-26l-13-2l-18 26z" fill="#fafffa"/>
<path d="M5177 3859l17 5l-15-3l-17-6z" fill="#fff6f6"/>
<path d="M4591 3849l19-26l-13-9l-18 31z" fill="#ffebeb"/>
<path d="M5419 3930l17-24l-17-12l-16 25z" fill="#f9fff9"/>
<path d="M4830 3955l19-13l-13-5l-19 14z" fill="#e7ffe7"/>
<path d="M5226 3873l15 21l-15-4l-16-22z" fill="#fffdfd"/>
<path d="M4671 3858l22 2l-15-25l-21 4z" fill="#fff1f1"/>
<path d="M4749 3930l21 8l-14-13l-21-7z" fill="#f2fff2"/>
<path d="M4453 3907l26 19l-11-1l-27-27z" fill="#f9fff9"/>
<path d="M5486 3907l15-7l-17-9l-15 6z" fill="#fefffe"/>
<path d="M4797 3954l20-3l-14-7l-20 3z" fill="#e6ffe6"/>
<path d="M4573 3877l18-28l-12-4l-18 31z" fill="#fff7f7"/>
<path d="M5091 3969l17-2l-15-11l-17 1z" fill="#dfd"/>
<path d="M5453 3917l16-20l-17-11l-16 20z" fill="#fdfffd"/>
<path d="M5123 3978l18-37l-15-9l-18 35z" fill="#e3ffe3"/>
<path d="M4623 3834l20-14l-14-18l-19 21z" fill="#ffe2e2"/>
<path d="M5535 3918l14 5l-18-6l-13-8z" fill="#f8fff8"/>
<path d="M5667 3853l17-22l-16-23l-17 28z" fill="#ffe8e8"/>
<path d="M5632 3917l18-30l-18-9l-18 37z" fill="#fefffe"/>
<path d="M4685 3877l22 6l-14-23l-22-2z" fill="#fff9f9"/>
<path d="M4979 3878l19 16l-14-7l-19-15z" fill="#fffdfd"/>
<path d="M5369 3954l17-14l-17-10l-16 15z" fill="#ecffec"/>
<path d="M4863 3945l18-22l-13-2l-19 21z" fill="#f1fff1"/>
<path d="M4554 3904l19-27l-12-1l-18 27z" fill="#fffefe"/>
<path d="M5650 3887l17-34l-16-17l-19 42z" fill="#fff6f6"/>
<path d="M5402 3951l17-21l-16-11l-17 21z" fill="#f0fff0"/>
<path d="M4501 3931l22-8l-11 0l-22 5z" fill="#f5fff5"/>
<path d="M5141 3941l19-49l-16-7l-18 47z" fill="#fbfffb"/>
<path d="M5042 3925l19 19l-15-11l-18-20z" fill="#f4fff4"/>
<path d="M5684 3874l15-16l-15-27l-17 22z" fill="#fff2f2"/>
<path d="M5290 3913l15 17l-16-8l-16-16z" fill="#f9fff9"/>
<path d="M5699 3901l14-10l-14-33l-15 16z" fill="#fffcfc"/>
<path d="M5337 3946l16-1l-16-9l-16 2z" fill="#efe"/>
<path d="M4913 3898l19-22l-14-1l-19 22z" fill="#fffdfd"/>
<path d="M5584 3933l14-2l-18-1l-14-1z" fill="#f4fff4"/>
<path d="M5436 3941l17-24l-17-11l-17 24z" fill="#f7fff7"/>
<path d="M5617 3932l15-15l-18-2l-16 16z" fill="#f7fff7"/>
<path d="M4699 3893l22 9l-14-19l-22-6z" fill="#fffdfd"/>
<path d="M4762 3940l21 7l-13-9l-21-8z" fill="#f0fff0"/>
<path d="M4604 3856l19-22l-13-11l-19 26z" fill="#ffeaea"/>
<path d="M5160 3892l17-33l-15-4l-18 30z" fill="#fff8f8"/>
<path d="M4637 3847l20-8l-14-19l-20 14z" fill="#ffe8e8"/>
<path d="M4534 3924l20-20l-11-1l-20 20z" fill="#fcfffc"/>
<path d="M5503 3918l15-9l-17-9l-15 7z" fill="#fdfffd"/>
<path d="M5106 3980l17-2l-15-11l-17 2z" fill="#daffda"/>
<path d="M5469 3927l17-20l-17-10l-16 20z" fill="#fcfffc"/>
<path d="M4946 3878l19-6l-15-3l-18 7z" fill="#fff8f8"/>
<path d="M5193 3865l17 3l-16-4l-17-5z" fill="#fff4f4"/>
<path d="M5242 3879l15 21l-16-6l-15-21z" fill="#fffcfc"/>
<path d="M5667 3898l17-24l-17-21l-17 34z" fill="#fff9f9"/>
<path d="M5139 3988l18-38l-16-9l-18 37z" fill="#e2ffe2"/>
<path d="M4895 3925l18-27l-14-1l-18 26z" fill="#fdfffd"/>
<path d="M4465 3915l25 13l-11-2l-26-19z" fill="#fbfffb"/>
<path d="M4844 3958l19-13l-14-3l-19 13z" fill="#ebffeb"/>
<path d="M4810 3960l20-5l-13-4l-20 3z" fill="#e8ffe8"/>
<path d="M5386 3963l16-12l-16-11l-17 14z" fill="#ebffeb"/>
<path d="M4585 3881l19-25l-13-7l-18 28z" fill="#fff4f4"/>
<path d="M5553 3927l13 2l-17-6l-14-5z" fill="#f9fff9"/>
<path d="M5419 3960l17-19l-17-11l-17 21z" fill="#efffef"/>
<path d="M4713 3907l22 11l-14-16l-22-9z" fill="#fff"/>
<path d="M4994 3886l19 16l-15-8l-19-16z" fill="#fffcfc"/>
<path d="M5058 3937l18 20l-15-13l-19-19z" fill="#f2fff2"/>
<path d="M5651 3919l16-21l-17-11l-18 30z" fill="#fff"/>
<path d="M4650 3861l21-3l-14-19l-20 8z" fill="#ffeded"/>
<path d="M5157 3950l18-51l-15-7l-19 49z" fill="#fbfffb"/>
<path d="M5685 3911l14-10l-15-27l-17 24z" fill="#fffefe"/>
<path d="M5452 3951l17-24l-16-10l-17 24z" fill="#f6fff6"/>
<path d="M4876 3947l19-22l-14-2l-18 22z" fill="#f6fff6"/>
<path d="M5354 3954l15 0l-16-9l-16 1z" fill="#efe"/>
<path d="M4566 3906l19-25l-12-4l-19 27z" fill="#fffcfc"/>
<path d="M5306 3921l15 17l-16-8l-15-17z" fill="#fafffa"/>
<path d="M4617 3864l20-17l-14-13l-19 22z" fill="#ffecec"/>
<path d="M4776 3948l21 6l-14-7l-21-7z" fill="#f0fff0"/>
<path d="M5121 3991l18-3l-16-10l-17 2z" fill="#d8ffd8"/>
<path d="M4513 3935l21-11l-11-1l-22 8z" fill="#f9fff9"/>
<path d="M5520 3927l15-9l-17-9l-15 9z" fill="#fdfffd"/>
<path d="M5486 3937l17-19l-17-11l-17 20z" fill="#fbfffb"/>
<path d="M5603 3937l14-5l-19-1l-14 2z" fill="#f7fff7"/>
<path d="M5175 3899l18-34l-16-6l-17 33z" fill="#fff7f7"/>
<path d="M4927 3900l19-22l-14-2l-19 22z" fill="#fffafa"/>
<path d="M4664 3875l21 2l-14-19l-21 3z" fill="#fff2f2"/>
<path d="M5154 3997l18-38l-15-9l-18 38z" fill="#e2ffe2"/>
<path d="M4727 3919l22 11l-14-12l-22-11z" fill="#fdfffd"/>
<path d="M5636 3932l15-13l-19-2l-15 15z" fill="#fbfffb"/>
<path d="M5258 3886l15 20l-16-6l-15-21z" fill="#fffbfb"/>
<path d="M5209 3871l17 2l-16-5l-17-3z" fill="#fff2f2"/>
<path d="M4546 3927l20-21l-12-2l-20 20z" fill="#fefffe"/>
<path d="M5403 3971l16-11l-17-9l-16 12z" fill="#eaffea"/>
<path d="M5073 3950l18 19l-15-12l-18-20z" fill="#efffef"/>
<path d="M4960 3883l19-5l-14-6l-19 6z" fill="#fff6f6"/>
<path d="M5436 3969l16-18l-16-10l-17 19z" fill="#efe"/>
<path d="M4477 3923l24 8l-11-3l-25-13z" fill="#fcfffc"/>
<path d="M5009 3895l19 18l-15-11l-19-16z" fill="#fffdfd"/>
<path d="M5571 3935l13-2l-18-4l-13-2z" fill="#fafffa"/>
<path d="M4597 3887l20-23l-13-8l-19 25z" fill="#fff3f3"/>
<path d="M4824 3964l20-6l-14-3l-20 5z" fill="#ecffec"/>
<path d="M4857 3961l19-14l-13-2l-19 13z" fill="#f0fff0"/>
<path d="M4909 3927l18-27l-14-2l-18 27z" fill="#fff"/>
<path d="M5670 3921l15-10l-18-13l-16 21z" fill="#fff"/>
<path d="M5470 3960l16-23l-17-10l-17 24z" fill="#f5fff5"/>
<path d="M4630 3874l20-13l-13-14l-20 17z" fill="#fee"/>
<path d="M5172 3959l19-52l-16-8l-18 51z" fill="#fbfffb"/>
<path d="M5371 3962l15 1l-17-9l-15 0z" fill="#efe"/>
<path d="M4677 3888l22 5l-14-16l-21-2z" fill="#fff7f7"/>
<path d="M5323 3930l14 16l-16-8l-15-17z" fill="#fafffa"/>
<path d="M5137 4000l17-3l-15-9l-18 3z" fill="#d7ffd7"/>
<path d="M5538 3937l15-10l-18-9l-15 9z" fill="#fcfffc"/>
<path d="M5504 3947l16-20l-17-9l-17 19z" fill="#fbfffb"/>
<path d="M4578 3911l19-24l-12-6l-19 25z" fill="#fffbfb"/>
<path d="M4789 3955l21 5l-13-6l-21-6z" fill="#f1fff1"/>
<path d="M4890 3949l19-22l-14-2l-19 22z" fill="#fafffa"/>
<path d="M4740 3929l22 11l-13-10l-22-11z" fill="#fcfffc"/>
<path d="M5088 3962l18 18l-15-11l-18-19z" fill="#ecffec"/>
<path d="M5191 3907l18-36l-16-6l-18 34z" fill="#fff6f6"/>
<path d="M4525 3940l21-13l-12-3l-21 11z" fill="#fcfffc"/>
<path d="M5170 4005l18-38l-16-8l-18 38z" fill="#e2ffe2"/>
<path d="M5024 3907l18 18l-14-12l-19-18z" fill="#fffefe"/>
<path d="M5420 3979l16-10l-17-9l-16 11z" fill="#eaffea"/>
<path d="M5274 3894l16 19l-17-7l-15-20z" fill="#fffbfb"/>
<path d="M5453 3977l17-17l-18-9l-16 18z" fill="#edffed"/>
<path d="M4942 3904l18-21l-14-5l-19 22z" fill="#fff8f8"/>
<path d="M5225 3878l17 1l-16-6l-17-2z" fill="#fff1f1"/>
<path d="M5622 3940l14-8l-19 0l-14 5z" fill="#fbfffb"/>
<path d="M4975 3889l19-3l-15-8l-19 5z" fill="#fff5f5"/>
<path d="M4610 3894l20-20l-13-10l-20 23z" fill="#fff3f3"/>
<path d="M4691 3900l22 7l-14-14l-22-5z" fill="#fff9f9"/>
<path d="M4489 3932l24 3l-12-4l-24-8z" fill="#fdfffd"/>
<path d="M4558 3932l20-21l-12-5l-20 21z" fill="#fff"/>
<path d="M4643 3884l21-9l-14-14l-20 13z" fill="#fff0f0"/>
<path d="M5656 3931l14-10l-19-2l-15 13z" fill="#fefffe"/>
<path d="M5589 3941l14-4l-19-4l-13 2z" fill="#fbfffb"/>
<path d="M5487 3968l17-21l-18-10l-16 23z" fill="#f5fff5"/>
<path d="M5188 3967l19-53l-16-7l-19 52z" fill="#fcfffc"/>
<path d="M5388 3971l15 0l-17-8l-15-1z" fill="#efe"/>
<path d="M4838 3967l19-6l-13-3l-20 6z" fill="#f0fff0"/>
<path d="M5339 3939l15 15l-17-8l-14-16z" fill="#fafffa"/>
<path d="M4923 3930l19-26l-15-4l-18 27z" fill="#fffefe"/>
<path d="M4871 3964l19-15l-14-2l-19 14z" fill="#f5fff5"/>
<path d="M5152 4008l18-3l-16-8l-17 3z" fill="#d8ffd8"/>
<path d="M5521 3955l17-18l-18-10l-16 20z" fill="#fbfffb"/>
<path d="M5555 3945l16-10l-18-8l-15 10z" fill="#fcfffc"/>
<path d="M5104 3972l17 19l-15-11l-18-18z" fill="#eaffea"/>
<path d="M4754 3938l22 10l-14-8l-22-11z" fill="#fcfffc"/>
<path d="M4590 3917l20-23l-13-7l-19 24z" fill="#fff9f9"/>
<path d="M5039 3918l19 19l-16-12l-18-18z" fill="#fff"/>
<path d="M4803 3960l21 4l-14-4l-21-5z" fill="#f4fff4"/>
<path d="M5207 3914l18-36l-16-7l-18 36z" fill="#fff6f6"/>
<path d="M5186 4012l18-37l-16-8l-18 38z" fill="#e3ffe3"/>
<path d="M4705 3911l22 8l-14-12l-22-7z" fill="#fffbfb"/>
<path d="M5291 3903l15 18l-16-8l-16-19z" fill="#fffbfb"/>
<path d="M4656 3895l21-7l-13-13l-21 9z" fill="#fff3f3"/>
<path d="M5437 3986l16-9l-17-8l-16 10z" fill="#eaffea"/>
<path d="M4537 3946l21-14l-12-5l-21 13z" fill="#fdfffd"/>
<path d="M4905 3951l18-21l-14-3l-19 22z" fill="#fdfffd"/>
<path d="M5471 3984l16-16l-17-8l-17 17z" fill="#efe"/>
<path d="M4990 3897l19-2l-15-9l-19 3z" fill="#fff5f5"/>
<path d="M5241 3886l17 0l-16-7l-17-1z" fill="#fff1f1"/>
<path d="M4623 3902l20-18l-13-10l-20 20z" fill="#fff3f3"/>
<path d="M4956 3908l19-19l-15-6l-18 21z" fill="#fff6f6"/>
<path d="M4502 3940l23 0l-12-5l-24-3z" fill="#fefffe"/>
<path d="M5505 3974l16-19l-17-8l-17 21z" fill="#f5fff5"/>
<path d="M4570 3938l20-21l-12-6l-20 21z" fill="#fffefe"/>
<path d="M5204 3975l19-52l-16-9l-19 53z" fill="#fcfffc"/>
<path d="M5405 3979l15 0l-17-8l-15 0z" fill="#efe"/>
<path d="M5641 3941l15-10l-20 1l-14 8z" fill="#fefffe"/>
<path d="M5607 3947l15-7l-19-3l-14 4z" fill="#fdfffd"/>
<path d="M5356 3948l15 14l-17-8l-15-15z" fill="#fafffa"/>
<path d="M5539 3962l16-17l-17-8l-17 18z" fill="#fbfffb"/>
<path d="M5054 3930l19 20l-15-13l-19-19z" fill="#fff"/>
<path d="M5119 3981l18 19l-16-9l-17-19z" fill="#e9ffe9"/>
<path d="M5574 3952l15-11l-18-6l-16 10z" fill="#fdfffd"/>
<path d="M5168 4014l18-2l-16-7l-18 3z" fill="#d9ffd9"/>
<path d="M4851 3971l20-7l-14-3l-19 6z" fill="#f4fff4"/>
<path d="M4768 3946l21 9l-13-7l-22-10z" fill="#fcfffc"/>
<path d="M4938 3933l18-25l-14-4l-19 26z" fill="#fffcfc"/>
<path d="M4885 3967l20-16l-15-2l-19 15z" fill="#f8fff8"/>
<path d="M4603 3924l20-22l-13-8l-20 23z" fill="#fff9f9"/>
<path d="M4670 3905l21-5l-14-12l-21 7z" fill="#fff4f4"/>
<path d="M4718 3922l22 7l-13-10l-22-8z" fill="#fffcfc"/>
<path d="M5223 3923l18-37l-16-8l-18 36z" fill="#fff5f5"/>
<path d="M5307 3913l16 17l-17-9l-15-18z" fill="#fffbfb"/>
<path d="M5202 4018l18-36l-16-7l-18 37z" fill="#e4ffe4"/>
<path d="M4817 3966l21 1l-14-3l-21-4z" fill="#f6fff6"/>
<path d="M5005 3907l19 0l-15-12l-19 2z" fill="#fff5f5"/>
<path d="M4636 3911l20-16l-13-11l-20 18z" fill="#fff4f4"/>
<path d="M5455 3993l16-9l-18-7l-16 9z" fill="#ecffec"/>
<path d="M5258 3895l16-1l-16-8l-17 0z" fill="#fff0f0"/>
<path d="M5489 3989l16-15l-18-6l-16 16z" fill="#f0fff0"/>
<path d="M4549 3953l21-15l-12-6l-21 14z" fill="#fefffe"/>
<path d="M4971 3915l19-18l-15-8l-19 19z" fill="#fff5f5"/>
<path d="M4919 3955l19-22l-15-3l-18 21z" fill="#fefffe"/>
<path d="M4514 3949l23-3l-12-6l-23 0z" fill="#fefffe"/>
<path d="M5523 3979l16-17l-18-7l-16 19z" fill="#f6fff6"/>
<path d="M5070 3942l18 20l-15-12l-19-20z" fill="#fefffe"/>
<path d="M5220 3982l19-51l-16-8l-19 52z" fill="#fcfffc"/>
<path d="M4583 3944l20-20l-13-7l-20 21z" fill="#fffefe"/>
<path d="M5373 3958l15 13l-17-9l-15-14z" fill="#fafffa"/>
<path d="M5422 3986l15 0l-17-7l-15 0z" fill="#efffef"/>
<path d="M5135 3988l17 20l-15-8l-18-19z" fill="#e9ffe9"/>
<path d="M5558 3967l16-15l-19-7l-16 17z" fill="#fcfffc"/>
<path d="M5626 3951l15-10l-19-1l-15 7z" fill="#fff"/>
<path d="M4683 3915l22-4l-14-11l-21 5z" fill="#fff6f6"/>
<path d="M5592 3958l15-11l-18-6l-15 11z" fill="#fefffe"/>
<path d="M5184 4019l18-1l-16-6l-18 2z" fill="#dcffdc"/>
<path d="M4732 3932l22 6l-14-9l-22-7z" fill="#fffdfd"/>
<path d="M4782 3954l21 6l-14-5l-21-9z" fill="#fdfffd"/>
<path d="M4616 3931l20-20l-13-9l-20 22z" fill="#fff9f9"/>
<path d="M5239 3931l19-36l-17-9l-18 37z" fill="#fff5f5"/>
<path d="M4952 3938l19-23l-15-7l-18 25z" fill="#fffbfb"/>
<path d="M5324 3923l15 16l-16-9l-16-17z" fill="#fffbfb"/>
<path d="M5020 3917l19 1l-15-11l-19 0z" fill="#fff7f7"/>
<path d="M4866 3976l19-9l-14-3l-20 7z" fill="#f8fff8"/>
<path d="M4649 3920l21-15l-14-10l-20 16z" fill="#fff5f5"/>
<path d="M4900 3971l19-16l-14-4l-20 16z" fill="#fbfffb"/>
<path d="M5274 3904l17-1l-17-9l-16 1z" fill="#fff1f1"/>
<path d="M5218 4024l19-34l-17-8l-18 36z" fill="#e6ffe6"/>
<path d="M4831 3971l20 0l-13-4l-21-1z" fill="#f9fff9"/>
<path d="M5473 3998l16-9l-18-5l-16 9z" fill="#efe"/>
<path d="M4562 3960l21-16l-13-6l-21 15z" fill="#fff"/>
<path d="M4986 3922l19-15l-15-10l-19 18z" fill="#fff5f5"/>
<path d="M5507 3993l16-14l-18-5l-16 15z" fill="#f2fff2"/>
<path d="M5085 3953l19 19l-16-10l-18-20z" fill="#fdfffd"/>
<path d="M4527 3958l22-5l-12-7l-23 3z" fill="#fefffe"/>
<path d="M5390 3968l15 11l-17-8l-15-13z" fill="#fafffa"/>
<path d="M5237 3990l19-50l-17-9l-19 51z" fill="#fcfffc"/>
<path d="M4933 3959l19-21l-14-5l-19 22z" fill="#fff"/>
<path d="M4596 3952l20-21l-13-7l-20 20z" fill="#fffdfd"/>
<path d="M5440 3993l15 0l-18-7l-15 0z" fill="#f1fff1"/>
<path d="M5542 3983l16-16l-19-5l-16 17z" fill="#f9fff9"/>
<path d="M4697 3925l21-3l-13-11l-22 4z" fill="#fff7f7"/>
<path d="M5151 3994l17 20l-16-6l-17-20z" fill="#ebffeb"/>
<path d="M4746 3941l22 5l-14-8l-22-6z" fill="#fffdfd"/>
<path d="M5036 3928l18 2l-15-12l-19-1z" fill="#fff8f8"/>
<path d="M5576 3971l16-13l-18-6l-16 15z" fill="#fdfffd"/>
<path d="M4629 3939l20-19l-13-9l-20 20z" fill="#fff8f8"/>
<path d="M5256 3940l18-36l-16-9l-19 36z" fill="#fff6f6"/>
<path d="M5341 3934l15 14l-17-9l-15-16z" fill="#fffcfc"/>
<path d="M4796 3961l21 5l-14-6l-21-6z" fill="#fefffe"/>
<path d="M5611 3962l15-11l-19-4l-15 11z" fill="#fff"/>
<path d="M4663 3929l20-14l-13-10l-21 15z" fill="#fff5f5"/>
<path d="M5201 4023l17 1l-16-6l-18 1z" fill="#e0ffe0"/>
<path d="M5291 3915l16-2l-16-10l-17 1z" fill="#fff1f1"/>
<path d="M4967 3944l19-22l-15-7l-19 23z" fill="#fff9f9"/>
<path d="M4880 3982l20-11l-15-4l-19 9z" fill="#fafffa"/>
<path d="M5235 4029l18-32l-16-7l-19 34z" fill="#e9ffe9"/>
<path d="M5101 3962l18 19l-15-9l-19-19z" fill="#fdfffd"/>
<path d="M4914 3976l19-17l-14-4l-19 16z" fill="#fdfffd"/>
<path d="M5001 3930l19-13l-15-10l-19 15z" fill="#fff5f5"/>
<path d="M4575 3968l21-16l-13-8l-21 16z" fill="#fff"/>
<path d="M4845 3978l21-2l-15-5l-20 0z" fill="#fbfffb"/>
<path d="M4540 3967l22-7l-13-7l-22 5z" fill="#fff"/>
<path d="M5407 3977l15 9l-17-7l-15-11z" fill="#fafffa"/>
<path d="M5491 4002l16-9l-18-4l-16 9z" fill="#f2fff2"/>
<path d="M5253 3997l19-47l-16-10l-19 50z" fill="#fdfffd"/>
<path d="M4711 3936l21-4l-14-10l-21 3z" fill="#fff7f7"/>
<path d="M5526 3995l16-12l-19-4l-16 14z" fill="#f6fff6"/>
<path d="M4609 3959l20-20l-13-8l-20 21z" fill="#fffdfd"/>
<path d="M5051 3938l19 4l-16-12l-18-2z" fill="#fff9f9"/>
<path d="M4948 3965l19-21l-15-6l-19 21z" fill="#fffefe"/>
<path d="M5458 4000l15-2l-18-5l-15 0z" fill="#f3fff3"/>
<path d="M4760 3951l22 3l-14-8l-22-5z" fill="#fffdfd"/>
<path d="M5358 3945l15 13l-17-10l-15-14z" fill="#fffcfc"/>
<path d="M5272 3950l19-35l-17-11l-18 36z" fill="#fff6f6"/>
<path d="M4642 3948l21-19l-14-9l-20 19z" fill="#fff8f8"/>
<path d="M5561 3984l15-13l-18-4l-16 16z" fill="#fbfffb"/>
<path d="M4676 3938l21-13l-14-10l-20 14z" fill="#fff6f6"/>
<path d="M5308 3926l16-3l-17-10l-16 2z" fill="#fff2f2"/>
<path d="M5167 3998l17 21l-16-5l-17-20z" fill="#efe"/>
<path d="M4810 3970l21 1l-14-5l-21-5z" fill="#fefffe"/>
<path d="M5596 3973l15-11l-19-4l-16 13z" fill="#fff"/>
<path d="M4982 3951l19-21l-15-8l-19 22z" fill="#fff9f9"/>
<path d="M5218 4026l17 3l-17-5l-17-1z" fill="#e5ffe5"/>
<path d="M5017 3939l19-11l-16-11l-19 13z" fill="#fff5f5"/>
<path d="M5117 3969l18 19l-16-7l-18-19z" fill="#fdfffd"/>
<path d="M4895 3988l19-12l-14-5l-20 11z" fill="#fcfffc"/>
<path d="M4588 3976l21-17l-13-7l-21 16z" fill="#fff"/>
<path d="M5251 4033l19-29l-17-7l-18 32z" fill="#ebffeb"/>
<path d="M4929 3983l19-18l-15-6l-19 17z" fill="#fefffe"/>
<path d="M4553 3976l22-8l-13-8l-22 7z" fill="#fff"/>
<path d="M5425 3987l15 6l-18-7l-15-9z" fill="#fafffa"/>
<path d="M4725 3946l21-5l-14-9l-21 4z" fill="#fff8f8"/>
<path d="M5270 4004l19-45l-17-9l-19 47z" fill="#fdfffd"/>
<path d="M4860 3986l20-4l-14-6l-21 2z" fill="#fcfffc"/>
<path d="M5067 3949l18 4l-15-11l-19-4z" fill="#fffafa"/>
<path d="M4622 3967l20-19l-13-9l-20 20z" fill="#fffcfc"/>
<path d="M5375 3957l15 11l-17-10l-15-13z" fill="#fffdfd"/>
<path d="M5510 4005l16-10l-19-2l-16 9z" fill="#f6fff6"/>
<path d="M5289 3959l19-33l-17-11l-19 35z" fill="#fff7f7"/>
<path d="M4774 3960l22 1l-14-7l-22-3z" fill="#fffdfd"/>
<path d="M4963 3971l19-20l-15-7l-19 21z" fill="#fffdfd"/>
<path d="M4656 3957l20-19l-13-9l-21 19z" fill="#fff9f9"/>
<path d="M5324 3937l17-3l-17-11l-16 3z" fill="#fff4f4"/>
<path d="M4690 3948l21-12l-14-11l-21 13z" fill="#fff6f6"/>
<path d="M5476 4006l15-4l-18-4l-15 2z" fill="#f5fff5"/>
<path d="M5545 3996l16-12l-19-1l-16 12z" fill="#fafffa"/>
<path d="M4824 3978l21 0l-14-7l-21-1z" fill="#fff"/>
<path d="M4998 3958l19-19l-16-9l-19 21z" fill="#fff8f8"/>
<path d="M5032 3949l19-11l-15-10l-19 11z" fill="#fff6f6"/>
<path d="M5184 4002l17 21l-17-4l-17-21z" fill="#f2fff2"/>
<path d="M5580 3983l16-10l-20-2l-15 13z" fill="#fefffe"/>
<path d="M5133 3975l18 19l-16-6l-18-19z" fill="#fefffe"/>
<path d="M4601 3984l21-17l-13-8l-21 17z" fill="#fff"/>
<path d="M4909 3996l20-13l-15-7l-19 12z" fill="#fdfffd"/>
<path d="M4739 3956l21-5l-14-10l-21 5z" fill="#fff9f9"/>
<path d="M5234 4029l17 4l-16-4l-17-3z" fill="#e9ffe9"/>
<path d="M4566 3985l22-9l-13-8l-22 8z" fill="#fff"/>
<path d="M5443 3996l15 4l-18-7l-15-6z" fill="#fafffa"/>
<path d="M5083 3959l18 3l-16-9l-18-4z" fill="#fffbfb"/>
<path d="M5287 4011l19-42l-17-10l-19 45z" fill="#fdfffd"/>
<path d="M5268 4038l19-27l-17-7l-19 29z" fill="#efe"/>
<path d="M4944 3989l19-18l-15-6l-19 18z" fill="#fff"/>
<path d="M5392 3969l15 8l-17-9l-15-11z" fill="#fffefe"/>
<path d="M4635 3976l21-19l-14-9l-20 19z" fill="#fffcfc"/>
<path d="M4874 3994l21-6l-15-6l-20 4z" fill="#fdfffd"/>
<path d="M5306 3969l18-32l-16-11l-19 33z" fill="#fff8f8"/>
<path d="M5341 3949l17-4l-17-11l-17 3z" fill="#fff5f5"/>
<path d="M4704 3959l21-13l-14-10l-21 12z" fill="#fff7f7"/>
<path d="M4789 3970l21 0l-14-9l-22-1z" fill="#fffdfd"/>
<path d="M4669 3966l21-18l-14-10l-20 19z" fill="#fff9f9"/>
<path d="M4978 3979l20-21l-16-7l-19 20z" fill="#fffcfc"/>
<path d="M5529 4006l16-10l-19-1l-16 10z" fill="#fafffa"/>
<path d="M5048 3960l19-11l-16-11l-19 11z" fill="#fff7f7"/>
<path d="M5494 4010l16-5l-19-3l-15 4z" fill="#f8fff8"/>
<path d="M4839 3988l21-2l-15-8l-21 0z" fill="#fff"/>
<path d="M5013 3967l19-18l-15-10l-19 19z" fill="#fff8f8"/>
<path d="M5565 3994l15-11l-19 1l-16 12z" fill="#fefffe"/>
<path d="M4753 3967l21-7l-14-9l-21 5z" fill="#fff9f9"/>
<path d="M4614 3993l21-17l-13-9l-21 17z" fill="#fff"/>
<path d="M5201 4005l17 21l-17-3l-17-21z" fill="#f6fff6"/>
<path d="M4579 3994l22-10l-13-8l-22 9z" fill="#fff"/>
<path d="M5099 3968l18 1l-16-7l-18-3z" fill="#fffbfb"/>
<path d="M5410 3981l15 6l-18-10l-15-8z" fill="#fffefe"/>
<path d="M4924 4004l20-15l-15-6l-20 13z" fill="#fefffe"/>
<path d="M5359 3961l16-4l-17-12l-17 4z" fill="#fff7f7"/>
<path d="M5323 3979l18-30l-17-12l-18 32z" fill="#fff9f9"/>
<path d="M5461 4005l15 1l-18-6l-15-4z" fill="#fbfffb"/>
<path d="M5304 4018l19-39l-17-10l-19 42z" fill="#fdfffd"/>
<path d="M5150 3981l17 17l-16-4l-18-19z" fill="#fff"/>
<path d="M4649 3985l20-19l-13-9l-21 19z" fill="#fffcfc"/>
<path d="M4959 3997l19-18l-15-8l-19 18z" fill="#fff"/>
<path d="M4889 4003l20-7l-14-8l-21 6z" fill="#fdfffd"/>
<path d="M4718 3969l21-13l-14-10l-21 13z" fill="#fff8f8"/>
<path d="M5252 4032l16 6l-17-5l-17-4z" fill="#efe"/>
<path d="M5286 4042l18-24l-17-7l-19 27z" fill="#f1fff1"/>
<path d="M4683 3976l21-17l-14-11l-21 18z" fill="#fff9f9"/>
<path d="M4803 3981l21-3l-14-8l-21 0z" fill="#fffdfd"/>
<path d="M4994 3987l19-20l-15-9l-20 21z" fill="#fffcfc"/>
<path d="M5064 3970l19-11l-16-10l-19 11z" fill="#fff8f8"/>
<path d="M5029 3978l19-18l-16-11l-19 18z" fill="#fff9f9"/>
<path d="M4854 3998l20-4l-14-8l-21 2z" fill="#fff"/>
<path d="M4768 3979l21-9l-15-10l-21 7z" fill="#fffafa"/>
<path d="M5513 4014l16-8l-19-1l-16 5z" fill="#fbfffb"/>
<path d="M5376 3974l16-5l-17-12l-16 4z" fill="#fff8f8"/>
<path d="M5427 3993l16 3l-18-9l-15-6z" fill="#fff"/>
<path d="M4628 4002l21-17l-14-9l-21 17z" fill="#fff"/>
<path d="M5340 3989l19-28l-18-12l-18 30z" fill="#fffafa"/>
<path d="M4592 4003l22-10l-13-9l-22 10z" fill="#fff"/>
<path d="M5549 4005l16-11l-20 2l-16 10z" fill="#fefffe"/>
<path d="M5115 3976l18-1l-16-6l-18-1z" fill="#fffafa"/>
<path d="M4663 3995l20-19l-14-10l-20 19z" fill="#fffdfd"/>
<path d="M4939 4012l20-15l-15-8l-20 15z" fill="#fefffe"/>
<path d="M4732 3981l21-14l-14-11l-21 13z" fill="#fff9f9"/>
<path d="M5321 4025l19-36l-17-10l-19 39z" fill="#fefffe"/>
<path d="M4697 3987l21-18l-14-10l-21 17z" fill="#fffafa"/>
<path d="M5479 4013l15-3l-18-4l-15-1z" fill="#fcfffc"/>
<path d="M4818 3993l21-5l-15-10l-21 3z" fill="#fffdfd"/>
<path d="M4904 4013l20-9l-15-8l-20 7z" fill="#fdfffd"/>
<path d="M4974 4006l20-19l-16-8l-19 18z" fill="#fff"/>
<path d="M5218 4008l16 21l-16-3l-17-21z" fill="#fafffa"/>
<path d="M5166 3985l18 17l-17-4l-17-17z" fill="#fff"/>
<path d="M5009 3997l20-19l-16-11l-19 20z" fill="#fffcfc"/>
<path d="M5303 4046l18-21l-17-7l-18 24z" fill="#f4fff4"/>
<path d="M5080 3982l19-14l-16-9l-19 11z" fill="#fff8f8"/>
<path d="M5269 4035l17 7l-18-4l-16-6z" fill="#f2fff2"/>
<path d="M5045 3989l19-19l-16-10l-19 18z" fill="#fff9f9"/>
<path d="M4869 4009l20-6l-15-9l-20 4z" fill="#fff"/>
<path d="M4782 3991l21-10l-14-11l-21 9z" fill="#fffbfb"/>
<path d="M5393 3987l17-6l-18-12l-16 5z" fill="#fffafa"/>
<path d="M5358 4000l18-26l-17-13l-19 28z" fill="#fffbfb"/>
<path d="M5445 4005l16 0l-18-9l-16-3z" fill="#fff"/>
<path d="M4641 4011l22-16l-14-10l-21 17z" fill="#fff"/>
<path d="M4747 3993l21-14l-15-12l-21 14z" fill="#fffafa"/>
<path d="M4606 4012l22-10l-14-9l-22 10z" fill="#fff"/>
<path d="M4676 4005l21-18l-14-11l-20 19z" fill="#fffdfd"/>
<path d="M4712 3998l20-17l-14-12l-21 18z" fill="#fffbfb"/>
<path d="M4955 4021l19-15l-15-9l-20 15z" fill="#fefffe"/>
<path d="M4833 4005l21-7l-15-10l-21 5z" fill="#fffefe"/>
<path d="M5339 4032l19-32l-18-11l-19 36z" fill="#fefffe"/>
<path d="M5131 3985l19-4l-17-6l-18 1z" fill="#fff9f9"/>
<path d="M4990 4015l19-18l-15-10l-20 19z" fill="#fff"/>
<path d="M4919 4023l20-11l-15-8l-20 9z" fill="#fefffe"/>
<path d="M5533 4016l16-11l-20 1l-16 8z" fill="#fefffe"/>
<path d="M5025 4008l20-19l-16-11l-20 19z" fill="#fffdfd"/>
<path d="M5497 4021l16-7l-19-4l-15 3z" fill="#fdfffd"/>
<path d="M5061 4001l19-19l-16-12l-19 19z" fill="#fffafa"/>
<path d="M5096 3993l19-17l-16-8l-19 14z" fill="#fff9f9"/>
<path d="M4884 4020l20-7l-15-10l-20 6z" fill="#fff"/>
<path d="M5183 3990l18 15l-17-3l-18-17z" fill="#fffdfd"/>
<path d="M5235 4011l17 21l-18-3l-16-21z" fill="#fdfffd"/>
<path d="M4797 4004l21-11l-15-12l-21 10z" fill="#fffcfc"/>
<path d="M5321 4050l18-18l-18-7l-18 21z" fill="#f6fff6"/>
<path d="M5411 4000l16-7l-17-12l-17 6z" fill="#fffbfb"/>
<path d="M5375 4010l18-23l-17-13l-18 26z" fill="#fffcfc"/>
<path d="M5286 4039l17 7l-17-4l-17-7z" fill="#f6fff6"/>
<path d="M5463 4017l16-4l-18-8l-16 0z" fill="#fff"/>
<path d="M4761 4006l21-15l-14-12l-21 14z" fill="#fffbfb"/>
<path d="M4655 4021l21-16l-13-10l-22 16z" fill="#fff"/>
<path d="M4691 4016l21-18l-15-11l-21 18z" fill="#fffdfd"/>
<path d="M4726 4010l21-17l-15-12l-20 17z" fill="#fffcfc"/>
<path d="M4619 4022l22-11l-13-9l-22 10z" fill="#fff"/>
<path d="M4848 4017l21-8l-15-11l-21 7z" fill="#fffefe"/>
<path d="M4970 4031l20-16l-16-9l-19 15z" fill="#fefffe"/>
<path d="M5006 4025l19-17l-16-11l-19 18z" fill="#fff"/>
<path d="M5357 4038l18-28l-17-10l-19 32z" fill="#fefffe"/>
<path d="M4935 4033l20-12l-16-9l-20 11z" fill="#fefffe"/>
<path d="M5041 4020l20-19l-16-12l-20 19z" fill="#fffefe"/>
<path d="M5077 4015l19-22l-16-11l-19 19z" fill="#fffcfc"/>
<path d="M5148 3993l18-8l-16-4l-19 4z" fill="#fff8f8"/>
<path d="M5112 4005l19-20l-16-9l-19 17z" fill="#fff9f9"/>
<path d="M4812 4017l21-12l-15-12l-21 11z" fill="#fffdfd"/>
<path d="M5429 4013l16-8l-18-12l-16 7z" fill="#fffdfd"/>
<path d="M4899 4031l20-8l-15-10l-20 7z" fill="#fefffe"/>
<path d="M5516 4028l17-12l-20-2l-16 7z" fill="#fff"/>
<path d="M5393 4021l18-21l-18-13l-18 23z" fill="#fffdfd"/>
<path d="M4776 4019l21-15l-15-13l-21 15z" fill="#fffdfd"/>
<path d="M5339 4055l18-17l-18-6l-18 18z" fill="#f9fff9"/>
<path d="M5481 4028l16-7l-18-8l-16 4z" fill="#fff"/>
<path d="M5200 3994l18 14l-17-3l-18-15z" fill="#fffbfb"/>
<path d="M4741 4023l20-17l-14-13l-21 17z" fill="#fffdfd"/>
<path d="M5252 4014l17 21l-17-3l-17-21z" fill="#fff"/>
<path d="M4705 4027l21-17l-14-12l-21 18z" fill="#fffefe"/>
<path d="M4669 4031l22-15l-15-11l-21 16z" fill="#fff"/>
<path d="M4863 4029l21-9l-15-11l-21 8z" fill="#fff"/>
<path d="M4633 4031l22-10l-14-10l-22 11z" fill="#fff"/>
<path d="M5304 4043l17 7l-18-4l-17-7z" fill="#f9fff9"/>
<path d="M5057 4033l20-18l-16-14l-20 19z" fill="#fff"/>
<path d="M5022 4036l19-16l-16-12l-19 17z" fill="#fff"/>
<path d="M4986 4040l20-15l-16-10l-20 16z" fill="#fefffe"/>
<path d="M5093 4028l19-23l-16-12l-19 22z" fill="#fffdfd"/>
<path d="M4950 4043l20-12l-15-10l-20 12z" fill="#fefffe"/>
<path d="M5375 4045l18-24l-18-11l-18 28z" fill="#fefffe"/>
<path d="M4827 4030l21-13l-15-12l-21 12z" fill="#fffefe"/>
<path d="M5447 4025l16-8l-18-12l-16 8z" fill="#fffefe"/>
<path d="M5129 4016l19-23l-17-8l-19 20z" fill="#fff9f9"/>
<path d="M5164 4000l19-10l-17-5l-18 8z" fill="#fff6f6"/>
<path d="M4914 4042l21-9l-16-10l-20 8z" fill="#fefffe"/>
<path d="M4791 4032l21-15l-15-13l-21 15z" fill="#fffefe"/>
<path d="M5411 4031l18-18l-18-13l-18 21z" fill="#fffdfd"/>
<path d="M4755 4036l21-17l-15-13l-20 17z" fill="#fffefe"/>
<path d="M4719 4040l22-17l-15-13l-21 17z" fill="#fff"/>
<path d="M4683 4042l22-15l-14-11l-22 15z" fill="#fff"/>
<path d="M4878 4041l21-10l-15-11l-21 9z" fill="#fff"/>
<path d="M5500 4039l16-11l-19-7l-16 7z" fill="#fff"/>
<path d="M5074 4047l19-19l-16-13l-20 18z" fill="#fff"/>
<path d="M5357 4060l18-15l-18-7l-18 17z" fill="#fbfffb"/>
<path d="M5109 4043l20-27l-17-11l-19 23z" fill="#fffefe"/>
<path d="M5038 4048l19-15l-16-13l-19 16z" fill="#fff"/>
<path d="M4647 4041l22-10l-14-10l-22 10z" fill="#fff"/>
<path d="M5217 3999l18 12l-17-3l-18-14z" fill="#fff8f8"/>
<path d="M5002 4050l20-14l-16-11l-20 15z" fill="#fefffe"/>
<path d="M5270 4019l16 20l-17-4l-17-21z" fill="#fffefe"/>
<path d="M4842 4043l21-14l-15-12l-21 13z" fill="#fff"/>
<path d="M5465 4038l16-10l-18-11l-16 8z" fill="#fffefe"/>
<path d="M4966 4052l20-12l-16-9l-20 12z" fill="#fefffe"/>
<path d="M5393 4052l18-21l-18-10l-18 24z" fill="#fefffe"/>
<path d="M5322 4048l17 7l-18-5l-17-7z" fill="#fcfffc"/>
<path d="M5145 4028l19-28l-16-7l-19 23z" fill="#fff9f9"/>
<path d="M4806 4046l21-16l-15-13l-21 15z" fill="#fff"/>
<path d="M4930 4053l20-10l-15-10l-21 9z" fill="#fefffe"/>
<path d="M5429 4042l18-17l-18-12l-18 18z" fill="#fffefe"/>
<path d="M4770 4050l21-18l-15-13l-21 17z" fill="#fff"/>
<path d="M5181 4008l19-14l-17-4l-19 10z" fill="#fff5f5"/>
<path d="M4734 4052l21-16l-14-13l-22 17z" fill="#fff"/>
<path d="M5090 4061l19-18l-16-15l-19 19z" fill="#fefffe"/>
<path d="M4894 4053l20-11l-15-11l-21 10z" fill="#fefffe"/>
<path d="M4698 4053l21-13l-14-13l-22 15z" fill="#fff"/>
<path d="M5126 4057l19-29l-16-12l-20 27z" fill="#fff"/>
<path d="M5054 4059l20-12l-17-14l-19 15z" fill="#fefffe"/>
<path d="M4661 4051l22-9l-14-11l-22 10z" fill="#fff"/>
<path d="M4858 4056l20-15l-15-12l-21 14z" fill="#fff"/>
<path d="M5018 4060l20-12l-16-12l-20 14z" fill="#fefffe"/>
<path d="M5483 4051l17-12l-19-11l-16 10z" fill="#fff"/>
<path d="M5375 4065l18-13l-18-7l-18 15z" fill="#fcfffc"/>
<path d="M4822 4060l20-17l-15-13l-21 16z" fill="#fff"/>
<path d="M4982 4062l20-12l-16-10l-20 12z" fill="#fefffe"/>
<path d="M4785 4063l21-17l-15-14l-21 18z" fill="#fefffe"/>
<path d="M5411 4059l18-17l-18-11l-18 21z" fill="#fff"/>
<path d="M5162 4040l19-32l-17-8l-19 28z" fill="#fffafa"/>
<path d="M5235 4005l17 9l-17-3l-18-12z" fill="#fff5f5"/>
<path d="M5448 4052l17-14l-18-13l-18 17z" fill="#fff"/>
<path d="M5288 4025l16 18l-18-4l-16-20z" fill="#fffdfd"/>
<path d="M4946 4063l20-11l-16-9l-20 10z" fill="#fefffe"/>
<path d="M4749 4065l21-15l-15-14l-21 16z" fill="#fefffe"/>
<path d="M5106 4075l20-18l-17-14l-19 18z" fill="#fcfffc"/>
<path d="M5340 4054l17 6l-18-5l-17-7z" fill="#fdfffd"/>
<path d="M4712 4065l22-13l-15-12l-21 13z" fill="#fefffe"/>
<path d="M5143 4071l19-31l-17-12l-19 29z" fill="#fff"/>
<path d="M4909 4065l21-12l-16-11l-20 11z" fill="#fefffe"/>
<path d="M5199 4017l18-18l-17-5l-19 14z" fill="#fff3f3"/>
<path d="M5070 4072l20-11l-16-14l-20 12z" fill="#fdfffd"/>
<path d="M4873 4069l21-16l-16-12l-20 15z" fill="#fefffe"/>
<path d="M4675 4061l23-8l-15-11l-22 9z" fill="#fff"/>
<path d="M4837 4073l21-17l-16-13l-20 17z" fill="#fefffe"/>
<path d="M5034 4070l20-11l-16-11l-20 12z" fill="#fefffe"/>
<path d="M4801 4077l21-17l-16-14l-21 17z" fill="#fdfffd"/>
<path d="M4998 4071l20-11l-16-10l-20 12z" fill="#fefffe"/>
<path d="M5466 4062l17-11l-18-13l-17 14z" fill="#fff"/>
<path d="M5123 4089l20-18l-17-14l-20 18z" fill="#fafffa"/>
<path d="M4764 4078l21-15l-15-13l-21 15z" fill="#fdfffd"/>
<path d="M5179 4052l20-35l-18-9l-19 32z" fill="#fffafa"/>
<path d="M5394 4071l17-12l-18-7l-18 13z" fill="#fefffe"/>
<path d="M5430 4067l18-15l-19-10l-18 17z" fill="#fff"/>
<path d="M4962 4073l20-11l-16-10l-20 11z" fill="#fefffe"/>
<path d="M5159 4086l20-34l-17-12l-19 31z" fill="#fefffe"/>
<path d="M5253 4012l17 7l-18-5l-17-9z" fill="#fff3f3"/>
<path d="M4727 4076l22-11l-15-13l-22 13z" fill="#fdfffd"/>
<path d="M5306 4033l16 15l-18-5l-16-18z" fill="#fffbfb"/>
<path d="M5087 4084l19-9l-16-14l-20 11z" fill="#fbfffb"/>
<path d="M4925 4076l21-13l-16-10l-21 12z" fill="#fefffe"/>
<path d="M5359 4062l16 3l-18-5l-17-6z" fill="#fff"/>
<path d="M4889 4081l20-16l-15-12l-21 16z" fill="#fdfffd"/>
<path d="M5216 4026l19-21l-18-6l-18 18z" fill="#fff2f2"/>
<path d="M4852 4086l21-17l-15-13l-21 17z" fill="#fdfffd"/>
<path d="M4690 4071l22-6l-14-12l-23 8z" fill="#fff"/>
<path d="M4816 4090l21-17l-15-13l-21 17z" fill="#fcfffc"/>
<path d="M5051 4080l19-8l-16-13l-20 11z" fill="#fdfffd"/>
<path d="M5140 4103l19-17l-16-15l-20 18z" fill="#f8fff8"/>
<path d="M4779 4091l22-14l-16-14l-21 15z" fill="#fcfffc"/>
<path d="M5014 4080l20-10l-16-10l-20 11z" fill="#fefffe"/>
<path d="M5196 4064l20-38l-17-9l-20 35z" fill="#fffafa"/>
<path d="M5176 4099l20-35l-17-12l-20 34z" fill="#fdfffd"/>
<path d="M5449 4074l17-12l-18-10l-18 15z" fill="#fff"/>
<path d="M4742 4088l22-10l-15-13l-22 11z" fill="#fdfffd"/>
<path d="M5104 4096l19-7l-17-14l-19 9z" fill="#fafffa"/>
<path d="M4978 4083l20-12l-16-9l-20 11z" fill="#fefffe"/>
<path d="M5413 4078l17-11l-19-8l-17 12z" fill="#fefffe"/>
<path d="M4941 4087l21-14l-16-10l-21 13z" fill="#fefffe"/>
<path d="M5270 4020l18 5l-18-6l-17-7z" fill="#fff1f1"/>
<path d="M5324 4042l16 12l-18-6l-16-15z" fill="#fffafa"/>
<path d="M4904 4092l21-16l-16-11l-20 16z" fill="#fdfffd"/>
<path d="M4868 4098l21-17l-16-12l-21 17z" fill="#fcfffc"/>
<path d="M5377 4072l17-1l-19-6l-16-3z" fill="#fff"/>
<path d="M4831 4103l21-17l-15-13l-21 17z" fill="#fafffa"/>
<path d="M4704 4081l23-5l-15-11l-22 6z" fill="#fefffe"/>
<path d="M5157 4116l19-17l-17-13l-19 17z" fill="#f6fff6"/>
<path d="M5067 4090l20-6l-17-12l-19 8z" fill="#fdfffd"/>
<path d="M5233 4035l20-23l-18-7l-19 21z" fill="#fff0f0"/>
<path d="M4794 4104l22-14l-15-13l-22 14z" fill="#fafffa"/>
<path d="M5213 4076l20-41l-17-9l-20 38z" fill="#fffafa"/>
<path d="M5194 4112l19-36l-17-12l-20 35z" fill="#fcfffc"/>
<path d="M5031 4090l20-10l-17-10l-20 10z" fill="#fefffe"/>
<path d="M5121 4108l19-5l-17-14l-19 7z" fill="#f8fff8"/>
<path d="M4757 4100l22-9l-15-13l-22 10z" fill="#fcfffc"/>
<path d="M4994 4092l20-12l-16-9l-20 12z" fill="#fefffe"/>
<path d="M5432 4086l17-12l-19-7l-17 11z" fill="#fff"/>
<path d="M4957 4097l21-14l-16-10l-21 14z" fill="#fefffe"/>
<path d="M4920 4103l21-16l-16-11l-21 16z" fill="#fdfffd"/>
<path d="M4884 4110l20-18l-15-11l-21 17z" fill="#fbfffb"/>
<path d="M4847 4115l21-17l-16-12l-21 17z" fill="#f9fff9"/>
<path d="M5342 4055l17 7l-19-8l-16-12z" fill="#fffafa"/>
<path d="M5288 4030l18 3l-18-8l-18-5z" fill="#fff0f0"/>
<path d="M5174 4129l20-17l-18-13l-19 17z" fill="#f4fff4"/>
<path d="M4719 4091l23-3l-15-12l-23 5z" fill="#fefffe"/>
<path d="M5396 4084l17-6l-19-7l-17 1z" fill="#fff"/>
<path d="M4810 4117l21-14l-15-13l-22 14z" fill="#f9fff9"/>
<path d="M5084 4100l20-4l-17-12l-20 6z" fill="#fcfffc"/>
<path d="M5251 4046l19-26l-17-8l-20 23z" fill="#fff0f0"/>
<path d="M5211 4124l20-37l-18-11l-19 36z" fill="#fbfffb"/>
<path d="M5138 4120l19-4l-17-13l-19 5z" fill="#f7fff7"/>
<path d="M4772 4112l22-8l-15-13l-22 9z" fill="#fafffa"/>
<path d="M5231 4087l20-41l-18-11l-20 41z" fill="#fffbfb"/>
<path d="M5047 4099l20-9l-16-10l-20 10z" fill="#fefffe"/>
<path d="M5010 4101l21-11l-17-10l-20 12z" fill="#fefffe"/>
<path d="M4973 4106l21-14l-16-9l-21 14z" fill="#fefffe"/>
<path d="M4862 4127l22-17l-16-12l-21 17z" fill="#f8fff8"/>
<path d="M4899 4121l21-18l-16-11l-20 18z" fill="#fafffa"/>
<path d="M5360 4070l17 2l-18-10l-17-7z" fill="#fffafa"/>
<path d="M4936 4113l21-16l-16-10l-21 16z" fill="#fdfffd"/>
<path d="M5192 4140l19-16l-17-12l-20 17z" fill="#f3fff3"/>
<path d="M5306 4043l18-1l-18-9l-18-3z" fill="#fff1f1"/>
<path d="M4825 4128l22-13l-16-12l-21 14z" fill="#f8fff8"/>
<path d="M4734 4101l23-1l-15-12l-23 3z" fill="#fefffe"/>
<path d="M5101 4111l20-3l-17-12l-20 4z" fill="#fcfffc"/>
<path d="M5414 4099l18-13l-19-8l-17 6z" fill="#fff"/>
<path d="M5269 4057l19-27l-18-10l-19 26z" fill="#fff0f0"/>
<path d="M5155 4132l19-3l-17-13l-19 4z" fill="#f6fff6"/>
<path d="M4787 4124l23-7l-16-13l-22 8z" fill="#fafffa"/>
<path d="M5229 4135l20-36l-18-12l-20 37z" fill="#fbfffb"/>
<path d="M5249 4099l20-42l-18-11l-20 41z" fill="#fffbfb"/>
<path d="M5064 4108l20-8l-17-10l-20 9z" fill="#fefffe"/>
<path d="M5378 4089l18-5l-19-12l-17-2z" fill="#fffcfc"/>
<path d="M5027 4111l20-12l-16-9l-21 11z" fill="#fefffe"/>
<path d="M4878 4137l21-16l-15-11l-22 17z" fill="#f8fff8"/>
<path d="M5324 4058l18-3l-18-13l-18 1z" fill="#fff2f2"/>
<path d="M4915 4131l21-18l-16-10l-21 18z" fill="#fafffa"/>
<path d="M5209 4151l20-16l-18-11l-19 16z" fill="#f2fff2"/>
<path d="M4990 4116l20-15l-16-9l-21 14z" fill="#fefffe"/>
<path d="M4952 4123l21-17l-16-9l-21 16z" fill="#fdfffd"/>
<path d="M4841 4140l21-13l-15-12l-22 13z" fill="#f7fff7"/>
<path d="M4749 4112l23 0l-15-12l-23 1z" fill="#fefffe"/>
<path d="M5118 4121l20-1l-17-12l-20 3z" fill="#fcfffc"/>
<path d="M5287 4070l19-27l-18-13l-19 27z" fill="#fff1f1"/>
<path d="M5173 4143l19-3l-18-11l-19 3z" fill="#f5fff5"/>
<path d="M4803 4135l22-7l-15-11l-23 7z" fill="#f9fff9"/>
<path d="M5267 4110l20-40l-18-13l-20 42z" fill="#fffcfc"/>
<path d="M5247 4144l20-34l-18-11l-20 36z" fill="#fbfffb"/>
<path d="M5396 4111l18-12l-18-15l-18 5z" fill="#fffefe"/>
<path d="M5081 4117l20-6l-17-11l-20 8z" fill="#fefffe"/>
<path d="M5342 4077l18-7l-18-15l-18 3z" fill="#fff5f5"/>
<path d="M4894 4147l21-16l-16-10l-21 16z" fill="#f8fff8"/>
<path d="M5044 4120l20-12l-17-9l-20 12z" fill="#fff"/>
<path d="M4931 4140l21-17l-16-10l-21 18z" fill="#fbfffb"/>
<path d="M4856 4150l22-13l-16-10l-21 13z" fill="#f7fff7"/>
<path d="M5227 4160l20-16l-18-9l-20 16z" fill="#f3fff3"/>
<path d="M5006 4125l21-14l-17-10l-20 15z" fill="#fefffe"/>
<path d="M4969 4132l21-16l-17-10l-21 17z" fill="#fdfffd"/>
<path d="M4764 4122l23 2l-15-12l-23 0z" fill="#fdfffd"/>
<path d="M5305 4084l19-26l-18-15l-19 27z" fill="#fff3f3"/>
<path d="M5136 4131l19 1l-17-12l-20 1z" fill="#fbfffb"/>
<path d="M5190 4153l19-2l-17-11l-19 3z" fill="#f5fff5"/>
<path d="M4818 4146l23-6l-16-12l-22 7z" fill="#f8fff8"/>
<path d="M5360 4098l18-9l-18-19l-18 7z" fill="#fff9f9"/>
<path d="M5285 4120l20-36l-18-14l-20 40z" fill="#fffcfc"/>
<path d="M5265 4152l20-32l-18-10l-20 34z" fill="#fbfffb"/>
<path d="M5098 4127l20-6l-17-10l-20 6z" fill="#fefffe"/>
<path d="M5323 4099l19-22l-18-19l-19 26z" fill="#fff6f6"/>
<path d="M5378 4124l18-13l-18-22l-18 9z" fill="#fffdfd"/>
<path d="M4910 4156l21-16l-16-9l-21 16z" fill="#f9fff9"/>
<path d="M5061 4129l20-12l-17-9l-20 12z" fill="#fff"/>
<path d="M4779 4133l24 2l-16-11l-23-2z" fill="#fdfffd"/>
<path d="M4872 4160l22-13l-16-10l-22 13z" fill="#f7fff7"/>
<path d="M4948 4149l21-17l-17-9l-21 17z" fill="#fbfffb"/>
<path d="M5153 4142l20 1l-18-11l-19-1z" fill="#fbfffb"/>
<path d="M5023 4134l21-14l-17-9l-21 14z" fill="#fff"/>
<path d="M4985 4141l21-16l-16-9l-21 16z" fill="#fefffe"/>
<path d="M5246 4167l19-15l-18-8l-20 16z" fill="#f5fff5"/>
<path d="M5303 4130l20-31l-18-15l-20 36z" fill="#fffdfd"/>
<path d="M4834 4157l22-7l-15-10l-23 6z" fill="#f8fff8"/>
<path d="M5208 4162l19-2l-18-9l-19 2z" fill="#f5fff5"/>
<path d="M5341 4117l19-19l-18-21l-19 22z" fill="#fffafa"/>
<path d="M5283 4158l20-28l-18-10l-20 32z" fill="#fcfffc"/>
<path d="M5116 4137l20-6l-18-10l-20 6z" fill="#fff"/>
<path d="M5359 4136l19-12l-18-26l-19 19z" fill="#fffefe"/>
<path d="M4795 4144l23 2l-15-11l-24-2z" fill="#fdfffd"/>
<path d="M5078 4138l20-11l-17-10l-20 12z" fill="#fff"/>
<path d="M4926 4165l22-16l-17-9l-21 16z" fill="#fafffa"/>
<path d="M5171 4152l19 1l-17-10l-20-1z" fill="#fbfffb"/>
<path d="M4888 4169l22-13l-16-9l-22 13z" fill="#f8fff8"/>
<path d="M5322 4140l19-23l-18-18l-20 31z" fill="#fffefe"/>
<path d="M4964 4158l21-17l-16-9l-21 17z" fill="#fcfffc"/>
<path d="M5040 4143l21-14l-17-9l-21 14z" fill="#fff"/>
<path d="M5002 4150l21-16l-17-9l-21 16z" fill="#fefffe"/>
<path d="M5264 4172l19-14l-18-6l-19 15z" fill="#f7fff7"/>
<path d="M4850 4167l22-7l-16-10l-22 7z" fill="#f9fff9"/>
<path d="M5227 4171l19-4l-19-7l-19 2z" fill="#f7fff7"/>
<path d="M5302 4161l20-21l-19-10l-20 28z" fill="#fdfffd"/>
<path d="M5133 4147l20-5l-17-11l-20 6z" fill="#fff"/>
<path d="M5341 4149l18-13l-18-19l-19 23z" fill="#fff"/>
<path d="M4811 4155l23 2l-16-11l-23-2z" fill="#fdfffd"/>
<path d="M5095 4148l21-11l-18-10l-20 11z" fill="#fff"/>
<path d="M5189 4162l19 0l-18-9l-19-1z" fill="#fcfffc"/>
<path d="M4943 4174l21-16l-16-9l-22 16z" fill="#fbfffb"/>
<path d="M4905 4178l21-13l-16-9l-22 13z" fill="#f9fff9"/>
<path d="M4981 4166l21-16l-17-9l-21 17z" fill="#fdfffd"/>
<path d="M5057 4153l21-15l-17-9l-21 14z" fill="#fff"/>
<path d="M5019 4159l21-16l-17-9l-21 16z" fill="#fefffe"/>
<path d="M4866 4177l22-8l-16-9l-22 7z" fill="#f9fff9"/>
<path d="M5283 4175l19-14l-19-3l-19 14z" fill="#fbfffb"/>
<path d="M5245 4178l19-6l-18-5l-19 4z" fill="#f9fff9"/>
<path d="M5151 4157l20-5l-18-10l-20 5z" fill="#fff"/>
<path d="M5322 4163l19-14l-19-9l-20 21z" fill="#fff"/>
<path d="M4827 4166l23 1l-16-10l-23-2z" fill="#fdfffd"/>
<path d="M5113 4158l20-11l-17-10l-21 11z" fill="#fff"/>
<path d="M5207 4173l20-2l-19-9l-19 0z" fill="#fcfffc"/>
<path d="M4959 4182l22-16l-17-8l-21 16z" fill="#fcfffc"/>
<path d="M4921 4187l22-13l-17-9l-21 13z" fill="#fafffa"/>
<path d="M5075 4162l20-14l-17-10l-21 15z" fill="#fff"/>
<path d="M4998 4175l21-16l-17-9l-21 16z" fill="#fefffe"/>
<path d="M5036 4168l21-15l-17-10l-21 16z" fill="#fff"/>
<path d="M4882 4186l23-8l-17-9l-22 8z" fill="#fafffa"/>
<path d="M5169 4168l20-6l-18-10l-20 5z" fill="#fff"/>
<path d="M5264 4185l19-10l-19-3l-19 6z" fill="#fcfffc"/>
<path d="M5303 4176l19-13l-20-2l-19 14z" fill="#fefffe"/>
<path d="M4843 4177l23 0l-16-10l-23-1z" fill="#fdfffd"/>
<path d="M5131 4168l20-11l-18-10l-20 11z" fill="#fffefe"/>
<path d="M5226 4183l19-5l-18-7l-20 2z" fill="#fdfffd"/>
<path d="M5092 4172l21-14l-18-10l-20 14z" fill="#fffefe"/>
<path d="M4976 4190l22-15l-17-9l-22 16z" fill="#fdfffd"/>
<path d="M4938 4195l21-13l-16-8l-22 13z" fill="#fbfffb"/>
<path d="M5015 4184l21-16l-17-9l-21 16z" fill="#fefffe"/>
<path d="M5054 4177l21-15l-18-9l-21 15z" fill="#fff"/>
<path d="M4899 4196l22-9l-16-9l-23 8z" fill="#fbfffb"/>
<path d="M5187 4180l20-7l-18-11l-20 6z" fill="#fff"/>
<path d="M4859 4188l23-2l-16-9l-23 0z" fill="#fefffe"/>
<path d="M5149 4179l20-11l-18-11l-20 11z" fill="#fffefe"/>
<path d="M5283 4189l20-13l-20-1l-19 10z" fill="#fefffe"/>
<path d="M5244 4193l20-8l-19-7l-19 5z" fill="#fefffe"/>
<path d="M5110 4182l21-14l-18-10l-21 14z" fill="#fffefe"/>
<path d="M5071 4187l21-15l-17-10l-21 15z" fill="#fff"/>
<path d="M4993 4199l22-15l-17-9l-22 15z" fill="#fefffe"/>
<path d="M5032 4192l22-15l-18-9l-21 16z" fill="#fff"/>
<path d="M4954 4204l22-14l-17-8l-21 13z" fill="#fcfffc"/>
<path d="M4915 4206l23-11l-17-8l-22 9z" fill="#fcfffc"/>
<path d="M5206 4191l20-8l-19-10l-20 7z" fill="#fff"/>
<path d="M4876 4200l23-4l-17-10l-23 2z" fill="#fefffe"/>
<path d="M5167 4191l20-11l-18-12l-20 11z" fill="#fffefe"/>
<path d="M5128 4193l21-14l-18-11l-21 14z" fill="#fffefe"/>
<path d="M5089 4197l21-15l-18-10l-21 15z" fill="#fffefe"/>
<path d="M5263 4203l20-14l-19-4l-20 8z" fill="#fff"/>
<path d="M5050 4202l21-15l-17-10l-22 15z" fill="#fff"/>
<path d="M5011 4207l21-15l-17-8l-22 15z" fill="#fefffe"/>
<path d="M4972 4213l21-14l-17-9l-22 14z" fill="#fdfffd"/>
<path d="M4932 4215l22-11l-16-9l-23 11z" fill="#fdfffd"/>
<path d="M5225 4204l19-11l-18-10l-20 8z" fill="#fff"/>
<path d="M4893 4211l22-5l-16-10l-23 4z" fill="#fefffe"/>
<path d="M5186 4204l20-13l-19-11l-20 11z" fill="#fffefe"/>
<path d="M5146 4205l21-14l-18-12l-21 14z" fill="#fffefe"/>
<path d="M5107 4208l21-15l-18-11l-21 15z" fill="#fffefe"/>
<path d="M5068 4212l21-15l-18-10l-21 15z" fill="#fff"/>
<path d="M5028 4217l22-15l-18-10l-21 15z" fill="#fff"/>
<path d="M4989 4222l22-15l-18-8l-21 14z" fill="#fefffe"/>
<path d="M5243 4217l20-14l-19-10l-19 11z" fill="#fff"/>
<path d="M4949 4225l23-12l-18-9l-22 11z" fill="#fefffe"/>
<path d="M5204 4217l21-13l-19-13l-20 13z" fill="#fff"/>
<path d="M4909 4223l23-8l-17-9l-22 5z" fill="#fefffe"/>
<path d="M5165 4218l21-14l-19-13l-21 14z" fill="#fffefe"/>
<path d="M5125 4219l21-14l-18-12l-21 15z" fill="#fffefe"/>
<path d="M5086 4222l21-14l-18-11l-21 15z" fill="#fffefe"/>
<path d="M5046 4226l22-14l-18-10l-22 15z" fill="#fff"/>
<path d="M5006 4231l22-14l-17-10l-22 15z" fill="#fff"/>
<path d="M4967 4235l22-13l-17-9l-23 12z" fill="#fefffe"/>
<path d="M5223 4231l20-14l-18-13l-21 13z" fill="#fff"/>
<path d="M4927 4235l22-10l-17-10l-23 8z" fill="#fff"/>
<path d="M5184 4231l20-14l-18-13l-21 14z" fill="#fffefe"/>
<path d="M5144 4232l21-14l-19-13l-21 14z" fill="#fffefe"/>
<path d="M5104 4234l21-15l-18-11l-21 14z" fill="#fffefe"/>
<path d="M5064 4237l22-15l-18-10l-22 14z" fill="#fff"/>
<path d="M5024 4241l22-15l-18-9l-22 14z" fill="#fff"/>
<path d="M4984 4246l22-15l-17-9l-22 13z" fill="#fff"/>
<path d="M5202 4245l21-14l-19-14l-20 14z" fill="#fff"/>
<path d="M4944 4247l23-12l-18-10l-22 10z" fill="#fff"/>
<path d="M5163 4245l21-14l-19-13l-21 14z" fill="#fffefe"/>
<path d="M5123 4246l21-14l-19-13l-21 15z" fill="#fffefe"/>
<path d="M5082 4248l22-14l-18-12l-22 15z" fill="#fffefe"/>
<path d="M5042 4252l22-15l-18-11l-22 15z" fill="#fff"/>
<path d="M5002 4256l22-15l-18-10l-22 15z" fill="#fff"/>
<path d="M4962 4259l22-13l-17-11l-23 12z" fill="#fff"/>
<path d="M5182 4260l20-15l-18-14l-21 14z" fill="#fff"/>
<path d="M5141 4260l22-15l-19-13l-21 14z" fill="#fffefe"/>
<path d="M5101 4261l22-15l-19-12l-22 14z" fill="#fffefe"/>
<path d="M5061 4264l21-16l-18-11l-22 15z" fill="#fffefe"/>
<path d="M5020 4268l22-16l-18-11l-22 15z" fill="#fff"/>
<path d="M4979 4272l23-16l-18-10l-22 13z" fill="#fff"/>
<path d="M5160 4275l22-15l-19-15l-22 15z" fill="#fff"/>
<path d="M5120 4274l21-14l-18-14l-22 15z" fill="#fffefe"/>
<path d="M5079 4276l22-15l-19-13l-21 16z" fill="#fffefe"/>
<path d="M5038 4280l23-16l-19-12l-22 16z" fill="#fff"/>
<path d="M4997 4284l23-16l-18-12l-23 16z" fill="#fff"/>
<path d="M5139 4290l21-15l-19-15l-21 14z" fill="#fff"/>
<path d="M5098 4290l22-16l-19-13l-22 15z" fill="#fff"/>
<path d="M5057 4292l22-16l-18-12l-23 16z" fill="#fff"/>
<path d="M5016 4297l22-17l-18-12l-23 16z" fill="#fff"/>
<path d="M5117 4305l22-15l-19-16l-22 16z" fill="#fff"/>
<path d="M5076 4306l22-16l-19-14l-22 16z" fill="#fff"/>
<path d="M5034 4310l23-18l-19-12l-22 17z" fill="#fff"/>
<path d="M5095 4320l22-15l-19-15l-22 16z" fill="#fff"/>
<path d="M5053 4323l23-17l-19-14l-23 18z" fill="#fff"/>
<path d="M5072 4336l23-16l-19-14l-23 17z" fill="#fff"/>
</g>
<text x="413.6" y="352.2" font-size="7.5" text-anchor="middle" dominant-baseline="central" fill="#000" transform="rotate(-22 413.6 352.2)">40</text>
<text x="417.9" y="371.3" font-size="7.5" text-anchor="middle" dominant-baseline="central" fill="#000" transform="rotate(-22 417.9 371.3)">20</text>
<text x="420.8" y="390.8" font-size="7.5" text-anchor="middle" dominant-baseline="central" fill="#000" transform="rotate(-22 420.8 390.8)">0</text>
<text x="426.0" y="407.0" font-size="7.5" text-anchor="middle" dominant-baseline="central" fill="#000" transform="rotate(-22 426.0 407.0)">−20</text>
<text x="429.1" y="421.4" font-size="7.5" text-anchor="middle" dominant-baseline="central" fill="#000" transform="rotate(-22 429.1 421.4)">−40</text>
<text x="432.7" y="430.2" font-size="7.5" text-anchor="middle" dominant-baseline="central" fill="#000" transform="rotate(-33 432.7 430.2)">20</text>
<text x="440.3" y="438.5" font-size="7.5" text-anchor="middle" dominant-baseline="central" fill="#000" transform="rotate(-33 440.3 438.5)">10</text>
<text x="449.4" y="447.1" font-size="7.5" text-anchor="middle" dominant-baseline="central" fill="#000" transform="rotate(-33 449.4 447.1)">5</text>
<text x="459.4" y="457.8" font-size="7.5" text-anchor="middle" dominant-baseline="central" fill="#000" transform="rotate(-33 459.4 457.8)">2.5</text>
<text x="469.7" y="466.0" font-size="7.5" text-anchor="middle" dominant-baseline="central" fill="#000" transform="rotate(-33 469.7 466.0)">1.25</text>
<text x="481.6" y="475.5" font-size="7.5" text-anchor="middle" dominant-baseline="central" fill="#000" transform="rotate(-33 481.6 475.5)">0.625</text>
<text x="493.5" y="486.2" font-size="7.5" text-anchor="middle" dominant-baseline="central" fill="#000" transform="rotate(-33 493.5 486.2)">0</text>
<text x="520.5" y="486.7" font-size="7.5" text-anchor="middle" dominant-baseline="central" fill="#000" transform="rotate(38 520.5 486.7)">0</text>
<text x="526.4" y="481.8" font-size="7.5" text-anchor="middle" dominant-baseline="central" fill="#000" transform="rotate(38 526.4 481.8)">2.4</text>
<text x="532.0" y="477.0" font-size="7.5" text-anchor="middle" dominant-baseline="central" fill="#000" transform="rotate(38 532.0 477.0)">4.7</text>
<text x="537.4" y="472.5" font-size="7.5" text-anchor="middle" dominant-baseline="central" fill="#000" transform="rotate(38 537.4 472.5)">9.4</text>
<text x="542.6" y="468.1" font-size="7.5" text-anchor="middle" dominant-baseline="central" fill="#000" transform="rotate(38 542.6 468.1)">10</text>
<text x="547.7" y="463.9" font-size="7.5" text-anchor="middle" dominant-baseline="central" fill="#000" transform="rotate(38 547.7 463.9)">18.8</text>
<text x="552.5" y="459.8" font-size="7.5" text-anchor="middle" dominant-baseline="central" fill="#000" transform="rotate(38 552.5 459.8)">20</text>
<text x="557.2" y="455.8" font-size="7.5" text-anchor="middle" dominant-baseline="central" fill="#000" transform="rotate(38 557.2 455.8)">37.5</text>
<text x="561.7" y="452.0" font-size="7.5" text-anchor="middle" dominant-baseline="central" fill="#000" transform="rotate(38 561.7 452.0)">40</text>
<text x="566.0" y="448.4" font-size="7.5" text-anchor="middle" dominant-baseline="central" fill="#000" transform="rotate(38 566.0 448.4)">75</text>
<text x="570.2" y="444.8" font-size="7.5" text-anchor="middle" dominant-baseline="central" fill="#000" transform="rotate(38 570.2 444.8)">80</text>
<text x="574.3" y="441.4" font-size="7.5" text-anchor="middle" dominant-baseline="central" fill="#000" transform="rotate(38 574.3 441.4)">150</text>
<text x="578.2" y="438.1" font-size="7.5" text-anchor="middle" dominant-baseline="central" fill="#000" transform="rotate(38 578.2 438.1)">160</text>
<text x="582.0" y="434.9" font-size="7.5" text-anchor="middle" dominant-baseline="central" fill="#000" transform="rotate(38 582.0 434.9)">300</text>
<text x="585.7" y="431.8" font-size="7.5" text-anchor="middle" dominant-baseline="central" fill="#000" transform="rotate(38 585.7 431.8)">320</text>
<text x="398.8" y="400.5" font-size="7.4" text-anchor="middle" dominant-baseline="central" fill="#000" transform="rotate(73 398.8 400.5)">Synergy Score</text>
<text x="438.7" y="469.7" font-size="7.6" text-anchor="middle" dominant-baseline="central" fill="#000" transform="rotate(46 438.7 469.7)">UNC1999 (µM)</text>
<text x="576.2" y="469.6" font-size="7.75" text-anchor="middle" dominant-baseline="central" fill="#000" transform="rotate(-44.4 576.2 469.6)">Vismodegib (µM)</text>
</g>
<g id="sC">
<path d="M453.9 670.0L439.7 590.4M514.9 721.4L453.9 670.0M459.1 667.1L446.4 588.4M520.4 716.7L459.1 667.1M464.2 664.4L452.9 586.6M525.7 712.3L464.2 664.4M469.1 661.8L459.1 584.8M530.7 708.0L469.1 661.8M473.9 659.2L465.1 583.1M535.6 703.9L473.9 659.2M478.5 656.7L470.8 581.4M540.3 700.0L478.5 656.7M483.0 654.3L476.4 579.8M544.8 696.1L483.0 654.3M487.4 651.9L481.8 578.2M549.2 692.5L487.4 651.9M491.7 649.6L487.0 576.7M553.4 688.9L491.7 649.6M495.8 647.4L492.0 575.3M557.5 685.5L495.8 647.4M499.8 645.3L496.9 573.9M561.4 682.2L499.8 645.3M503.8 643.2L501.6 572.5M565.2 679.0L503.8 643.2M507.6 641.1L506.2 571.2M568.9 675.9L507.6 641.1M511.3 639.1L510.6 569.9M572.5 672.9L511.3 639.1M514.9 637.2L514.9 568.7M575.9 670.0L514.9 637.2M575.9 670.0L590.1 590.4M514.9 721.4L575.9 670.0M564.0 663.5L574.8 586.0M502.4 710.9L564.0 663.5M552.8 657.5L560.9 581.9M491.0 701.3L552.8 657.5M542.4 651.9L548.0 578.2M480.6 692.5L542.4 651.9M532.6 646.7L536.1 574.8M471.0 684.4L532.6 646.7M523.5 641.8L525.1 571.6M462.1 676.9L523.5 641.8M514.9 637.2L514.9 568.7M453.9 670.0L514.9 637.2M453.2 666.4L514.9 634.0M514.9 634.0L576.6 666.4M451.4 656.0L514.9 624.7M514.9 624.7L578.4 656.0M449.4 644.9L514.9 615.0M514.9 615.0L580.4 644.9M447.3 633.1L514.9 604.7M514.9 604.7L582.5 633.1M445.1 620.5L514.9 593.9M514.9 593.9L584.7 620.5M442.7 607.0L514.9 582.6M514.9 582.6L587.1 607.0M440.1 592.6L514.9 570.5M514.9 570.5L589.7 592.6" stroke="#cccccc" stroke-width="0.65" fill="none"/>
<path d="M447.3 633.1L514.9 604.7M514.9 604.7L582.5 633.1" stroke="#555" stroke-width=".6" stroke-dasharray="2.4 1" fill="none"/>
<path d="M453.9 670.0L439.7 590.4" stroke="#333" stroke-width=".75" stroke-dasharray="2.2 .9" fill="none"/>
<path d="M453.9 670.0L514.9 721.4" stroke="#444" stroke-width=".7" fill="none"/>
<path d="M453.2 666.4l-2.3 0.8M451.4 656.0l-2.3 0.8M449.4 644.9l-2.3 0.8M447.3 633.1l-2.3 0.8M445.1 620.5l-2.3 0.8M442.7 607.0l-2.3 0.8M440.1 592.6l-2.3 0.8M514.9 721.4l-1.6 1.7M502.4 710.9l-1.6 1.7M491.0 701.3l-1.6 1.7M480.6 692.5l-1.6 1.7M471.0 684.4l-1.6 1.7M462.1 676.9l-1.6 1.7M453.9 670.0l-1.6 1.7" stroke="#444" stroke-width=".7" fill="none"/>
<g transform="scale(.1)" stroke="#000" stroke-width="4.8" stroke-linejoin="round">
<path d="M5148 5883l16 42l-15-40l-16-27z" fill="#f00"/>
<path d="M5163 5900l16 51l-15-26l-16-42z" fill="#ff2929"/>
<path d="M5179 5907l15 57l-15-13l-16-51z" fill="#ff3c3c"/>
<path d="M5194 5906l15 60l-15-2l-15-57z" fill="#ff3c3c"/>
<path d="M5132 5843l16 40l-15-25l-16-31z" fill="#f00"/>
<path d="M5210 5898l14 63l-15 5l-15-60z" fill="#ff2b2b"/>
<path d="M5147 5854l16 46l-15-17l-16-40z" fill="#f00"/>
<path d="M5163 5857l16 50l-16-7l-16-46z" fill="#f00"/>
<path d="M5226 5888l14 62l-16 11l-14-63z" fill="#ff1010"/>
<path d="M5115 5823l17 20l-15-16l-17-14z" fill="#f00"/>
<path d="M5178 5852l16 54l-15 1l-16-50z" fill="#f00"/>
<path d="M5131 5829l16 25l-15-11l-17-20z" fill="#f00"/>
<path d="M5242 5881l15 57l-17 12l-14-62z" fill="#f00"/>
<path d="M5099 5835l16-12l-15-10l-16 14z" fill="#f00"/>
<path d="M5195 5841l15 57l-16 8l-16-54z" fill="#f00"/>
<path d="M5146 5830l17 27l-16-3l-16-25z" fill="#f00"/>
<path d="M5114 5842l17-13l-16-6l-16 12z" fill="#f00"/>
<path d="M5259 5880l14 47l-16 11l-15-57z" fill="#f00"/>
<path d="M5081 5809l18 26l-15-8l-18-33z" fill="#f00"/>
<path d="M5162 5822l16 30l-15 5l-17-27z" fill="#f00"/>
<path d="M5211 5830l15 58l-16 10l-15-57z" fill="#f00"/>
<path d="M5130 5843l16-13l-15-1l-17 13z" fill="#f00"/>
<path d="M4982 6003l17-16l-15-13l-17 26z" fill="#ff4e4e"/>
<path d="M4999 5987l16-43l-16-27l-15 57z" fill="#ff1818"/>
<path d="M5097 5819l17 23l-15-7l-18-26z" fill="#f00"/>
<path d="M5276 5882l14 37l-17 8l-14-47z" fill="#f00"/>
<path d="M5447 6265l18-50l-16-24l-18 46z" fill="#c6ffc6" stroke-width="2.6"/>
<path d="M5014 5996l17-33l-16-19l-16 43z" fill="#ff2c2c"/>
<path d="M5431 6237l18-46l-16-34l-17 40z" fill="#ecffec"/>
<path d="M4997 6006l17-10l-15-9l-17 16z" fill="#ff4f4f"/>
<path d="M5065 5828l16-19l-15-15l-17 7z" fill="#f00"/>
<path d="M5433 6264l14 1l-16-28l-14-1z" fill="#a6ffa6" stroke-width="2.6"/>
<path d="M5464 6283l18-52l-17-16l-18 50z" fill="#afa" stroke-width="2.6"/>
<path d="M5178 5810l17 31l-17 11l-16-30z" fill="#f00"/>
<path d="M5145 5836l17-14l-16 8l-16 13z" fill="#f00"/>
<path d="M4963 5988l19 15l-15-3l-18-12z" fill="#ff4949"/>
<path d="M5113 5821l17 22l-16-1l-17-23z" fill="#f00"/>
<path d="M5417 6236l14 1l-15-40l-14-1z" fill="#d9ffd9"/>
<path d="M5227 5824l15 57l-16 7l-15-58z" fill="#f00"/>
<path d="M5416 6197l17-40l-15-41l-17 32z" fill="#fff8f8"/>
<path d="M5450 6281l14 2l-17-18l-14-1z" fill="#83ff83" stroke-width="2.6"/>
<path d="M5029 6000l17-28l-15-9l-17 33z" fill="#f33"/>
<path d="M5080 5846l17-27l-16-10l-16 19z" fill="#f00"/>
<path d="M5015 5944l15-82l-16-43l-15 98z" fill="#f00"/>
<path d="M5031 5963l15-72l-16-29l-15 82z" fill="#f00"/>
<path d="M5292 5886l15 28l-17 5l-14-37z" fill="#f00"/>
<path d="M5481 6293l19-53l-18-9l-18 52z" fill="#9dff9d" stroke-width="2.6"/>
<path d="M5402 6196l14 1l-15-49l-14-3z" fill="#fffefe"/>
<path d="M5401 6148l17-32l-15-45l-16 24z" fill="#fcc"/>
<path d="M5011 6008l18-8l-15-4l-17 10z" fill="#ff4b4b"/>
<path d="M5047 5834l18-6l-16-27l-18-6z" fill="#f00"/>
<path d="M5467 6290l14 3l-17-10l-14-2z" fill="#75ff75" stroke-width="2.6"/>
<path d="M5063 5861l17-15l-15-18l-18 6z" fill="#f00"/>
<path d="M5046 5972l16-68l-16-13l-15 72z" fill="#f00"/>
<path d="M4978 5991l19 15l-15-3l-19-15z" fill="#ff4141"/>
<path d="M5096 5854l17-33l-16-2l-17 27z" fill="#f00"/>
<path d="M5128 5814l17 22l-15 7l-17-22z" fill="#f00"/>
<path d="M5244 5827l15 53l-17 1l-15-57z" fill="#f00"/>
<path d="M5046 5891l17-30l-16-27l-17 28z" fill="#f00"/>
<path d="M5044 5999l17-27l-15 0l-17 28z" fill="#ff2d2d"/>
<path d="M5079 5873l17-19l-16-8l-17 15z" fill="#f00"/>
<path d="M5161 5824l17-14l-16 12l-17 14z" fill="#f00"/>
<path d="M5195 5798l16 32l-16 11l-17-31z" fill="#f00"/>
<path d="M5030 5862l17-28l-16-39l-17 24z" fill="#f00"/>
<path d="M5387 6095l16-24l-15-47l-16 18z" fill="#ff8d8d"/>
<path d="M5387 6145l14 3l-14-53l-15-6z" fill="#ffd2d2"/>
<path d="M5499 6296l19-51l-18-5l-19 53z" fill="#9fff9f" stroke-width="2.6"/>
<path d="M5309 5893l15 18l-17 3l-15-28z" fill="#f00"/>
<path d="M5062 5904l17-31l-16-12l-17 30z" fill="#f00"/>
<path d="M4944 5975l19 13l-14 0l-20-16z" fill="#f22"/>
<path d="M5420 6235l13 29l-16-28l-13-27z" fill="#d3ffd3"/>
<path d="M5486 6293l13 3l-18-3l-14-3z" fill="#7aff7a" stroke-width="2.6"/>
<path d="M5404 6209l13 27l-15-40l-14-25z" fill="#f6fff6"/>
<path d="M5026 6008l18-9l-15 1l-18 8z" fill="#ff4242"/>
<path d="M5061 5972l16-68l-15 0l-16 68z" fill="#f00"/>
<path d="M4993 5993l18 15l-14-2l-19-15z" fill="#ff3a3a"/>
<path d="M5437 6250l13 31l-17-17l-13-29z" fill="#b9ffb9" stroke-width="2.6"/>
<path d="M5111 5851l17-37l-15 7l-17 33z" fill="#f00"/>
<path d="M5372 6042l16-18l-15-45l-16 10z" fill="#ff4646"/>
<path d="M5261 5834l15 48l-17-2l-15-53z" fill="#f00"/>
<path d="M5094 5872l17-21l-15 3l-17 19z" fill="#f00"/>
<path d="M5388 6171l14 25l-15-51l-14-22z" fill="#fee"/>
<path d="M5372 6089l15 6l-15-53l-14-11z" fill="#ff8c8c"/>
<path d="M4927 6016l17-41l-15-3l-16 36z" fill="#ff2c2c"/>
<path d="M4910 6042l17-26l-14-8l-18 22z" fill="#ff5858"/>
<path d="M5326 5910l15 9l-17-8l-15-18z" fill="#f00"/>
<path d="M5077 5904l17-32l-15 1l-17 31z" fill="#f00"/>
<path d="M5059 5994l17-29l-15 7l-17 27z" fill="#ff1c1c"/>
<path d="M5518 6296l19-48l-19-3l-19 51z" fill="#abffab" stroke-width="2.6"/>
<path d="M5144 5800l17 24l-16 12l-17-22z" fill="#f00"/>
<path d="M5357 5989l16-10l-15-38l-16 1z" fill="#f00"/>
<path d="M4959 5979l19 12l-15-3l-19-13z" fill="#ff1b1b"/>
<path d="M5211 5793l16 31l-16 6l-16-32z" fill="#f00"/>
<path d="M5456 6257l11 33l-17-9l-13-31z" fill="#b0ffb0" stroke-width="2.6"/>
<path d="M5178 5813l17-15l-17 12l-17 14z" fill="#f00"/>
<path d="M5342 5942l16-1l-17-22l-15-9z" fill="#f00"/>
<path d="M5505 6292l13 4l-19 0l-13-3z" fill="#8bff8b" stroke-width="2.6"/>
<path d="M5042 6006l17-12l-15 5l-18 9z" fill="#ff3232"/>
<path d="M5008 5994l18 14l-15 0l-18-15z" fill="#ff3030"/>
<path d="M5278 5842l14 44l-16-4l-15-48z" fill="#f00"/>
<path d="M5076 5965l17-71l-16 10l-16 68z" fill="#f00"/>
<path d="M5373 6123l14 22l-15-56l-14-21z" fill="#ffb6b6"/>
<path d="M4891 6041l19 1l-15-12l-19 1z" fill="#ff6060"/>
<path d="M4925 6050l17-27l-15-7l-17 26z" fill="#ff5c5c"/>
<path d="M4942 6023l17-44l-15-4l-17 41z" fill="#ff2b2b"/>
<path d="M5358 6031l14 11l-15-53l-14-18z" fill="#ff3939"/>
<path d="M5127 5838l17-38l-16 14l-17 37z" fill="#f00"/>
<path d="M5110 5861l17-23l-16 13l-17 21z" fill="#f00"/>
<path d="M4974 5982l19 11l-15-2l-19-12z" fill="#ff1515"/>
<path d="M5538 6294l18-44l-19-2l-19 48z" fill="#baffba" stroke-width="2.6"/>
<path d="M5474 6260l12 33l-19-3l-11-33z" fill="#b6ffb6" stroke-width="2.6"/>
<path d="M5093 5894l17-33l-16 11l-17 32z" fill="#f00"/>
<path d="M5228 5798l16 29l-17-3l-16-31z" fill="#f00"/>
<path d="M5075 5988l17-32l-16 9l-17 29z" fill="#ff0404"/>
<path d="M5295 5854l14 39l-17-7l-14-44z" fill="#f00"/>
<path d="M4906 6047l19 3l-15-8l-19-1z" fill="#ff6464"/>
<path d="M5358 6068l14 21l-14-58l-15-21z" fill="#ff6969"/>
<path d="M5161 5786l17 27l-17 11l-17-24z" fill="#f00"/>
<path d="M5343 5971l14 18l-15-47l-15-25z" fill="#f00"/>
<path d="M5391 6176l13 33l-16-38l-13-30z" fill="#fee"/>
<path d="M5408 6200l12 35l-16-26l-13-33z" fill="#fff"/>
<path d="M4940 6054l17-26l-15-5l-17 27z" fill="#ff5a5a"/>
<path d="M5194 5810l17-17l-16 5l-17 15z" fill="#f00"/>
<path d="M5524 6289l14 5l-20 2l-13-4z" fill="#a1ffa1" stroke-width="2.6"/>
<path d="M5023 5994l19 12l-16 2l-18-14z" fill="#ff2424"/>
<path d="M5057 6005l18-17l-16 6l-17 12z" fill="#ff2121"/>
<path d="M4957 6028l17-46l-15-3l-17 44z" fill="#ff2727"/>
<path d="M5311 5877l15 33l-17-17l-14-39z" fill="#f00"/>
<path d="M5375 6141l13 30l-15-48l-14-25z" fill="#ffc6c6"/>
<path d="M5425 6214l12 36l-17-15l-12-35z" fill="#f8fff8"/>
<path d="M5092 5956l17-77l-16 15l-17 71z" fill="#f00"/>
<path d="M5327 5917l15 25l-16-32l-15-33z" fill="#f00"/>
<path d="M5245 5807l16 27l-17-7l-16-29z" fill="#f00"/>
<path d="M4989 5983l19 11l-15-1l-19-11z" fill="#ff0c0c"/>
<path d="M4870 6014l21 27l-15-10l-21-21z" fill="#ff3f3f"/>
<path d="M5493 6259l12 33l-19 1l-12-33z" fill="#c4ffc4" stroke-width="2.6"/>
<path d="M5557 6292l18-39l-19-3l-18 44z" fill="#c9ffc9" stroke-width="2.6"/>
<path d="M4920 6049l20 5l-15-4l-19-3z" fill="#ff6161"/>
<path d="M5144 5824l17-38l-17 14l-17 38z" fill="#f00"/>
<path d="M5343 6010l15 21l-15-60l-15-21z" fill="#ff0c0c"/>
<path d="M5126 5845l18-21l-17 14l-17 23z" fill="#f00"/>
<path d="M5359 6098l14 25l-15-55l-15-17z" fill="#ff8b8b"/>
<path d="M4955 6054l17-25l-15-1l-17 26z" fill="#ff5252"/>
<path d="M5091 5986l17-37l-16 7l-17 32z" fill="#f00"/>
<path d="M5211 5815l17-17l-17-5l-17 17z" fill="#f00"/>
<path d="M4972 6029l17-46l-15-1l-17 46z" fill="#ff2020"/>
<path d="M5109 5879l17-34l-16 16l-17 33z" fill="#f00"/>
<path d="M5039 5997l18 8l-15 1l-19-12z" fill="#ff1818"/>
<path d="M5444 6220l12 37l-19-7l-12-36z" fill="#f5fff5"/>
<path d="M5073 6009l18-23l-16 2l-18 17z" fill="#ff1313"/>
<path d="M5544 6288l13 4l-19 2l-14-5z" fill="#b7ffb7" stroke-width="2.6"/>
<path d="M5262 5818l16 24l-17-8l-16-27z" fill="#f00"/>
<path d="M5178 5779l16 31l-16 3l-17-27z" fill="#f00"/>
<path d="M4884 6018l22 29l-15-6l-21-27z" fill="#ff3e3e"/>
<path d="M5004 5983l19 11l-15 0l-19-11z" fill="#ff0101"/>
<path d="M5343 6051l15 17l-15-58l-15-10z" fill="#ff3f3f"/>
<path d="M4935 6048l20 6l-15 0l-20-5z" fill="#ff5757"/>
<path d="M5228 5825l17-18l-17-9l-17 17z" fill="#f00"/>
<path d="M5577 6291l18-32l-20-6l-18 39z" fill="#d5ffd5"/>
<path d="M5108 5949l17-83l-16 13l-17 77z" fill="#f00"/>
<path d="M5328 5950l15 21l-16-54l-15-22z" fill="#f00"/>
<path d="M5513 6258l11 31l-19 3l-12-33z" fill="#d5ffd5"/>
<path d="M5279 5831l16 23l-17-12l-16-24z" fill="#f00"/>
<path d="M5376 6162l15 14l-16-35l-15-17z" fill="#ffcaca"/>
<path d="M5393 6185l15 15l-17-24l-15-14z" fill="#ffe4e4"/>
<path d="M5055 6004l18 5l-16-4l-18-8z" fill="#ff1212"/>
<path d="M4969 6050l18-22l-15 1l-17 25z" fill="#ff4545"/>
<path d="M5463 6222l11 38l-18-3l-12-37z" fill="#f9fff9"/>
<path d="M4987 6028l17-45l-15 0l-17 46z" fill="#ff1414"/>
<path d="M5107 5987l17-40l-16 2l-17 37z" fill="#f00"/>
<path d="M5089 6017l18-30l-16-1l-18 23z" fill="#ff0b0b"/>
<path d="M5160 5816l18-37l-17 7l-17 38z" fill="#f00"/>
<path d="M5360 6124l15 17l-16-43l-15-20z" fill="#ff9b9b"/>
<path d="M5194 5781l17 34l-17-5l-16-31z" fill="#f00"/>
<path d="M5312 5895l15 22l-16-40l-15-23z" fill="#f00"/>
<path d="M5143 5834l17-18l-16 8l-18 21z" fill="#f00"/>
<path d="M5296 5854l15 23l-16-23l-16-23z" fill="#f00"/>
<path d="M4899 6020l21 29l-14-2l-22-29z" fill="#ff3838"/>
<path d="M5564 6288l13 3l-20 1l-13-4z" fill="#c9ffc9" stroke-width="2.6"/>
<path d="M5411 6199l14 15l-17-14l-15-15z" fill="#ffefef"/>
<path d="M5245 5834l17-16l-17-11l-17 18z" fill="#f00"/>
<path d="M4798 6198l18-29l-17-34l-18 27z" fill="#ffd4d4"/>
<path d="M5328 6000l15 10l-15-60l-16-3z" fill="#f00"/>
<path d="M5125 5866l18-32l-17 11l-17 34z" fill="#f00"/>
<path d="M5020 5985l19 12l-16-3l-19-11z" fill="#f00"/>
<path d="M4814 6219l18-30l-16-20l-18 29z" fill="#ffeaea"/>
<path d="M4848 5983l22 31l-15-4l-22-31z" fill="#f00"/>
<path d="M4816 6169l15-59l-16-26l-16 51z" fill="#ffa6a6"/>
<path d="M5598 6291l16-25l-19-7l-18 32z" fill="#deffde"/>
<path d="M5344 6078l15 20l-16-47l-15-25z" fill="#ff5b5b"/>
<path d="M5071 6016l18 1l-16-8l-18-5z" fill="#ff1414"/>
<path d="M5341 6287l17-32l-17-32l-17 32z" fill="#f3fff3"/>
<path d="M4950 6043l19 7l-14 4l-20-6z" fill="#ff4747"/>
<path d="M4781 6162l18-27l-18-54l-18 28z" fill="#ffa2a2"/>
<path d="M4778 6207l20-9l-17-36l-19 14z" fill="#ffe1e1"/>
<path d="M4799 6135l16-51l-17-39l-17 36z" fill="#ff7676"/>
<path d="M5106 6027l17-36l-16-4l-18 30z" fill="#ff0909"/>
<path d="M4832 6189l15-63l-16-16l-15 59z" fill="#ffbebe"/>
<path d="M5376 6210l17-25l-17-23l-17 21z" fill="#ffe0e0"/>
<path d="M5358 6255l18-45l-17-27l-18 40z" fill="#fff8f8"/>
<path d="M5533 6260l11 28l-20 1l-11-31z" fill="#e3ffe3"/>
<path d="M5359 6183l17-21l-16-38l-17 19z" fill="#ffc2c2"/>
<path d="M5124 5947l18-89l-17 8l-17 83z" fill="#f00"/>
<path d="M5358 6309l17-34l-17-20l-17 32z" fill="#dbffdb"/>
<path d="M5211 5788l17 37l-17-10l-17-34z" fill="#f00"/>
<path d="M4794 6224l20-5l-16-21l-20 9z" fill="#fff4f4"/>
<path d="M5262 5844l17-13l-17-13l-17 16z" fill="#f00"/>
<path d="M5123 5991l18-44l-17 0l-17 40z" fill="#f00"/>
<path d="M5003 6028l17-43l-16-2l-17 45z" fill="#ff0808"/>
<path d="M5324 6255l17-32l-15-45l-18 31z" fill="#fff6f6"/>
<path d="M5482 6222l11 37l-19 1l-11-38z" fill="#fefffe"/>
<path d="M4828 6227l18-29l-14-9l-18 30z" fill="#fff1f1"/>
<path d="M5341 6223l18-40l-16-40l-17 35z" fill="#ffdcdc"/>
<path d="M4985 6046l18-18l-16 0l-18 22z" fill="#ff3535"/>
<path d="M5430 6205l14 15l-19-6l-14-15z" fill="#fff1f1"/>
<path d="M5312 5947l16 3l-16-55l-16 3z" fill="#f00"/>
<path d="M4762 6176l19-14l-18-53l-20 18z" fill="#ffb6b6"/>
<path d="M5375 6275l19-49l-18-16l-18 45z" fill="#fefffe"/>
<path d="M5177 5815l17-34l-16-2l-18 37z" fill="#f00"/>
<path d="M4815 6084l16-54l-16-19l-17 34z" fill="#ff3939"/>
<path d="M5324 6292l17-5l-17-32l-16 8z" fill="#e7ffe7"/>
<path d="M5394 6226l17-27l-18-14l-17 25z" fill="#ffeded"/>
<path d="M5343 6143l17-19l-16-46l-17 16z" fill="#ff8e8e"/>
<path d="M4914 6019l21 29l-15 1l-21-29z" fill="#ff2d2d"/>
<path d="M5036 5992l19 12l-16-7l-19-12z" fill="#f00"/>
<path d="M5328 6026l15 25l-15-51l-15-31z" fill="#ff0d0d"/>
<path d="M5584 6289l14 2l-21 0l-13-3z" fill="#d7ffd7"/>
<path d="M5088 6031l18-4l-17-10l-18-1z" fill="#ff1c1c"/>
<path d="M4863 5988l21 30l-14-4l-22-31z" fill="#f00"/>
<path d="M5159 5828l18-13l-17 1l-17 18z" fill="#f00"/>
<path d="M5308 6263l16-8l-16-46l-17 15z" fill="#fff"/>
<path d="M4831 6110l15-66l-15-14l-16 54z" fill="#ff5858"/>
<path d="M5342 6312l16-3l-17-22l-17 5z" fill="#cbffcb" stroke-width="2.6"/>
<path d="M5279 5863l17-9l-17-23l-17 13z" fill="#f00"/>
<path d="M5376 6321l17-35l-18-11l-17 34z" fill="#ceffce" stroke-width="2.6"/>
<path d="M4831 6030l17-47l-15-4l-18 32z" fill="#f00"/>
<path d="M4846 6198l16-66l-15-6l-15 63z" fill="#ffc5c5"/>
<path d="M5296 5898l16-3l-16-41l-17 9z" fill="#f00"/>
<path d="M5326 6178l17-35l-16-49l-17 28z" fill="#ffa7a7"/>
<path d="M4808 6231l20-4l-14-8l-20 5z" fill="#fff8f8"/>
<path d="M5618 6292l16-18l-20-8l-16 25z" fill="#e4ffe4"/>
<path d="M5122 6038l18-41l-17-6l-17 36z" fill="#ff0b0b"/>
<path d="M5308 6209l18-31l-16-56l-18 31z" fill="#ffc7c7"/>
<path d="M4757 6205l21 2l-16-31l-20 9z" fill="#ffe1e1"/>
<path d="M4742 6185l20-9l-19-49l-18 28z" fill="#ffc2c2"/>
<path d="M5229 5794l16 40l-17-9l-17-37z" fill="#f00"/>
<path d="M5142 5858l17-30l-16 6l-18 32z" fill="#f00"/>
<path d="M5393 6286l19-51l-18-9l-19 49z" fill="#fafffa"/>
<path d="M5327 6094l17-16l-16-52l-17 15z" fill="#ff4949"/>
<path d="M5140 5997l17-48l-16-2l-18 44z" fill="#f00"/>
<path d="M5291 6224l17-15l-16-56l-17 25z" fill="#fdd"/>
<path d="M4847 6126l15-73l-16-9l-15 66z" fill="#ff6767"/>
<path d="M4965 6039l20 7l-16 4l-19-7z" fill="#ff3434"/>
<path d="M5019 6031l17-39l-16-7l-17 43z" fill="#ff0202"/>
<path d="M5552 6265l12 23l-20 0l-11-28z" fill="#edffed"/>
<path d="M5412 6235l18-30l-19-6l-17 27z" fill="#fff0f0"/>
<path d="M5360 6324l16-3l-18-12l-16 3z" fill="#bdffbd" stroke-width="2.6"/>
<path d="M4843 6226l18-29l-15 1l-18 29z" fill="#ffeded"/>
<path d="M5104 6046l18-8l-16-11l-18 4z" fill="#ff2626"/>
<path d="M5449 6207l14 15l-19-2l-14-15z" fill="#fee"/>
<path d="M5141 5947l17-92l-16 3l-18 89z" fill="#f00"/>
<path d="M5052 6005l19 11l-16-12l-19-12z" fill="#f00"/>
<path d="M5194 5818l17-30l-17-7l-17 34z" fill="#f00"/>
<path d="M4772 6217l22 7l-16-17l-21-2z" fill="#ffeded"/>
<path d="M5313 5969l15 31l-16-53l-15-37z" fill="#f00"/>
<path d="M5502 6223l11 35l-20 1l-11-37z" fill="#fffdfd"/>
<path d="M5000 6044l19-13l-16-3l-18 18z" fill="#ff2727"/>
<path d="M4846 6044l17-56l-15-5l-17 47z" fill="#ff0202"/>
<path d="M4721 6193l21-8l-17-30l-18 29z" fill="#ffcfcf"/>
<path d="M5291 6264l17-1l-17-39l-17 10z" fill="#fff"/>
<path d="M5394 6326l18-36l-19-4l-17 35z" fill="#cfffcf" stroke-width="2.6"/>
<path d="M4878 5991l21 29l-15-2l-21-30z" fill="#f00"/>
<path d="M5310 6122l17-28l-16-53l-17 21z" fill="#ff5e5e"/>
<path d="M5308 6287l16 5l-16-29l-17 1z" fill="#efffef"/>
<path d="M5139 6050l17-45l-16-8l-18 41z" fill="#ff1010"/>
<path d="M4929 6015l21 28l-15 5l-21-29z" fill="#ff1c1c"/>
<path d="M5246 5802l16 42l-17-10l-16-40z" fill="#f00"/>
<path d="M5176 5827l18-9l-17-3l-18 13z" fill="#f00"/>
<path d="M5604 6292l14 0l-20-1l-14-2z" fill="#e2ffe2"/>
<path d="M4861 6197l15-65l-14 0l-16 66z" fill="#ffbfbf"/>
<path d="M5274 6234l17-10l-16-46l-17 20z" fill="#ffe7e7"/>
<path d="M5292 6153l18-31l-16-60l-17 29z" fill="#ff7e7e"/>
<path d="M5639 6294l15-11l-20-9l-16 18z" fill="#e9ffe9"/>
<path d="M4822 6230l21-4l-15 1l-20 4z" fill="#fff4f4"/>
<path d="M5121 6062l18-12l-17-12l-18 8z" fill="#ff3232"/>
<path d="M5069 6020l19 11l-17-15l-19-11z" fill="#ff0606"/>
<path d="M5311 6041l17-15l-15-57l-17 16z" fill="#f00"/>
<path d="M5275 6178l17-25l-15-62l-18 40z" fill="#ffa1a1"/>
<path d="M5412 6290l19-53l-19-2l-19 51z" fill="#fcfffc"/>
<path d="M5326 6303l16 9l-18-20l-16-5z" fill="#dfd"/>
<path d="M4862 6132l15-76l-15-3l-15 73z" fill="#ff6969"/>
<path d="M5035 6039l17-34l-16-13l-17 39z" fill="#ff0303"/>
<path d="M4735 6199l22 6l-15-20l-21 8z" fill="#ffdada"/>
<path d="M5297 5910l15 37l-16-49l-16-41z" fill="#f00"/>
<path d="M5156 6005l18-52l-17-4l-17 48z" fill="#f00"/>
<path d="M5378 6331l16-5l-18-5l-16 3z" fill="#bcffbc" stroke-width="2.6"/>
<path d="M4700 6198l21-5l-14-9l-19 23z" fill="#ffd9d9"/>
<path d="M5258 6198l17-20l-16-47l-18 29z" fill="#ffbebe"/>
<path d="M4787 6222l21 9l-14-7l-22-7z" fill="#ffefef"/>
<path d="M5158 5855l18-28l-17 1l-17 30z" fill="#f00"/>
<path d="M5431 6237l18-30l-19-2l-18 30z" fill="#ffeded"/>
<path d="M5211 5820l18-26l-18-6l-17 30z" fill="#f00"/>
<path d="M4862 6053l16-62l-15-3l-17 56z" fill="#ff0404"/>
<path d="M5572 6272l12 17l-20-1l-12-23z" fill="#f3fff3"/>
<path d="M5156 6068l17-48l-17-15l-17 45z" fill="#ff1b1b"/>
<path d="M5264 5820l15 43l-17-19l-16-42z" fill="#f00"/>
<path d="M5157 5949l19-96l-18 2l-17 92z" fill="#f00"/>
<path d="M5468 6208l14 14l-19 0l-14-15z" fill="#ffe7e7"/>
<path d="M5016 6046l19-7l-16-8l-19 13z" fill="#ff2020"/>
<path d="M4981 6037l19 7l-15 2l-20-7z" fill="#f22"/>
<path d="M5257 6247l17-13l-16-36l-18 20z" fill="#fee"/>
<path d="M5138 6083l18-15l-17-18l-18 12z" fill="#ff4242"/>
<path d="M5280 5857l16 41l-17-35l-15-43z" fill="#f00"/>
<path d="M5521 6229l12 31l-20-2l-11-35z" fill="#fff9f9"/>
<path d="M5240 6218l18-20l-17-38l-18 26z" fill="#ffd2d2"/>
<path d="M5086 6037l18 9l-16-15l-19-11z" fill="#ff1616"/>
<path d="M5274 6272l17-8l-17-30l-17 13z" fill="#fffefe"/>
<path d="M5294 6062l17-21l-15-56l-18 14z" fill="#ff0505"/>
<path d="M5241 6160l18-29l-17-48l-18 37z" fill="#ff8a8a"/>
<path d="M4856 6217l19-26l-14 6l-18 29z" fill="#ffe0e0"/>
<path d="M5223 6186l18-26l-17-40l-18 34z" fill="#ffadad"/>
<path d="M5344 6315l16 9l-18-12l-16-9z" fill="#d2ffd2"/>
<path d="M4892 5990l22 29l-15 1l-21-29z" fill="#f00"/>
<path d="M5172 6092l18-47l-17-25l-17 48z" fill="#f33"/>
<path d="M5413 6326l18-37l-19 1l-18 36z" fill="#daffda"/>
<path d="M5206 6154l18-34l-17-39l-18 41z" fill="#ff8383"/>
<path d="M5051 6049l18-29l-17-15l-17 34z" fill="#ff0c0c"/>
<path d="M5193 5827l18-7l-17-2l-18 9z" fill="#f00"/>
<path d="M5259 6131l18-40l-16-65l-19 57z" fill="#f55"/>
<path d="M5155 6109l17-17l-16-24l-18 15z" fill="#ff5c5c"/>
<path d="M5292 6291l16-4l-17-23l-17 8z" fill="#f7fff7"/>
<path d="M5625 6297l14-3l-21-2l-14 0z" fill="#eaffea"/>
<path d="M5189 6122l18-41l-17-36l-18 47z" fill="#ff5858"/>
<path d="M5296 5985l17-16l-16-59l-18 16z" fill="#f00"/>
<path d="M4750 6204l22 13l-15-12l-22-6z" fill="#fdd"/>
<path d="M5659 6297l14-5l-19-9l-15 11z" fill="#ecffec"/>
<path d="M5173 6020l19-54l-18-13l-18 52z" fill="#f00"/>
<path d="M4679 6203l21-5l-12 9l-20 15z" fill="#fdd"/>
<path d="M5277 6091l17-29l-16-63l-17 27z" fill="#ff2121"/>
<path d="M5172 6141l17-19l-17-30l-17 17z" fill="#ff7d7d"/>
<path d="M5206 6206l17-20l-17-32l-17 19z" fill="#ffc3c3"/>
<path d="M5224 6120l18-37l-17-48l-18 46z" fill="#ff4f4f"/>
<path d="M5223 6237l17-19l-17-32l-17 20z" fill="#ffe0e0"/>
<path d="M5189 6173l17-19l-17-32l-17 19z" fill="#ffa1a1"/>
<path d="M4944 6013l21 26l-15 4l-21-28z" fill="#ff0808"/>
<path d="M4875 6191l16-63l-15 4l-15 65z" fill="#ffb1b1"/>
<path d="M5240 6266l17-19l-17-29l-17 19z" fill="#fff6f6"/>
<path d="M5103 6055l18 7l-17-16l-18-9z" fill="#ff2626"/>
<path d="M4876 6132l15-77l-14 1l-15 76z" fill="#ff6161"/>
<path d="M5431 6289l19-52l-19 0l-19 53z" fill="#fff"/>
<path d="M5228 5825l18-23l-17-8l-18 26z" fill="#f00"/>
<path d="M5397 6333l16-7l-19 0l-16 5z" fill="#c6ffc6" stroke-width="2.6"/>
<path d="M4801 6222l21 8l-14 1l-21-9z" fill="#ffeaea"/>
<path d="M5257 6290l17-18l-17-25l-17 19z" fill="#fefffe"/>
<path d="M4836 6222l20-5l-13 9l-21 4z" fill="#ffe8e8"/>
<path d="M4877 6056l15-66l-14 1l-16 62z" fill="#f00"/>
<path d="M5592 6282l12 10l-20-3l-12-17z" fill="#f6fff6"/>
<path d="M5207 6081l18-46l-16-41l-19 51z" fill="#ff1515"/>
<path d="M5190 6045l19-51l-17-28l-19 54z" fill="#f00"/>
<path d="M4713 6193l22 6l-14-6l-21 5z" fill="#ffd0d0"/>
<path d="M5176 5853l17-26l-17 0l-18 28z" fill="#f00"/>
<path d="M5032 6052l19-3l-16-10l-19 7z" fill="#ff1f1f"/>
<path d="M5309 6306l17-3l-18-16l-16 4z" fill="#ecffec"/>
<path d="M5450 6237l18-29l-19-1l-18 30z" fill="#ffe6e6"/>
<path d="M5068 6060l18-23l-17-17l-18 29z" fill="#ff1717"/>
<path d="M5174 5953l19-98l-17-2l-19 96z" fill="#f00"/>
<path d="M5540 6239l12 26l-19-5l-12-31z" fill="#fff7f7"/>
<path d="M5362 6323l16 8l-18-7l-16-9z" fill="#d1ffd1" stroke-width="2.6"/>
<path d="M5120 6078l18 5l-17-21l-18-7z" fill="#ff3c3c"/>
<path d="M4997 6040l19 6l-16-2l-19-7z" fill="#ff1616"/>
<path d="M5278 5999l18-14l-17-59l-17 9z" fill="#f00"/>
<path d="M5488 6210l14 13l-20-1l-14-14z" fill="#ffdfdf"/>
<path d="M5205 6253l18-16l-17-31l-18 13z" fill="#ffe9e9"/>
<path d="M5242 6083l19-57l-17-64l-19 73z" fill="#f00"/>
<path d="M5279 5926l18-16l-17-53l-17 17z" fill="#f00"/>
<path d="M5222 6283l18-17l-17-29l-18 16z" fill="#fffcfc"/>
<path d="M5274 6308l18-17l-18-19l-17 18z" fill="#f4fff4"/>
<path d="M5188 6219l18-13l-17-33l-18 10z" fill="#fcc"/>
<path d="M5171 6183l18-10l-17-32l-18 4z" fill="#ffa8a8"/>
<path d="M5137 6109l18 0l-17-26l-18-5z" fill="#ff5a5a"/>
<path d="M5211 5829l17-4l-17-5l-18 7z" fill="#f00"/>
<path d="M4764 6206l23 16l-15-5l-22-13z" fill="#ffdada"/>
<path d="M5154 6145l18-4l-17-32l-18 0z" fill="#ff8080"/>
<path d="M4658 6212l21-9l-11 19l-21 10z" fill="#ffdede"/>
<path d="M5246 5840l18-20l-18-18l-18 23z" fill="#f00"/>
<path d="M5680 6301l14 0l-21-9l-14 5z" fill="#efffef"/>
<path d="M5239 6308l18-18l-17-24l-18 17z" fill="#f8fff8"/>
<path d="M4907 5987l22 28l-15 4l-22-29z" fill="#f00"/>
<path d="M5645 6302l14-5l-20-3l-14 3z" fill="#f0fff0"/>
<path d="M5433 6323l18-37l-20 3l-18 37z" fill="#e9ffe9"/>
<path d="M5263 5874l17-17l-16-37l-18 20z" fill="#f00"/>
<path d="M5084 6073l19-18l-17-18l-18 23z" fill="#ff2424"/>
<path d="M5261 6026l17-27l-16-64l-18 27z" fill="#f00"/>
<path d="M5328 6316l16-1l-18-12l-17 3z" fill="#e6ffe6"/>
<path d="M4870 6205l19-26l-14 12l-19 26z" fill="#ffcaca"/>
<path d="M4960 6016l21 21l-16 2l-21-26z" fill="#f00"/>
<path d="M5049 6059l19 1l-17-11l-19 3z" fill="#ff2121"/>
<path d="M5611 6293l14 4l-21-5l-12-10z" fill="#f7fff7"/>
<path d="M5292 6321l17-15l-17-15l-18 17z" fill="#ecffec"/>
<path d="M5257 6327l17-19l-17-18l-18 18z" fill="#eaffea"/>
<path d="M5192 5966l18-97l-17-14l-19 98z" fill="#f00"/>
<path d="M4891 6128l16-74l-16 1l-15 77z" fill="#ff5252"/>
<path d="M5225 6035l19-73l-16-57l-19 89z" fill="#f00"/>
<path d="M5560 6253l12 19l-20-7l-12-26z" fill="#fff7f7"/>
<path d="M5451 6286l19-49l-20 0l-19 52z" fill="#fffafa"/>
<path d="M5193 5855l18-26l-18-2l-17 26z" fill="#f00"/>
<path d="M5204 6295l18-12l-17-30l-18 10z" fill="#fff"/>
<path d="M5262 5935l17-9l-16-52l-17 5z" fill="#f00"/>
<path d="M4891 6055l16-68l-15 3l-15 66z" fill="#f00"/>
<path d="M5416 6333l17-10l-20 3l-16 7z" fill="#d6ffd6"/>
<path d="M5187 6263l18-10l-17-34l-18 7z" fill="#ffecec"/>
<path d="M4726 6190l24 14l-15-5l-22-6z" fill="#ffc7c7"/>
<path d="M4889 6179l17-57l-15 6l-16 63z" fill="#ff9b9b"/>
<path d="M5381 6328l16 5l-19-2l-16-8z" fill="#d7ffd7"/>
<path d="M4691 6192l22 1l-13 5l-21 5z" fill="#ffc6c6"/>
<path d="M5013 6046l19 6l-16-6l-19-6z" fill="#f11"/>
<path d="M4815 6218l21 4l-14 8l-21-8z" fill="#fdd"/>
<path d="M5470 6237l18-27l-20-2l-18 29z" fill="#fdd"/>
<path d="M5101 6092l19-14l-17-23l-19 18z" fill="#ff3838"/>
<path d="M5222 6322l17-14l-17-25l-18 12z" fill="#f1fff1"/>
<path d="M5228 5843l18-3l-18-15l-17 4z" fill="#f00"/>
<path d="M5170 6226l18-7l-17-36l-18 6z" fill="#ffcdcd"/>
<path d="M5507 6216l14 13l-19-6l-14-13z" fill="#ffdada"/>
<path d="M5209 5994l19-89l-18-36l-18 97z" fill="#f00"/>
<path d="M4637 6228l21-16l-11 20l-21 10z" fill="#ffe1e1"/>
<path d="M5153 6189l18-6l-17-38l-18 8z" fill="#ffa6a6"/>
<path d="M5702 6306l12 4l-20-9l-14 0z" fill="#f2fff2"/>
<path d="M4850 6211l20-6l-14 12l-20 5z" fill="#ffd3d3"/>
<path d="M5118 6119l19-10l-17-31l-19 14z" fill="#f55"/>
<path d="M5246 5879l17-5l-17-34l-18 3z" fill="#f00"/>
<path d="M5136 6153l18-8l-17-36l-19 10z" fill="#ff7c7c"/>
<path d="M5275 6339l17-18l-18-13l-17 19z" fill="#e1ffe1"/>
<path d="M4778 6208l23 14l-14 0l-23-16z" fill="#ffd3d3"/>
<path d="M5346 6323l16 0l-18-8l-16 1z" fill="#e5ffe5"/>
<path d="M5239 6341l18-14l-18-19l-17 14z" fill="#e0ffe0"/>
<path d="M5065 6069l19 4l-16-13l-19-1z" fill="#ff2727"/>
<path d="M5666 6308l14-7l-21-4l-14 5z" fill="#f5fff5"/>
<path d="M5244 5962l18-27l-16-56l-18 26z" fill="#f00"/>
<path d="M5310 6330l18-14l-19-10l-17 15z" fill="#e8ffe8"/>
<path d="M5579 6269l13 13l-20-10l-12-19z" fill="#fffafa"/>
<path d="M4923 5986l21 27l-15 2l-22-28z" fill="#f00"/>
<path d="M5631 6305l14-3l-20-5l-14-4z" fill="#f8fff8"/>
<path d="M4976 6024l21 16l-16-3l-21-21z" fill="#f00"/>
<path d="M5210 5869l18-26l-17-14l-18 26z" fill="#f00"/>
<path d="M5453 6319l18-36l-20 3l-18 37z" fill="#f7fff7"/>
<path d="M4617 6247l20-19l-11 14l-21 10z" fill="#ffe7e7"/>
<path d="M5186 6299l18-4l-17-32l-18 2z" fill="#fffefe"/>
<path d="M5029 6054l20 5l-17-7l-19-6z" fill="#ff0f0f"/>
<path d="M5228 5905l18-26l-18-36l-18 26z" fill="#f00"/>
<path d="M5527 6228l13 11l-19-10l-14-13z" fill="#ffdada"/>
<path d="M5169 6265l18-2l-17-37l-18 1z" fill="#ffe8e8"/>
<path d="M5204 6326l18-4l-18-27l-18 4z" fill="#f3fff3"/>
<path d="M4906 6122l16-67l-15-1l-16 74z" fill="#ff4141"/>
<path d="M5082 6086l19 6l-17-19l-19-4z" fill="#f33"/>
<path d="M5471 6283l19-43l-20-3l-19 49z" fill="#fff3f3"/>
<path d="M5257 6353l18-14l-18-12l-18 14z" fill="#d6ffd6"/>
<path d="M4740 6190l24 16l-14-2l-24-14z" fill="#ffbdbd"/>
<path d="M4907 6054l16-68l-16 1l-16 68z" fill="#f00"/>
<path d="M4669 6197l22-5l-12 11l-21 9z" fill="#ffc0c0"/>
<path d="M5490 6240l17-24l-19-6l-18 27z" fill="#ffd7d7"/>
<path d="M5400 6331l16 2l-19 0l-16-5z" fill="#e0ffe0"/>
<path d="M5152 6227l18-1l-17-37l-18-2z" fill="#ffc6c6"/>
<path d="M5293 6347l17-17l-18-9l-17 18z" fill="#dfffdf"/>
<path d="M5436 6332l17-13l-20 4l-17 10z" fill="#e6ffe6"/>
<path d="M4884 6191l19-24l-14 12l-19 26z" fill="#ffafaf"/>
<path d="M5723 6311l12 6l-21-7l-12-4z" fill="#f4fff4"/>
<path d="M5598 6287l13 6l-19-11l-13-13z" fill="#fffdfd"/>
<path d="M5221 6346l18-5l-17-19l-18 4z" fill="#e1ffe1"/>
<path d="M5135 6187l18 2l-17-36l-19-5z" fill="#ff9d9d"/>
<path d="M5365 6329l16-1l-19-5l-16 0z" fill="#e9ffe9"/>
<path d="M4704 6186l22 4l-13 3l-22-1z" fill="#ffb3b3"/>
<path d="M4903 6167l18-50l-15 5l-17 57z" fill="#ff8383"/>
<path d="M5100 6112l18 7l-17-27l-19-6z" fill="#ff4d4d"/>
<path d="M5329 6336l17-13l-18-7l-18 14z" fill="#e9ffe9"/>
<path d="M5687 6315l15-9l-22-5l-14 7z" fill="#f8fff8"/>
<path d="M4829 6212l21-1l-14 11l-21-4z" fill="#ffcbcb"/>
<path d="M5117 6148l19 5l-18-34l-18-7z" fill="#ff7272"/>
<path d="M5651 6317l15-9l-21-6l-14 3z" fill="#f8fff8"/>
<path d="M4993 6035l20 11l-16-6l-21-16z" fill="#f00"/>
<path d="M4792 6209l23 9l-14 4l-23-14z" fill="#ffc9c9"/>
<path d="M5546 6243l14 10l-20-14l-13-11z" fill="#ffdfdf"/>
<path d="M4939 5990l21 26l-16-3l-21-27z" fill="#f00"/>
<path d="M4595 6261l22-14l-12 5l-23 7z" fill="#ffeaea"/>
<path d="M5046 6063l19 6l-16-10l-20-5z" fill="#ff1212"/>
<path d="M4649 6218l20-21l-11 15l-21 16z" fill="#ffc5c5"/>
<path d="M5275 6360l18-13l-18-8l-18 14z" fill="#d5ffd5"/>
<path d="M4864 6198l20-7l-14 14l-20 6z" fill="#ffb9b9"/>
<path d="M5617 6306l14-1l-20-12l-13-6z" fill="#fff"/>
<path d="M5239 6358l18-5l-18-12l-18 5z" fill="#d6ffd6"/>
<path d="M5510 6247l17-19l-20-12l-17 24z" fill="#ffd5d5"/>
<path d="M5473 6314l18-31l-20 0l-18 36z" fill="#fff"/>
<path d="M5311 6352l18-16l-19-6l-17 17z" fill="#e2ffe2"/>
<path d="M4755 6193l23 15l-14-2l-24-16z" fill="#ffb5b5"/>
<path d="M4922 6055l17-65l-16-4l-16 68z" fill="#f00"/>
<path d="M5491 6283l19-36l-20-7l-19 43z" fill="#ffeded"/>
<path d="M4921 6117l17-57l-16-5l-16 67z" fill="#ff3232"/>
<path d="M5745 6318l12 6l-22-7l-12-6z" fill="#f6fff6"/>
<path d="M5420 6334l16-2l-20 1l-16-2z" fill="#ebffeb"/>
<path d="M5168 6290l18 9l-17-34l-18-9z" fill="#fff5f5"/>
<path d="M5565 6262l14 7l-19-16l-14-10z" fill="#ffe7e7"/>
<path d="M5186 6318l18 8l-18-27l-18-9z" fill="#fdfffd"/>
<path d="M5010 6046l19 8l-16-8l-20-11z" fill="#f00"/>
<path d="M5671 6329l16-14l-21-7l-15 9z" fill="#f8fff8"/>
<path d="M4629 6244l20-26l-12 10l-20 19z" fill="#ffd4d4"/>
<path d="M5151 6256l18 9l-17-38l-19-8z" fill="#ffdada"/>
<path d="M5384 6334l16-3l-19-3l-16 1z" fill="#efe"/>
<path d="M5348 6340l17-11l-19-6l-17 13z" fill="#edffed"/>
<path d="M5708 6322l15-11l-21-5l-15 9z" fill="#fafffa"/>
<path d="M5063 6080l19 6l-17-17l-19-6z" fill="#ff1c1c"/>
<path d="M5456 6330l17-16l-20 5l-17 13z" fill="#f4fff4"/>
<path d="M5133 6219l19 8l-17-40l-19-7z" fill="#ffb5b5"/>
<path d="M4955 6000l21 24l-16-8l-21-26z" fill="#f00"/>
<path d="M5636 6324l15-7l-20-12l-14 1z" fill="#fcfffc"/>
<path d="M4682 6188l22-2l-13 6l-22 5z" fill="#ffa8a8"/>
<path d="M4718 6185l22 5l-14 0l-22-4z" fill="#ffa4a4"/>
<path d="M5204 6338l17 8l-17-20l-18-8z" fill="#efffef"/>
<path d="M4572 6263l23-2l-13-2l-23 3z" fill="#ffe7e7"/>
<path d="M5116 6180l19 7l-18-39l-19-7z" fill="#ff8989"/>
<path d="M4918 6157l18-42l-15 2l-18 50z" fill="#ff6b6b"/>
<path d="M4899 6181l19-24l-15 10l-19 24z" fill="#ff9393"/>
<path d="M4807 6211l22 1l-14 6l-23-9z" fill="#ffbcbc"/>
<path d="M5584 6282l14 5l-19-18l-14-7z" fill="#fff0f0"/>
<path d="M5530 6256l16-13l-19-15l-17 19z" fill="#ffd8d8"/>
<path d="M5081 6106l19 6l-18-26l-19-6z" fill="#ff3434"/>
<path d="M5258 6366l17-6l-18-7l-18 5z" fill="#d5ffd5"/>
<path d="M5294 6365l17-13l-18-5l-18 13z" fill="#daffda"/>
<path d="M5098 6141l19 7l-17-36l-19-6z" fill="#ff5b5b"/>
<path d="M4608 6262l21-18l-12 3l-22 14z" fill="#ffe0e0"/>
<path d="M4843 6207l21-9l-14 13l-21 1z" fill="#ffb5b5"/>
<path d="M4938 6060l17-60l-16-10l-17 65z" fill="#f00"/>
<path d="M5026 6059l20 4l-17-9l-19-8z" fill="#f00"/>
<path d="M5766 6325l13 4l-22-5l-12-6z" fill="#f9fff9"/>
<path d="M5330 6355l18-15l-19-4l-18 16z" fill="#e8ffe8"/>
<path d="M5512 6283l18-27l-20-9l-19 36z" fill="#ffe8e8"/>
<path d="M5692 6340l16-18l-21-7l-16 14z" fill="#f8fff8"/>
<path d="M4770 6197l22 12l-14-1l-23-15z" fill="#ffadad"/>
<path d="M5656 6341l15-12l-20-12l-15 7z" fill="#f7fff7"/>
<path d="M4936 6115l18-47l-16-8l-17 57z" fill="#ff2828"/>
<path d="M5603 6303l14 3l-19-19l-14-5z" fill="#fff9f9"/>
<path d="M5222 6351l17 7l-18-12l-17-8z" fill="#e7ffe7"/>
<path d="M4972 6014l21 21l-17-11l-21-24z" fill="#f00"/>
<path d="M4662 6212l20-24l-13 9l-20 21z" fill="#ffadad"/>
<path d="M5730 6329l15-11l-22-7l-15 11z" fill="#fcfffc"/>
<path d="M5494 6310l18-27l-21 0l-18 31z" fill="#fffafa"/>
<path d="M5440 6338l16-8l-20 2l-16 2z" fill="#f4fff4"/>
<path d="M5367 6345l17-11l-19-5l-17 11z" fill="#f2fff2"/>
<path d="M5404 6339l16-5l-20-3l-16 3z" fill="#f3fff3"/>
<path d="M4878 6187l21-6l-15 10l-20 7z" fill="#ff9d9d"/>
<path d="M5549 6268l16-6l-19-19l-16 13z" fill="#ffdede"/>
<path d="M4642 6242l20-30l-13 6l-20 26z" fill="#ffc3c3"/>
<path d="M4732 6188l23 5l-15-3l-22-5z" fill="#ff9a9a"/>
<path d="M5044 6077l19 3l-17-17l-20-4z" fill="#ff0606"/>
<path d="M5622 6324l14 0l-19-18l-14-3z" fill="#fff"/>
<path d="M5477 6329l17-19l-21 4l-17 16z" fill="#fefffe"/>
<path d="M5276 6370l18-5l-19-5l-17 6z" fill="#dbffdb"/>
<path d="M4585 6264l23-2l-13-1l-23 2z" fill="#ffdfdf"/>
<path d="M5150 6279l18 11l-17-34l-19-10z" fill="#ffe3e3"/>
<path d="M4548 6262l24 1l-13-1l-23 4z" fill="#ffe0e0"/>
<path d="M5132 6246l19 10l-18-37l-18-8z" fill="#ffc5c5"/>
<path d="M4695 6185l23 0l-14 1l-22 2z" fill="#ff9595"/>
<path d="M4954 6068l18-54l-17-14l-17 60z" fill="#f00"/>
<path d="M5676 6356l16-16l-21-11l-15 12z" fill="#f2fff2"/>
<path d="M5313 6367l17-12l-19-3l-17 13z" fill="#e2ffe2"/>
<path d="M5168 6306l18 12l-18-28l-18-11z" fill="#fff7f7"/>
<path d="M5115 6211l18 8l-17-39l-19-5z" fill="#ff9f9f"/>
<path d="M4989 6028l21 18l-17-11l-21-21z" fill="#f00"/>
<path d="M4822 6214l21-7l-14 5l-22-1z" fill="#ffaeae"/>
<path d="M4933 6150l19-35l-16 0l-18 42z" fill="#ff5656"/>
<path d="M5569 6283l15-1l-19-20l-16 6z" fill="#ffe6e6"/>
<path d="M5713 6349l17-20l-22-7l-16 18z" fill="#f8fff8"/>
<path d="M4621 6263l21-21l-13 2l-21 18z" fill="#ffd5d5"/>
<path d="M5240 6359l18 7l-19-8l-17-7z" fill="#e5ffe5"/>
<path d="M5097 6175l19 5l-18-39l-19-3z" fill="#ff7373"/>
<path d="M5061 6104l20 2l-18-26l-19-3z" fill="#ff1f1f"/>
<path d="M5532 6286l17-18l-19-12l-18 27z" fill="#ffe5e5"/>
<path d="M5788 6332l13-1l-22-2l-13-4z" fill="#fcfffc"/>
<path d="M4914 6174l19-24l-15 7l-19 24z" fill="#ff7a7a"/>
<path d="M5349 6358l18-13l-19-5l-18 15z" fill="#efe"/>
<path d="M5079 6138l19 3l-17-35l-20-2z" fill="#ff4646"/>
<path d="M4785 6205l22 6l-15-2l-22-12z" fill="#ffa7a7"/>
<path d="M4952 6115l19-39l-17-8l-18 47z" fill="#ff2020"/>
<path d="M5186 6326l18 12l-18-20l-18-12z" fill="#fff"/>
<path d="M5642 6343l14-2l-20-17l-14 0z" fill="#fafffa"/>
<path d="M5752 6337l14-12l-21-7l-15 11z" fill="#fdfffd"/>
<path d="M4858 6204l20-17l-14 11l-21 9z" fill="#ff9e9e"/>
<path d="M5386 6349l18-10l-20-5l-17 11z" fill="#f6fff6"/>
<path d="M5423 6345l17-7l-20-4l-16 5z" fill="#f8fff8"/>
<path d="M5460 6341l17-12l-21 1l-16 8z" fill="#fbfffb"/>
<path d="M5515 6307l17-21l-20-3l-18 27z" fill="#fff2f2"/>
<path d="M5589 6298l14 5l-19-21l-15 1z" fill="#ffefef"/>
<path d="M4971 6076l18-48l-17-14l-18 54z" fill="#f00"/>
<path d="M4675 6210l20-25l-13 3l-20 24z" fill="#ff9b9b"/>
<path d="M5006 6043l20 16l-16-13l-21-18z" fill="#f00"/>
<path d="M5697 6367l16-18l-21-9l-16 16z" fill="#f0fff0"/>
<path d="M4747 6194l23 3l-15-4l-23-5z" fill="#ff9494"/>
<path d="M5662 6360l14-4l-20-15l-14 2z" fill="#f4fff4"/>
<path d="M5295 6373l18-6l-19-2l-18 5z" fill="#e3ffe3"/>
<path d="M5204 6340l18 11l-18-13l-18-12z" fill="#fbfffb"/>
<path d="M4893 6180l21-6l-15 7l-21 6z" fill="#ff8383"/>
<path d="M4524 6268l24-6l-12 4l-23 10z" fill="#ffdbdb"/>
<path d="M5074 6479l19-26l-18-37l-19 25z" fill="#7aff7a" stroke-width="2.6"/>
<path d="M4598 6266l23-3l-13-1l-23 2z" fill="#ffd7d7"/>
<path d="M5093 6453l18-47l-17-34l-19 44z" fill="#b0ffb0" stroke-width="2.6"/>
<path d="M4655 6241l20-31l-13 2l-20 30z" fill="#ffb4b4"/>
<path d="M5092 6507l19-28l-18-26l-19 26z" fill="#41ff41" stroke-width="2.6"/>
<path d="M5735 6356l17-19l-22-8l-17 20z" fill="#f9fff9"/>
<path d="M5332 6371l17-13l-19-3l-17 12z" fill="#eaffea"/>
<path d="M5553 6290l16-7l-20-15l-17 18z" fill="#ffe5e5"/>
<path d="M4709 6186l23 2l-14-3l-23 0z" fill="#ff8989"/>
<path d="M4560 6261l25 3l-13-1l-24-1z" fill="#ffd5d5"/>
<path d="M5498 6328l17-21l-21 3l-17 19z" fill="#fffcfc"/>
<path d="M5111 6479l18-49l-18-24l-18 47z" fill="#85ff85" stroke-width="2.6"/>
<path d="M5259 6364l17 6l-18-4l-18-7z" fill="#eaffea"/>
<path d="M5075 6416l19-44l-18-42l-19 41z" fill="#e3ffe3"/>
<path d="M4838 6218l20-14l-15 3l-21 7z" fill="#ffa2a2"/>
<path d="M5131 6285l19-6l-18-33l-19 5z" fill="#ffd6d6"/>
<path d="M5609 6314l13 10l-19-21l-14-5z" fill="#fff7f7"/>
<path d="M4969 6119l19-32l-17-11l-19 39z" fill="#ff1d1d"/>
<path d="M5811 6341l14-10l-24 0l-13 1z" fill="#fefffe"/>
<path d="M5113 6251l19-5l-17-35l-20 2z" fill="#ffb6b6"/>
<path d="M4801 6216l21-2l-15-3l-22-6z" fill="#ffa3a3"/>
<path d="M5024 6064l20 13l-18-18l-20-16z" fill="#f00"/>
<path d="M5774 6344l14-12l-22-7l-14 12z" fill="#fefffe"/>
<path d="M4949 6149l20-30l-17-4l-19 35z" fill="#ff4848"/>
<path d="M5056 6441l19-25l-18-45l-19 22z" fill="#beffbe" stroke-width="2.6"/>
<path d="M5369 6363l17-14l-19-4l-18 13z" fill="#f4fff4"/>
<path d="M4635 6264l20-23l-13 1l-21 21z" fill="#ffcaca"/>
<path d="M5149 6312l19-6l-18-27l-19 6z" fill="#ffeded"/>
<path d="M5095 6213l20-2l-18-36l-20-2z" fill="#ff8e8e"/>
<path d="M4988 6087l18-44l-17-15l-18 48z" fill="#f00"/>
<path d="M5109 6524l19-28l-17-17l-19 28z" fill="#21ff21" stroke-width="2.6"/>
<path d="M5111 6406l19-55l-18-30l-18 51z" fill="#efffef"/>
<path d="M5406 6355l17-10l-19-6l-18 10z" fill="#fafffa"/>
<path d="M5077 6173l20 2l-18-37l-20-6z" fill="#ff6060"/>
<path d="M5443 6352l17-11l-20-3l-17 7z" fill="#fcfffc"/>
<path d="M5094 6372l18-51l-18-37l-18 46z" fill="#fffdfd"/>
<path d="M4930 6172l19-23l-16 1l-19 24z" fill="#ff6767"/>
<path d="M5128 6496l19-51l-18-15l-18 49z" fill="#6cff6c" stroke-width="2.6"/>
<path d="M5041 6094l20 10l-17-27l-20-13z" fill="#ff0404"/>
<path d="M5057 6371l19-41l-18-45l-19 36z" fill="#fffdfd"/>
<path d="M5683 6374l14-7l-21-11l-14 4z" fill="#efe"/>
<path d="M5059 6132l20 6l-18-34l-20-10z" fill="#ff2f2f"/>
<path d="M5719 6374l16-18l-22-7l-16 18z" fill="#f1fff1"/>
<path d="M5167 6333l19-7l-18-20l-19 6z" fill="#fff9f9"/>
<path d="M4762 6205l23 0l-15-8l-23-3z" fill="#ff9292"/>
<path d="M5129 6430l19-57l-18-22l-19 55z" fill="#d6ffd6"/>
<path d="M4503 6290l21-22l-11 8l-21 20z" fill="#ffe0e0"/>
<path d="M5222 6350l18 9l-18-8l-18-11z" fill="#f9fff9"/>
<path d="M4874 6204l19-24l-15 7l-20 17z" fill="#ff8a8a"/>
<path d="M5480 6346l18-18l-21 1l-17 12z" fill="#fff"/>
<path d="M5112 6321l19-36l-18-34l-19 33z" fill="#ffe2e2"/>
<path d="M5629 6331l13 12l-20-19l-13-10z" fill="#fffdfd"/>
<path d="M5076 6330l18-46l-18-40l-18 41z" fill="#ffe3e3"/>
<path d="M5536 6306l17-16l-21-4l-17 21z" fill="#ffebeb"/>
<path d="M5130 6351l19-39l-18-27l-19 36z" fill="#fff7f7"/>
<path d="M5038 6393l19-22l-18-50l-20 20z" fill="#f6fff6"/>
<path d="M5054 6477l20 2l-18-38l-20 0z" fill="#76ff76" stroke-width="2.6"/>
<path d="M4487 6340l16-50l-11 6l-19 35z" fill="#fff5f5"/>
<path d="M5094 6284l19-33l-18-38l-19 31z" fill="#ffc1c1"/>
<path d="M4689 6210l20-24l-14-1l-20 25z" fill="#ff8d8d"/>
<path d="M5574 6296l15 2l-20-15l-16 7z" fill="#ffe6e6"/>
<path d="M5072 6503l20 4l-18-28l-20-2z" fill="#3eff3e" stroke-width="2.6"/>
<path d="M4986 6132l19-29l-17-16l-19 32z" fill="#f22"/>
<path d="M5005 6103l19-39l-18-21l-18 44z" fill="#f00"/>
<path d="M5758 6360l16-16l-22-7l-17 19z" fill="#fcfffc"/>
<path d="M5314 6376l18-5l-19-4l-18 6z" fill="#ecffec"/>
<path d="M5076 6244l19-31l-18-40l-19 32z" fill="#ff9898"/>
<path d="M5058 6285l18-41l-18-39l-18 34z" fill="#fbb"/>
<path d="M5039 6321l19-36l-18-46l-20 31z" fill="#ffdada"/>
<path d="M4724 6192l23 2l-15-6l-23-2z" fill="#ff8282"/>
<path d="M4612 6269l23-5l-14-1l-23 3z" fill="#ffcece"/>
<path d="M5148 6373l19-40l-18-21l-19 39z" fill="#fff"/>
<path d="M5036 6441l20 0l-18-48l-20 3z" fill="#baffba" stroke-width="2.6"/>
<path d="M5351 6376l18-13l-20-5l-17 13z" fill="#f1fff1"/>
<path d="M4817 6227l21-9l-16-4l-21 2z" fill="#ffa1a1"/>
<path d="M4669 6242l20-32l-14 0l-20 31z" fill="#ffa8a8"/>
<path d="M5278 6368l17 5l-19-3l-17-6z" fill="#f0fff0"/>
<path d="M4966 6159l20-27l-17-13l-20 30z" fill="#ff4545"/>
<path d="M5796 6351l15-10l-23-9l-14 12z" fill="#fff"/>
<path d="M5147 6445l19-56l-18-16l-19 57z" fill="#c6ffc6" stroke-width="2.6"/>
<path d="M5058 6205l19-32l-18-41l-19 34z" fill="#ff6969"/>
<path d="M4573 6262l25 4l-13-2l-25-3z" fill="#ffcbcb"/>
<path d="M5185 6348l19-8l-18-14l-19 7z" fill="#fffefe"/>
<path d="M5127 6533l19-28l-18-9l-19 28z" fill="#1aff1a" stroke-width="2.6"/>
<path d="M4909 6179l21-7l-16 2l-21 6z" fill="#ff7070"/>
<path d="M4536 6265l24-4l-12 1l-24 6z" fill="#ffcbcb"/>
<path d="M4854 6225l20-21l-16 0l-20 14z" fill="#f99"/>
<path d="M5519 6328l17-22l-21 1l-17 21z" fill="#fff4f4"/>
<path d="M5389 6368l17-13l-20-6l-17 14z" fill="#f8fff8"/>
<path d="M5022 6130l19-36l-17-30l-19 39z" fill="#ff0d0d"/>
<path d="M5040 6239l18-34l-18-39l-19 30z" fill="#ff8c8c"/>
<path d="M5650 6347l12 13l-20-17l-13-12z" fill="#fefffe"/>
<path d="M5090 6520l19 4l-17-17l-20-4z" fill="#1fff1f" stroke-width="2.6"/>
<path d="M5146 6505l19-51l-18-9l-19 51z" fill="#6f6" stroke-width="2.6"/>
<path d="M5040 6166l19-34l-18-38l-19 36z" fill="#ff3838"/>
<path d="M5019 6341l20-20l-19-51l-19 19z" fill="#ffecec"/>
<path d="M5003 6158l19-28l-17-27l-19 29z" fill="#ff3737"/>
<path d="M5704 6382l15-8l-22-7l-14 7z" fill="#efe"/>
<path d="M5426 6362l17-10l-20-7l-17 10z" fill="#fcfffc"/>
<path d="M4779 6219l22-3l-16-11l-23 0z" fill="#ff9595"/>
<path d="M4648 6265l21-23l-14-1l-20 23z" fill="#ffbfbf"/>
<path d="M5021 6196l19-30l-18-36l-19 28z" fill="#ff5d5d"/>
<path d="M5020 6270l20-31l-19-43l-19 27z" fill="#ffabab"/>
<path d="M5463 6359l17-13l-20-5l-17 11z" fill="#fefffe"/>
<path d="M4946 6181l20-22l-17-10l-19 23z" fill="#ff6060"/>
<path d="M5018 6396l20-3l-19-52l-20 6z" fill="#f3fff3"/>
<path d="M5742 6376l16-16l-23-4l-16 18z" fill="#f5fff5"/>
<path d="M5166 6389l19-41l-18-15l-19 40z" fill="#f9fff9"/>
<path d="M5241 6356l18 8l-19-5l-18-9z" fill="#fbfffb"/>
<path d="M5595 6305l14 9l-20-16l-15-2z" fill="#ffe8e8"/>
<path d="M4984 6184l19-26l-17-26l-20 27z" fill="#f55"/>
<path d="M5002 6223l19-27l-18-38l-19 26z" fill="#ff7a7a"/>
<path d="M5501 6351l18-23l-21 0l-18 18z" fill="#fffcfc"/>
<path d="M5558 6307l16-11l-21-6l-17 16z" fill="#ffe4e4"/>
<path d="M4500 6350l15-60l-12 0l-16 50z" fill="#fff0f0"/>
<path d="M4890 6207l19-28l-16 1l-19 24z" fill="#ff7c7c"/>
<path d="M5001 6289l19-19l-18-47l-20 19z" fill="#ffbebe"/>
<path d="M4703 6214l21-22l-15-6l-20 24z" fill="#ff8484"/>
<path d="M4739 6202l23 3l-15-11l-23-2z" fill="#ff8282"/>
<path d="M5165 6454l19-56l-18-9l-19 56z" fill="#c2ffc2" stroke-width="2.6"/>
<path d="M4833 6240l21-15l-16-7l-21 9z" fill="#ffa1a1"/>
<path d="M5670 6361l13 13l-21-14l-12-13z" fill="#fbfffb"/>
<path d="M5203 6358l19-8l-18-10l-19 8z" fill="#fff"/>
<path d="M4515 6290l21-25l-12 3l-21 22z" fill="#ffd1d1"/>
<path d="M5782 6361l14-10l-22-7l-16 16z" fill="#fefffe"/>
<path d="M5334 6383l17-7l-19-5l-18 5z" fill="#f2fff2"/>
<path d="M5108 6529l19 4l-18-9l-19-4z" fill="#18ff18" stroke-width="2.6"/>
<path d="M5371 6383l18-15l-20-5l-18 13z" fill="#f5fff5"/>
<path d="M4964 6204l20-20l-18-25l-20 22z" fill="#ff6d6d"/>
<path d="M4795 6234l22-7l-16-11l-22 3z" fill="#ff9b9b"/>
<path d="M4999 6347l20-6l-18-52l-20 9z" fill="#ffefef"/>
<path d="M4626 6272l22-7l-13-1l-23 5z" fill="#ffc6c6"/>
<path d="M4982 6242l20-19l-18-39l-20 20z" fill="#ff8f8f"/>
<path d="M5145 6538l19-30l-18-3l-19 28z" fill="#25ff25" stroke-width="2.6"/>
<path d="M4926 6188l20-7l-16-9l-21 7z" fill="#ff6969"/>
<path d="M5297 6372l17 4l-19-3l-17-5z" fill="#f6fff6"/>
<path d="M4683 6243l20-29l-14-4l-20 32z" fill="#ff9e9e"/>
<path d="M4870 6233l20-26l-16-3l-20 21z" fill="#ff9393"/>
<path d="M5409 6376l17-14l-20-7l-17 13z" fill="#fbfffb"/>
<path d="M4587 6267l25 2l-14-3l-25-4z" fill="#ffc4c4"/>
<path d="M5164 6508l19-50l-18-4l-19 51z" fill="#70ff70" stroke-width="2.6"/>
<path d="M5446 6370l17-11l-20-7l-17 10z" fill="#fdfffd"/>
<path d="M5616 6315l13 16l-20-17l-14-9z" fill="#ffecec"/>
<path d="M5184 6398l19-40l-18-10l-19 41z" fill="#f7fff7"/>
<path d="M4549 6267l24-5l-13-1l-24 4z" fill="#ffc0c0"/>
<path d="M5727 6385l15-9l-23-2l-15 8z" fill="#f3fff3"/>
<path d="M5540 6330l18-23l-22-1l-17 22z" fill="#ffecec"/>
<path d="M5484 6367l17-16l-21-5l-17 13z" fill="#fff"/>
<path d="M4662 6265l21-22l-14-1l-21 23z" fill="#ffb5b5"/>
<path d="M4981 6298l20-9l-19-47l-20 10z" fill="#ffc4c4"/>
<path d="M5260 6360l18 8l-19-4l-18-8z" fill="#fefffe"/>
<path d="M4756 6217l23 2l-17-14l-23-3z" fill="#f88"/>
<path d="M5033 6443l21 34l-18-36l-21-27z" fill="#afffaf" stroke-width="2.6"/>
<path d="M5015 6414l21 27l-18-45l-21-16z" fill="#dcffdc"/>
<path d="M5692 6374l12 8l-21-8l-13-13z" fill="#f9fff9"/>
<path d="M4849 6253l21-20l-16-8l-21 15z" fill="#ffa3a3"/>
<path d="M5767 6371l15-10l-24-1l-16 16z" fill="#fdfffd"/>
<path d="M4943 6213l21-9l-18-23l-20 7z" fill="#ff7676"/>
<path d="M4906 6218l20-30l-17-9l-19 28z" fill="#f77"/>
<path d="M4718 6222l21-20l-15-10l-21 22z" fill="#ff8282"/>
<path d="M4811 6250l22-10l-16-13l-22 7z" fill="#ffa2a2"/>
<path d="M5580 6310l15-5l-21-9l-16 11z" fill="#ffdfdf"/>
<path d="M4514 6359l15-65l-14-4l-15 60z" fill="#ffeded"/>
<path d="M5222 6365l19-9l-19-6l-19 8z" fill="#fffefe"/>
<path d="M5051 6463l21 40l-18-26l-21-34z" fill="#8bff8b" stroke-width="2.6"/>
<path d="M5522 6357l18-27l-21-2l-18 23z" fill="#fff8f8"/>
<path d="M4962 6252l20-10l-18-38l-21 9z" fill="#ff9797"/>
<path d="M5183 6458l20-54l-19-6l-19 56z" fill="#c7ffc7" stroke-width="2.6"/>
<path d="M4997 6380l21 16l-19-49l-21-5z" fill="#fefffe"/>
<path d="M5353 6392l18-9l-20-7l-17 7z" fill="#f5fff5"/>
<path d="M5391 6392l18-16l-20-8l-18 15z" fill="#f7fff7"/>
<path d="M5126 6534l19 4l-18-5l-19-4z" fill="#2f2" stroke-width="2.6"/>
<path d="M5637 6328l13 19l-21-16l-13-16z" fill="#fff0f0"/>
<path d="M4886 6245l20-27l-16-11l-20 26z" fill="#ff9393"/>
<path d="M4529 6294l20-27l-13-2l-21 25z" fill="#ffc7c7"/>
<path d="M5429 6384l17-14l-20-8l-17 14z" fill="#fcfffc"/>
<path d="M4698 6247l20-25l-15-8l-20 29z" fill="#ff9797"/>
<path d="M5316 6378l18 5l-20-7l-17-4z" fill="#fafffa"/>
<path d="M4640 6277l22-12l-14 0l-22 7z" fill="#ffbebe"/>
<path d="M4978 6342l21 5l-18-49l-21 5z" fill="#ffe9e9"/>
<path d="M5467 6378l17-11l-21-8l-17 11z" fill="#fefffe"/>
<path d="M4601 6273l25-1l-14-3l-25-2z" fill="#ffbebe"/>
<path d="M4772 6233l23 1l-16-15l-23-2z" fill="#ff9191"/>
<path d="M5203 6404l19-39l-19-7l-19 40z" fill="#f8fff8"/>
<path d="M5163 6539l20-30l-19-1l-19 30z" fill="#3cff3c" stroke-width="2.6"/>
<path d="M4924 6238l19-25l-17-25l-20 30z" fill="#ff8282"/>
<path d="M5504 6375l18-18l-21-6l-17 16z" fill="#fffefe"/>
<path d="M5069 6476l21 44l-18-17l-21-40z" fill="#7f7" stroke-width="2.6"/>
<path d="M4563 6273l24-6l-14-5l-24 5z" fill="#ffb9b9"/>
<path d="M5183 6509l19-50l-19-1l-19 50z" fill="#83ff83" stroke-width="2.6"/>
<path d="M4828 6265l21-12l-16-13l-22 10z" fill="#faa"/>
<path d="M4866 6267l20-22l-16-12l-21 20z" fill="#ffa7a7"/>
<path d="M4960 6303l21-5l-19-46l-20 16z" fill="#ffc5c5"/>
<path d="M5562 6334l18-24l-22-3l-18 23z" fill="#ffe5e5"/>
<path d="M4734 6232l22-15l-17-15l-21 20z" fill="#ff8585"/>
<path d="M5714 6385l13 0l-23-3l-12-8z" fill="#fafffa"/>
<path d="M4942 6268l20-16l-19-39l-19 25z" fill="#ff9f9f"/>
<path d="M4677 6267l21-20l-15-4l-21 22z" fill="#ffacac"/>
<path d="M5752 6382l15-11l-25 5l-15 9z" fill="#fcfffc"/>
<path d="M5279 6364l18 8l-19-4l-18-8z" fill="#fffefe"/>
<path d="M4528 6369l15-67l-14-8l-15 65z" fill="#ffecec"/>
<path d="M5658 6343l12 18l-20-14l-13-19z" fill="#fff4f4"/>
<path d="M4903 6262l21-24l-18-20l-20 27z" fill="#ff9b9b"/>
<path d="M5601 6316l15-1l-21-10l-15 5z" fill="#fdd"/>
<path d="M5373 6403l18-11l-20-9l-18 9z" fill="#f5fff5"/>
<path d="M5241 6369l19-9l-19-4l-19 9z" fill="#fffcfc"/>
<path d="M5411 6403l18-19l-20-8l-18 16z" fill="#f8fff8"/>
<path d="M4789 6250l22 0l-16-16l-23-1z" fill="#ff9b9b"/>
<path d="M5543 6363l19-29l-22-4l-18 27z" fill="#fff4f4"/>
<path d="M5202 6459l20-53l-19-2l-20 54z" fill="#d3ffd3"/>
<path d="M5449 6394l18-16l-21-8l-17 14z" fill="#fdfffd"/>
<path d="M4543 6302l20-29l-14-6l-20 27z" fill="#ffc2c2"/>
<path d="M4713 6253l21-21l-16-10l-20 25z" fill="#ff9595"/>
<path d="M5336 6387l17 5l-19-9l-18-5z" fill="#fcfffc"/>
<path d="M4845 6281l21-14l-17-14l-21 12z" fill="#ffb1b1"/>
<path d="M4921 6283l21-15l-18-30l-21 24z" fill="#ffadad"/>
<path d="M5487 6387l17-12l-20-8l-17 11z" fill="#fff"/>
<path d="M4883 6282l20-20l-17-17l-20 22z" fill="#ffaeae"/>
<path d="M5144 6536l19 3l-18-1l-19-4z" fill="#37ff37" stroke-width="2.6"/>
<path d="M5087 6484l21 45l-18-9l-21-44z" fill="#74ff74" stroke-width="2.6"/>
<path d="M4616 6281l24-4l-14-5l-25 1z" fill="#ffb9b9"/>
<path d="M4654 6282l23-15l-15-2l-22 12z" fill="#ffb6b6"/>
<path d="M4750 6245l22-12l-16-16l-22 15z" fill="#ff8c8c"/>
<path d="M5222 6406l19-37l-19-4l-19 39z" fill="#fcfffc"/>
<path d="M5525 6384l18-21l-21-6l-18 18z" fill="#fffdfd"/>
<path d="M4578 6282l23-9l-14-6l-24 6z" fill="#ffb6b6"/>
<path d="M4939 6307l21-4l-18-35l-21 15z" fill="#ffc5c5"/>
<path d="M5679 6361l13 13l-22-13l-12-18z" fill="#fff8f8"/>
<path d="M4806 6268l22-3l-17-15l-22 0z" fill="#ffa5a5"/>
<path d="M5583 6340l18-24l-21-6l-18 24z" fill="#ffe1e1"/>
<path d="M4957 6331l21 11l-18-39l-21 4z" fill="#fdd"/>
<path d="M5182 6540l19-32l-18 1l-20 30z" fill="#57ff57" stroke-width="2.6"/>
<path d="M4542 6379l15-66l-14-11l-15 67z" fill="#ffecec"/>
<path d="M5623 6326l14 2l-21-13l-15 1z" fill="#fdd"/>
<path d="M5736 6392l16-10l-25 3l-13 0z" fill="#fefffe"/>
<path d="M5393 6416l18-13l-20-11l-18 11z" fill="#f4fff4"/>
<path d="M4691 6271l22-18l-15-6l-21 20z" fill="#ffa5a5"/>
<path d="M4975 6355l22 25l-19-38l-21-11z" fill="#fff2f2"/>
<path d="M5201 6508l20-49l-19 0l-19 50z" fill="#9aff9a" stroke-width="2.6"/>
<path d="M5299 6370l17 8l-19-6l-18-8z" fill="#fffcfc"/>
<path d="M5431 6415l18-21l-20-10l-18 19z" fill="#f8fff8"/>
<path d="M4900 6298l21-15l-18-21l-20 20z" fill="#ffb9b9"/>
<path d="M4862 6296l21-14l-17-15l-21 14z" fill="#ffb8b8"/>
<path d="M5565 6372l18-32l-21-6l-19 29z" fill="#fff1f1"/>
<path d="M4993 6376l22 38l-18-34l-22-25z" fill="#fff"/>
<path d="M5261 6372l18-8l-19-4l-19 9z" fill="#fff9f9"/>
<path d="M4767 6259l22-9l-17-17l-22 12z" fill="#ff9595"/>
<path d="M5470 6404l17-17l-20-9l-18 16z" fill="#fdfffd"/>
<path d="M4728 6261l22-16l-16-13l-21 21z" fill="#ff9595"/>
<path d="M4557 6313l21-31l-15-9l-20 29z" fill="#ffc1c1"/>
<path d="M5356 6399l17 4l-20-11l-17-5z" fill="#fcfffc"/>
<path d="M5508 6397l17-13l-21-9l-17 12z" fill="#fff"/>
<path d="M5700 6380l14 5l-22-11l-13-13z" fill="#fffcfc"/>
<path d="M4823 6285l22-4l-17-16l-22 3z" fill="#ffafaf"/>
<path d="M5221 6459l20-51l-19-2l-20 53z" fill="#e0ffe0"/>
<path d="M4631 6291l23-9l-14-5l-24 4z" fill="#ffb6b6"/>
<path d="M5011 6394l22 49l-18-29l-22-38z" fill="#f6fff6"/>
<path d="M5105 6489l21 45l-18-5l-21-45z" fill="#7eff7e" stroke-width="2.6"/>
<path d="M4593 6294l23-13l-15-8l-23 9z" fill="#ffb5b5"/>
<path d="M5547 6393l18-21l-22-9l-18 21z" fill="#fffcfc"/>
<path d="M4669 6288l22-17l-14-4l-23 15z" fill="#ffafaf"/>
<path d="M4917 6312l22-5l-18-24l-21 15z" fill="#ffc5c5"/>
<path d="M5644 6340l14 3l-21-15l-14-2z" fill="#ffe1e1"/>
<path d="M5162 6539l20 1l-19-1l-19-3z" fill="#50ff50" stroke-width="2.6"/>
<path d="M4557 6389l16-62l-16-14l-15 66z" fill="#ffeded"/>
<path d="M5241 6408l20-36l-20-3l-19 37z" fill="#fff"/>
<path d="M5413 6430l18-15l-20-12l-18 13z" fill="#f2fff2"/>
<path d="M5605 6349l18-23l-22-10l-18 24z" fill="#ffdfdf"/>
<path d="M4879 6309l21-11l-17-16l-21 14z" fill="#ffbfbf"/>
<path d="M5451 6427l19-23l-21-10l-18 21z" fill="#f7fff7"/>
<path d="M4783 6273l23-5l-17-18l-22 9z" fill="#ff9e9e"/>
<path d="M4706 6276l22-15l-15-8l-22 18z" fill="#ffa0a0"/>
<path d="M5319 6377l17 10l-20-9l-17-8z" fill="#fffafa"/>
<path d="M5029 6406l22 57l-18-20l-22-49z" fill="#ecffec"/>
<path d="M4840 6302l22-6l-17-15l-22 4z" fill="#ffb8b8"/>
<path d="M4573 6327l20-33l-15-12l-21 31z" fill="#ffc4c4"/>
<path d="M4744 6271l23-12l-17-14l-22 16z" fill="#ff9898"/>
<path d="M5721 6403l15-11l-22-7l-14-5z" fill="#fffefe"/>
<path d="M5586 6381l19-32l-22-9l-18 32z" fill="#fff0f0"/>
<path d="M5376 6411l17 5l-20-13l-17-4z" fill="#fafffa"/>
<path d="M5201 6542l19-33l-19-1l-19 32z" fill="#70ff70" stroke-width="2.6"/>
<path d="M5490 6414l18-17l-21-10l-17 17z" fill="#fdfffd"/>
<path d="M4935 6326l22 5l-18-24l-22 5z" fill="#ffd0d0"/>
<path d="M5220 6509l20-50l-19 0l-20 49z" fill="#b0ffb0" stroke-width="2.6"/>
<path d="M5529 6407l18-14l-22-9l-17 13z" fill="#fff"/>
<path d="M5280 6376l19-6l-20-6l-18 8z" fill="#fff4f4"/>
<path d="M5665 6359l14 2l-21-18l-14-3z" fill="#ffe8e8"/>
<path d="M4609 6309l22-18l-15-10l-23 13z" fill="#ffb7b7"/>
<path d="M4646 6302l23-14l-15-6l-23 9z" fill="#ffb4b4"/>
<path d="M5568 6403l18-22l-21-9l-18 21z" fill="#fffcfc"/>
<path d="M4571 6399l17-57l-15-15l-16 62z" fill="#ffefef"/>
<path d="M5433 6444l18-17l-20-12l-18 15z" fill="#efffef"/>
<path d="M4800 6289l23-4l-17-17l-23 5z" fill="#ffa7a7"/>
<path d="M4896 6321l21-9l-17-14l-21 11z" fill="#ffc5c5"/>
<path d="M5627 6362l17-22l-21-14l-18 23z" fill="#ffe1e1"/>
<path d="M4684 6296l22-20l-15-5l-22 17z" fill="#faa"/>
<path d="M5124 6492l20 44l-18-2l-21-45z" fill="#8eff8e" stroke-width="2.6"/>
<path d="M5240 6459l21-50l-20-1l-20 51z" fill="#edffed"/>
<path d="M5472 6439l18-25l-20-10l-19 23z" fill="#f6fff6"/>
<path d="M4952 6339l23 16l-18-24l-22-5z" fill="#ffdada"/>
<path d="M4857 6317l22-8l-17-13l-22 6z" fill="#ffbfbf"/>
<path d="M5047 6415l22 61l-18-13l-22-57z" fill="#e8ffe8"/>
<path d="M5685 6384l15-4l-21-19l-14-2z" fill="#fff1f1"/>
<path d="M4588 6342l21-33l-16-15l-20 33z" fill="#ffc9c9"/>
<path d="M5339 6386l17 13l-20-12l-17-10z" fill="#fffafa"/>
<path d="M5261 6409l19-33l-19-4l-20 36z" fill="#fffbfb"/>
<path d="M5181 6543l20-1l-19-2l-20-1z" fill="#65ff65" stroke-width="2.6"/>
<path d="M4760 6281l23-8l-16-14l-23 12z" fill="#ff9c9c"/>
<path d="M5396 6425l17 5l-20-14l-17-5z" fill="#f8fff8"/>
<path d="M4722 6283l22-12l-16-10l-22 15z" fill="#ff9e9e"/>
<path d="M5608 6392l19-30l-22-13l-19 32z" fill="#fff0f0"/>
<path d="M5512 6425l17-18l-21-10l-18 17z" fill="#fdfffd"/>
<path d="M5551 6417l17-14l-21-10l-18 14z" fill="#fff"/>
<path d="M4624 6324l22-22l-15-11l-22 18z" fill="#fbb"/>
<path d="M4817 6306l23-4l-17-17l-23 4z" fill="#ffb1b1"/>
<path d="M5705 6414l16-11l-21-23l-15 4z" fill="#fffbfb"/>
<path d="M5648 6379l17-20l-21-19l-17 22z" fill="#ffe6e6"/>
<path d="M4662 6314l22-18l-15-8l-23 14z" fill="#ffb4b4"/>
<path d="M5220 6547l20-36l-20-2l-19 33z" fill="#84ff84" stroke-width="2.6"/>
<path d="M4586 6409l18-52l-16-15l-17 57z" fill="#fff1f1"/>
<path d="M5454 6458l18-19l-21-12l-18 17z" fill="#ecffec"/>
<path d="M4913 6332l22-6l-18-14l-21 9z" fill="#ffc8c8"/>
<path d="M5300 6381l19-4l-20-7l-19 6z" fill="#fff0f0"/>
<path d="M5590 6414l18-22l-22-11l-18 22z" fill="#fffcfc"/>
<path d="M4970 6350l23 26l-18-21l-23-16z" fill="#ffe2e2"/>
<path d="M5240 6511l20-50l-20-2l-20 50z" fill="#c1ffc1" stroke-width="2.6"/>
<path d="M4874 6331l22-10l-17-12l-22 8z" fill="#ffc4c4"/>
<path d="M4604 6357l20-33l-15-15l-21 33z" fill="#ffcfcf"/>
<path d="M4700 6304l22-21l-16-7l-22 20z" fill="#ffa7a7"/>
<path d="M5493 6451l19-26l-22-11l-18 25z" fill="#f6fff6"/>
<path d="M4777 6294l23-5l-17-16l-23 8z" fill="#ffa1a1"/>
<path d="M5416 6440l17 4l-20-14l-17-5z" fill="#f4fff4"/>
<path d="M5359 6397l17 14l-20-12l-17-13z" fill="#fffafa"/>
<path d="M5629 6405l19-26l-21-17l-19 30z" fill="#fff3f3"/>
<path d="M5065 6420l22 64l-18-8l-22-61z" fill="#eaffea"/>
<path d="M4738 6291l22-10l-16-10l-22 12z" fill="#ff9d9d"/>
<path d="M5669 6399l16-15l-20-25l-17 20z" fill="#fff0f0"/>
<path d="M4834 6323l23-6l-17-15l-23 4z" fill="#ffbaba"/>
<path d="M5143 6495l19 44l-18-3l-20-44z" fill="#9fff9f" stroke-width="2.6"/>
<path d="M5260 6461l20-49l-19-3l-21 50z" fill="#f6fff6"/>
<path d="M5533 6435l18-18l-22-10l-17 18z" fill="#fdfffd"/>
<path d="M4641 6339l21-25l-16-12l-22 22z" fill="#ffc0c0"/>
<path d="M5201 6551l19-4l-19-5l-20 1z" fill="#75ff75" stroke-width="2.6"/>
<path d="M5280 6412l20-31l-20-5l-19 33z" fill="#fff7f7"/>
<path d="M5573 6428l17-14l-22-11l-17 14z" fill="#fff"/>
<path d="M4988 6360l23 34l-18-18l-23-26z" fill="#ffe7e7"/>
<path d="M4601 6420l19-47l-16-16l-18 52z" fill="#fff4f4"/>
<path d="M5475 6471l18-20l-21-12l-18 19z" fill="#eaffea"/>
<path d="M4930 6341l22-2l-17-13l-22 6z" fill="#ffcbcb"/>
<path d="M5689 6425l16-11l-20-30l-16 15z" fill="#fffbfb"/>
<path d="M4678 6325l22-21l-16-8l-22 18z" fill="#ffb4b4"/>
<path d="M5612 6425l17-20l-21-13l-18 22z" fill="#fffcfc"/>
<path d="M4620 6373l21-34l-17-15l-20 33z" fill="#ffd5d5"/>
<path d="M4891 6344l22-12l-17-11l-22 10z" fill="#ffc7c7"/>
<path d="M4794 6310l23-4l-17-17l-23 5z" fill="#ffa9a9"/>
<path d="M5320 6387l19-1l-20-9l-19 4z" fill="#fee"/>
<path d="M5437 6454l17 4l-21-14l-17-4z" fill="#f1fff1"/>
<path d="M5651 6419l18-20l-21-20l-19 26z" fill="#fff7f7"/>
<path d="M5240 6553l20-38l-20-4l-20 36z" fill="#93ff93" stroke-width="2.6"/>
<path d="M5514 6461l19-26l-21-10l-19 26z" fill="#f5fff5"/>
<path d="M4852 6340l22-9l-17-14l-23 6z" fill="#ffc1c1"/>
<path d="M4716 6313l22-22l-16-8l-22 21z" fill="#ffa5a5"/>
<path d="M5379 6408l17 17l-20-14l-17-14z" fill="#fffbfb"/>
<path d="M4754 6302l23-8l-17-13l-22 10z" fill="#ff9e9e"/>
<path d="M5260 6515l20-51l-20-3l-20 50z" fill="#cfffcf" stroke-width="2.6"/>
<path d="M4657 6354l21-29l-16-11l-21 25z" fill="#ffc4c4"/>
<path d="M5555 6445l18-17l-22-11l-18 18z" fill="#fdfffd"/>
<path d="M5084 6424l21 65l-18-5l-22-64z" fill="#f0fff0"/>
<path d="M4617 6430l19-42l-16-15l-19 47z" fill="#fff6f6"/>
<path d="M5595 6438l17-13l-22-11l-17 14z" fill="#fff"/>
<path d="M5006 6367l23 39l-18-12l-23-34z" fill="#ffe8e8"/>
<path d="M4636 6388l21-34l-16-15l-21 34z" fill="#ffdbdb"/>
<path d="M4812 6328l22-5l-17-17l-23 4z" fill="#ffb3b3"/>
<path d="M5496 6482l18-21l-21-10l-18 20z" fill="#e9ffe9"/>
<path d="M5673 6436l16-11l-20-26l-18 20z" fill="#fffdfd"/>
<path d="M5162 6501l19 42l-19-4l-19-44z" fill="#adffad" stroke-width="2.6"/>
<path d="M4948 6350l22 0l-18-11l-22 2z" fill="#ffcbcb"/>
<path d="M5634 6436l17-17l-22-14l-17 20z" fill="#fffdfd"/>
<path d="M5220 6560l20-7l-20-6l-19 4z" fill="#7fff7f" stroke-width="2.6"/>
<path d="M5280 6464l21-48l-21-4l-20 49z" fill="#fcfffc"/>
<path d="M4694 6336l22-23l-16-9l-22 21z" fill="#ffb4b4"/>
<path d="M5301 6416l19-29l-20-6l-20 31z" fill="#fff2f2"/>
<path d="M4909 6355l21-14l-17-9l-22 12z" fill="#ffc8c8"/>
<path d="M5458 6468l17 3l-21-13l-17-4z" fill="#efe"/>
<path d="M4869 6356l22-12l-17-13l-22 9z" fill="#ffc7c7"/>
<path d="M5341 6394l18 3l-20-11l-19 1z" fill="#ffecec"/>
<path d="M5400 6421l16 19l-20-15l-17-17z" fill="#fffdfd"/>
<path d="M5536 6470l19-25l-22-10l-19 26z" fill="#f6fff6"/>
<path d="M4771 6316l23-6l-17-16l-23 8z" fill="#ffa3a3"/>
<path d="M4732 6323l22-21l-16-11l-22 22z" fill="#ffa4a4"/>
<path d="M4673 6367l21-31l-16-11l-21 29z" fill="#ffc7c7"/>
<path d="M5260 6561l20-41l-20-5l-20 38z" fill="#9eff9e" stroke-width="2.6"/>
<path d="M4829 6348l23-8l-18-17l-22 5z" fill="#ffbdbd"/>
<path d="M4652 6402l21-35l-16-13l-21 34z" fill="#ffdfdf"/>
<path d="M5577 6455l18-17l-22-10l-18 17z" fill="#fefffe"/>
<path d="M4632 6441l20-39l-16-14l-19 42z" fill="#fff7f7"/>
<path d="M5280 6520l21-52l-21-4l-20 51z" fill="#daffda"/>
<path d="M5617 6449l17-13l-22-11l-17 13z" fill="#fff"/>
<path d="M5656 6447l17-11l-22-17l-17 17z" fill="#fff"/>
<path d="M5024 6372l23 43l-18-9l-23-39z" fill="#ffe7e7"/>
<path d="M5518 6490l18-20l-22-9l-18 21z" fill="#eaffea"/>
<path d="M4966 6357l22 3l-18-10l-22 0z" fill="#ffcaca"/>
<path d="M4710 6346l22-23l-16-10l-22 23z" fill="#ffb4b4"/>
<path d="M5102 6428l22 64l-19-3l-21-65z" fill="#f7fff7"/>
<path d="M4887 6372l22-17l-18-11l-22 12z" fill="#fcc"/>
<path d="M5479 6480l17 2l-21-11l-17-3z" fill="#ecffec"/>
<path d="M5240 6570l20-9l-20-8l-20 7z" fill="#86ff86" stroke-width="2.6"/>
<path d="M5181 6510l20 41l-20-8l-19-42z" fill="#b6ffb6" stroke-width="2.6"/>
<path d="M4926 6365l22-15l-18-9l-21 14z" fill="#ffc8c8"/>
<path d="M4788 6334l24-6l-18-18l-23 6z" fill="#ffacac"/>
<path d="M5421 6434l16 20l-21-14l-16-19z" fill="#fffefe"/>
<path d="M5321 6421l20-27l-21-7l-19 29z" fill="#fee"/>
<path d="M5301 6468l20-47l-20-5l-21 48z" fill="#fff"/>
<path d="M4847 6367l22-11l-17-16l-23 8z" fill="#ffc6c6"/>
<path d="M5362 6403l17 5l-20-11l-18-3z" fill="#ffebeb"/>
<path d="M4748 6334l23-18l-17-14l-22 21z" fill="#ffa7a7"/>
<path d="M5559 6477l18-22l-22-10l-19 25z" fill="#f8fff8"/>
<path d="M4689 6377l21-31l-16-10l-21 31z" fill="#ffc8c8"/>
<path d="M4668 6413l21-36l-16-10l-21 35z" fill="#ffe1e1"/>
<path d="M5280 6570l20-43l-20-7l-20 41z" fill="#a7ffa7" stroke-width="2.6"/>
<path d="M4648 6452l20-39l-16-11l-20 39z" fill="#fff8f8"/>
<path d="M5600 6463l17-14l-22-11l-18 17z" fill="#fefffe"/>
<path d="M4806 6353l23-5l-17-20l-24 6z" fill="#ffb7b7"/>
<path d="M5640 6459l16-12l-22-11l-17 13z" fill="#fff"/>
<path d="M4905 6386l21-21l-17-10l-22 17z" fill="#ffcfcf"/>
<path d="M4865 6386l22-14l-18-16l-22 11z" fill="#ffcfcf"/>
<path d="M4726 6355l22-21l-16-11l-22 23z" fill="#ffb4b4"/>
<path d="M5300 6527l21-54l-20-5l-21 52z" fill="#e2ffe2"/>
<path d="M5501 6491l17-1l-22-8l-17-2z" fill="#ecffec"/>
<path d="M5442 6448l16 20l-21-14l-16-20z" fill="#fff"/>
<path d="M4984 6363l22 4l-18-7l-22-3z" fill="#ffc7c7"/>
<path d="M5042 6376l23 44l-18-5l-23-43z" fill="#ffe2e2"/>
<path d="M5540 6496l19-19l-23-7l-18 20z" fill="#efe"/>
<path d="M4944 6374l22-17l-18-7l-22 15z" fill="#ffc6c6"/>
<path d="M5260 6582l20-12l-20-9l-20 9z" fill="#8aff8a" stroke-width="2.6"/>
<path d="M4765 6347l23-13l-17-18l-23 18z" fill="#ffacac"/>
<path d="M5201 6521l19 39l-19-9l-20-41z" fill="#baffba" stroke-width="2.6"/>
<path d="M5122 6432l21 63l-19-3l-22-64z" fill="#fdfffd"/>
<path d="M5383 6413l17 8l-21-13l-17-5z" fill="#ffebeb"/>
<path d="M5342 6427l20-24l-21-9l-20 27z" fill="#ffeaea"/>
<path d="M4705 6385l21-30l-16-9l-21 31z" fill="#ffc7c7"/>
<path d="M4824 6372l23-5l-18-19l-23 5z" fill="#ffc2c2"/>
<path d="M5321 6473l21-46l-21-6l-20 47z" fill="#fffdfd"/>
<path d="M5582 6482l18-19l-23-8l-18 22z" fill="#fbfffb"/>
<path d="M4684 6421l21-36l-16-8l-21 36z" fill="#ffe0e0"/>
<path d="M4664 6463l20-42l-16-8l-20 39z" fill="#fff7f7"/>
<path d="M4883 6403l22-17l-18-14l-22 14z" fill="#ffd5d5"/>
<path d="M5623 6471l17-12l-23-10l-17 14z" fill="#fff"/>
<path d="M5300 6578l21-44l-21-7l-20 43z" fill="#afffaf" stroke-width="2.6"/>
<path d="M4923 6398l21-24l-18-9l-21 21z" fill="#ffd0d0"/>
<path d="M4782 6360l24-7l-18-19l-23 13z" fill="#ffb3b3"/>
<path d="M5464 6463l15 17l-21-12l-16-20z" fill="#fefffe"/>
<path d="M4742 6363l23-16l-17-13l-22 21z" fill="#ffb4b4"/>
<path d="M4842 6391l23-5l-18-19l-23 5z" fill="#fcc"/>
<path d="M5523 6500l17-4l-22-6l-17 1z" fill="#efffef"/>
<path d="M5321 6534l21-54l-21-7l-21 54z" fill="#e8ffe8"/>
<path d="M5221 6533l19 37l-20-10l-19-39z" fill="#bcffbc" stroke-width="2.6"/>
<path d="M5002 6370l22 2l-18-5l-22-4z" fill="#ffc2c2"/>
<path d="M5404 6424l17 10l-21-13l-17-8z" fill="#ffecec"/>
<path d="M5281 6593l19-15l-20-8l-20 12z" fill="#8fff8f" stroke-width="2.6"/>
<path d="M4962 6383l22-20l-18-6l-22 17z" fill="#ffc3c3"/>
<path d="M5061 6380l23 44l-19-4l-23-44z" fill="#ffdcdc"/>
<path d="M5564 6498l18-16l-23-5l-19 19z" fill="#f5fff5"/>
<path d="M5363 6435l20-22l-21-10l-20 24z" fill="#ffe8e8"/>
<path d="M5141 6439l21 62l-19-6l-21-63z" fill="#fff"/>
<path d="M4720 6390l22-27l-16-8l-21 30z" fill="#ffc4c4"/>
<path d="M4901 6417l22-19l-18-12l-22 17z" fill="#ffdada"/>
<path d="M5342 6480l21-45l-21-8l-21 46z" fill="#fffafa"/>
<path d="M4800 6374l24-2l-18-19l-24 7z" fill="#fbb"/>
<path d="M4680 6474l19-48l-15-5l-20 42z" fill="#fff6f6"/>
<path d="M5606 6483l17-12l-23-8l-18 19z" fill="#fefffe"/>
<path d="M4699 6426l21-36l-15-5l-21 36z" fill="#ffdbdb"/>
<path d="M4860 6408l23-5l-18-17l-23 5z" fill="#ffd4d4"/>
<path d="M5485 6477l16 14l-22-11l-15-17z" fill="#fdfffd"/>
<path d="M4941 6408l21-25l-18-9l-21 24z" fill="#ffcfcf"/>
<path d="M4759 6370l23-10l-17-13l-23 16z" fill="#ffb4b4"/>
<path d="M5321 6586l21-45l-21-7l-21 44z" fill="#b6ffb6" stroke-width="2.6"/>
<path d="M5426 6437l16 11l-21-14l-17-10z" fill="#fee"/>
<path d="M5242 6547l18 35l-20-12l-19-37z" fill="#bfb" stroke-width="2.6"/>
<path d="M5301 6603l20-17l-21-8l-19 15z" fill="#94ff94" stroke-width="2.6"/>
<path d="M4980 6390l22-20l-18-7l-22 20z" fill="#ffbfbf"/>
<path d="M5342 6541l22-53l-22-8l-21 54z" fill="#edffed"/>
<path d="M5547 6505l17-7l-24-2l-17 4z" fill="#f5fff5"/>
<path d="M5020 6376l22 0l-18-4l-22-2z" fill="#ffbcbc"/>
<path d="M5385 6444l19-20l-21-11l-20 22z" fill="#ffe7e7"/>
<path d="M4817 6387l25 4l-18-19l-24 2z" fill="#ffc2c2"/>
<path d="M4919 6429l22-21l-18-10l-22 19z" fill="#ffdbdb"/>
<path d="M5080 6384l22 44l-18-4l-23-44z" fill="#ffd4d4"/>
<path d="M5161 6448l20 62l-19-9l-21-62z" fill="#fffefe"/>
<path d="M4878 6423l23-6l-18-14l-23 5z" fill="#ffdada"/>
<path d="M5588 6495l18-12l-24-1l-18 16z" fill="#fdfffd"/>
<path d="M4736 6392l23-22l-17-7l-22 27z" fill="#ffbebe"/>
<path d="M5364 6488l21-44l-22-9l-21 45z" fill="#fff8f8"/>
<path d="M5507 6492l16 8l-22-9l-16-14z" fill="#fdfffd"/>
<path d="M4696 6485l19-56l-16-3l-19 48z" fill="#fff3f3"/>
<path d="M4775 6377l25-3l-18-14l-23 10z" fill="#ffb4b4"/>
<path d="M4959 6417l21-27l-18-7l-21 25z" fill="#ffcdcd"/>
<path d="M5447 6452l17 11l-22-15l-16-11z" fill="#fff1f1"/>
<path d="M4715 6429l21-37l-16-2l-21 36z" fill="#ffd3d3"/>
<path d="M5342 6593l21-45l-21-7l-21 45z" fill="#bfffbf" stroke-width="2.6"/>
<path d="M5262 6561l19 32l-21-11l-18-35z" fill="#bfb" stroke-width="2.6"/>
<path d="M4835 6401l25 7l-18-17l-25-4z" fill="#ffc8c8"/>
<path d="M5406 6455l20-18l-22-13l-19 20z" fill="#ffe7e7"/>
<path d="M5322 6611l20-18l-21-7l-20 17z" fill="#9cff9c" stroke-width="2.6"/>
<path d="M4999 6397l21-21l-18-6l-22 20z" fill="#ffbaba"/>
<path d="M5363 6548l22-51l-21-9l-22 53z" fill="#f2fff2"/>
<path d="M4896 6435l23-6l-18-12l-23 6z" fill="#ffdcdc"/>
<path d="M4937 6437l22-20l-18-9l-22 21z" fill="#ffdada"/>
<path d="M5039 6382l22-2l-19-4l-22 0z" fill="#ffb5b5"/>
<path d="M5181 6460l20 61l-20-11l-20-62z" fill="#fffefe"/>
<path d="M5570 6507l18-12l-24 3l-17 7z" fill="#fdfffd"/>
<path d="M5100 6389l22 43l-20-4l-22-44z" fill="#ffcdcd"/>
<path d="M5385 6497l21-42l-21-11l-21 44z" fill="#fff7f7"/>
<path d="M5469 6469l16 8l-21-14l-17-11z" fill="#fff4f4"/>
<path d="M5530 6506l17-1l-24-5l-16-8z" fill="#fdfffd"/>
<path d="M4752 6394l23-17l-16-7l-23 22z" fill="#ffb6b6"/>
<path d="M4792 6384l25 3l-17-13l-25 3z" fill="#ffb3b3"/>
<path d="M4713 6497l18-67l-16-1l-19 56z" fill="#fff0f0"/>
<path d="M4977 6424l22-27l-19-7l-21 27z" fill="#ffc9c9"/>
<path d="M4853 6413l25 10l-18-15l-25-7z" fill="#fcc"/>
<path d="M5283 6574l18 29l-20-10l-19-32z" fill="#bfb" stroke-width="2.6"/>
<path d="M5364 6598l21-43l-22-7l-21 45z" fill="#c8ffc8" stroke-width="2.6"/>
<path d="M5428 6469l19-17l-21-15l-20 18z" fill="#ffe9e9"/>
<path d="M4731 6430l21-36l-16-2l-21 37z" fill="#ffcaca"/>
<path d="M4914 6444l23-7l-18-8l-23 6z" fill="#ffdcdc"/>
<path d="M5202 6473l19 60l-20-12l-20-61z" fill="#fffefe"/>
<path d="M5385 6555l22-48l-22-10l-22 51z" fill="#f5fff5"/>
<path d="M5018 6404l21-22l-19-6l-21 21z" fill="#ffb5b5"/>
<path d="M5491 6488l16 4l-22-15l-16-8z" fill="#fff7f7"/>
<path d="M4955 6444l22-20l-18-7l-22 20z" fill="#ffd6d6"/>
<path d="M5344 6617l20-19l-22-5l-20 18z" fill="#a7ffa7" stroke-width="2.6"/>
<path d="M5058 6388l22-4l-19-4l-22 2z" fill="#ffaeae"/>
<path d="M5407 6507l21-38l-22-14l-21 42z" fill="#fff7f7"/>
<path d="M5552 6519l18-12l-23-2l-17 1z" fill="#fff"/>
<path d="M5120 6396l21 43l-19-7l-22-43z" fill="#ffc7c7"/>
<path d="M4809 6391l26 10l-18-14l-25-3z" fill="#ffb2b2"/>
<path d="M4871 6425l25 10l-18-12l-25-10z" fill="#ffcece"/>
<path d="M4768 6395l24-11l-17-7l-23 17z" fill="#ffaeae"/>
<path d="M5304 6587l18 24l-21-8l-18-29z" fill="#bcffbc" stroke-width="2.6"/>
<path d="M4729 6508l18-75l-16-3l-18 67z" fill="#ffecec"/>
<path d="M4996 6431l22-27l-19-7l-22 27z" fill="#ffc4c4"/>
<path d="M5450 6484l19-15l-22-17l-19 17z" fill="#ffecec"/>
<path d="M5512 6509l18-3l-23-14l-16-4z" fill="#fffbfb"/>
<path d="M5223 6489l19 58l-21-14l-19-60z" fill="#fff"/>
<path d="M5386 6600l22-39l-23-6l-21 43z" fill="#d3ffd3"/>
<path d="M4932 6451l23-7l-18-7l-23 7z" fill="#ffd8d8"/>
<path d="M4747 6433l21-38l-16-1l-21 36z" fill="#ffbfbf"/>
<path d="M5408 6561l21-43l-22-11l-22 48z" fill="#f8fff8"/>
<path d="M5429 6518l21-34l-22-15l-21 38z" fill="#fff7f7"/>
<path d="M5037 6411l21-23l-19-6l-21 22z" fill="#ffafaf"/>
<path d="M4974 6449l22-18l-19-7l-22 20z" fill="#ffd1d1"/>
<path d="M5078 6395l22-6l-20-5l-22 4z" fill="#ffa7a7"/>
<path d="M5472 6502l19-14l-22-19l-19 15z" fill="#fff1f1"/>
<path d="M4827 6399l26 14l-18-12l-26-10z" fill="#ffb2b2"/>
<path d="M5366 6620l20-20l-22-2l-20 19z" fill="#b7ffb7" stroke-width="2.6"/>
<path d="M5140 6407l21 41l-20-9l-21-43z" fill="#ffc4c4"/>
<path d="M4889 6435l25 9l-18-9l-25-10z" fill="#ffcdcd"/>
<path d="M5534 6532l18-13l-22-13l-18 3z" fill="#fffefe"/>
<path d="M5326 6598l18 19l-22-6l-18-24z" fill="#c2ffc2" stroke-width="2.6"/>
<path d="M4746 6520l17-83l-16-4l-18 75z" fill="#ffe8e8"/>
<path d="M5015 6437l22-26l-19-7l-22 27z" fill="#ffbfbf"/>
<path d="M4785 6398l24-7l-17-7l-24 11z" fill="#ffa5a5"/>
<path d="M5244 6505l18 56l-20-14l-19-58z" fill="#fff"/>
<path d="M5451 6530l21-28l-22-18l-21 34z" fill="#fff9f9"/>
<path d="M5494 6522l18-13l-21-21l-19 14z" fill="#fff7f7"/>
<path d="M4950 6457l24-8l-19-5l-23 7z" fill="#ffd3d3"/>
<path d="M5430 6566l21-36l-22-12l-21 43z" fill="#fafffa"/>
<path d="M5056 6418l22-23l-20-7l-21 23z" fill="#faa"/>
<path d="M5409 6599l21-33l-22-5l-22 39z" fill="#e0ffe0"/>
<path d="M4845 6410l26 15l-18-12l-26-14z" fill="#ffb1b1"/>
<path d="M4763 6437l22-39l-17-3l-21 38z" fill="#ffb4b4"/>
<path d="M4992 6454l23-17l-19-6l-22 18z" fill="#ffcbcb"/>
<path d="M5160 6419l21 41l-20-12l-21-41z" fill="#ffc3c3"/>
<path d="M5098 6403l22-7l-20-7l-22 6z" fill="#ffa2a2"/>
<path d="M4908 6445l24 6l-18-7l-25-9z" fill="#ffcbcb"/>
<path d="M5265 6523l18 51l-21-13l-18-56z" fill="#fefffe"/>
<path d="M5516 6545l18-13l-22-23l-18 13z" fill="#fffdfd"/>
<path d="M4764 6532l16-89l-17-6l-17 83z" fill="#ffe5e5"/>
<path d="M5389 6618l20-19l-23 1l-20 20z" fill="#cbffcb" stroke-width="2.6"/>
<path d="M5348 6607l18 13l-22-3l-18-19z" fill="#cbffcb" stroke-width="2.6"/>
<path d="M5474 6544l20-22l-22-20l-21 28z" fill="#fffbfb"/>
<path d="M5034 6444l22-26l-19-7l-22 26z" fill="#ffbaba"/>
<path d="M4802 6404l25-5l-18-8l-24 7z" fill="#ff9f9f"/>
<path d="M4864 6424l25 11l-18-10l-26-15z" fill="#ffb2b2"/>
<path d="M5454 6569l20-25l-23-14l-21 36z" fill="#fdfffd"/>
<path d="M5181 6433l21 40l-21-13l-21-41z" fill="#ffc5c5"/>
<path d="M5076 6427l22-24l-20-8l-22 23z" fill="#ffa6a6"/>
<path d="M4969 6462l23-8l-18-5l-24 8z" fill="#fcc"/>
<path d="M5286 6541l18 46l-21-13l-18-51z" fill="#fcfffc"/>
<path d="M5118 6414l22-7l-20-11l-22 7z" fill="#ffa0a0"/>
<path d="M5012 6460l22-16l-19-7l-23 17z" fill="#ffc5c5"/>
<path d="M4780 6443l22-39l-17-6l-22 39z" fill="#ffacac"/>
<path d="M4926 6454l24 3l-18-6l-24-6z" fill="#ffc7c7"/>
<path d="M5497 6558l19-13l-22-23l-20 22z" fill="#fffefe"/>
<path d="M5433 6594l21-25l-24-3l-21 33z" fill="#efffef"/>
<path d="M4781 6544l17-90l-18-11l-16 89z" fill="#ffe4e4"/>
<path d="M5054 6452l22-25l-20-9l-22 26z" fill="#ffb6b6"/>
<path d="M4820 6414l25-4l-18-11l-25 5z" fill="#ff9c9c"/>
<path d="M5371 6613l18 5l-23 2l-18-13z" fill="#d8ffd8"/>
<path d="M5202 6449l21 40l-21-16l-21-40z" fill="#ffc9c9"/>
<path d="M4882 6437l26 8l-19-10l-25-11z" fill="#ffb2b2"/>
<path d="M5308 6559l18 39l-22-11l-18-46z" fill="#fafffa"/>
<path d="M5413 6611l20-17l-24 5l-20 19z" fill="#e3ffe3"/>
<path d="M5096 6438l22-24l-20-11l-22 24z" fill="#ffa4a4"/>
<path d="M5478 6571l19-13l-23-14l-20 25z" fill="#fff"/>
<path d="M5139 6427l21-8l-20-12l-22 7z" fill="#ffa0a0"/>
<path d="M4988 6467l24-7l-20-6l-23 8z" fill="#ffc5c5"/>
<path d="M4798 6454l22-40l-18-10l-22 39z" fill="#ffa9a9"/>
<path d="M5031 6467l23-15l-20-8l-22 16z" fill="#ffbfbf"/>
<path d="M4945 6463l24-1l-19-5l-24-3z" fill="#ffc2c2"/>
<path d="M4799 6556l18-87l-19-15l-17 90z" fill="#ffe4e4"/>
<path d="M4839 6429l25-5l-19-14l-25 4z" fill="#ff9e9e"/>
<path d="M5224 6467l20 38l-21-16l-21-40z" fill="#ffcece"/>
<path d="M5074 6462l22-24l-20-11l-22 25z" fill="#ffb3b3"/>
<path d="M4901 6451l25 3l-18-9l-26-8z" fill="#ffb2b2"/>
<path d="M5458 6585l20-14l-24-2l-21 25z" fill="#fbfffb"/>
<path d="M5330 6577l18 30l-22-9l-18-39z" fill="#f9fff9"/>
<path d="M5117 6450l22-23l-21-13l-22 24z" fill="#ffa4a4"/>
<path d="M5159 6441l22-8l-21-14l-21 8z" fill="#ffa2a2"/>
<path d="M4817 6469l22-40l-19-15l-22 40z" fill="#faa"/>
<path d="M5394 6615l19-4l-24 7l-18-5z" fill="#e9ffe9"/>
<path d="M4817 6569l18-84l-18-16l-18 87z" fill="#ffe6e6"/>
<path d="M5245 6487l20 36l-21-18l-20-38z" fill="#ffd4d4"/>
<path d="M4858 6446l24-9l-18-13l-25 5z" fill="#ffa1a1"/>
<path d="M5008 6473l23-6l-19-7l-24 7z" fill="#ffbdbd"/>
<path d="M5051 6475l23-13l-20-10l-23 15z" fill="#fbb"/>
<path d="M4965 6471l23-4l-19-5l-24 1z" fill="#ffbcbc"/>
<path d="M5094 6473l23-23l-21-12l-22 24z" fill="#ffb2b2"/>
<path d="M5438 6598l20-13l-25 9l-20 17z" fill="#f9fff9"/>
<path d="M4921 6464l24-1l-19-9l-25-3z" fill="#ffb2b2"/>
<path d="M5181 6455l21-6l-21-16l-22 8z" fill="#ffa6a6"/>
<path d="M5352 6594l19 19l-23-6l-18-30z" fill="#fafffa"/>
<path d="M5137 6463l22-22l-20-14l-22 23z" fill="#ffa6a6"/>
<path d="M4835 6485l23-39l-19-17l-22 40z" fill="#ffafaf"/>
<path d="M5267 6509l19 32l-21-18l-20-36z" fill="#ffdbdb"/>
<path d="M4836 6582l19-80l-20-17l-18 84z" fill="#ffe8e8"/>
<path d="M4877 6463l24-12l-19-14l-24 9z" fill="#ffa6a6"/>
<path d="M5071 6485l23-12l-20-11l-23 13z" fill="#ffb8b8"/>
<path d="M5028 6481l23-6l-20-8l-23 6z" fill="#ffb8b8"/>
<path d="M5115 6485l22-22l-20-13l-23 23z" fill="#ffb2b2"/>
<path d="M4984 6480l24-7l-20-6l-23 4z" fill="#ffb6b6"/>
<path d="M5202 6472l22-5l-22-18l-21 6z" fill="#ffabab"/>
<path d="M5289 6532l19 27l-22-18l-19-32z" fill="#ffe3e3"/>
<path d="M5158 6477l23-22l-22-14l-22 22z" fill="#ffa8a8"/>
<path d="M4855 6502l22-39l-19-17l-23 39z" fill="#ffb5b5"/>
<path d="M5418 6612l20-14l-25 13l-19 4z" fill="#fafffa"/>
<path d="M4940 6476l25-5l-20-8l-24 1z" fill="#ffb0b0"/>
<path d="M5375 6611l19 4l-23-2l-19-19z" fill="#fbfffb"/>
<path d="M4854 6595l20-75l-19-18l-19 80z" fill="#ffeaea"/>
<path d="M4897 6480l24-16l-20-13l-24 12z" fill="#faa"/>
<path d="M5224 6491l21-4l-21-20l-22 5z" fill="#ffb3b3"/>
<path d="M5092 6497l23-12l-21-12l-23 12z" fill="#ffb7b7"/>
<path d="M5311 6557l19 20l-22-18l-19-27z" fill="#ffebeb"/>
<path d="M5136 6499l22-22l-21-14l-22 22z" fill="#ffb4b4"/>
<path d="M5048 6490l23-5l-20-10l-23 6z" fill="#ffb4b4"/>
<path d="M4874 6520l23-40l-20-17l-22 39z" fill="#fbb"/>
<path d="M5180 6493l22-21l-21-17l-23 22z" fill="#ffacac"/>
<path d="M5004 6489l24-8l-20-8l-24 7z" fill="#ffb1b1"/>
<path d="M4960 6488l24-8l-19-9l-25 5z" fill="#ffadad"/>
<path d="M4873 6608l21-71l-20-17l-20 75z" fill="#ffecec"/>
<path d="M4916 6496l24-20l-19-12l-24 16z" fill="#ffadad"/>
<path d="M5245 6512l22-3l-22-22l-21 4z" fill="#ffbdbd"/>
<path d="M5333 6583l19 11l-22-17l-19-20z" fill="#fff2f2"/>
<path d="M5398 6626l20-14l-24 3l-19-4z" fill="#fefffe"/>
<path d="M5157 6515l23-22l-22-16l-22 22z" fill="#ffb7b7"/>
<path d="M5113 6510l23-11l-21-14l-23 12z" fill="#ffb8b8"/>
<path d="M4894 6537l22-41l-19-16l-23 40z" fill="#ffc0c0"/>
<path d="M5201 6512l23-21l-22-19l-22 21z" fill="#ffb3b3"/>
<path d="M5069 6501l23-4l-21-12l-23 5z" fill="#ffb2b2"/>
<path d="M5267 6536l22-4l-22-23l-22 3z" fill="#ffc8c8"/>
<path d="M5355 6611l20 0l-23-17l-19-11z" fill="#fff9f9"/>
<path d="M5024 6499l24-9l-20-9l-24 8z" fill="#ffadad"/>
<path d="M4893 6621l20-68l-19-16l-21 71z" fill="#fee"/>
<path d="M4936 6510l24-22l-20-12l-24 20z" fill="#ffaeae"/>
<path d="M4980 6499l24-10l-20-9l-24 8z" fill="#ffabab"/>
<path d="M5223 6533l22-21l-21-21l-23 21z" fill="#ffbcbc"/>
<path d="M5179 6532l22-20l-21-19l-23 22z" fill="#ffbcbc"/>
<path d="M5289 6562l22-5l-22-25l-22 4z" fill="#ffd5d5"/>
<path d="M4913 6553l23-43l-20-14l-22 41z" fill="#ffc4c4"/>
<path d="M5135 6525l22-10l-21-16l-23 11z" fill="#ffbaba"/>
<path d="M5377 6641l21-15l-23-15l-20 0z" fill="#fffefe"/>
<path d="M5090 6514l23-4l-21-13l-23 4z" fill="#ffb1b1"/>
<path d="M4912 6635l21-69l-20-13l-20 68z" fill="#ffefef"/>
<path d="M5312 6591l21-8l-22-26l-22 5z" fill="#ffe2e2"/>
<path d="M5245 6556l22-20l-22-24l-22 21z" fill="#ffc7c7"/>
<path d="M4956 6523l24-24l-20-11l-24 22z" fill="#ffaeae"/>
<path d="M5045 6510l24-9l-21-11l-24 9z" fill="#faa"/>
<path d="M5201 6552l22-19l-22-21l-22 20z" fill="#ffc4c4"/>
<path d="M5000 6509l24-10l-20-10l-24 10z" fill="#ffa8a8"/>
<path d="M5156 6543l23-11l-22-17l-22 10z" fill="#ffbfbf"/>
<path d="M4933 6566l23-43l-20-13l-23 43z" fill="#ffc5c5"/>
<path d="M5334 6622l21-11l-22-28l-21 8z" fill="#fff0f0"/>
<path d="M5267 6581l22-19l-22-26l-22 20z" fill="#ffd3d3"/>
<path d="M5111 6529l24-4l-22-15l-23 4z" fill="#ffb3b3"/>
<path d="M5356 6655l21-14l-22-30l-21 11z" fill="#fffbfb"/>
<path d="M5223 6574l22-18l-22-23l-22 19z" fill="#ffcdcd"/>
<path d="M4932 6648l21-69l-20-13l-21 69z" fill="#ffefef"/>
<path d="M5290 6608l22-17l-23-29l-22 19z" fill="#ffe0e0"/>
<path d="M4976 6535l24-26l-20-10l-24 24z" fill="#ffadad"/>
<path d="M5066 6522l24-8l-21-13l-24 9z" fill="#ffa9a9"/>
<path d="M5178 6563l23-11l-22-20l-23 11z" fill="#ffc5c5"/>
<path d="M5021 6520l24-10l-21-11l-24 10z" fill="#ffa5a5"/>
<path d="M4953 6579l23-44l-20-12l-23 43z" fill="#ffc5c5"/>
<path d="M5245 6598l22-17l-22-25l-22 18z" fill="#ffd8d8"/>
<path d="M5312 6638l22-16l-22-31l-22 17z" fill="#fee"/>
<path d="M5133 6547l23-4l-21-18l-24 4z" fill="#ffb7b7"/>
<path d="M5200 6585l23-11l-22-22l-23 11z" fill="#ffcece"/>
<path d="M5335 6670l21-15l-22-33l-22 16z" fill="#fffbfb"/>
<path d="M4952 6662l22-71l-21-12l-21 69z" fill="#fee"/>
<path d="M5268 6625l22-17l-23-27l-22 17z" fill="#ffe4e4"/>
<path d="M5088 6535l23-6l-21-15l-24 8z" fill="#ffa9a9"/>
<path d="M4997 6546l24-26l-21-11l-24 26z" fill="#faa"/>
<path d="M5042 6530l24-8l-21-12l-24 10z" fill="#ffa3a3"/>
<path d="M5155 6568l23-5l-22-20l-23 4z" fill="#ffbebe"/>
<path d="M4974 6591l23-45l-21-11l-23 44z" fill="#ffc3c3"/>
<path d="M5223 6610l22-12l-22-24l-23 11z" fill="#ffd8d8"/>
<path d="M5290 6654l22-16l-22-30l-22 17z" fill="#fff0f0"/>
<path d="M5313 6685l22-15l-23-32l-22 16z" fill="#fffbfb"/>
<path d="M5109 6552l24-5l-22-18l-23 6z" fill="#ffacac"/>
<path d="M4973 6676l22-73l-21-12l-22 71z" fill="#ffeded"/>
<path d="M5245 6638l23-13l-23-27l-22 12z" fill="#ffe4e4"/>
<path d="M5177 6591l23-6l-22-22l-23 5z" fill="#ffc8c8"/>
<path d="M5018 6557l24-27l-21-10l-24 26z" fill="#ffa8a8"/>
<path d="M5063 6543l25-8l-22-13l-24 8z" fill="#ffa2a2"/>
<path d="M4995 6603l23-46l-21-11l-23 45z" fill="#ffc1c1"/>
<path d="M5268 6668l22-14l-22-29l-23 13z" fill="#fff0f0"/>
<path d="M5200 6617l23-7l-23-25l-23 6z" fill="#ffd3d3"/>
<path d="M5132 6572l23-4l-22-21l-24 5z" fill="#ffb3b3"/>
<path d="M5291 6701l22-16l-23-31l-22 14z" fill="#fffbfb"/>
<path d="M4993 6691l23-75l-21-13l-22 73z" fill="#ffeded"/>
<path d="M5223 6647l22-9l-22-28l-23 7z" fill="#ffe0e0"/>
<path d="M5039 6569l24-26l-21-13l-24 27z" fill="#ffa6a6"/>
<path d="M5085 6559l24-7l-21-17l-25 8z" fill="#ffa3a3"/>
<path d="M5154 6595l23-4l-22-23l-23 4z" fill="#ffbdbd"/>
<path d="M5016 6616l23-47l-21-12l-23 46z" fill="#ffc0c0"/>
<path d="M5245 6680l23-12l-23-30l-22 9z" fill="#fee"/>
<path d="M5014 6705l23-75l-21-14l-23 75z" fill="#ffeded"/>
<path d="M5268 6716l23-15l-23-33l-23 12z" fill="#fffbfb"/>
<path d="M5177 6622l23-5l-23-26l-23 4z" fill="#ffc9c9"/>
<path d="M5107 6579l25-7l-23-20l-24 7z" fill="#ffa9a9"/>
<path d="M5061 6584l24-25l-22-16l-24 26z" fill="#ffa6a6"/>
<path d="M5037 6630l24-46l-22-15l-23 47z" fill="#ffbfbf"/>
<path d="M5199 6654l24-7l-23-30l-23 5z" fill="#ffd8d8"/>
<path d="M5130 6602l24-7l-22-23l-25 7z" fill="#ffb2b2"/>
<path d="M5222 6690l23-10l-22-33l-24 7z" fill="#ffe9e9"/>
<path d="M5036 6720l23-73l-22-17l-23 75z" fill="#ffeded"/>
<path d="M5083 6602l24-23l-22-20l-24 25z" fill="#faa"/>
<path d="M5245 6732l23-16l-23-36l-23 10z" fill="#fffafa"/>
<path d="M5153 6630l24-8l-23-27l-24 7z" fill="#ffbfbf"/>
<path d="M5059 6647l24-45l-22-18l-24 46z" fill="#ffc1c1"/>
<path d="M5106 6624l24-22l-23-23l-24 23z" fill="#ffb2b2"/>
<path d="M5176 6664l23-10l-22-32l-24 8z" fill="#ffd0d0"/>
<path d="M5058 6735l23-69l-22-19l-23 73z" fill="#fee"/>
<path d="M5199 6703l23-13l-23-36l-23 10z" fill="#ffe4e4"/>
<path d="M5222 6748l23-16l-23-42l-23 13z" fill="#fff8f8"/>
<path d="M5081 6666l25-42l-23-22l-24 45z" fill="#ffc6c6"/>
<path d="M5129 6650l24-20l-23-28l-24 22z" fill="#ffbebe"/>
<path d="M5080 6751l24-63l-23-22l-23 69z" fill="#fff1f1"/>
<path d="M5152 6682l24-18l-23-34l-24 20z" fill="#ffcfcf"/>
<path d="M5104 6688l25-38l-23-26l-25 42z" fill="#ffcece"/>
<path d="M5175 6720l24-17l-23-39l-24 18z" fill="#ffe3e3"/>
<path d="M5198 6765l24-17l-23-45l-24 17z" fill="#fff8f8"/>
<path d="M5103 6766l24-52l-23-26l-24 63z" fill="#fff4f4"/>
<path d="M5127 6714l25-32l-23-32l-25 38z" fill="#ffdada"/>
<path d="M5150 6745l25-25l-23-38l-25 32z" fill="#ffe9e9"/>
<path d="M5174 6781l24-16l-23-45l-25 25z" fill="#fff9f9"/>
<path d="M5126 6782l24-37l-23-31l-24 52z" fill="#fff9f9"/>
<path d="M5149 6798l25-17l-24-36l-24 37z" fill="#fffdfd"/>
</g>
<text x="426.5" y="601.5" font-size="6.9" text-anchor="middle" dominant-baseline="central" fill="#000" transform="rotate(-22 426.5 601.5)">60</text>
<text x="430.8" y="614.1" font-size="6.9" text-anchor="middle" dominant-baseline="central" fill="#000" transform="rotate(-22 430.8 614.1)">40</text>
<text x="433.2" y="627.2" font-size="6.9" text-anchor="middle" dominant-baseline="central" fill="#000" transform="rotate(-22 433.2 627.2)">20</text>
<text x="435.5" y="639.6" font-size="6.9" text-anchor="middle" dominant-baseline="central" fill="#000" transform="rotate(-22 435.5 639.6)">0</text>
<text x="439.1" y="650.6" font-size="6.9" text-anchor="middle" dominant-baseline="central" fill="#000" transform="rotate(-22 439.1 650.6)">−20</text>
<text x="441.5" y="660.6" font-size="6.9" text-anchor="middle" dominant-baseline="central" fill="#000" transform="rotate(-22 441.5 660.6)">−40</text>
<text x="442.7" y="671.4" font-size="6.9" text-anchor="middle" dominant-baseline="central" fill="#000" transform="rotate(-22 442.7 671.4)">−60</text>
<text x="445.1" y="677.3" font-size="6.9" text-anchor="middle" dominant-baseline="central" fill="#000" transform="rotate(-33 445.1 677.3)">20</text>
<text x="453.0" y="685.2" font-size="6.9" text-anchor="middle" dominant-baseline="central" fill="#000" transform="rotate(-33 453.0 685.2)">10</text>
<text x="461.8" y="693.3" font-size="6.9" text-anchor="middle" dominant-baseline="central" fill="#000" transform="rotate(-33 461.8 693.3)">5</text>
<text x="470.8" y="701.9" font-size="6.9" text-anchor="middle" dominant-baseline="central" fill="#000" transform="rotate(-33 470.8 701.9)">2.5</text>
<text x="480.1" y="710.7" font-size="6.9" text-anchor="middle" dominant-baseline="central" fill="#000" transform="rotate(-33 480.1 710.7)">1.25</text>
<text x="490.4" y="720.7" font-size="6.9" text-anchor="middle" dominant-baseline="central" fill="#000" transform="rotate(-33 490.4 720.7)">0.625</text>
<text x="502.3" y="730.3" font-size="6.9" text-anchor="middle" dominant-baseline="central" fill="#000" transform="rotate(-33 502.3 730.3)">0</text>
<text x="526.9" y="730.6" font-size="6.9" text-anchor="middle" dominant-baseline="central" fill="#000" transform="rotate(38 526.9 730.6)">0</text>
<text x="532.4" y="725.9" font-size="6.9" text-anchor="middle" dominant-baseline="central" fill="#000" transform="rotate(38 532.4 725.9)">2.4</text>
<text x="537.7" y="721.5" font-size="6.9" text-anchor="middle" dominant-baseline="central" fill="#000" transform="rotate(38 537.7 721.5)">4.7</text>
<text x="542.7" y="717.2" font-size="6.9" text-anchor="middle" dominant-baseline="central" fill="#000" transform="rotate(38 542.7 717.2)">9.4</text>
<text x="547.6" y="713.1" font-size="6.9" text-anchor="middle" dominant-baseline="central" fill="#000" transform="rotate(38 547.6 713.1)">10</text>
<text x="552.3" y="709.2" font-size="6.9" text-anchor="middle" dominant-baseline="central" fill="#000" transform="rotate(38 552.3 709.2)">18.8</text>
<text x="556.8" y="705.3" font-size="6.9" text-anchor="middle" dominant-baseline="central" fill="#000" transform="rotate(38 556.8 705.3)">20</text>
<text x="561.2" y="701.7" font-size="6.9" text-anchor="middle" dominant-baseline="central" fill="#000" transform="rotate(38 561.2 701.7)">37.5</text>
<text x="565.4" y="698.1" font-size="6.9" text-anchor="middle" dominant-baseline="central" fill="#000" transform="rotate(38 565.4 698.1)">40</text>
<text x="569.5" y="694.7" font-size="6.9" text-anchor="middle" dominant-baseline="central" fill="#000" transform="rotate(38 569.5 694.7)">75</text>
<text x="573.4" y="691.4" font-size="6.9" text-anchor="middle" dominant-baseline="central" fill="#000" transform="rotate(38 573.4 691.4)">80</text>
<text x="577.2" y="688.2" font-size="6.9" text-anchor="middle" dominant-baseline="central" fill="#000" transform="rotate(38 577.2 688.2)">150</text>
<text x="580.9" y="685.1" font-size="6.9" text-anchor="middle" dominant-baseline="central" fill="#000" transform="rotate(38 580.9 685.1)">160</text>
<text x="584.5" y="682.1" font-size="6.9" text-anchor="middle" dominant-baseline="central" fill="#000" transform="rotate(38 584.5 682.1)">300</text>
<text x="587.9" y="679.2" font-size="6.9" text-anchor="middle" dominant-baseline="central" fill="#000" transform="rotate(38 587.9 679.2)">320</text>
<text x="414.9" y="649.3" font-size="6.7" text-anchor="middle" dominant-baseline="central" fill="#000" transform="rotate(72 414.9 649.3)">Synergy Score</text>
<text x="452.0" y="713.7" font-size="6.8" text-anchor="middle" dominant-baseline="central" fill="#000" transform="rotate(45.8 452.0 713.7)">GSK126 (µM)</text>
<text x="577.3" y="712.6" font-size="7.0" text-anchor="middle" dominant-baseline="central" fill="#000" transform="rotate(-45 577.3 712.6)">Vismodegib (µM)</text>
</g>
</svg>
</body></html>
